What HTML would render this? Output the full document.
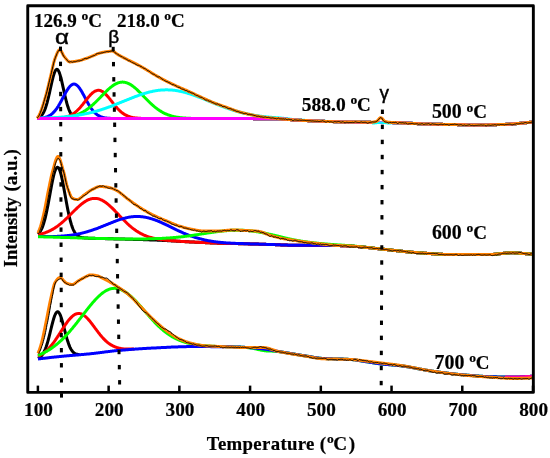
<!DOCTYPE html>
<html lang="en">
<head>
<meta charset="utf-8">
<title>H2-TPR profiles</title>
<style>
html,body{margin:0;padding:0;background:#fff;}
svg{display:block;}
text{font-family:"Liberation Serif","DejaVu Serif",serif;fill:#000;}
.b{font-weight:bold;stroke:#000;stroke-width:0.2px;}
.g{stroke:#000;stroke-width:0.45px;font-weight:normal;font-family:"Liberation Sans","DejaVu Sans",sans-serif;}
</style>
</head>
<body>
<svg width="550" height="458" viewBox="0 0 550 458">
<rect x="0" y="0" width="550" height="458" fill="#fff"/>
<g id="curves">
<path d="M37.0 118.0 L37.5 117.9 L38.0 117.8 L38.5 117.6 L39.0 117.4 L39.5 117.1 L40.0 116.8 L40.5 116.5 L41.0 116.0 L41.5 115.5 L42.0 114.9 L42.5 114.3 L43.0 113.5 L43.5 112.6 L44.0 111.6 L44.5 110.5 L45.0 109.3 L45.5 107.9 L46.0 106.4 L46.5 104.8 L47.0 103.1 L47.5 101.2 L48.0 99.2 L48.5 97.2 L49.0 95.0 L49.5 92.8 L50.0 90.5 L50.5 88.2 L51.0 85.9 L51.5 83.7 L52.0 81.5 L52.5 79.4 L53.0 77.4 L53.5 75.6 L54.0 74.0 L54.5 72.5 L55.0 71.4 L55.5 70.4 L56.0 69.8 L56.5 69.4 L57.0 69.3 L57.5 69.5 L58.0 70.0 L58.5 70.8 L59.0 71.8 L59.5 73.1 L60.0 74.6 L60.5 76.3 L61.0 78.2 L61.5 80.2 L62.0 82.3 L62.5 84.6 L63.0 86.8 L63.5 89.1 L64.0 91.4 L64.5 93.7 L65.0 95.9 L65.5 98.0 L66.0 100.0 L66.5 102.0 L67.0 103.8 L67.5 105.5 L68.0 107.1 L68.5 108.5 L69.0 109.8 L69.5 111.0 L70.0 112.0 L70.5 113.0 L71.0 113.8 L71.5 114.6 L72.0 115.2 L72.5 115.7 L73.0 116.2 L73.5 116.6 L74.0 117.0 L74.5 117.2 L75.0 117.5 L75.5 117.7 L76.0 117.8 L76.5 118.0 L77.0 118.1 L77.5 118.2 L78.0 118.2 L78.5 118.3 L79.0 118.4 L79.5 118.4 L80.0 118.4 L80.5 118.4 L81.0 118.5 L81.5 118.5 L82.0 118.5 L82.5 118.5 L83.0 118.5 L83.5 118.5 L84.0 118.5 L84.5 118.5 L85.0 118.5 L85.5 118.5 L86.0 118.5 L86.5 118.5 L87.0 118.5 L87.5 118.5 L88.0 118.5 L88.5 118.5 L89.0 118.5 L89.5 118.5 L90.0 118.5 L90.5 118.5 L91.0 118.5 L91.5 118.5 L92.0 118.5 L92.5 118.5 L93.0 118.5 L93.5 118.5 L94.0 118.5 L94.5 118.5 L95.0 118.5 L95.5 118.5 L96.0 118.5 L96.5 118.5 L97.0 118.5 L97.5 118.5 L98.0 118.5 L98.5 118.5 L99.0 118.5 L99.5 118.5 L100.0 118.5 L100.5 118.5 L101.0 118.5 L101.5 118.5 L102.0 118.5 L102.5 118.5 L103.0 118.5 L103.5 118.5 L104.0 118.5 L104.5 118.5 L105.0 118.5 L105.5 118.5 L106.0 118.5 L106.5 118.5 L107.0 118.5 L107.5 118.5 L108.0 118.5 L108.5 118.5 L109.0 118.5 L109.5 118.5 L110.0 118.5 L110.5 118.5 L111.0 118.5 L111.5 118.5 L112.0 118.5 L112.5 118.5 L113.0 118.5 L113.5 118.5 L114.0 118.5 L114.5 118.5 L115.0 118.5 L115.5 118.5 L116.0 118.5 L116.5 118.5 L117.0 118.5 L117.5 118.5 L118.0 118.5 L118.5 118.5 L119.0 118.5 L119.5 118.5 L120.0 118.5 L120.5 118.5 L121.0 118.5 L121.5 118.5 L122.0 118.5 L122.5 118.5 L123.0 118.5 L123.5 118.5 L124.0 118.5 L124.5 118.5 L125.0 118.5 L125.5 118.5 L126.0 118.5 L126.5 118.5 L127.0 118.5 L127.5 118.5 L128.0 118.5 L128.5 118.5 L129.0 118.5 L129.5 118.5 L130.0 118.5 L130.5 118.5 L131.0 118.5 L131.5 118.5 L132.0 118.5 L132.5 118.5 L133.0 118.5 L133.5 118.5 L134.0 118.5 L134.5 118.5 L135.0 118.5 L135.5 118.5 L136.0 118.5 L136.5 118.5 L137.0 118.5 L137.5 118.5 L138.0 118.5 L138.5 118.5 L139.0 118.5 L139.5 118.5 L140.0 118.5 L140.5 118.5 L141.0 118.5 L141.5 118.5 L142.0 118.5 L142.5 118.5 L143.0 118.5 L143.5 118.5 L144.0 118.5 L144.5 118.5 L145.0 118.5 L145.5 118.5 L146.0 118.5 L146.5 118.5 L147.0 118.5 L147.5 118.5 L148.0 118.5 L148.5 118.5 L149.0 118.5 L149.5 118.5 L150.0 118.5 L150.5 118.5 L151.0 118.5 L151.5 118.5 L152.0 118.5 L152.5 118.5 L153.0 118.5 L153.5 118.5 L154.0 118.5 L154.5 118.5 L155.0 118.5 L155.5 118.5 L156.0 118.5 L156.5 118.5 L157.0 118.5 L157.5 118.5 L158.0 118.5 L158.5 118.5 L159.0 118.5 L159.5 118.5 L160.0 118.5 L160.5 118.5 L161.0 118.5 L161.5 118.5 L162.0 118.5 L162.5 118.5 L163.0 118.5 L163.5 118.5 L164.0 118.5 L164.5 118.5 L165.0 118.5 L165.5 118.5 L166.0 118.5 L166.5 118.5 L167.0 118.5 L167.5 118.5 L168.0 118.5 L168.5 118.5 L169.0 118.5 L169.5 118.5 L170.0 118.5 L170.5 118.5 L171.0 118.5 L171.5 118.5 L172.0 118.5 L172.5 118.5 L173.0 118.5 L173.5 118.5 L174.0 118.5 L174.5 118.5 L175.0 118.5 L175.5 118.5 L176.0 118.5 L176.5 118.5 L177.0 118.5 L177.5 118.5 L178.0 118.5 L178.5 118.5 L179.0 118.5 L179.5 118.5 L180.0 118.5 L180.5 118.5 L181.0 118.6 L181.5 118.6 L182.0 118.6 L182.5 118.6 L183.0 118.6 L183.5 118.6 L184.0 118.6 L184.5 118.6 L185.0 118.6 L185.5 118.6 L186.0 118.6 L186.5 118.6 L187.0 118.6 L187.5 118.6 L188.0 118.6 L188.5 118.6 L189.0 118.6 L189.5 118.6 L190.0 118.6 L190.5 118.6 L191.0 118.6 L191.5 118.6 L192.0 118.6 L192.5 118.6 L193.0 118.6 L193.5 118.6 L194.0 118.6 L194.5 118.6 L195.0 118.6 L195.5 118.6 L196.0 118.6 L196.5 118.6 L197.0 118.6 L197.5 118.6 L198.0 118.6 L198.5 118.6 L199.0 118.6 L199.5 118.6 L200.0 118.6 L200.5 118.6 L201.0 118.6 L201.5 118.6 L202.0 118.6 L202.5 118.6 L203.0 118.6 L203.5 118.6 L204.0 118.6 L204.5 118.6 L205.0 118.6 L205.5 118.6 L206.0 118.6 L206.5 118.6 L207.0 118.6 L207.5 118.6 L208.0 118.6 L208.5 118.6 L209.0 118.6 L209.5 118.6 L210.0 118.6 L210.5 118.6 L211.0 118.6 L211.5 118.6 L212.0 118.6 L212.5 118.6 L213.0 118.6 L213.5 118.6 L214.0 118.6 L214.5 118.6 L215.0 118.6 L215.5 118.6 L216.0 118.6 L216.5 118.6 L217.0 118.6 L217.5 118.6 L218.0 118.6 L218.5 118.6 L219.0 118.6 L219.5 118.6 L220.0 118.6 L220.5 118.6 L221.0 118.6 L221.5 118.6 L222.0 118.6 L222.5 118.6 L223.0 118.6 L223.5 118.6 L224.0 118.6 L224.5 118.6 L225.0 118.6 L225.5 118.6 L226.0 118.6 L226.5 118.6 L227.0 118.6 L227.5 118.6 L228.0 118.6 L228.5 118.6 L229.0 118.6 L229.5 118.6 L230.0 118.6 L230.5 118.6 L231.0 118.6 L231.5 118.6 L232.0 118.6 L232.5 118.6 L233.0 118.6 L233.5 118.6 L234.0 118.6 L234.5 118.6 L235.0 118.6 L235.5 118.6 L236.0 118.6 L236.5 118.6 L237.0 118.6 L237.5 118.6 L238.0 118.6 L238.5 118.6 L239.0 118.6 L239.5 118.6 L240.0 118.6 L240.5 118.6 L241.0 118.6 L241.5 118.6 L242.0 118.6 L242.5 118.6 L243.0 118.6 L243.5 118.6 L244.0 118.6 L244.5 118.6 L245.0 118.6 L245.5 118.6 L246.0 118.6 L246.5 118.6 L247.0 118.6 L247.5 118.6 L248.0 118.6 L248.5 118.6 L249.0 118.6 L249.5 118.6 L250.0 118.6 L250.5 118.6 L251.0 118.6 L251.5 118.6 L252.0 118.6 L252.5 118.6 L253.0 118.6 L253.5 118.7 L254.0 118.7 L254.5 118.7 L255.0 118.7 L255.5 118.7 L256.0 118.7 L256.5 118.7 L257.0 118.7 L257.5 118.7 L258.0 118.7 L258.5 118.7 L259.0 118.7 L259.5 118.7 L260.0 118.7 L260.5 118.7 L261.0 118.7 L261.5 118.7 L262.0 118.7 L262.5 118.7 L263.0 118.7 L263.5 118.7 L264.0 118.7 L264.5 118.7 L265.0 118.7 L265.5 118.7 L266.0 118.7 L266.5 118.7 L267.0 118.7 L267.5 118.7 L268.0 118.7 L268.5 118.7 L269.0 118.7 L269.5 118.7 L270.0 118.7 L270.5 118.7 L271.0 118.7 L271.5 118.7 L272.0 118.7 L272.5 118.7 L273.0 118.7 L273.5 118.7 L274.0 118.7 L274.5 118.7 L275.0 118.7 L275.5 118.7 L276.0 118.7 L276.5 118.7 L277.0 118.7 L277.5 118.7 L278.0 118.7 L278.5 118.7 L279.0 118.7 L279.5 118.7 L280.0 118.8 L280.5 118.8 L281.0 118.8 L281.5 118.8 L282.0 118.9 L282.5 118.9 L283.0 118.9 L283.5 119.0 L284.0 119.0 L284.5 119.1 L285.0 119.1 L285.5 119.1 L286.0 119.2 L286.5 119.2 L287.0 119.3 L287.5 119.3 L288.0 119.4 L288.5 119.4 L289.0 119.5 L289.5 119.5 L290.0 119.6 L290.5 119.6 L291.0 119.7 L291.5 119.7 L292.0 119.7 L292.5 119.8 L293.0 119.8 L293.5 119.9 L294.0 119.9 L294.5 119.9 L295.0 120.0 L295.5 120.0 L296.0 120.0 L296.5 120.1 L297.0 120.1 L297.5 120.1 L298.0 120.1 L298.5 120.2 L299.0 120.2 L299.5 120.2 L300.0 120.3 L300.5 120.3 L301.0 120.3 L301.5 120.3 L302.0 120.4 L302.5 120.4 L303.0 120.4 L303.5 120.4 L304.0 120.5 L304.5 120.5 L305.0 120.5 L305.5 120.5 L306.0 120.6 L306.5 120.6 L307.0 120.6 L307.5 120.6 L308.0 120.7 L308.5 120.7 L309.0 120.7 L309.5 120.7 L310.0 120.7 L310.5 120.8 L311.0 120.8 L311.5 120.8 L312.0 120.8 L312.5 120.9 L313.0 120.9 L313.5 120.9 L314.0 120.9 L314.5 120.9 L315.0 121.0 L315.5 121.0 L316.0 121.0 L316.5 121.0 L317.0 121.0 L317.5 121.1 L318.0 121.1 L318.5 121.1 L319.0 121.1 L319.5 121.1 L320.0 121.2 L320.5 121.2 L321.0 121.2 L321.5 121.2 L322.0 121.2 L322.5 121.3 L323.0 121.3 L323.5 121.3 L324.0 121.3 L324.5 121.3 L325.0 121.4 L325.5 121.4 L326.0 121.4 L326.5 121.4 L327.0 121.4 L327.5 121.4 L328.0 121.5 L328.5 121.5 L329.0 121.5 L329.5 121.5 L330.0 121.5 L330.5 121.5 L331.0 121.6 L331.5 121.6 L332.0 121.6 L332.5 121.6 L333.0 121.6 L333.5 121.6 L334.0 121.7 L334.5 121.7 L335.0 121.7 L335.5 121.7 L336.0 121.7 L336.5 121.7 L337.0 121.8 L337.5 121.8 L338.0 121.8 L338.5 121.8 L339.0 121.8 L339.5 121.8 L340.0 121.8 L340.5 121.9 L341.0 121.9 L341.5 121.9 L342.0 121.9 L342.5 121.9 L343.0 121.9 L343.5 121.9 L344.0 121.9 L344.5 122.0 L345.0 122.0 L345.5 122.0 L346.0 122.0 L346.5 122.0 L347.0 122.0 L347.5 122.0 L348.0 122.0 L348.5 122.0 L349.0 122.1 L349.5 122.1 L350.0 122.1 L350.5 122.1 L351.0 122.1 L351.5 122.1 L352.0 122.1 L352.5 122.1 L353.0 122.1 L353.5 122.1 L354.0 122.1 L354.5 122.1 L355.0 122.2 L355.5 122.2 L356.0 122.2 L356.5 122.2 L357.0 122.2 L357.5 122.2 L358.0 122.2 L358.5 122.2 L359.0 122.2 L359.5 122.2 L360.0 122.2 L360.5 122.2 L361.0 122.2 L361.5 122.2 L362.0 122.3 L362.5 122.3 L363.0 122.3 L363.5 122.3 L364.0 122.3 L364.5 122.3 L365.0 122.3 L365.5 122.3 L366.0 122.3 L366.5 122.3 L367.0 122.3 L367.5 122.3 L368.0 122.3 L368.5 122.3 L369.0 122.3 L369.5 122.3 L370.0 122.3 L370.5 122.3 L371.0 122.4 L371.5 122.4 L372.0 122.4 L372.5 122.4 L373.0 122.4 L373.5 122.4 L374.0 122.4 L374.5 122.4 L375.0 122.4 L375.5 122.4 L376.0 122.4 L376.5 122.4 L377.0 122.4 L377.5 122.4 L378.0 122.4 L378.5 122.4 L379.0 122.4 L379.5 122.5 L380.0 122.5 L380.5 122.5 L381.0 122.5 L381.5 122.5 L382.0 122.5 L382.5 122.5 L383.0 122.5 L383.5 122.5 L384.0 122.5 L384.5 122.5 L385.0 122.5 L385.5 122.5 L386.0 122.5 L386.5 122.5 L387.0 122.6 L387.5 122.6 L388.0 122.6 L388.5 122.6 L389.0 122.6 L389.5 122.6 L390.0 122.6 L390.5 122.6 L391.0 122.6 L391.5 122.6 L392.0 122.6 L392.5 122.6 L393.0 122.7 L393.5 122.7 L394.0 122.7 L394.5 122.7 L395.0 122.7 L395.5 122.7 L396.0 122.7 L396.5 122.7 L397.0 122.7 L397.5 122.7 L398.0 122.8 L398.5 122.8 L399.0 122.8 L399.5 122.8 L400.0 122.8 L400.5 122.8 L401.0 122.8 L401.5 122.8 L402.0 122.9 L402.5 122.9 L403.0 122.9 L403.5 122.9 L404.0 122.9 L404.5 123.0 L405.0 123.0 L405.5 123.0 L406.0 123.0 L406.5 123.0 L407.0 123.1 L407.5 123.1 L408.0 123.1 L408.5 123.1 L409.0 123.2 L409.5 123.2 L410.0 123.2 L410.5 123.3 L411.0 123.3 L411.5 123.3 L412.0 123.3 L412.5 123.4 L413.0 123.4 L413.5 123.4 L414.0 123.5 L414.5 123.5 L415.0 123.5 L415.5 123.5 L416.0 123.6 L416.5 123.6 L417.0 123.6 L417.5 123.7 L418.0 123.7 L418.5 123.7 L419.0 123.7 L419.5 123.8 L420.0 123.8 L420.5 123.8 L421.0 123.8 L421.5 123.9 L422.0 123.9 L422.5 123.9 L423.0 123.9 L423.5 123.9 L424.0 124.0 L424.5 124.0 L425.0 124.0 L425.5 124.0 L426.0 124.0 L426.5 124.0 L427.0 124.0 L427.5 124.1 L428.0 124.1 L428.5 124.1 L429.0 124.1 L429.5 124.1 L430.0 124.1 L430.5 124.1 L431.0 124.1 L431.5 124.1 L432.0 124.2 L432.5 124.2 L433.0 124.2 L433.5 124.2 L434.0 124.2 L434.5 124.2 L435.0 124.2 L435.5 124.2 L436.0 124.2 L436.5 124.2 L437.0 124.3 L437.5 124.3 L438.0 124.3 L438.5 124.3 L439.0 124.3 L439.5 124.3 L440.0 124.3 L440.5 124.3 L441.0 124.3 L441.5 124.3 L442.0 124.3 L442.5 124.3 L443.0 124.4 L443.5 124.4 L444.0 124.4 L444.5 124.4 L445.0 124.4 L445.5 124.4 L446.0 124.4 L446.5 124.4 L447.0 124.4 L447.5 124.4 L448.0 124.4 L448.5 124.5 L449.0 124.5 L449.5 124.5 L450.0 124.5 L450.5 124.5 L451.0 124.5 L451.5 124.5 L452.0 124.5 L452.5 124.5 L453.0 124.5 L453.5 124.6 L454.0 124.6 L454.5 124.6 L455.0 124.6 L455.5 124.6 L456.0 124.6 L456.5 124.6 L457.0 124.6 L457.5 124.7 L458.0 124.7 L458.5 124.7 L459.0 124.7 L459.5 124.7 L460.0 124.7 L460.5 124.7 L461.0 124.7 L461.5 124.8 L462.0 124.8 L462.5 124.8 L463.0 124.8 L463.5 124.8 L464.0 124.8 L464.5 124.8 L465.0 124.8 L465.5 124.9 L466.0 124.9 L466.5 124.9 L467.0 124.9 L467.5 124.9 L468.0 124.9 L468.5 124.9 L469.0 124.9 L469.5 124.9 L470.0 124.9 L470.5 125.0 L471.0 125.0 L471.5 125.0 L472.0 125.0 L472.5 125.0 L473.0 125.0 L473.5 125.0 L474.0 125.0 L474.5 125.0 L475.0 125.0 L475.5 125.0 L476.0 125.0 L476.5 125.0 L477.0 125.0 L477.5 125.0 L478.0 125.0 L478.5 125.0 L479.0 125.0 L479.5 125.0 L480.0 125.0 L480.5 125.0 L481.0 125.0 L481.5 125.0 L482.0 125.0 L482.5 125.0 L483.0 125.0 L483.5 124.9 L484.0 124.9 L484.5 124.9 L485.0 124.9 L485.5 124.9 L486.0 124.9 L486.5 124.9 L487.0 124.9 L487.5 124.9 L488.0 124.9 L488.5 124.9 L489.0 124.9 L489.5 124.8 L490.0 124.8 L490.5 124.8 L491.0 124.8 L491.5 124.8 L492.0 124.8 L492.5 124.8 L493.0 124.8 L493.5 124.7 L494.0 124.7 L494.5 124.7 L495.0 124.7 L495.5 124.7 L496.0 124.7 L496.5 124.7 L497.0 124.6 L497.5 124.6 L498.0 124.6 L498.5 124.6 L499.0 124.6 L499.5 124.6 L500.0 124.6 L500.5 124.5 L501.0 124.5 L501.5 124.5 L502.0 124.5 L502.5 124.5 L503.0 124.5 L503.5 124.4 L504.0 124.4 L504.5 124.4 L505.0 124.4 L505.5 124.4 L506.0 124.3 L506.5 124.3 L507.0 124.3 L507.5 124.3 L508.0 124.2 L508.5 124.2 L509.0 124.2 L509.5 124.1 L510.0 124.1 L510.5 124.1 L511.0 124.0 L511.5 124.0 L512.0 124.0 L512.5 123.9 L513.0 123.9 L513.5 123.9 L514.0 123.8 L514.5 123.8 L515.0 123.7 L515.5 123.7 L516.0 123.7 L516.5 123.6 L517.0 123.6 L517.5 123.5 L518.0 123.5 L518.5 123.5 L519.0 123.4 L519.5 123.4 L520.0 123.3 L520.5 123.3 L521.0 123.2 L521.5 123.2 L522.0 123.1 L522.5 123.1 L523.0 123.0 L523.5 123.0 L524.0 122.9 L524.5 122.9 L525.0 122.8 L525.5 122.8 L526.0 122.7 L526.5 122.7 L527.0 122.6 L527.5 122.6 L528.0 122.5 L528.5 122.4 L529.0 122.4 L529.5 122.3 L530.0 122.3 L530.5 122.2 L531.0 122.2 L531.5 122.1 L532.0 122.0 L532.4 122.0" stroke="#000000" stroke-width="3.0" fill="none" stroke-linejoin="round" stroke-linecap="butt" />
<path d="M37.0 118.4 L37.5 118.4 L38.0 118.3 L38.5 118.3 L39.0 118.3 L39.5 118.2 L40.0 118.2 L40.5 118.2 L41.0 118.1 L41.5 118.1 L42.0 118.0 L42.5 117.9 L43.0 117.9 L43.5 117.8 L44.0 117.7 L44.5 117.6 L45.0 117.4 L45.5 117.3 L46.0 117.2 L46.5 117.0 L47.0 116.8 L47.5 116.6 L48.0 116.4 L48.5 116.2 L49.0 115.9 L49.5 115.6 L50.0 115.3 L50.5 115.0 L51.0 114.6 L51.5 114.3 L52.0 113.8 L52.5 113.4 L53.0 112.9 L53.5 112.4 L54.0 111.9 L54.5 111.4 L55.0 110.8 L55.5 110.1 L56.0 109.5 L56.5 108.8 L57.0 108.1 L57.5 107.3 L58.0 106.6 L58.5 105.8 L59.0 104.9 L59.5 104.1 L60.0 103.2 L60.5 102.3 L61.0 101.4 L61.5 100.5 L62.0 99.5 L62.5 98.6 L63.0 97.6 L63.5 96.7 L64.0 95.7 L64.5 94.8 L65.0 93.9 L65.5 93.0 L66.0 92.1 L66.5 91.2 L67.0 90.4 L67.5 89.6 L68.0 88.9 L68.5 88.1 L69.0 87.5 L69.5 86.9 L70.0 86.3 L70.5 85.8 L71.0 85.4 L71.5 85.0 L72.0 84.7 L72.5 84.4 L73.0 84.2 L73.5 84.1 L74.0 84.1 L74.5 84.1 L75.0 84.2 L75.5 84.4 L76.0 84.7 L76.5 85.0 L77.0 85.4 L77.5 85.8 L78.0 86.3 L78.5 86.9 L79.0 87.5 L79.5 88.1 L80.0 88.9 L80.5 89.6 L81.0 90.4 L81.5 91.2 L82.0 92.1 L82.5 93.0 L83.0 93.9 L83.5 94.8 L84.0 95.7 L84.5 96.7 L85.0 97.6 L85.5 98.6 L86.0 99.5 L86.5 100.5 L87.0 101.4 L87.5 102.3 L88.0 103.2 L88.5 104.1 L89.0 104.9 L89.5 105.8 L90.0 106.6 L90.5 107.3 L91.0 108.1 L91.5 108.8 L92.0 109.5 L92.5 110.1 L93.0 110.8 L93.5 111.4 L94.0 111.9 L94.5 112.4 L95.0 112.9 L95.5 113.4 L96.0 113.8 L96.5 114.3 L97.0 114.6 L97.5 115.0 L98.0 115.3 L98.5 115.6 L99.0 115.9 L99.5 116.2 L100.0 116.4 L100.5 116.6 L101.0 116.8 L101.5 117.0 L102.0 117.2 L102.5 117.3 L103.0 117.4 L103.5 117.6 L104.0 117.7 L104.5 117.8 L105.0 117.9 L105.5 117.9 L106.0 118.0 L106.5 118.1 L107.0 118.1 L107.5 118.2 L108.0 118.2 L108.5 118.3 L109.0 118.3 L109.5 118.3 L110.0 118.3 L110.5 118.4 L111.0 118.4 L111.5 118.4 L112.0 118.4 L112.5 118.4 L113.0 118.4 L113.5 118.5 L114.0 118.5 L114.5 118.5 L115.0 118.5 L115.5 118.5 L116.0 118.5 L116.5 118.5 L117.0 118.5 L117.5 118.5 L118.0 118.5 L118.5 118.5 L119.0 118.5 L119.5 118.5 L120.0 118.5 L120.5 118.5 L121.0 118.5 L121.5 118.5 L122.0 118.5 L122.5 118.5 L123.0 118.5 L123.5 118.5 L124.0 118.5 L124.5 118.5 L125.0 118.5 L125.5 118.5 L126.0 118.5 L126.5 118.5 L127.0 118.5 L127.5 118.5 L128.0 118.5 L128.5 118.5 L129.0 118.5 L129.5 118.5 L130.0 118.5 L130.5 118.5 L131.0 118.5 L131.5 118.5 L132.0 118.5 L132.5 118.5 L133.0 118.5 L133.5 118.5 L134.0 118.5 L134.5 118.5 L135.0 118.5 L135.5 118.5 L136.0 118.5 L136.5 118.5 L137.0 118.5 L137.5 118.5 L138.0 118.5 L138.5 118.5 L139.0 118.5 L139.5 118.5 L140.0 118.5 L140.5 118.5 L141.0 118.5 L141.5 118.5 L142.0 118.5 L142.5 118.5 L143.0 118.5 L143.5 118.5 L144.0 118.5 L144.5 118.5 L145.0 118.5 L145.5 118.5 L146.0 118.5 L146.5 118.5 L147.0 118.5 L147.5 118.5 L148.0 118.5 L148.5 118.5 L149.0 118.5 L149.5 118.5 L150.0 118.5 L150.5 118.5 L151.0 118.5 L151.5 118.5 L152.0 118.5 L152.5 118.5 L153.0 118.5 L153.5 118.5 L154.0 118.5 L154.5 118.5 L155.0 118.5 L155.5 118.5 L156.0 118.5 L156.5 118.5 L157.0 118.5 L157.5 118.5 L158.0 118.5 L158.5 118.5 L159.0 118.5 L159.5 118.5 L160.0 118.5 L160.5 118.5 L161.0 118.5 L161.5 118.5 L162.0 118.5 L162.5 118.5 L163.0 118.5 L163.5 118.5 L164.0 118.5 L164.5 118.5 L165.0 118.5 L165.5 118.5 L166.0 118.5 L166.5 118.5 L167.0 118.5 L167.5 118.5 L168.0 118.5 L168.5 118.5 L169.0 118.5 L169.5 118.5 L170.0 118.5 L170.5 118.5 L171.0 118.5 L171.5 118.5 L172.0 118.5 L172.5 118.5 L173.0 118.5 L173.5 118.5 L174.0 118.5 L174.5 118.5 L175.0 118.5 L175.5 118.5 L176.0 118.5 L176.5 118.5 L177.0 118.5 L177.5 118.5 L178.0 118.5 L178.5 118.5 L179.0 118.5 L179.5 118.5 L180.0 118.5 L180.5 118.5 L181.0 118.6 L181.5 118.6 L182.0 118.6 L182.5 118.6 L183.0 118.6 L183.5 118.6 L184.0 118.6 L184.5 118.6 L185.0 118.6 L185.5 118.6 L186.0 118.6 L186.5 118.6 L187.0 118.6 L187.5 118.6 L188.0 118.6 L188.5 118.6 L189.0 118.6 L189.5 118.6 L190.0 118.6 L190.5 118.6 L191.0 118.6 L191.5 118.6 L192.0 118.6 L192.5 118.6 L193.0 118.6 L193.5 118.6 L194.0 118.6 L194.5 118.6 L195.0 118.6 L195.5 118.6 L196.0 118.6 L196.5 118.6 L197.0 118.6 L197.5 118.6 L198.0 118.6 L198.5 118.6 L199.0 118.6 L199.5 118.6 L200.0 118.6 L200.5 118.6 L201.0 118.6 L201.5 118.6 L202.0 118.6 L202.5 118.6 L203.0 118.6 L203.5 118.6 L204.0 118.6 L204.5 118.6 L205.0 118.6 L205.5 118.6 L206.0 118.6 L206.5 118.6 L207.0 118.6 L207.5 118.6 L208.0 118.6 L208.5 118.6 L209.0 118.6 L209.5 118.6 L210.0 118.6 L210.5 118.6 L211.0 118.6 L211.5 118.6 L212.0 118.6 L212.5 118.6 L213.0 118.6 L213.5 118.6 L214.0 118.6 L214.5 118.6 L215.0 118.6 L215.5 118.6 L216.0 118.6 L216.5 118.6 L217.0 118.6 L217.5 118.6 L218.0 118.6 L218.5 118.6 L219.0 118.6 L219.5 118.6 L220.0 118.6 L220.5 118.6 L221.0 118.6 L221.5 118.6 L222.0 118.6 L222.5 118.6 L223.0 118.6 L223.5 118.6 L224.0 118.6 L224.5 118.6 L225.0 118.6 L225.5 118.6 L226.0 118.6 L226.5 118.6 L227.0 118.6 L227.5 118.6 L228.0 118.6 L228.5 118.6 L229.0 118.6 L229.5 118.6 L230.0 118.6 L230.5 118.6 L231.0 118.6 L231.5 118.6 L232.0 118.6 L232.5 118.6 L233.0 118.6 L233.5 118.6 L234.0 118.6 L234.5 118.6 L235.0 118.6 L235.5 118.6 L236.0 118.6 L236.5 118.6 L237.0 118.6 L237.5 118.6 L238.0 118.6 L238.5 118.6 L239.0 118.6 L239.5 118.6 L240.0 118.6 L240.5 118.6 L241.0 118.6 L241.5 118.6 L242.0 118.6 L242.5 118.6 L243.0 118.6 L243.5 118.6 L244.0 118.6 L244.5 118.6 L245.0 118.6 L245.5 118.6 L246.0 118.6 L246.5 118.6 L247.0 118.6 L247.5 118.6 L248.0 118.6 L248.5 118.6 L249.0 118.6 L249.5 118.6 L250.0 118.6 L250.5 118.6 L251.0 118.6 L251.5 118.6 L252.0 118.6 L252.5 118.6 L253.0 118.6 L253.5 118.7 L254.0 118.7 L254.5 118.7 L255.0 118.7 L255.5 118.7 L256.0 118.7 L256.5 118.7 L257.0 118.7 L257.5 118.7 L258.0 118.7 L258.5 118.7 L259.0 118.7 L259.5 118.7 L260.0 118.7 L260.5 118.7 L261.0 118.7 L261.5 118.7 L262.0 118.7 L262.5 118.7 L263.0 118.7 L263.5 118.7 L264.0 118.7 L264.5 118.7 L265.0 118.7 L265.5 118.7 L266.0 118.7 L266.5 118.7 L267.0 118.7 L267.5 118.7 L268.0 118.7 L268.5 118.7 L269.0 118.7 L269.5 118.7 L270.0 118.7 L270.5 118.7 L271.0 118.7 L271.5 118.7 L272.0 118.7 L272.5 118.7 L273.0 118.7 L273.5 118.7 L274.0 118.7 L274.5 118.7 L275.0 118.7 L275.5 118.7 L276.0 118.7 L276.5 118.7 L277.0 118.7 L277.5 118.7 L278.0 118.7 L278.5 118.7 L279.0 118.7 L279.5 118.7 L280.0 118.8 L280.5 118.8 L281.0 118.8 L281.5 118.8 L282.0 118.9 L282.5 118.9 L283.0 118.9 L283.5 119.0 L284.0 119.0 L284.5 119.1 L285.0 119.1 L285.5 119.1 L286.0 119.2 L286.5 119.2 L287.0 119.3 L287.5 119.3 L288.0 119.4 L288.5 119.4 L289.0 119.5 L289.5 119.5 L290.0 119.6 L290.5 119.6 L291.0 119.7 L291.5 119.7 L292.0 119.7 L292.5 119.8 L293.0 119.8 L293.5 119.9 L294.0 119.9 L294.5 119.9 L295.0 120.0 L295.5 120.0 L296.0 120.0 L296.5 120.1 L297.0 120.1 L297.5 120.1 L298.0 120.1 L298.5 120.2 L299.0 120.2 L299.5 120.2 L300.0 120.3 L300.5 120.3 L301.0 120.3 L301.5 120.3 L302.0 120.4 L302.5 120.4 L303.0 120.4 L303.5 120.4 L304.0 120.5 L304.5 120.5 L305.0 120.5 L305.5 120.5 L306.0 120.6 L306.5 120.6 L307.0 120.6 L307.5 120.6 L308.0 120.7 L308.5 120.7 L309.0 120.7 L309.5 120.7 L310.0 120.7 L310.5 120.8 L311.0 120.8 L311.5 120.8 L312.0 120.8 L312.5 120.9 L313.0 120.9 L313.5 120.9 L314.0 120.9 L314.5 120.9 L315.0 121.0 L315.5 121.0 L316.0 121.0 L316.5 121.0 L317.0 121.0 L317.5 121.1 L318.0 121.1 L318.5 121.1 L319.0 121.1 L319.5 121.1 L320.0 121.2 L320.5 121.2 L321.0 121.2 L321.5 121.2 L322.0 121.2 L322.5 121.3 L323.0 121.3 L323.5 121.3 L324.0 121.3 L324.5 121.3 L325.0 121.4 L325.5 121.4 L326.0 121.4 L326.5 121.4 L327.0 121.4 L327.5 121.4 L328.0 121.5 L328.5 121.5 L329.0 121.5 L329.5 121.5 L330.0 121.5 L330.5 121.5 L331.0 121.6 L331.5 121.6 L332.0 121.6 L332.5 121.6 L333.0 121.6 L333.5 121.6 L334.0 121.7 L334.5 121.7 L335.0 121.7 L335.5 121.7 L336.0 121.7 L336.5 121.7 L337.0 121.8 L337.5 121.8 L338.0 121.8 L338.5 121.8 L339.0 121.8 L339.5 121.8 L340.0 121.8 L340.5 121.9 L341.0 121.9 L341.5 121.9 L342.0 121.9 L342.5 121.9 L343.0 121.9 L343.5 121.9 L344.0 121.9 L344.5 122.0 L345.0 122.0 L345.5 122.0 L346.0 122.0 L346.5 122.0 L347.0 122.0 L347.5 122.0 L348.0 122.0 L348.5 122.0 L349.0 122.1 L349.5 122.1 L350.0 122.1 L350.5 122.1 L351.0 122.1 L351.5 122.1 L352.0 122.1 L352.5 122.1 L353.0 122.1 L353.5 122.1 L354.0 122.1 L354.5 122.1 L355.0 122.2 L355.5 122.2 L356.0 122.2 L356.5 122.2 L357.0 122.2 L357.5 122.2 L358.0 122.2 L358.5 122.2 L359.0 122.2 L359.5 122.2 L360.0 122.2 L360.5 122.2 L361.0 122.2 L361.5 122.2 L362.0 122.3 L362.5 122.3 L363.0 122.3 L363.5 122.3 L364.0 122.3 L364.5 122.3 L365.0 122.3 L365.5 122.3 L366.0 122.3 L366.5 122.3 L367.0 122.3 L367.5 122.3 L368.0 122.3 L368.5 122.3 L369.0 122.3 L369.5 122.3 L370.0 122.3 L370.5 122.3 L371.0 122.4 L371.5 122.4 L372.0 122.4 L372.5 122.4 L373.0 122.4 L373.5 122.4 L374.0 122.4 L374.5 122.4 L375.0 122.4 L375.5 122.4 L376.0 122.4 L376.5 122.4 L377.0 122.4 L377.5 122.4 L378.0 122.4 L378.5 122.4 L379.0 122.4 L379.5 122.5 L380.0 122.5 L380.5 122.5 L381.0 122.5 L381.5 122.5 L382.0 122.5 L382.5 122.5 L383.0 122.5 L383.5 122.5 L384.0 122.5 L384.5 122.5 L385.0 122.5 L385.5 122.5 L386.0 122.5 L386.5 122.5 L387.0 122.6 L387.5 122.6 L388.0 122.6 L388.5 122.6 L389.0 122.6 L389.5 122.6 L390.0 122.6 L390.5 122.6 L391.0 122.6 L391.5 122.6 L392.0 122.6 L392.5 122.6 L393.0 122.7 L393.5 122.7 L394.0 122.7 L394.5 122.7 L395.0 122.7 L395.5 122.7 L396.0 122.7 L396.5 122.7 L397.0 122.7 L397.5 122.7 L398.0 122.8 L398.5 122.8 L399.0 122.8 L399.5 122.8 L400.0 122.8 L400.5 122.8 L401.0 122.8 L401.5 122.8 L402.0 122.9 L402.5 122.9 L403.0 122.9 L403.5 122.9 L404.0 122.9 L404.5 123.0 L405.0 123.0 L405.5 123.0 L406.0 123.0 L406.5 123.0 L407.0 123.1 L407.5 123.1 L408.0 123.1 L408.5 123.1 L409.0 123.2 L409.5 123.2 L410.0 123.2 L410.5 123.3 L411.0 123.3 L411.5 123.3 L412.0 123.3 L412.5 123.4 L413.0 123.4 L413.5 123.4 L414.0 123.5 L414.5 123.5 L415.0 123.5 L415.5 123.5 L416.0 123.6 L416.5 123.6 L417.0 123.6 L417.5 123.7 L418.0 123.7 L418.5 123.7 L419.0 123.7 L419.5 123.8 L420.0 123.8 L420.5 123.8 L421.0 123.8 L421.5 123.9 L422.0 123.9 L422.5 123.9 L423.0 123.9 L423.5 123.9 L424.0 124.0 L424.5 124.0 L425.0 124.0 L425.5 124.0 L426.0 124.0 L426.5 124.0 L427.0 124.0 L427.5 124.1 L428.0 124.1 L428.5 124.1 L429.0 124.1 L429.5 124.1 L430.0 124.1 L430.5 124.1 L431.0 124.1 L431.5 124.1 L432.0 124.2 L432.5 124.2 L433.0 124.2 L433.5 124.2 L434.0 124.2 L434.5 124.2 L435.0 124.2 L435.5 124.2 L436.0 124.2 L436.5 124.2 L437.0 124.3 L437.5 124.3 L438.0 124.3 L438.5 124.3 L439.0 124.3 L439.5 124.3 L440.0 124.3 L440.5 124.3 L441.0 124.3 L441.5 124.3 L442.0 124.3 L442.5 124.3 L443.0 124.4 L443.5 124.4 L444.0 124.4 L444.5 124.4 L445.0 124.4 L445.5 124.4 L446.0 124.4 L446.5 124.4 L447.0 124.4 L447.5 124.4 L448.0 124.4 L448.5 124.5 L449.0 124.5 L449.5 124.5 L450.0 124.5 L450.5 124.5 L451.0 124.5 L451.5 124.5 L452.0 124.5 L452.5 124.5 L453.0 124.5 L453.5 124.6 L454.0 124.6 L454.5 124.6 L455.0 124.6 L455.5 124.6 L456.0 124.6 L456.5 124.6 L457.0 124.6 L457.5 124.7 L458.0 124.7 L458.5 124.7 L459.0 124.7 L459.5 124.7 L460.0 124.7 L460.5 124.7 L461.0 124.7 L461.5 124.8 L462.0 124.8 L462.5 124.8 L463.0 124.8 L463.5 124.8 L464.0 124.8 L464.5 124.8 L465.0 124.8 L465.5 124.9 L466.0 124.9 L466.5 124.9 L467.0 124.9 L467.5 124.9 L468.0 124.9 L468.5 124.9 L469.0 124.9 L469.5 124.9 L470.0 124.9 L470.5 125.0 L471.0 125.0 L471.5 125.0 L472.0 125.0 L472.5 125.0 L473.0 125.0 L473.5 125.0 L474.0 125.0 L474.5 125.0 L475.0 125.0 L475.5 125.0 L476.0 125.0 L476.5 125.0 L477.0 125.0 L477.5 125.0 L478.0 125.0 L478.5 125.0 L479.0 125.0 L479.5 125.0 L480.0 125.0 L480.5 125.0 L481.0 125.0 L481.5 125.0 L482.0 125.0 L482.5 125.0 L483.0 125.0 L483.5 124.9 L484.0 124.9 L484.5 124.9 L485.0 124.9 L485.5 124.9 L486.0 124.9 L486.5 124.9 L487.0 124.9 L487.5 124.9 L488.0 124.9 L488.5 124.9 L489.0 124.9 L489.5 124.8 L490.0 124.8 L490.5 124.8 L491.0 124.8 L491.5 124.8 L492.0 124.8 L492.5 124.8 L493.0 124.8 L493.5 124.7 L494.0 124.7 L494.5 124.7 L495.0 124.7 L495.5 124.7 L496.0 124.7 L496.5 124.7 L497.0 124.6 L497.5 124.6 L498.0 124.6 L498.5 124.6 L499.0 124.6 L499.5 124.6 L500.0 124.6 L500.5 124.5 L501.0 124.5 L501.5 124.5 L502.0 124.5 L502.5 124.5 L503.0 124.5 L503.5 124.4 L504.0 124.4 L504.5 124.4 L505.0 124.4 L505.5 124.4 L506.0 124.3 L506.5 124.3 L507.0 124.3 L507.5 124.3 L508.0 124.2 L508.5 124.2 L509.0 124.2 L509.5 124.1 L510.0 124.1 L510.5 124.1 L511.0 124.0 L511.5 124.0 L512.0 124.0 L512.5 123.9 L513.0 123.9 L513.5 123.9 L514.0 123.8 L514.5 123.8 L515.0 123.7 L515.5 123.7 L516.0 123.7 L516.5 123.6 L517.0 123.6 L517.5 123.5 L518.0 123.5 L518.5 123.5 L519.0 123.4 L519.5 123.4 L520.0 123.3 L520.5 123.3 L521.0 123.2 L521.5 123.2 L522.0 123.1 L522.5 123.1 L523.0 123.0 L523.5 123.0 L524.0 122.9 L524.5 122.9 L525.0 122.8 L525.5 122.8 L526.0 122.7 L526.5 122.7 L527.0 122.6 L527.5 122.6 L528.0 122.5 L528.5 122.4 L529.0 122.4 L529.5 122.3 L530.0 122.3 L530.5 122.2 L531.0 122.2 L531.5 122.1 L532.0 122.0 L532.4 122.0" stroke="#0000ff" stroke-width="3.0" fill="none" stroke-linejoin="round" stroke-linecap="butt" />
<path d="M37.0 118.5 L37.5 118.5 L38.0 118.5 L38.5 118.5 L39.0 118.5 L39.5 118.5 L40.0 118.5 L40.5 118.5 L41.0 118.5 L41.5 118.5 L42.0 118.5 L42.5 118.5 L43.0 118.5 L43.5 118.5 L44.0 118.5 L44.5 118.5 L45.0 118.5 L45.5 118.5 L46.0 118.5 L46.5 118.5 L47.0 118.5 L47.5 118.5 L48.0 118.5 L48.5 118.5 L49.0 118.5 L49.5 118.5 L50.0 118.5 L50.5 118.5 L51.0 118.5 L51.5 118.4 L52.0 118.4 L52.5 118.4 L53.0 118.4 L53.5 118.4 L54.0 118.4 L54.5 118.4 L55.0 118.4 L55.5 118.3 L56.0 118.3 L56.5 118.3 L57.0 118.3 L57.5 118.3 L58.0 118.2 L58.5 118.2 L59.0 118.2 L59.5 118.1 L60.0 118.1 L60.5 118.0 L61.0 118.0 L61.5 117.9 L62.0 117.8 L62.5 117.8 L63.0 117.7 L63.5 117.6 L64.0 117.5 L64.5 117.4 L65.0 117.3 L65.5 117.2 L66.0 117.1 L66.5 116.9 L67.0 116.8 L67.5 116.6 L68.0 116.4 L68.5 116.2 L69.0 116.1 L69.5 115.8 L70.0 115.6 L70.5 115.4 L71.0 115.1 L71.5 114.9 L72.0 114.6 L72.5 114.3 L73.0 113.9 L73.5 113.6 L74.0 113.3 L74.5 112.9 L75.0 112.5 L75.5 112.1 L76.0 111.7 L76.5 111.2 L77.0 110.8 L77.5 110.3 L78.0 109.8 L78.5 109.3 L79.0 108.8 L79.5 108.2 L80.0 107.7 L80.5 107.1 L81.0 106.5 L81.5 105.9 L82.0 105.3 L82.5 104.7 L83.0 104.1 L83.5 103.4 L84.0 102.8 L84.5 102.2 L85.0 101.5 L85.5 100.9 L86.0 100.2 L86.5 99.6 L87.0 99.0 L87.5 98.3 L88.0 97.7 L88.5 97.1 L89.0 96.5 L89.5 96.0 L90.0 95.4 L90.5 94.9 L91.0 94.3 L91.5 93.9 L92.0 93.4 L92.5 92.9 L93.0 92.5 L93.5 92.2 L94.0 91.8 L94.5 91.5 L95.0 91.2 L95.5 91.0 L96.0 90.8 L96.5 90.6 L97.0 90.5 L97.5 90.4 L98.0 90.3 L98.5 90.3 L99.0 90.3 L99.5 90.4 L100.0 90.5 L100.5 90.7 L101.0 90.8 L101.5 91.1 L102.0 91.3 L102.5 91.6 L103.0 91.9 L103.5 92.3 L104.0 92.7 L104.5 93.1 L105.0 93.6 L105.5 94.1 L106.0 94.6 L106.5 95.1 L107.0 95.6 L107.5 96.2 L108.0 96.8 L108.5 97.4 L109.0 98.0 L109.5 98.6 L110.0 99.2 L110.5 99.9 L111.0 100.5 L111.5 101.1 L112.0 101.8 L112.5 102.4 L113.0 103.1 L113.5 103.7 L114.0 104.3 L114.5 105.0 L115.0 105.6 L115.5 106.2 L116.0 106.8 L116.5 107.3 L117.0 107.9 L117.5 108.5 L118.0 109.0 L118.5 109.5 L119.0 110.0 L119.5 110.5 L120.0 111.0 L120.5 111.4 L121.0 111.9 L121.5 112.3 L122.0 112.7 L122.5 113.1 L123.0 113.4 L123.5 113.8 L124.0 114.1 L124.5 114.4 L125.0 114.7 L125.5 115.0 L126.0 115.2 L126.5 115.5 L127.0 115.7 L127.5 115.9 L128.0 116.1 L128.5 116.3 L129.0 116.5 L129.5 116.7 L130.0 116.8 L130.5 117.0 L131.0 117.1 L131.5 117.2 L132.0 117.4 L132.5 117.5 L133.0 117.6 L133.5 117.7 L134.0 117.7 L134.5 117.8 L135.0 117.9 L135.5 117.9 L136.0 118.0 L136.5 118.1 L137.0 118.1 L137.5 118.1 L138.0 118.2 L138.5 118.2 L139.0 118.3 L139.5 118.3 L140.0 118.3 L140.5 118.3 L141.0 118.4 L141.5 118.4 L142.0 118.4 L142.5 118.4 L143.0 118.4 L143.5 118.4 L144.0 118.4 L144.5 118.5 L145.0 118.5 L145.5 118.5 L146.0 118.5 L146.5 118.5 L147.0 118.5 L147.5 118.5 L148.0 118.5 L148.5 118.5 L149.0 118.5 L149.5 118.5 L150.0 118.5 L150.5 118.5 L151.0 118.5 L151.5 118.5 L152.0 118.5 L152.5 118.5 L153.0 118.5 L153.5 118.5 L154.0 118.5 L154.5 118.5 L155.0 118.5 L155.5 118.5 L156.0 118.5 L156.5 118.5 L157.0 118.5 L157.5 118.5 L158.0 118.5 L158.5 118.5 L159.0 118.5 L159.5 118.5 L160.0 118.5 L160.5 118.5 L161.0 118.5 L161.5 118.5 L162.0 118.5 L162.5 118.5 L163.0 118.5 L163.5 118.5 L164.0 118.5 L164.5 118.5 L165.0 118.5 L165.5 118.5 L166.0 118.5 L166.5 118.5 L167.0 118.5 L167.5 118.5 L168.0 118.5 L168.5 118.5 L169.0 118.5 L169.5 118.5 L170.0 118.5 L170.5 118.5 L171.0 118.5 L171.5 118.5 L172.0 118.5 L172.5 118.5 L173.0 118.5 L173.5 118.5 L174.0 118.5 L174.5 118.5 L175.0 118.5 L175.5 118.5 L176.0 118.5 L176.5 118.5 L177.0 118.5 L177.5 118.5 L178.0 118.5 L178.5 118.5 L179.0 118.5 L179.5 118.5 L180.0 118.5 L180.5 118.5 L181.0 118.6 L181.5 118.6 L182.0 118.6 L182.5 118.6 L183.0 118.6 L183.5 118.6 L184.0 118.6 L184.5 118.6 L185.0 118.6 L185.5 118.6 L186.0 118.6 L186.5 118.6 L187.0 118.6 L187.5 118.6 L188.0 118.6 L188.5 118.6 L189.0 118.6 L189.5 118.6 L190.0 118.6 L190.5 118.6 L191.0 118.6 L191.5 118.6 L192.0 118.6 L192.5 118.6 L193.0 118.6 L193.5 118.6 L194.0 118.6 L194.5 118.6 L195.0 118.6 L195.5 118.6 L196.0 118.6 L196.5 118.6 L197.0 118.6 L197.5 118.6 L198.0 118.6 L198.5 118.6 L199.0 118.6 L199.5 118.6 L200.0 118.6 L200.5 118.6 L201.0 118.6 L201.5 118.6 L202.0 118.6 L202.5 118.6 L203.0 118.6 L203.5 118.6 L204.0 118.6 L204.5 118.6 L205.0 118.6 L205.5 118.6 L206.0 118.6 L206.5 118.6 L207.0 118.6 L207.5 118.6 L208.0 118.6 L208.5 118.6 L209.0 118.6 L209.5 118.6 L210.0 118.6 L210.5 118.6 L211.0 118.6 L211.5 118.6 L212.0 118.6 L212.5 118.6 L213.0 118.6 L213.5 118.6 L214.0 118.6 L214.5 118.6 L215.0 118.6 L215.5 118.6 L216.0 118.6 L216.5 118.6 L217.0 118.6 L217.5 118.6 L218.0 118.6 L218.5 118.6 L219.0 118.6 L219.5 118.6 L220.0 118.6 L220.5 118.6 L221.0 118.6 L221.5 118.6 L222.0 118.6 L222.5 118.6 L223.0 118.6 L223.5 118.6 L224.0 118.6 L224.5 118.6 L225.0 118.6 L225.5 118.6 L226.0 118.6 L226.5 118.6 L227.0 118.6 L227.5 118.6 L228.0 118.6 L228.5 118.6 L229.0 118.6 L229.5 118.6 L230.0 118.6 L230.5 118.6 L231.0 118.6 L231.5 118.6 L232.0 118.6 L232.5 118.6 L233.0 118.6 L233.5 118.6 L234.0 118.6 L234.5 118.6 L235.0 118.6 L235.5 118.6 L236.0 118.6 L236.5 118.6 L237.0 118.6 L237.5 118.6 L238.0 118.6 L238.5 118.6 L239.0 118.6 L239.5 118.6 L240.0 118.6 L240.5 118.6 L241.0 118.6 L241.5 118.6 L242.0 118.6 L242.5 118.6 L243.0 118.6 L243.5 118.6 L244.0 118.6 L244.5 118.6 L245.0 118.6 L245.5 118.6 L246.0 118.6 L246.5 118.6 L247.0 118.6 L247.5 118.6 L248.0 118.6 L248.5 118.6 L249.0 118.6 L249.5 118.6 L250.0 118.6 L250.5 118.6 L251.0 118.6 L251.5 118.6 L252.0 118.6 L252.5 118.6 L253.0 118.6 L253.5 118.7 L254.0 118.7 L254.5 118.7 L255.0 118.7 L255.5 118.7 L256.0 118.7 L256.5 118.7 L257.0 118.7 L257.5 118.7 L258.0 118.7 L258.5 118.7 L259.0 118.7 L259.5 118.7 L260.0 118.7 L260.5 118.7 L261.0 118.7 L261.5 118.7 L262.0 118.7 L262.5 118.7 L263.0 118.7 L263.5 118.7 L264.0 118.7 L264.5 118.7 L265.0 118.7 L265.5 118.7 L266.0 118.7 L266.5 118.7 L267.0 118.7 L267.5 118.7 L268.0 118.7 L268.5 118.7 L269.0 118.7 L269.5 118.7 L270.0 118.7 L270.5 118.7 L271.0 118.7 L271.5 118.7 L272.0 118.7 L272.5 118.7 L273.0 118.7 L273.5 118.7 L274.0 118.7 L274.5 118.7 L275.0 118.7 L275.5 118.7 L276.0 118.7 L276.5 118.7 L277.0 118.7 L277.5 118.7 L278.0 118.7 L278.5 118.7 L279.0 118.7 L279.5 118.7 L280.0 118.8 L280.5 118.8 L281.0 118.8 L281.5 118.8 L282.0 118.9 L282.5 118.9 L283.0 118.9 L283.5 119.0 L284.0 119.0 L284.5 119.1 L285.0 119.1 L285.5 119.1 L286.0 119.2 L286.5 119.2 L287.0 119.3 L287.5 119.3 L288.0 119.4 L288.5 119.4 L289.0 119.5 L289.5 119.5 L290.0 119.6 L290.5 119.6 L291.0 119.7 L291.5 119.7 L292.0 119.7 L292.5 119.8 L293.0 119.8 L293.5 119.9 L294.0 119.9 L294.5 119.9 L295.0 120.0 L295.5 120.0 L296.0 120.0 L296.5 120.1 L297.0 120.1 L297.5 120.1 L298.0 120.1 L298.5 120.2 L299.0 120.2 L299.5 120.2 L300.0 120.3 L300.5 120.3 L301.0 120.3 L301.5 120.3 L302.0 120.4 L302.5 120.4 L303.0 120.4 L303.5 120.4 L304.0 120.5 L304.5 120.5 L305.0 120.5 L305.5 120.5 L306.0 120.6 L306.5 120.6 L307.0 120.6 L307.5 120.6 L308.0 120.7 L308.5 120.7 L309.0 120.7 L309.5 120.7 L310.0 120.7 L310.5 120.8 L311.0 120.8 L311.5 120.8 L312.0 120.8 L312.5 120.9 L313.0 120.9 L313.5 120.9 L314.0 120.9 L314.5 120.9 L315.0 121.0 L315.5 121.0 L316.0 121.0 L316.5 121.0 L317.0 121.0 L317.5 121.1 L318.0 121.1 L318.5 121.1 L319.0 121.1 L319.5 121.1 L320.0 121.2 L320.5 121.2 L321.0 121.2 L321.5 121.2 L322.0 121.2 L322.5 121.3 L323.0 121.3 L323.5 121.3 L324.0 121.3 L324.5 121.3 L325.0 121.4 L325.5 121.4 L326.0 121.4 L326.5 121.4 L327.0 121.4 L327.5 121.4 L328.0 121.5 L328.5 121.5 L329.0 121.5 L329.5 121.5 L330.0 121.5 L330.5 121.5 L331.0 121.6 L331.5 121.6 L332.0 121.6 L332.5 121.6 L333.0 121.6 L333.5 121.6 L334.0 121.7 L334.5 121.7 L335.0 121.7 L335.5 121.7 L336.0 121.7 L336.5 121.7 L337.0 121.8 L337.5 121.8 L338.0 121.8 L338.5 121.8 L339.0 121.8 L339.5 121.8 L340.0 121.8 L340.5 121.9 L341.0 121.9 L341.5 121.9 L342.0 121.9 L342.5 121.9 L343.0 121.9 L343.5 121.9 L344.0 121.9 L344.5 122.0 L345.0 122.0 L345.5 122.0 L346.0 122.0 L346.5 122.0 L347.0 122.0 L347.5 122.0 L348.0 122.0 L348.5 122.0 L349.0 122.1 L349.5 122.1 L350.0 122.1 L350.5 122.1 L351.0 122.1 L351.5 122.1 L352.0 122.1 L352.5 122.1 L353.0 122.1 L353.5 122.1 L354.0 122.1 L354.5 122.1 L355.0 122.2 L355.5 122.2 L356.0 122.2 L356.5 122.2 L357.0 122.2 L357.5 122.2 L358.0 122.2 L358.5 122.2 L359.0 122.2 L359.5 122.2 L360.0 122.2 L360.5 122.2 L361.0 122.2 L361.5 122.2 L362.0 122.3 L362.5 122.3 L363.0 122.3 L363.5 122.3 L364.0 122.3 L364.5 122.3 L365.0 122.3 L365.5 122.3 L366.0 122.3 L366.5 122.3 L367.0 122.3 L367.5 122.3 L368.0 122.3 L368.5 122.3 L369.0 122.3 L369.5 122.3 L370.0 122.3 L370.5 122.3 L371.0 122.4 L371.5 122.4 L372.0 122.4 L372.5 122.4 L373.0 122.4 L373.5 122.4 L374.0 122.4 L374.5 122.4 L375.0 122.4 L375.5 122.4 L376.0 122.4 L376.5 122.4 L377.0 122.4 L377.5 122.4 L378.0 122.4 L378.5 122.4 L379.0 122.4 L379.5 122.5 L380.0 122.5 L380.5 122.5 L381.0 122.5 L381.5 122.5 L382.0 122.5 L382.5 122.5 L383.0 122.5 L383.5 122.5 L384.0 122.5 L384.5 122.5 L385.0 122.5 L385.5 122.5 L386.0 122.5 L386.5 122.5 L387.0 122.6 L387.5 122.6 L388.0 122.6 L388.5 122.6 L389.0 122.6 L389.5 122.6 L390.0 122.6 L390.5 122.6 L391.0 122.6 L391.5 122.6 L392.0 122.6 L392.5 122.6 L393.0 122.7 L393.5 122.7 L394.0 122.7 L394.5 122.7 L395.0 122.7 L395.5 122.7 L396.0 122.7 L396.5 122.7 L397.0 122.7 L397.5 122.7 L398.0 122.8 L398.5 122.8 L399.0 122.8 L399.5 122.8 L400.0 122.8 L400.5 122.8 L401.0 122.8 L401.5 122.8 L402.0 122.9 L402.5 122.9 L403.0 122.9 L403.5 122.9 L404.0 122.9 L404.5 123.0 L405.0 123.0 L405.5 123.0 L406.0 123.0 L406.5 123.0 L407.0 123.1 L407.5 123.1 L408.0 123.1 L408.5 123.1 L409.0 123.2 L409.5 123.2 L410.0 123.2 L410.5 123.3 L411.0 123.3 L411.5 123.3 L412.0 123.3 L412.5 123.4 L413.0 123.4 L413.5 123.4 L414.0 123.5 L414.5 123.5 L415.0 123.5 L415.5 123.5 L416.0 123.6 L416.5 123.6 L417.0 123.6 L417.5 123.7 L418.0 123.7 L418.5 123.7 L419.0 123.7 L419.5 123.8 L420.0 123.8 L420.5 123.8 L421.0 123.8 L421.5 123.9 L422.0 123.9 L422.5 123.9 L423.0 123.9 L423.5 123.9 L424.0 124.0 L424.5 124.0 L425.0 124.0 L425.5 124.0 L426.0 124.0 L426.5 124.0 L427.0 124.0 L427.5 124.1 L428.0 124.1 L428.5 124.1 L429.0 124.1 L429.5 124.1 L430.0 124.1 L430.5 124.1 L431.0 124.1 L431.5 124.1 L432.0 124.2 L432.5 124.2 L433.0 124.2 L433.5 124.2 L434.0 124.2 L434.5 124.2 L435.0 124.2 L435.5 124.2 L436.0 124.2 L436.5 124.2 L437.0 124.3 L437.5 124.3 L438.0 124.3 L438.5 124.3 L439.0 124.3 L439.5 124.3 L440.0 124.3 L440.5 124.3 L441.0 124.3 L441.5 124.3 L442.0 124.3 L442.5 124.3 L443.0 124.4 L443.5 124.4 L444.0 124.4 L444.5 124.4 L445.0 124.4 L445.5 124.4 L446.0 124.4 L446.5 124.4 L447.0 124.4 L447.5 124.4 L448.0 124.4 L448.5 124.5 L449.0 124.5 L449.5 124.5 L450.0 124.5 L450.5 124.5 L451.0 124.5 L451.5 124.5 L452.0 124.5 L452.5 124.5 L453.0 124.5 L453.5 124.6 L454.0 124.6 L454.5 124.6 L455.0 124.6 L455.5 124.6 L456.0 124.6 L456.5 124.6 L457.0 124.6 L457.5 124.7 L458.0 124.7 L458.5 124.7 L459.0 124.7 L459.5 124.7 L460.0 124.7 L460.5 124.7 L461.0 124.7 L461.5 124.8 L462.0 124.8 L462.5 124.8 L463.0 124.8 L463.5 124.8 L464.0 124.8 L464.5 124.8 L465.0 124.8 L465.5 124.9 L466.0 124.9 L466.5 124.9 L467.0 124.9 L467.5 124.9 L468.0 124.9 L468.5 124.9 L469.0 124.9 L469.5 124.9 L470.0 124.9 L470.5 125.0 L471.0 125.0 L471.5 125.0 L472.0 125.0 L472.5 125.0 L473.0 125.0 L473.5 125.0 L474.0 125.0 L474.5 125.0 L475.0 125.0 L475.5 125.0 L476.0 125.0 L476.5 125.0 L477.0 125.0 L477.5 125.0 L478.0 125.0 L478.5 125.0 L479.0 125.0 L479.5 125.0 L480.0 125.0 L480.5 125.0 L481.0 125.0 L481.5 125.0 L482.0 125.0 L482.5 125.0 L483.0 125.0 L483.5 124.9 L484.0 124.9 L484.5 124.9 L485.0 124.9 L485.5 124.9 L486.0 124.9 L486.5 124.9 L487.0 124.9 L487.5 124.9 L488.0 124.9 L488.5 124.9 L489.0 124.9 L489.5 124.8 L490.0 124.8 L490.5 124.8 L491.0 124.8 L491.5 124.8 L492.0 124.8 L492.5 124.8 L493.0 124.8 L493.5 124.7 L494.0 124.7 L494.5 124.7 L495.0 124.7 L495.5 124.7 L496.0 124.7 L496.5 124.7 L497.0 124.6 L497.5 124.6 L498.0 124.6 L498.5 124.6 L499.0 124.6 L499.5 124.6 L500.0 124.6 L500.5 124.5 L501.0 124.5 L501.5 124.5 L502.0 124.5 L502.5 124.5 L503.0 124.5 L503.5 124.4 L504.0 124.4 L504.5 124.4 L505.0 124.4 L505.5 124.4 L506.0 124.3 L506.5 124.3 L507.0 124.3 L507.5 124.3 L508.0 124.2 L508.5 124.2 L509.0 124.2 L509.5 124.1 L510.0 124.1 L510.5 124.1 L511.0 124.0 L511.5 124.0 L512.0 124.0 L512.5 123.9 L513.0 123.9 L513.5 123.9 L514.0 123.8 L514.5 123.8 L515.0 123.7 L515.5 123.7 L516.0 123.7 L516.5 123.6 L517.0 123.6 L517.5 123.5 L518.0 123.5 L518.5 123.5 L519.0 123.4 L519.5 123.4 L520.0 123.3 L520.5 123.3 L521.0 123.2 L521.5 123.2 L522.0 123.1 L522.5 123.1 L523.0 123.0 L523.5 123.0 L524.0 122.9 L524.5 122.9 L525.0 122.8 L525.5 122.8 L526.0 122.7 L526.5 122.7 L527.0 122.6 L527.5 122.6 L528.0 122.5 L528.5 122.4 L529.0 122.4 L529.5 122.3 L530.0 122.3 L530.5 122.2 L531.0 122.2 L531.5 122.1 L532.0 122.0 L532.4 122.0" stroke="#ff0000" stroke-width="3.0" fill="none" stroke-linejoin="round" stroke-linecap="butt" />
<path d="M37.0 118.5 L37.5 118.5 L38.0 118.5 L38.5 118.5 L39.0 118.5 L39.5 118.5 L40.0 118.5 L40.5 118.5 L41.0 118.5 L41.5 118.5 L42.0 118.5 L42.5 118.5 L43.0 118.5 L43.5 118.5 L44.0 118.5 L44.5 118.5 L45.0 118.5 L45.5 118.4 L46.0 118.4 L46.5 118.4 L47.0 118.4 L47.5 118.4 L48.0 118.4 L48.5 118.4 L49.0 118.4 L49.5 118.4 L50.0 118.4 L50.5 118.4 L51.0 118.4 L51.5 118.4 L52.0 118.3 L52.5 118.3 L53.0 118.3 L53.5 118.3 L54.0 118.3 L54.5 118.3 L55.0 118.3 L55.5 118.2 L56.0 118.2 L56.5 118.2 L57.0 118.2 L57.5 118.2 L58.0 118.1 L58.5 118.1 L59.0 118.1 L59.5 118.0 L60.0 118.0 L60.5 118.0 L61.0 117.9 L61.5 117.9 L62.0 117.9 L62.5 117.8 L63.0 117.8 L63.5 117.7 L64.0 117.7 L64.5 117.6 L65.0 117.5 L65.5 117.5 L66.0 117.4 L66.5 117.4 L67.0 117.3 L67.5 117.2 L68.0 117.1 L68.5 117.0 L69.0 116.9 L69.5 116.9 L70.0 116.8 L70.5 116.7 L71.0 116.5 L71.5 116.4 L72.0 116.3 L72.5 116.2 L73.0 116.1 L73.5 115.9 L74.0 115.8 L74.5 115.6 L75.0 115.5 L75.5 115.3 L76.0 115.1 L76.5 115.0 L77.0 114.8 L77.5 114.6 L78.0 114.4 L78.5 114.2 L79.0 114.0 L79.5 113.8 L80.0 113.5 L80.5 113.3 L81.0 113.0 L81.5 112.8 L82.0 112.5 L82.5 112.3 L83.0 112.0 L83.5 111.7 L84.0 111.4 L84.5 111.1 L85.0 110.8 L85.5 110.5 L86.0 110.1 L86.5 109.8 L87.0 109.4 L87.5 109.1 L88.0 108.7 L88.5 108.3 L89.0 107.9 L89.5 107.5 L90.0 107.1 L90.5 106.7 L91.0 106.3 L91.5 105.9 L92.0 105.4 L92.5 105.0 L93.0 104.6 L93.5 104.1 L94.0 103.6 L94.5 103.2 L95.0 102.7 L95.5 102.2 L96.0 101.7 L96.5 101.2 L97.0 100.7 L97.5 100.2 L98.0 99.7 L98.5 99.2 L99.0 98.7 L99.5 98.2 L100.0 97.7 L100.5 97.2 L101.0 96.6 L101.5 96.1 L102.0 95.6 L102.5 95.1 L103.0 94.6 L103.5 94.1 L104.0 93.5 L104.5 93.0 L105.0 92.5 L105.5 92.0 L106.0 91.5 L106.5 91.1 L107.0 90.6 L107.5 90.1 L108.0 89.6 L108.5 89.2 L109.0 88.7 L109.5 88.3 L110.0 87.9 L110.5 87.5 L111.0 87.0 L111.5 86.7 L112.0 86.3 L112.5 85.9 L113.0 85.6 L113.5 85.2 L114.0 84.9 L114.5 84.6 L115.0 84.3 L115.5 84.0 L116.0 83.8 L116.5 83.5 L117.0 83.3 L117.5 83.1 L118.0 82.9 L118.5 82.7 L119.0 82.6 L119.5 82.5 L120.0 82.4 L120.5 82.3 L121.0 82.2 L121.5 82.2 L122.0 82.1 L122.5 82.1 L123.0 82.1 L123.5 82.2 L124.0 82.2 L124.5 82.3 L125.0 82.4 L125.5 82.5 L126.0 82.6 L126.5 82.8 L127.0 82.9 L127.5 83.1 L128.0 83.3 L128.5 83.5 L129.0 83.8 L129.5 84.0 L130.0 84.3 L130.5 84.6 L131.0 84.9 L131.5 85.2 L132.0 85.6 L132.5 85.9 L133.0 86.3 L133.5 86.7 L134.0 87.1 L134.5 87.5 L135.0 87.9 L135.5 88.3 L136.0 88.7 L136.5 89.2 L137.0 89.6 L137.5 90.1 L138.0 90.6 L138.5 91.1 L139.0 91.6 L139.5 92.0 L140.0 92.5 L140.5 93.1 L141.0 93.6 L141.5 94.1 L142.0 94.6 L142.5 95.1 L143.0 95.6 L143.5 96.1 L144.0 96.7 L144.5 97.2 L145.0 97.7 L145.5 98.2 L146.0 98.7 L146.5 99.2 L147.0 99.7 L147.5 100.2 L148.0 100.7 L148.5 101.2 L149.0 101.7 L149.5 102.2 L150.0 102.7 L150.5 103.2 L151.0 103.7 L151.5 104.1 L152.0 104.6 L152.5 105.0 L153.0 105.5 L153.5 105.9 L154.0 106.3 L154.5 106.8 L155.0 107.2 L155.5 107.6 L156.0 108.0 L156.5 108.3 L157.0 108.7 L157.5 109.1 L158.0 109.5 L158.5 109.8 L159.0 110.1 L159.5 110.5 L160.0 110.8 L160.5 111.1 L161.0 111.4 L161.5 111.7 L162.0 112.0 L162.5 112.3 L163.0 112.6 L163.5 112.8 L164.0 113.1 L164.5 113.3 L165.0 113.6 L165.5 113.8 L166.0 114.0 L166.5 114.2 L167.0 114.4 L167.5 114.6 L168.0 114.8 L168.5 115.0 L169.0 115.2 L169.5 115.4 L170.0 115.5 L170.5 115.7 L171.0 115.8 L171.5 116.0 L172.0 116.1 L172.5 116.2 L173.0 116.4 L173.5 116.5 L174.0 116.6 L174.5 116.7 L175.0 116.8 L175.5 116.9 L176.0 117.0 L176.5 117.1 L177.0 117.2 L177.5 117.2 L178.0 117.3 L178.5 117.4 L179.0 117.5 L179.5 117.5 L180.0 117.6 L180.5 117.7 L181.0 117.7 L181.5 117.8 L182.0 117.8 L182.5 117.9 L183.0 117.9 L183.5 117.9 L184.0 118.0 L184.5 118.0 L185.0 118.1 L185.5 118.1 L186.0 118.1 L186.5 118.2 L187.0 118.2 L187.5 118.2 L188.0 118.2 L188.5 118.3 L189.0 118.3 L189.5 118.3 L190.0 118.3 L190.5 118.3 L191.0 118.4 L191.5 118.4 L192.0 118.4 L192.5 118.4 L193.0 118.4 L193.5 118.4 L194.0 118.4 L194.5 118.4 L195.0 118.5 L195.5 118.5 L196.0 118.5 L196.5 118.5 L197.0 118.5 L197.5 118.5 L198.0 118.5 L198.5 118.5 L199.0 118.5 L199.5 118.5 L200.0 118.5 L200.5 118.5 L201.0 118.5 L201.5 118.5 L202.0 118.5 L202.5 118.5 L203.0 118.5 L203.5 118.5 L204.0 118.6 L204.5 118.6 L205.0 118.6 L205.5 118.6 L206.0 118.6 L206.5 118.6 L207.0 118.6 L207.5 118.6 L208.0 118.6 L208.5 118.6 L209.0 118.6 L209.5 118.6 L210.0 118.6 L210.5 118.6 L211.0 118.6 L211.5 118.6 L212.0 118.6 L212.5 118.6 L213.0 118.6 L213.5 118.6 L214.0 118.6 L214.5 118.6 L215.0 118.6 L215.5 118.6 L216.0 118.6 L216.5 118.6 L217.0 118.6 L217.5 118.6 L218.0 118.6 L218.5 118.6 L219.0 118.6 L219.5 118.6 L220.0 118.6 L220.5 118.6 L221.0 118.6 L221.5 118.6 L222.0 118.6 L222.5 118.6 L223.0 118.6 L223.5 118.6 L224.0 118.6 L224.5 118.6 L225.0 118.6 L225.5 118.6 L226.0 118.6 L226.5 118.6 L227.0 118.6 L227.5 118.6 L228.0 118.6 L228.5 118.6 L229.0 118.6 L229.5 118.6 L230.0 118.6 L230.5 118.6 L231.0 118.6 L231.5 118.6 L232.0 118.6 L232.5 118.6 L233.0 118.6 L233.5 118.6 L234.0 118.6 L234.5 118.6 L235.0 118.6 L235.5 118.6 L236.0 118.6 L236.5 118.6 L237.0 118.6 L237.5 118.6 L238.0 118.6 L238.5 118.6 L239.0 118.6 L239.5 118.6 L240.0 118.6 L240.5 118.6 L241.0 118.6 L241.5 118.6 L242.0 118.6 L242.5 118.6 L243.0 118.6 L243.5 118.6 L244.0 118.6 L244.5 118.6 L245.0 118.6 L245.5 118.6 L246.0 118.6 L246.5 118.6 L247.0 118.6 L247.5 118.6 L248.0 118.6 L248.5 118.6 L249.0 118.6 L249.5 118.6 L250.0 118.6 L250.5 118.6 L251.0 118.6 L251.5 118.6 L252.0 118.6 L252.5 118.6 L253.0 118.6 L253.5 118.7 L254.0 118.7 L254.5 118.7 L255.0 118.7 L255.5 118.7 L256.0 118.7 L256.5 118.7 L257.0 118.7 L257.5 118.7 L258.0 118.7 L258.5 118.7 L259.0 118.7 L259.5 118.7 L260.0 118.7 L260.5 118.7 L261.0 118.7 L261.5 118.7 L262.0 118.7 L262.5 118.7 L263.0 118.7 L263.5 118.7 L264.0 118.7 L264.5 118.7 L265.0 118.7 L265.5 118.7 L266.0 118.7 L266.5 118.7 L267.0 118.7 L267.5 118.7 L268.0 118.7 L268.5 118.7 L269.0 118.7 L269.5 118.7 L270.0 118.7 L270.5 118.7 L271.0 118.7 L271.5 118.7 L272.0 118.7 L272.5 118.7 L273.0 118.7 L273.5 118.7 L274.0 118.7 L274.5 118.7 L275.0 118.7 L275.5 118.7 L276.0 118.7 L276.5 118.7 L277.0 118.7 L277.5 118.7 L278.0 118.7 L278.5 118.7 L279.0 118.7 L279.5 118.7 L280.0 118.8 L280.5 118.8 L281.0 118.8 L281.5 118.8 L282.0 118.9 L282.5 118.9 L283.0 118.9 L283.5 119.0 L284.0 119.0 L284.5 119.1 L285.0 119.1 L285.5 119.1 L286.0 119.2 L286.5 119.2 L287.0 119.3 L287.5 119.3 L288.0 119.4 L288.5 119.4 L289.0 119.5 L289.5 119.5 L290.0 119.6 L290.5 119.6 L291.0 119.7 L291.5 119.7 L292.0 119.7 L292.5 119.8 L293.0 119.8 L293.5 119.9 L294.0 119.9 L294.5 119.9 L295.0 120.0 L295.5 120.0 L296.0 120.0 L296.5 120.1 L297.0 120.1 L297.5 120.1 L298.0 120.1 L298.5 120.2 L299.0 120.2 L299.5 120.2 L300.0 120.3 L300.5 120.3 L301.0 120.3 L301.5 120.3 L302.0 120.4 L302.5 120.4 L303.0 120.4 L303.5 120.4 L304.0 120.5 L304.5 120.5 L305.0 120.5 L305.5 120.5 L306.0 120.6 L306.5 120.6 L307.0 120.6 L307.5 120.6 L308.0 120.7 L308.5 120.7 L309.0 120.7 L309.5 120.7 L310.0 120.7 L310.5 120.8 L311.0 120.8 L311.5 120.8 L312.0 120.8 L312.5 120.9 L313.0 120.9 L313.5 120.9 L314.0 120.9 L314.5 120.9 L315.0 121.0 L315.5 121.0 L316.0 121.0 L316.5 121.0 L317.0 121.0 L317.5 121.1 L318.0 121.1 L318.5 121.1 L319.0 121.1 L319.5 121.1 L320.0 121.2 L320.5 121.2 L321.0 121.2 L321.5 121.2 L322.0 121.2 L322.5 121.3 L323.0 121.3 L323.5 121.3 L324.0 121.3 L324.5 121.3 L325.0 121.4 L325.5 121.4 L326.0 121.4 L326.5 121.4 L327.0 121.4 L327.5 121.4 L328.0 121.5 L328.5 121.5 L329.0 121.5 L329.5 121.5 L330.0 121.5 L330.5 121.5 L331.0 121.6 L331.5 121.6 L332.0 121.6 L332.5 121.6 L333.0 121.6 L333.5 121.6 L334.0 121.7 L334.5 121.7 L335.0 121.7 L335.5 121.7 L336.0 121.7 L336.5 121.7 L337.0 121.8 L337.5 121.8 L338.0 121.8 L338.5 121.8 L339.0 121.8 L339.5 121.8 L340.0 121.8 L340.5 121.9 L341.0 121.9 L341.5 121.9 L342.0 121.9 L342.5 121.9 L343.0 121.9 L343.5 121.9 L344.0 121.9 L344.5 122.0 L345.0 122.0 L345.5 122.0 L346.0 122.0 L346.5 122.0 L347.0 122.0 L347.5 122.0 L348.0 122.0 L348.5 122.0 L349.0 122.1 L349.5 122.1 L350.0 122.1 L350.5 122.1 L351.0 122.1 L351.5 122.1 L352.0 122.1 L352.5 122.1 L353.0 122.1 L353.5 122.1 L354.0 122.1 L354.5 122.1 L355.0 122.2 L355.5 122.2 L356.0 122.2 L356.5 122.2 L357.0 122.2 L357.5 122.2 L358.0 122.2 L358.5 122.2 L359.0 122.2 L359.5 122.2 L360.0 122.2 L360.5 122.2 L361.0 122.2 L361.5 122.2 L362.0 122.3 L362.5 122.3 L363.0 122.3 L363.5 122.3 L364.0 122.3 L364.5 122.3 L365.0 122.3 L365.5 122.3 L366.0 122.3 L366.5 122.3 L367.0 122.3 L367.5 122.3 L368.0 122.3 L368.5 122.3 L369.0 122.3 L369.5 122.3 L370.0 122.3 L370.5 122.3 L371.0 122.4 L371.5 122.4 L372.0 122.4 L372.5 122.4 L373.0 122.4 L373.5 122.4 L374.0 122.4 L374.5 122.4 L375.0 122.4 L375.5 122.4 L376.0 122.4 L376.5 122.4 L377.0 122.4 L377.5 122.4 L378.0 122.4 L378.5 122.4 L379.0 122.4 L379.5 122.5 L380.0 122.5 L380.5 122.5 L381.0 122.5 L381.5 122.5 L382.0 122.5 L382.5 122.5 L383.0 122.5 L383.5 122.5 L384.0 122.5 L384.5 122.5 L385.0 122.5 L385.5 122.5 L386.0 122.5 L386.5 122.5 L387.0 122.6 L387.5 122.6 L388.0 122.6 L388.5 122.6 L389.0 122.6 L389.5 122.6 L390.0 122.6 L390.5 122.6 L391.0 122.6 L391.5 122.6 L392.0 122.6 L392.5 122.6 L393.0 122.7 L393.5 122.7 L394.0 122.7 L394.5 122.7 L395.0 122.7 L395.5 122.7 L396.0 122.7 L396.5 122.7 L397.0 122.7 L397.5 122.7 L398.0 122.8 L398.5 122.8 L399.0 122.8 L399.5 122.8 L400.0 122.8 L400.5 122.8 L401.0 122.8 L401.5 122.8 L402.0 122.9 L402.5 122.9 L403.0 122.9 L403.5 122.9 L404.0 122.9 L404.5 123.0 L405.0 123.0 L405.5 123.0 L406.0 123.0 L406.5 123.0 L407.0 123.1 L407.5 123.1 L408.0 123.1 L408.5 123.1 L409.0 123.2 L409.5 123.2 L410.0 123.2 L410.5 123.3 L411.0 123.3 L411.5 123.3 L412.0 123.3 L412.5 123.4 L413.0 123.4 L413.5 123.4 L414.0 123.5 L414.5 123.5 L415.0 123.5 L415.5 123.5 L416.0 123.6 L416.5 123.6 L417.0 123.6 L417.5 123.7 L418.0 123.7 L418.5 123.7 L419.0 123.7 L419.5 123.8 L420.0 123.8 L420.5 123.8 L421.0 123.8 L421.5 123.9 L422.0 123.9 L422.5 123.9 L423.0 123.9 L423.5 123.9 L424.0 124.0 L424.5 124.0 L425.0 124.0 L425.5 124.0 L426.0 124.0 L426.5 124.0 L427.0 124.0 L427.5 124.1 L428.0 124.1 L428.5 124.1 L429.0 124.1 L429.5 124.1 L430.0 124.1 L430.5 124.1 L431.0 124.1 L431.5 124.1 L432.0 124.2 L432.5 124.2 L433.0 124.2 L433.5 124.2 L434.0 124.2 L434.5 124.2 L435.0 124.2 L435.5 124.2 L436.0 124.2 L436.5 124.2 L437.0 124.3 L437.5 124.3 L438.0 124.3 L438.5 124.3 L439.0 124.3 L439.5 124.3 L440.0 124.3 L440.5 124.3 L441.0 124.3 L441.5 124.3 L442.0 124.3 L442.5 124.3 L443.0 124.4 L443.5 124.4 L444.0 124.4 L444.5 124.4 L445.0 124.4 L445.5 124.4 L446.0 124.4 L446.5 124.4 L447.0 124.4 L447.5 124.4 L448.0 124.4 L448.5 124.5 L449.0 124.5 L449.5 124.5 L450.0 124.5 L450.5 124.5 L451.0 124.5 L451.5 124.5 L452.0 124.5 L452.5 124.5 L453.0 124.5 L453.5 124.6 L454.0 124.6 L454.5 124.6 L455.0 124.6 L455.5 124.6 L456.0 124.6 L456.5 124.6 L457.0 124.6 L457.5 124.7 L458.0 124.7 L458.5 124.7 L459.0 124.7 L459.5 124.7 L460.0 124.7 L460.5 124.7 L461.0 124.7 L461.5 124.8 L462.0 124.8 L462.5 124.8 L463.0 124.8 L463.5 124.8 L464.0 124.8 L464.5 124.8 L465.0 124.8 L465.5 124.9 L466.0 124.9 L466.5 124.9 L467.0 124.9 L467.5 124.9 L468.0 124.9 L468.5 124.9 L469.0 124.9 L469.5 124.9 L470.0 124.9 L470.5 125.0 L471.0 125.0 L471.5 125.0 L472.0 125.0 L472.5 125.0 L473.0 125.0 L473.5 125.0 L474.0 125.0 L474.5 125.0 L475.0 125.0 L475.5 125.0 L476.0 125.0 L476.5 125.0 L477.0 125.0 L477.5 125.0 L478.0 125.0 L478.5 125.0 L479.0 125.0 L479.5 125.0 L480.0 125.0 L480.5 125.0 L481.0 125.0 L481.5 125.0 L482.0 125.0 L482.5 125.0 L483.0 125.0 L483.5 124.9 L484.0 124.9 L484.5 124.9 L485.0 124.9 L485.5 124.9 L486.0 124.9 L486.5 124.9 L487.0 124.9 L487.5 124.9 L488.0 124.9 L488.5 124.9 L489.0 124.9 L489.5 124.8 L490.0 124.8 L490.5 124.8 L491.0 124.8 L491.5 124.8 L492.0 124.8 L492.5 124.8 L493.0 124.8 L493.5 124.7 L494.0 124.7 L494.5 124.7 L495.0 124.7 L495.5 124.7 L496.0 124.7 L496.5 124.7 L497.0 124.6 L497.5 124.6 L498.0 124.6 L498.5 124.6 L499.0 124.6 L499.5 124.6 L500.0 124.6 L500.5 124.5 L501.0 124.5 L501.5 124.5 L502.0 124.5 L502.5 124.5 L503.0 124.5 L503.5 124.4 L504.0 124.4 L504.5 124.4 L505.0 124.4 L505.5 124.4 L506.0 124.3 L506.5 124.3 L507.0 124.3 L507.5 124.3 L508.0 124.2 L508.5 124.2 L509.0 124.2 L509.5 124.1 L510.0 124.1 L510.5 124.1 L511.0 124.0 L511.5 124.0 L512.0 124.0 L512.5 123.9 L513.0 123.9 L513.5 123.9 L514.0 123.8 L514.5 123.8 L515.0 123.7 L515.5 123.7 L516.0 123.7 L516.5 123.6 L517.0 123.6 L517.5 123.5 L518.0 123.5 L518.5 123.5 L519.0 123.4 L519.5 123.4 L520.0 123.3 L520.5 123.3 L521.0 123.2 L521.5 123.2 L522.0 123.1 L522.5 123.1 L523.0 123.0 L523.5 123.0 L524.0 122.9 L524.5 122.9 L525.0 122.8 L525.5 122.8 L526.0 122.7 L526.5 122.7 L527.0 122.6 L527.5 122.6 L528.0 122.5 L528.5 122.4 L529.0 122.4 L529.5 122.3 L530.0 122.3 L530.5 122.2 L531.0 122.2 L531.5 122.1 L532.0 122.0 L532.4 122.0" stroke="#00ff00" stroke-width="3.0" fill="none" stroke-linejoin="round" stroke-linecap="butt" />
<path d="M37.0 118.2 L37.5 118.2 L38.0 118.2 L38.5 118.2 L39.0 118.2 L39.5 118.2 L40.0 118.2 L40.5 118.1 L41.0 118.1 L41.5 118.1 L42.0 118.1 L42.5 118.1 L43.0 118.1 L43.5 118.1 L44.0 118.0 L44.5 118.0 L45.0 118.0 L45.5 118.0 L46.0 118.0 L46.5 118.0 L47.0 117.9 L47.5 117.9 L48.0 117.9 L48.5 117.9 L49.0 117.9 L49.5 117.9 L50.0 117.8 L50.5 117.8 L51.0 117.8 L51.5 117.8 L52.0 117.7 L52.5 117.7 L53.0 117.7 L53.5 117.7 L54.0 117.6 L54.5 117.6 L55.0 117.6 L55.5 117.6 L56.0 117.5 L56.5 117.5 L57.0 117.5 L57.5 117.4 L58.0 117.4 L58.5 117.4 L59.0 117.3 L59.5 117.3 L60.0 117.3 L60.5 117.2 L61.0 117.2 L61.5 117.1 L62.0 117.1 L62.5 117.1 L63.0 117.0 L63.5 117.0 L64.0 116.9 L64.5 116.9 L65.0 116.8 L65.5 116.8 L66.0 116.7 L66.5 116.7 L67.0 116.6 L67.5 116.6 L68.0 116.5 L68.5 116.5 L69.0 116.4 L69.5 116.4 L70.0 116.3 L70.5 116.3 L71.0 116.2 L71.5 116.1 L72.0 116.1 L72.5 116.0 L73.0 115.9 L73.5 115.9 L74.0 115.8 L74.5 115.7 L75.0 115.7 L75.5 115.6 L76.0 115.5 L76.5 115.5 L77.0 115.4 L77.5 115.3 L78.0 115.2 L78.5 115.1 L79.0 115.1 L79.5 115.0 L80.0 114.9 L80.5 114.8 L81.0 114.7 L81.5 114.6 L82.0 114.5 L82.5 114.4 L83.0 114.3 L83.5 114.2 L84.0 114.1 L84.5 114.0 L85.0 113.9 L85.5 113.8 L86.0 113.7 L86.5 113.6 L87.0 113.5 L87.5 113.4 L88.0 113.3 L88.5 113.2 L89.0 113.1 L89.5 112.9 L90.0 112.8 L90.5 112.7 L91.0 112.6 L91.5 112.5 L92.0 112.3 L92.5 112.2 L93.0 112.1 L93.5 111.9 L94.0 111.8 L94.5 111.7 L95.0 111.5 L95.5 111.4 L96.0 111.3 L96.5 111.1 L97.0 111.0 L97.5 110.8 L98.0 110.7 L98.5 110.5 L99.0 110.4 L99.5 110.2 L100.0 110.1 L100.5 109.9 L101.0 109.8 L101.5 109.6 L102.0 109.4 L102.5 109.3 L103.0 109.1 L103.5 108.9 L104.0 108.8 L104.5 108.6 L105.0 108.4 L105.5 108.3 L106.0 108.1 L106.5 107.9 L107.0 107.7 L107.5 107.6 L108.0 107.4 L108.5 107.2 L109.0 107.0 L109.5 106.8 L110.0 106.6 L110.5 106.5 L111.0 106.3 L111.5 106.1 L112.0 105.9 L112.5 105.7 L113.0 105.5 L113.5 105.3 L114.0 105.1 L114.5 104.9 L115.0 104.7 L115.5 104.5 L116.0 104.3 L116.5 104.1 L117.0 103.9 L117.5 103.7 L118.0 103.5 L118.5 103.3 L119.0 103.1 L119.5 102.9 L120.0 102.7 L120.5 102.5 L121.0 102.3 L121.5 102.1 L122.0 101.9 L122.5 101.7 L123.0 101.5 L123.5 101.3 L124.0 101.1 L124.5 100.9 L125.0 100.7 L125.5 100.5 L126.0 100.3 L126.5 100.1 L127.0 99.9 L127.5 99.7 L128.0 99.5 L128.5 99.3 L129.0 99.1 L129.5 98.9 L130.0 98.7 L130.5 98.5 L131.0 98.3 L131.5 98.1 L132.0 97.9 L132.5 97.7 L133.0 97.5 L133.5 97.3 L134.0 97.1 L134.5 96.9 L135.0 96.7 L135.5 96.5 L136.0 96.3 L136.5 96.1 L137.0 96.0 L137.5 95.8 L138.0 95.6 L138.5 95.4 L139.0 95.2 L139.5 95.1 L140.0 94.9 L140.5 94.7 L141.0 94.5 L141.5 94.4 L142.0 94.2 L142.5 94.1 L143.0 93.9 L143.5 93.7 L144.0 93.6 L144.5 93.4 L145.0 93.3 L145.5 93.1 L146.0 93.0 L146.5 92.8 L147.0 92.7 L147.5 92.6 L148.0 92.4 L148.5 92.3 L149.0 92.2 L149.5 92.0 L150.0 91.9 L150.5 91.8 L151.0 91.7 L151.5 91.6 L152.0 91.5 L152.5 91.3 L153.0 91.2 L153.5 91.1 L154.0 91.0 L154.5 91.0 L155.0 90.9 L155.5 90.8 L156.0 90.7 L156.5 90.6 L157.0 90.5 L157.5 90.5 L158.0 90.4 L158.5 90.3 L159.0 90.3 L159.5 90.2 L160.0 90.2 L160.5 90.1 L161.0 90.1 L161.5 90.0 L162.0 90.0 L162.5 90.0 L163.0 89.9 L163.5 89.9 L164.0 89.9 L164.5 89.9 L165.0 89.9 L165.5 89.8 L166.0 89.8 L166.5 89.8 L167.0 89.8 L167.5 89.8 L168.0 89.9 L168.5 89.9 L169.0 89.9 L169.5 89.9 L170.0 89.9 L170.5 90.0 L171.0 90.0 L171.5 90.0 L172.0 90.1 L172.5 90.1 L173.0 90.2 L173.5 90.2 L174.0 90.3 L174.5 90.3 L175.0 90.4 L175.5 90.5 L176.0 90.6 L176.5 90.6 L177.0 90.7 L177.5 90.8 L178.0 90.9 L178.5 91.0 L179.0 91.1 L179.5 91.2 L180.0 91.3 L180.5 91.4 L181.0 91.5 L181.5 91.6 L182.0 91.7 L182.5 91.8 L183.0 91.9 L183.5 92.1 L184.0 92.2 L184.5 92.3 L185.0 92.4 L185.5 92.6 L186.0 92.7 L186.5 92.9 L187.0 93.0 L187.5 93.2 L188.0 93.3 L188.5 93.5 L189.0 93.6 L189.5 93.8 L190.0 93.9 L190.5 94.1 L191.0 94.3 L191.5 94.4 L192.0 94.6 L192.5 94.8 L193.0 94.9 L193.5 95.1 L194.0 95.3 L194.5 95.5 L195.0 95.6 L195.5 95.8 L196.0 96.0 L196.5 96.2 L197.0 96.4 L197.5 96.6 L198.0 96.8 L198.5 97.0 L199.0 97.1 L199.5 97.3 L200.0 97.5 L200.5 97.7 L201.0 97.9 L201.5 98.1 L202.0 98.3 L202.5 98.5 L203.0 98.7 L203.5 98.9 L204.0 99.1 L204.5 99.3 L205.0 99.5 L205.5 99.7 L206.0 99.9 L206.5 100.1 L207.0 100.4 L207.5 100.6 L208.0 100.8 L208.5 101.0 L209.0 101.2 L209.5 101.4 L210.0 101.6 L210.5 101.8 L211.0 102.0 L211.5 102.2 L212.0 102.4 L212.5 102.6 L213.0 102.8 L213.5 103.0 L214.0 103.2 L214.5 103.4 L215.0 103.6 L215.5 103.8 L216.0 104.0 L216.5 104.2 L217.0 104.4 L217.5 104.6 L218.0 104.8 L218.5 105.0 L219.0 105.2 L219.5 105.4 L220.0 105.6 L220.5 105.8 L221.0 106.0 L221.5 106.2 L222.0 106.4 L222.5 106.6 L223.0 106.7 L223.5 106.9 L224.0 107.1 L224.5 107.3 L225.0 107.5 L225.5 107.7 L226.0 107.8 L226.5 108.0 L227.0 108.2 L227.5 108.4 L228.0 108.5 L228.5 108.7 L229.0 108.9 L229.5 109.0 L230.0 109.2 L230.5 109.4 L231.0 109.5 L231.5 109.7 L232.0 109.9 L232.5 110.0 L233.0 110.2 L233.5 110.3 L234.0 110.5 L234.5 110.6 L235.0 110.8 L235.5 110.9 L236.0 111.1 L236.5 111.2 L237.0 111.4 L237.5 111.5 L238.0 111.7 L238.5 111.8 L239.0 111.9 L239.5 112.1 L240.0 112.2 L240.5 112.3 L241.0 112.5 L241.5 112.6 L242.0 112.7 L242.5 112.8 L243.0 113.0 L243.5 113.1 L244.0 113.2 L244.5 113.3 L245.0 113.4 L245.5 113.5 L246.0 113.6 L246.5 113.8 L247.0 113.9 L247.5 114.0 L248.0 114.1 L248.5 114.2 L249.0 114.3 L249.5 114.4 L250.0 114.5 L250.5 114.6 L251.0 114.7 L251.5 114.8 L252.0 114.9 L252.5 114.9 L253.0 115.0 L253.5 115.1 L254.0 115.2 L254.5 115.3 L255.0 115.4 L255.5 115.5 L256.0 115.5 L256.5 115.6 L257.0 115.7 L257.5 115.8 L258.0 115.8 L258.5 115.9 L259.0 116.0 L259.5 116.0 L260.0 116.1 L260.5 116.2 L261.0 116.2 L261.5 116.3 L262.0 116.4 L262.5 116.4 L263.0 116.5 L263.5 116.5 L264.0 116.6 L264.5 116.7 L265.0 116.7 L265.5 116.8 L266.0 116.8 L266.5 116.9 L267.0 116.9 L267.5 117.0 L268.0 117.0 L268.5 117.1 L269.0 117.1 L269.5 117.2 L270.0 117.2 L270.5 117.2 L271.0 117.3 L271.5 117.3 L272.0 117.4 L272.5 117.4 L273.0 117.4 L273.5 117.5 L274.0 117.5 L274.5 117.6 L275.0 117.6 L275.5 117.6 L276.0 117.7 L276.5 117.7 L277.0 117.7 L277.5 117.8 L278.0 117.8 L278.5 117.8 L279.0 117.9 L279.5 117.9 L280.0 118.0 L280.5 118.0 L281.0 118.0 L281.5 118.1 L282.0 118.2 L282.5 118.2 L283.0 118.3 L283.5 118.3 L284.0 118.4 L284.5 118.4 L285.0 118.5 L285.5 118.6 L286.0 118.6 L286.5 118.7 L287.0 118.8 L287.5 118.8 L288.0 118.9 L288.5 119.0 L289.0 119.0 L289.5 119.1 L290.0 119.1 L290.5 119.2 L291.0 119.3 L291.5 119.3 L292.0 119.4 L292.5 119.4 L293.0 119.5 L293.5 119.5 L294.0 119.6 L294.5 119.6 L295.0 119.7 L295.5 119.7 L296.0 119.8 L296.5 119.8 L297.0 119.8 L297.5 119.9 L298.0 119.9 L298.5 119.9 L299.0 120.0 L299.5 120.0 L300.0 120.0 L300.5 120.1 L301.0 120.1 L301.5 120.1 L302.0 120.2 L302.5 120.2 L303.0 120.2 L303.5 120.3 L304.0 120.3 L304.5 120.3 L305.0 120.4 L305.5 120.4 L306.0 120.4 L306.5 120.5 L307.0 120.5 L307.5 120.5 L308.0 120.5 L308.5 120.6 L309.0 120.6 L309.5 120.6 L310.0 120.7 L310.5 120.7 L311.0 120.7 L311.5 120.7 L312.0 120.8 L312.5 120.8 L313.0 120.8 L313.5 120.8 L314.0 120.9 L314.5 120.9 L315.0 120.9 L315.5 120.9 L316.0 120.9 L316.5 121.0 L317.0 121.0 L317.5 121.0 L318.0 121.0 L318.5 121.1 L319.0 121.1 L319.5 121.1 L320.0 121.1 L320.5 121.1 L321.0 121.2 L321.5 121.2 L322.0 121.2 L322.5 121.2 L323.0 121.2 L323.5 121.3 L324.0 121.3 L324.5 121.3 L325.0 121.3 L325.5 121.3 L326.0 121.4 L326.5 121.4 L327.0 121.4 L327.5 121.4 L328.0 121.4 L328.5 121.5 L329.0 121.5 L329.5 121.5 L330.0 121.5 L330.5 121.5 L331.0 121.5 L331.5 121.6 L332.0 121.6 L332.5 121.6 L333.0 121.6 L333.5 121.6 L334.0 121.7 L334.5 121.7 L335.0 121.7 L335.5 121.7 L336.0 121.7 L336.5 121.7 L337.0 121.7 L337.5 121.8 L338.0 121.8 L338.5 121.8 L339.0 121.8 L339.5 121.8 L340.0 121.8 L340.5 121.9 L341.0 121.9 L341.5 121.9 L342.0 121.9 L342.5 121.9 L343.0 121.9 L343.5 121.9 L344.0 121.9 L344.5 122.0 L345.0 122.0 L345.5 122.0 L346.0 122.0 L346.5 122.0 L347.0 122.0 L347.5 122.0 L348.0 122.0 L348.5 122.0 L349.0 122.0 L349.5 122.1 L350.0 122.1 L350.5 122.1 L351.0 122.1 L351.5 122.1 L352.0 122.1 L352.5 122.1 L353.0 122.1 L353.5 122.1 L354.0 122.1 L354.5 122.1 L355.0 122.2 L355.5 122.2 L356.0 122.2 L356.5 122.2 L357.0 122.2 L357.5 122.2 L358.0 122.2 L358.5 122.2 L359.0 122.2 L359.5 122.2 L360.0 122.2 L360.5 122.2 L361.0 122.2 L361.5 122.2 L362.0 122.3 L362.5 122.3 L363.0 122.3 L363.5 122.3 L364.0 122.3 L364.5 122.3 L365.0 122.3 L365.5 122.3 L366.0 122.3 L366.5 122.3 L367.0 122.3 L367.5 122.3 L368.0 122.3 L368.5 122.3 L369.0 122.3 L369.5 122.3 L370.0 122.3 L370.5 122.3 L371.0 122.4 L371.5 122.4 L372.0 122.4 L372.5 122.4 L373.0 122.4 L373.5 122.4 L374.0 122.4 L374.5 122.4 L375.0 122.4 L375.5 122.4 L376.0 122.4 L376.5 122.4 L377.0 122.4 L377.5 122.4 L378.0 122.4 L378.5 122.4 L379.0 122.4 L379.5 122.5 L380.0 122.5 L380.5 122.5 L381.0 122.5 L381.5 122.5 L382.0 122.5 L382.5 122.5 L383.0 122.5 L383.5 122.5 L384.0 122.5 L384.5 122.5 L385.0 122.5 L385.5 122.5 L386.0 122.5 L386.5 122.5 L387.0 122.6 L387.5 122.6 L388.0 122.6 L388.5 122.6 L389.0 122.6 L389.5 122.6 L390.0 122.6 L390.5 122.6 L391.0 122.6 L391.5 122.6 L392.0 122.6 L392.5 122.6 L393.0 122.7 L393.5 122.7 L394.0 122.7 L394.5 122.7 L395.0 122.7 L395.5 122.7 L396.0 122.7 L396.5 122.7 L397.0 122.7 L397.5 122.7 L398.0 122.8 L398.5 122.8 L399.0 122.8 L399.5 122.8 L400.0 122.8 L400.5 122.8 L401.0 122.8 L401.5 122.8 L402.0 122.9 L402.5 122.9 L403.0 122.9 L403.5 122.9 L404.0 122.9 L404.5 123.0 L405.0 123.0 L405.5 123.0 L406.0 123.0 L406.5 123.0 L407.0 123.1 L407.5 123.1 L408.0 123.1 L408.5 123.1 L409.0 123.2 L409.5 123.2 L410.0 123.2 L410.5 123.3 L411.0 123.3 L411.5 123.3 L412.0 123.3 L412.5 123.4 L413.0 123.4 L413.5 123.4 L414.0 123.5 L414.5 123.5 L415.0 123.5 L415.5 123.5 L416.0 123.6 L416.5 123.6 L417.0 123.6 L417.5 123.7 L418.0 123.7 L418.5 123.7 L419.0 123.7 L419.5 123.8 L420.0 123.8 L420.5 123.8 L421.0 123.8 L421.5 123.9 L422.0 123.9 L422.5 123.9 L423.0 123.9 L423.5 123.9 L424.0 124.0 L424.5 124.0 L425.0 124.0 L425.5 124.0 L426.0 124.0 L426.5 124.0 L427.0 124.0 L427.5 124.1 L428.0 124.1 L428.5 124.1 L429.0 124.1 L429.5 124.1 L430.0 124.1 L430.5 124.1 L431.0 124.1 L431.5 124.1 L432.0 124.2 L432.5 124.2 L433.0 124.2 L433.5 124.2 L434.0 124.2 L434.5 124.2 L435.0 124.2 L435.5 124.2 L436.0 124.2 L436.5 124.2 L437.0 124.3 L437.5 124.3 L438.0 124.3 L438.5 124.3 L439.0 124.3 L439.5 124.3 L440.0 124.3 L440.5 124.3 L441.0 124.3 L441.5 124.3 L442.0 124.3 L442.5 124.3 L443.0 124.4 L443.5 124.4 L444.0 124.4 L444.5 124.4 L445.0 124.4 L445.5 124.4 L446.0 124.4 L446.5 124.4 L447.0 124.4 L447.5 124.4 L448.0 124.4 L448.5 124.5 L449.0 124.5 L449.5 124.5 L450.0 124.5 L450.5 124.5 L451.0 124.5 L451.5 124.5 L452.0 124.5 L452.5 124.5 L453.0 124.5 L453.5 124.6 L454.0 124.6 L454.5 124.6 L455.0 124.6 L455.5 124.6 L456.0 124.6 L456.5 124.6 L457.0 124.6 L457.5 124.7 L458.0 124.7 L458.5 124.7 L459.0 124.7 L459.5 124.7 L460.0 124.7 L460.5 124.7 L461.0 124.7 L461.5 124.8 L462.0 124.8 L462.5 124.8 L463.0 124.8 L463.5 124.8 L464.0 124.8 L464.5 124.8 L465.0 124.8 L465.5 124.9 L466.0 124.9 L466.5 124.9 L467.0 124.9 L467.5 124.9 L468.0 124.9 L468.5 124.9 L469.0 124.9 L469.5 124.9 L470.0 124.9 L470.5 125.0 L471.0 125.0 L471.5 125.0 L472.0 125.0 L472.5 125.0 L473.0 125.0 L473.5 125.0 L474.0 125.0 L474.5 125.0 L475.0 125.0 L475.5 125.0 L476.0 125.0 L476.5 125.0 L477.0 125.0 L477.5 125.0 L478.0 125.0 L478.5 125.0 L479.0 125.0 L479.5 125.0 L480.0 125.0 L480.5 125.0 L481.0 125.0 L481.5 125.0 L482.0 125.0 L482.5 125.0 L483.0 125.0 L483.5 124.9 L484.0 124.9 L484.5 124.9 L485.0 124.9 L485.5 124.9 L486.0 124.9 L486.5 124.9 L487.0 124.9 L487.5 124.9 L488.0 124.9 L488.5 124.9 L489.0 124.9 L489.5 124.8 L490.0 124.8 L490.5 124.8 L491.0 124.8 L491.5 124.8 L492.0 124.8 L492.5 124.8 L493.0 124.8 L493.5 124.7 L494.0 124.7 L494.5 124.7 L495.0 124.7 L495.5 124.7 L496.0 124.7 L496.5 124.7 L497.0 124.6 L497.5 124.6 L498.0 124.6 L498.5 124.6 L499.0 124.6 L499.5 124.6 L500.0 124.6 L500.5 124.5 L501.0 124.5 L501.5 124.5 L502.0 124.5 L502.5 124.5 L503.0 124.5 L503.5 124.4 L504.0 124.4 L504.5 124.4 L505.0 124.4 L505.5 124.4 L506.0 124.3 L506.5 124.3 L507.0 124.3 L507.5 124.3 L508.0 124.2 L508.5 124.2 L509.0 124.2 L509.5 124.1 L510.0 124.1 L510.5 124.1 L511.0 124.0 L511.5 124.0 L512.0 124.0 L512.5 123.9 L513.0 123.9 L513.5 123.9 L514.0 123.8 L514.5 123.8 L515.0 123.7 L515.5 123.7 L516.0 123.7 L516.5 123.6 L517.0 123.6 L517.5 123.5 L518.0 123.5 L518.5 123.5 L519.0 123.4 L519.5 123.4 L520.0 123.3 L520.5 123.3 L521.0 123.2 L521.5 123.2 L522.0 123.1 L522.5 123.1 L523.0 123.0 L523.5 123.0 L524.0 122.9 L524.5 122.9 L525.0 122.8 L525.5 122.8 L526.0 122.7 L526.5 122.7 L527.0 122.6 L527.5 122.6 L528.0 122.5 L528.5 122.4 L529.0 122.4 L529.5 122.3 L530.0 122.3 L530.5 122.2 L531.0 122.2 L531.5 122.1 L532.0 122.0 L532.4 122.0" stroke="#00ffff" stroke-width="3.0" fill="none" stroke-linejoin="round" stroke-linecap="butt" />
<path d="M37.0 118.5 L37.5 118.5 L38.0 118.5 L38.5 118.5 L39.0 118.5 L39.5 118.5 L40.0 118.5 L40.5 118.5 L41.0 118.5 L41.5 118.5 L42.0 118.5 L42.5 118.5 L43.0 118.5 L43.5 118.5 L44.0 118.5 L44.5 118.5 L45.0 118.5 L45.5 118.5 L46.0 118.5 L46.5 118.5 L47.0 118.5 L47.5 118.5 L48.0 118.5 L48.5 118.5 L49.0 118.5 L49.5 118.5 L50.0 118.5 L50.5 118.5 L51.0 118.5 L51.5 118.5 L52.0 118.5 L52.5 118.5 L53.0 118.5 L53.5 118.5 L54.0 118.5 L54.5 118.5 L55.0 118.5 L55.5 118.5 L56.0 118.5 L56.5 118.5 L57.0 118.5 L57.5 118.5 L58.0 118.5 L58.5 118.5 L59.0 118.5 L59.5 118.5 L60.0 118.5 L60.5 118.5 L61.0 118.5 L61.5 118.5 L62.0 118.5 L62.5 118.5 L63.0 118.5 L63.5 118.5 L64.0 118.5 L64.5 118.5 L65.0 118.5 L65.5 118.5 L66.0 118.5 L66.5 118.5 L67.0 118.5 L67.5 118.5 L68.0 118.5 L68.5 118.5 L69.0 118.5 L69.5 118.5 L70.0 118.5 L70.5 118.5 L71.0 118.5 L71.5 118.5 L72.0 118.5 L72.5 118.5 L73.0 118.5 L73.5 118.5 L74.0 118.5 L74.5 118.5 L75.0 118.5 L75.5 118.5 L76.0 118.5 L76.5 118.5 L77.0 118.5 L77.5 118.5 L78.0 118.5 L78.5 118.5 L79.0 118.5 L79.5 118.5 L80.0 118.5 L80.5 118.5 L81.0 118.5 L81.5 118.5 L82.0 118.5 L82.5 118.5 L83.0 118.5 L83.5 118.5 L84.0 118.5 L84.5 118.5 L85.0 118.5 L85.5 118.5 L86.0 118.5 L86.5 118.5 L87.0 118.5 L87.5 118.5 L88.0 118.5 L88.5 118.5 L89.0 118.5 L89.5 118.5 L90.0 118.5 L90.5 118.5 L91.0 118.5 L91.5 118.5 L92.0 118.5 L92.5 118.5 L93.0 118.5 L93.5 118.5 L94.0 118.5 L94.5 118.5 L95.0 118.5 L95.5 118.5 L96.0 118.5 L96.5 118.5 L97.0 118.5 L97.5 118.5 L98.0 118.5 L98.5 118.5 L99.0 118.5 L99.5 118.5 L100.0 118.5 L100.5 118.5 L101.0 118.5 L101.5 118.5 L102.0 118.5 L102.5 118.5 L103.0 118.5 L103.5 118.5 L104.0 118.5 L104.5 118.5 L105.0 118.5 L105.5 118.5 L106.0 118.5 L106.5 118.5 L107.0 118.5 L107.5 118.5 L108.0 118.5 L108.5 118.5 L109.0 118.5 L109.5 118.5 L110.0 118.5 L110.5 118.5 L111.0 118.5 L111.5 118.5 L112.0 118.5 L112.5 118.5 L113.0 118.5 L113.5 118.5 L114.0 118.5 L114.5 118.5 L115.0 118.5 L115.5 118.5 L116.0 118.5 L116.5 118.5 L117.0 118.5 L117.5 118.5 L118.0 118.5 L118.5 118.5 L119.0 118.5 L119.5 118.5 L120.0 118.5 L120.5 118.5 L121.0 118.5 L121.5 118.5 L122.0 118.5 L122.5 118.5 L123.0 118.5 L123.5 118.5 L124.0 118.5 L124.5 118.5 L125.0 118.5 L125.5 118.5 L126.0 118.5 L126.5 118.5 L127.0 118.5 L127.5 118.5 L128.0 118.5 L128.5 118.5 L129.0 118.5 L129.5 118.5 L130.0 118.5 L130.5 118.5 L131.0 118.5 L131.5 118.5 L132.0 118.5 L132.5 118.5 L133.0 118.5 L133.5 118.5 L134.0 118.5 L134.5 118.5 L135.0 118.5 L135.5 118.5 L136.0 118.5 L136.5 118.5 L137.0 118.5 L137.5 118.5 L138.0 118.5 L138.5 118.5 L139.0 118.5 L139.5 118.5 L140.0 118.5 L140.5 118.5 L141.0 118.5 L141.5 118.5 L142.0 118.5 L142.5 118.5 L143.0 118.5 L143.5 118.5 L144.0 118.5 L144.5 118.5 L145.0 118.5 L145.5 118.5 L146.0 118.5 L146.5 118.5 L147.0 118.5 L147.5 118.5 L148.0 118.5 L148.5 118.5 L149.0 118.5 L149.5 118.5 L150.0 118.5 L150.5 118.5 L151.0 118.5 L151.5 118.5 L152.0 118.5 L152.5 118.5 L153.0 118.5 L153.5 118.5 L154.0 118.5 L154.5 118.5 L155.0 118.5 L155.5 118.5 L156.0 118.5 L156.5 118.5 L157.0 118.5 L157.5 118.5 L158.0 118.5 L158.5 118.5 L159.0 118.5 L159.5 118.5 L160.0 118.5 L160.5 118.5 L161.0 118.5 L161.5 118.5 L162.0 118.5 L162.5 118.5 L163.0 118.5 L163.5 118.5 L164.0 118.5 L164.5 118.5 L165.0 118.5 L165.5 118.5 L166.0 118.5 L166.5 118.5 L167.0 118.5 L167.5 118.5 L168.0 118.5 L168.5 118.5 L169.0 118.5 L169.5 118.5 L170.0 118.5 L170.5 118.5 L171.0 118.5 L171.5 118.5 L172.0 118.5 L172.5 118.5 L173.0 118.5 L173.5 118.5 L174.0 118.5 L174.5 118.5 L175.0 118.5 L175.5 118.5 L176.0 118.5 L176.5 118.5 L177.0 118.5 L177.5 118.5 L178.0 118.5 L178.5 118.5 L179.0 118.5 L179.5 118.5 L180.0 118.5 L180.5 118.5 L181.0 118.6 L181.5 118.6 L182.0 118.6 L182.5 118.6 L183.0 118.6 L183.5 118.6 L184.0 118.6 L184.5 118.6 L185.0 118.6 L185.5 118.6 L186.0 118.6 L186.5 118.6 L187.0 118.6 L187.5 118.6 L188.0 118.6 L188.5 118.6 L189.0 118.6 L189.5 118.6 L190.0 118.6 L190.5 118.6 L191.0 118.6 L191.5 118.6 L192.0 118.6 L192.5 118.6 L193.0 118.6 L193.5 118.6 L194.0 118.6 L194.5 118.6 L195.0 118.6 L195.5 118.6 L196.0 118.6 L196.5 118.6 L197.0 118.6 L197.5 118.6 L198.0 118.6 L198.5 118.6 L199.0 118.6 L199.5 118.6 L200.0 118.6 L200.5 118.6 L201.0 118.6 L201.5 118.6 L202.0 118.6 L202.5 118.6 L203.0 118.6 L203.5 118.6 L204.0 118.6 L204.5 118.6 L205.0 118.6 L205.5 118.6 L206.0 118.6 L206.5 118.6 L207.0 118.6 L207.5 118.6 L208.0 118.6 L208.5 118.6 L209.0 118.6 L209.5 118.6 L210.0 118.6 L210.5 118.6 L211.0 118.6 L211.5 118.6 L212.0 118.6 L212.5 118.6 L213.0 118.6 L213.5 118.6 L214.0 118.6 L214.5 118.6 L215.0 118.6 L215.5 118.6 L216.0 118.6 L216.5 118.6 L217.0 118.6 L217.5 118.6 L218.0 118.6 L218.5 118.6 L219.0 118.6 L219.5 118.6 L220.0 118.6 L220.5 118.6 L221.0 118.6 L221.5 118.6 L222.0 118.6 L222.5 118.6 L223.0 118.6 L223.5 118.6 L224.0 118.6 L224.5 118.6 L225.0 118.6 L225.5 118.6 L226.0 118.6 L226.5 118.6 L227.0 118.6 L227.5 118.6 L228.0 118.6 L228.5 118.6 L229.0 118.6 L229.5 118.6 L230.0 118.6 L230.5 118.6 L231.0 118.6 L231.5 118.6 L232.0 118.6 L232.5 118.6 L233.0 118.6 L233.5 118.6 L234.0 118.6 L234.5 118.6 L235.0 118.6 L235.5 118.6 L236.0 118.6 L236.5 118.6 L237.0 118.6 L237.5 118.6 L238.0 118.6 L238.5 118.6 L239.0 118.6 L239.5 118.6 L240.0 118.6 L240.5 118.6 L241.0 118.6 L241.5 118.6 L242.0 118.6 L242.5 118.6 L243.0 118.6 L243.5 118.6 L244.0 118.6 L244.5 118.6 L245.0 118.6 L245.5 118.6 L246.0 118.6 L246.5 118.6 L247.0 118.6 L247.5 118.6 L248.0 118.6 L248.5 118.6 L249.0 118.6 L249.5 118.6 L250.0 118.6 L250.5 118.6 L251.0 118.6 L251.5 118.6 L252.0 118.6 L252.5 118.6 L253.0 118.6 L253.5 118.7 L254.0 118.7 L254.5 118.7 L255.0 118.7 L255.5 118.7 L256.0 118.7 L256.5 118.7 L257.0 118.7 L257.5 118.7 L258.0 118.7 L258.5 118.7 L259.0 118.7 L259.5 118.7 L260.0 118.7 L260.5 118.7 L261.0 118.7 L261.5 118.7 L262.0 118.7 L262.5 118.7 L263.0 118.7 L263.5 118.7 L264.0 118.7 L264.5 118.7 L265.0 118.7 L265.5 118.7 L266.0 118.7 L266.5 118.7 L267.0 118.7 L267.5 118.7 L268.0 118.7 L268.5 118.7 L269.0 118.7 L269.5 118.7 L270.0 118.7 L270.5 118.7 L271.0 118.7 L271.5 118.7 L272.0 118.7 L272.5 118.7 L273.0 118.7 L273.5 118.7 L274.0 118.7 L274.5 118.7 L275.0 118.7 L275.5 118.7 L276.0 118.7 L276.5 118.7 L277.0 118.7 L277.5 118.7 L278.0 118.7 L278.5 118.7 L279.0 118.7 L279.5 118.7 L280.0 118.8 L280.5 118.8 L281.0 118.8 L281.5 118.8 L282.0 118.9 L282.5 118.9 L283.0 118.9 L283.5 119.0 L284.0 119.0 L284.5 119.1 L285.0 119.1 L285.5 119.1 L286.0 119.2 L286.5 119.2 L287.0 119.3 L287.5 119.3 L288.0 119.4 L288.5 119.4 L289.0 119.5 L289.5 119.5 L290.0 119.6 L290.5 119.6 L291.0 119.7 L291.5 119.7 L292.0 119.7 L292.5 119.8 L293.0 119.8 L293.5 119.9 L294.0 119.9 L294.5 119.9 L295.0 120.0 L295.5 120.0 L296.0 120.0 L296.5 120.1 L297.0 120.1 L297.5 120.1 L298.0 120.1 L298.5 120.2 L299.0 120.2 L299.5 120.2 L300.0 120.3 L300.5 120.3 L301.0 120.3 L301.5 120.3 L302.0 120.4 L302.5 120.4 L303.0 120.4 L303.5 120.4 L304.0 120.5 L304.5 120.5 L305.0 120.5 L305.5 120.5 L306.0 120.6 L306.5 120.6 L307.0 120.6 L307.5 120.6 L308.0 120.7 L308.5 120.7 L309.0 120.7 L309.5 120.7 L310.0 120.7 L310.5 120.8 L311.0 120.8 L311.5 120.8 L312.0 120.8 L312.5 120.9 L313.0 120.9 L313.5 120.9 L314.0 120.9 L314.5 120.9 L315.0 121.0 L315.5 121.0 L316.0 121.0 L316.5 121.0 L317.0 121.0 L317.5 121.1 L318.0 121.1 L318.5 121.1 L319.0 121.1 L319.5 121.1 L320.0 121.2 L320.5 121.2 L321.0 121.2 L321.5 121.2 L322.0 121.2 L322.5 121.3 L323.0 121.3 L323.5 121.3 L324.0 121.3 L324.5 121.3 L325.0 121.4 L325.5 121.4 L326.0 121.4 L326.5 121.4 L327.0 121.4 L327.5 121.4 L328.0 121.5 L328.5 121.5 L329.0 121.5 L329.5 121.5 L330.0 121.5 L330.5 121.5 L331.0 121.6 L331.5 121.6 L332.0 121.6 L332.5 121.6 L333.0 121.6 L333.5 121.6 L334.0 121.7 L334.5 121.7 L335.0 121.7 L335.5 121.7 L336.0 121.7 L336.5 121.7 L337.0 121.8 L337.5 121.8 L338.0 121.8 L338.5 121.8 L339.0 121.8 L339.5 121.8 L340.0 121.8 L340.5 121.9 L341.0 121.9 L341.5 121.9 L342.0 121.9 L342.5 121.9 L343.0 121.9 L343.5 121.9 L344.0 121.9 L344.5 122.0 L345.0 122.0 L345.5 122.0 L346.0 122.0 L346.5 122.0 L347.0 122.0 L347.5 122.0 L348.0 122.0 L348.5 122.0 L349.0 122.1 L349.5 122.1 L350.0 122.1 L350.5 122.1 L351.0 122.1 L351.5 122.1 L352.0 122.1 L352.5 122.1 L353.0 122.1 L353.5 122.1 L354.0 122.1 L354.5 122.1 L355.0 122.2 L355.5 122.2 L356.0 122.2 L356.5 122.2 L357.0 122.2 L357.5 122.2 L358.0 122.2 L358.5 122.2 L359.0 122.2 L359.5 122.2 L360.0 122.2 L360.5 122.2 L361.0 122.2 L361.5 122.2 L362.0 122.3 L362.5 122.3 L363.0 122.3 L363.5 122.3 L364.0 122.3 L364.5 122.3 L365.0 122.3 L365.5 122.3 L366.0 122.3 L366.5 122.3 L367.0 122.3 L367.5 122.3 L368.0 122.3 L368.5 122.3 L369.0 122.3 L369.5 122.3 L370.0 122.3 L370.5 122.3 L371.0 122.4 L371.5 122.4 L372.0 122.4 L372.5 122.4 L373.0 122.4 L373.5 122.4 L374.0 122.4 L374.5 122.4 L375.0 122.4 L375.5 122.4 L376.0 122.4 L376.5 122.4 L377.0 122.4 L377.5 122.4 L378.0 122.4 L378.5 122.4 L379.0 122.4 L379.5 122.5 L380.0 122.5 L380.5 122.5 L381.0 122.5 L381.5 122.5 L382.0 122.5 L382.5 122.5 L383.0 122.5 L383.5 122.5 L384.0 122.5 L384.5 122.5 L385.0 122.5 L385.5 122.5 L386.0 122.5 L386.5 122.5 L387.0 122.6 L387.5 122.6 L388.0 122.6 L388.5 122.6 L389.0 122.6 L389.5 122.6 L390.0 122.6 L390.5 122.6 L391.0 122.6 L391.5 122.6 L392.0 122.6 L392.5 122.6 L393.0 122.7 L393.5 122.7 L394.0 122.7 L394.5 122.7 L395.0 122.7 L395.5 122.7 L396.0 122.7 L396.5 122.7 L397.0 122.7 L397.5 122.7 L398.0 122.8 L398.5 122.8 L399.0 122.8 L399.5 122.8 L400.0 122.8 L400.5 122.8 L401.0 122.8 L401.5 122.8 L402.0 122.9 L402.5 122.9 L403.0 122.9 L403.5 122.9 L404.0 122.9 L404.5 123.0 L405.0 123.0 L405.5 123.0 L406.0 123.0 L406.5 123.0 L407.0 123.1 L407.5 123.1 L408.0 123.1 L408.5 123.1 L409.0 123.2 L409.5 123.2 L410.0 123.2 L410.5 123.3 L411.0 123.3 L411.5 123.3 L412.0 123.3 L412.5 123.4 L413.0 123.4 L413.5 123.4 L414.0 123.5 L414.5 123.5 L415.0 123.5 L415.5 123.5 L416.0 123.6 L416.5 123.6 L417.0 123.6 L417.5 123.7 L418.0 123.7 L418.5 123.7 L419.0 123.7 L419.5 123.8 L420.0 123.8 L420.5 123.8 L421.0 123.8 L421.5 123.9 L422.0 123.9 L422.5 123.9 L423.0 123.9 L423.5 123.9 L424.0 124.0 L424.5 124.0 L425.0 124.0 L425.5 124.0 L426.0 124.0 L426.5 124.0 L427.0 124.0 L427.5 124.1 L428.0 124.1 L428.5 124.1 L429.0 124.1 L429.5 124.1 L430.0 124.1 L430.5 124.1 L431.0 124.1 L431.5 124.1 L432.0 124.2 L432.5 124.2 L433.0 124.2 L433.5 124.2 L434.0 124.2 L434.5 124.2 L435.0 124.2 L435.5 124.2 L436.0 124.2 L436.5 124.2 L437.0 124.3 L437.5 124.3 L438.0 124.3 L438.5 124.3 L439.0 124.3 L439.5 124.3 L440.0 124.3 L440.5 124.3 L441.0 124.3 L441.5 124.3 L442.0 124.3 L442.5 124.3 L443.0 124.4 L443.5 124.4 L444.0 124.4 L444.5 124.4 L445.0 124.4 L445.5 124.4 L446.0 124.4 L446.5 124.4 L447.0 124.4 L447.5 124.4 L448.0 124.4 L448.5 124.5 L449.0 124.5 L449.5 124.5 L450.0 124.5 L450.5 124.5 L451.0 124.5 L451.5 124.5 L452.0 124.5 L452.5 124.5 L453.0 124.5 L453.5 124.6 L454.0 124.6 L454.5 124.6 L455.0 124.6 L455.5 124.6 L456.0 124.6 L456.5 124.6 L457.0 124.6 L457.5 124.7 L458.0 124.7 L458.5 124.7 L459.0 124.7 L459.5 124.7 L460.0 124.7 L460.5 124.7 L461.0 124.7 L461.5 124.8 L462.0 124.8 L462.5 124.8 L463.0 124.8 L463.5 124.8 L464.0 124.8 L464.5 124.8 L465.0 124.8 L465.5 124.9 L466.0 124.9 L466.5 124.9 L467.0 124.9 L467.5 124.9 L468.0 124.9 L468.5 124.9 L469.0 124.9 L469.5 124.9 L470.0 124.9 L470.5 125.0 L471.0 125.0 L471.5 125.0 L472.0 125.0 L472.5 125.0 L473.0 125.0 L473.5 125.0 L474.0 125.0 L474.5 125.0 L475.0 125.0 L475.5 125.0 L476.0 125.0 L476.5 125.0 L477.0 125.0 L477.5 125.0 L478.0 125.0 L478.5 125.0 L479.0 125.0 L479.5 125.0 L480.0 125.0 L480.5 125.0 L481.0 125.0 L481.5 125.0 L482.0 125.0 L482.5 125.0 L483.0 125.0 L483.5 124.9 L484.0 124.9 L484.5 124.9 L485.0 124.9 L485.5 124.9 L486.0 124.9 L486.5 124.9 L487.0 124.9 L487.5 124.9 L488.0 124.9 L488.5 124.9 L489.0 124.9 L489.5 124.8 L490.0 124.8 L490.5 124.8 L491.0 124.8 L491.5 124.8 L492.0 124.8 L492.5 124.8 L493.0 124.8 L493.5 124.7 L494.0 124.7 L494.5 124.7 L495.0 124.7 L495.5 124.7 L496.0 124.7 L496.5 124.7 L497.0 124.6 L497.5 124.6 L498.0 124.6 L498.5 124.6 L499.0 124.6 L499.5 124.6 L500.0 124.6 L500.5 124.5 L501.0 124.5 L501.5 124.5 L502.0 124.5 L502.5 124.5 L503.0 124.5 L503.5 124.4 L504.0 124.4 L504.5 124.4 L505.0 124.4 L505.5 124.4 L506.0 124.3 L506.5 124.3 L507.0 124.3 L507.5 124.3 L508.0 124.2 L508.5 124.2 L509.0 124.2 L509.5 124.1 L510.0 124.1 L510.5 124.1 L511.0 124.0 L511.5 124.0 L512.0 124.0 L512.5 123.9 L513.0 123.9 L513.5 123.9 L514.0 123.8 L514.5 123.8 L515.0 123.7 L515.5 123.7 L516.0 123.7 L516.5 123.6 L517.0 123.6 L517.5 123.5 L518.0 123.5 L518.5 123.5 L519.0 123.4 L519.5 123.4 L520.0 123.3 L520.5 123.3 L521.0 123.2 L521.5 123.2 L522.0 123.1 L522.5 123.1 L523.0 123.0 L523.5 123.0 L524.0 122.9 L524.5 122.9 L525.0 122.8 L525.5 122.8 L526.0 122.7 L526.5 122.7 L527.0 122.6 L527.5 122.6 L528.0 122.5 L528.5 122.4 L529.0 122.4 L529.5 122.3 L530.0 122.3 L530.5 122.2 L531.0 122.2 L531.5 122.1 L532.0 122.0 L532.4 122.0" stroke="#ff00ff" stroke-width="3.0" fill="none" stroke-linejoin="round" stroke-linecap="butt" />
<path d="M372.0 123.3 L372.5 123.3 L373.0 123.3 L373.5 123.3 L374.0 123.2 L374.5 123.2 L375.0 123.1 L375.5 123.1 L376.0 123.0 L376.5 123.0 L377.0 122.9 L377.5 122.9 L378.0 122.8 L378.5 122.7 L379.0 122.7 L379.5 122.7 L380.0 122.6 L380.5 122.6 L381.0 122.6 L381.5 122.6 L382.0 122.6 L382.5 122.7 L383.0 122.7 L383.5 122.7 L384.0 122.8 L384.5 122.9 L385.0 122.9 L385.5 123.0 L386.0 123.0 L386.5 123.1 L387.0 123.1 L387.5 123.2 L388.0 123.2 L388.5 123.3 L389.0 123.3 L389.5 123.3 L390.0 123.3 L390.5 123.4 L391.0 123.4 L391.5 123.4" stroke="#00ffff" stroke-width="2.4" fill="none" stroke-linejoin="round" stroke-linecap="butt" />
<path d="M37.0 118.3 L37.5 117.8 L38.0 117.1 L38.5 116.3 L39.0 115.5 L39.5 114.5 L40.0 113.4 L40.5 112.1 L41.0 110.8 L41.5 109.4 L42.0 108.0 L42.5 106.5 L43.0 105.0 L43.5 103.5 L44.0 101.8 L44.5 100.2 L45.0 98.5 L45.5 96.8 L46.0 95.0 L46.5 93.1 L47.0 91.2 L47.5 89.2 L48.0 87.1 L48.5 85.0 L49.0 82.9 L49.5 80.8 L50.0 78.7 L50.5 76.7 L51.0 74.6 L51.5 72.4 L52.0 70.1 L52.5 67.9 L53.0 65.7 L53.5 63.6 L54.0 61.7 L54.5 60.0 L55.0 58.6 L55.5 57.3 L56.0 56.0 L56.5 54.7 L57.0 53.4 L57.5 52.3 L58.0 51.3 L58.5 50.6 L59.0 50.0 L59.5 49.7 L60.0 49.8 L60.5 50.1 L61.0 50.8 L61.5 51.6 L62.0 52.5 L62.5 53.5 L63.0 54.6 L63.5 55.5 L64.0 56.3 L64.5 56.9 L65.0 57.5 L65.5 58.2 L66.0 58.8 L66.5 59.4 L67.0 60.0 L67.5 60.5 L68.0 61.0 L68.5 61.4 L69.0 61.7 L69.5 61.9 L70.0 61.9 L70.5 61.9 L71.0 61.9 L71.5 61.8 L72.0 61.8 L72.5 61.8 L73.0 61.7 L73.5 61.6 L74.0 61.6 L74.5 61.5 L75.0 61.4 L75.5 61.3 L76.0 61.2 L76.5 61.1 L77.0 61.0 L77.5 60.9 L78.0 60.9 L78.5 60.8 L79.0 60.7 L79.5 60.5 L80.0 60.4 L80.5 60.3 L81.0 60.1 L81.5 60.0 L82.0 59.8 L82.5 59.7 L83.0 59.5 L83.5 59.3 L84.0 59.2 L84.5 59.0 L85.0 58.8 L85.5 58.7 L86.0 58.5 L86.5 58.3 L87.0 58.2 L87.5 58.0 L88.0 57.8 L88.5 57.6 L89.0 57.4 L89.5 57.2 L90.0 57.0 L90.5 56.8 L91.0 56.6 L91.5 56.4 L92.0 56.2 L92.5 56.0 L93.0 55.8 L93.5 55.6 L94.0 55.4 L94.5 55.2 L95.0 55.0 L95.5 54.7 L96.0 54.5 L96.5 54.3 L97.0 54.0 L97.5 53.8 L98.0 53.6 L98.5 53.5 L99.0 53.3 L99.5 53.1 L100.0 53.0 L100.5 52.9 L101.0 52.8 L101.5 52.6 L102.0 52.5 L102.5 52.4 L103.0 52.3 L103.5 52.2 L104.0 52.1 L104.5 52.0 L105.0 52.0 L105.5 51.9 L106.0 51.8 L106.5 51.7 L107.0 51.7 L107.5 51.6 L108.0 51.5 L108.5 51.4 L109.0 51.4 L109.5 51.3 L110.0 51.2 L110.5 51.2 L111.0 51.1 L111.5 51.1 L112.0 51.1 L112.5 51.1 L113.0 51.2 L113.5 51.4 L114.0 51.7 L114.5 52.0 L115.0 52.4 L115.5 52.8 L116.0 53.2 L116.5 53.6 L117.0 54.0 L117.5 54.3 L118.0 54.6 L118.5 54.9 L119.0 55.2 L119.5 55.5 L120.0 55.7 L120.5 56.0 L121.0 56.3 L121.5 56.6 L122.0 56.8 L122.5 57.1 L123.0 57.4 L123.5 57.6 L124.0 57.9 L124.5 58.2 L125.0 58.4 L125.5 58.7 L126.0 58.9 L126.5 59.2 L127.0 59.4 L127.5 59.7 L128.0 60.0 L128.5 60.2 L129.0 60.5 L129.5 60.7 L130.0 60.9 L130.5 61.2 L131.0 61.4 L131.5 61.7 L132.0 61.9 L132.5 62.2 L133.0 62.4 L133.5 62.6 L134.0 62.9 L134.5 63.1 L135.0 63.4 L135.5 63.6 L136.0 63.9 L136.5 64.2 L137.0 64.4 L137.5 64.7 L138.0 65.0 L138.5 65.2 L139.0 65.5 L139.5 65.8 L140.0 66.0 L140.5 66.3 L141.0 66.6 L141.5 66.9 L142.0 67.2 L142.5 67.5 L143.0 67.7 L143.5 68.0 L144.0 68.3 L144.5 68.6 L145.0 68.9 L145.5 69.2 L146.0 69.5 L146.5 69.8 L147.0 70.1 L147.5 70.4 L148.0 70.7 L148.5 71.0 L149.0 71.3 L149.5 71.6 L150.0 71.9 L150.5 72.2 L151.0 72.6 L151.5 72.9 L152.0 73.2 L152.5 73.5 L153.0 73.8 L153.5 74.1 L154.0 74.4 L154.5 74.7 L155.0 75.0 L155.5 75.3 L156.0 75.6 L156.5 75.9 L157.0 76.2 L157.5 76.4 L158.0 76.7 L158.5 77.0 L159.0 77.3 L159.5 77.6 L160.0 77.8 L160.5 78.1 L161.0 78.4 L161.5 78.7 L162.0 78.9 L162.5 79.2 L163.0 79.5 L163.5 79.7 L164.0 80.0 L164.5 80.2 L165.0 80.5 L165.5 80.7 L166.0 81.0 L166.5 81.3 L167.0 81.5 L167.5 81.8 L168.0 82.0 L168.5 82.3 L169.0 82.5 L169.5 82.7 L170.0 83.0 L170.5 83.2 L171.0 83.5 L171.5 83.7 L172.0 84.0 L172.5 84.2 L173.0 84.4 L173.5 84.7 L174.0 84.9 L174.5 85.1 L175.0 85.4 L175.5 85.6 L176.0 85.8 L176.5 86.1 L177.0 86.3 L177.5 86.5 L178.0 86.7 L178.5 87.0 L179.0 87.2 L179.5 87.4 L180.0 87.6 L180.5 87.8 L181.0 88.1 L181.5 88.3 L182.0 88.5 L182.5 88.7 L183.0 88.9 L183.5 89.1 L184.0 89.3 L184.5 89.6 L185.0 89.8 L185.5 90.0 L186.0 90.2 L186.5 90.4 L187.0 90.7 L187.5 90.9 L188.0 91.1 L188.5 91.3 L189.0 91.6 L189.5 91.8 L190.0 92.0 L190.5 92.3 L191.0 92.5 L191.5 92.7 L192.0 93.0 L192.5 93.2 L193.0 93.4 L193.5 93.7 L194.0 93.9 L194.5 94.1 L195.0 94.4 L195.5 94.6 L196.0 94.8 L196.5 95.1 L197.0 95.3 L197.5 95.5 L198.0 95.8 L198.5 96.0 L199.0 96.2 L199.5 96.5 L200.0 96.7 L200.5 96.9 L201.0 97.1 L201.5 97.4 L202.0 97.6 L202.5 97.8 L203.0 98.1 L203.5 98.3 L204.0 98.5 L204.5 98.7 L205.0 99.0 L205.5 99.2 L206.0 99.4 L206.5 99.7 L207.0 99.9 L207.5 100.1 L208.0 100.3 L208.5 100.5 L209.0 100.8 L209.5 101.0 L210.0 101.2 L210.5 101.4 L211.0 101.6 L211.5 101.8 L212.0 102.1 L212.5 102.3 L213.0 102.5 L213.5 102.7 L214.0 102.9 L214.5 103.1 L215.0 103.2 L215.5 103.4 L216.0 103.6 L216.5 103.8 L217.0 104.0 L217.5 104.2 L218.0 104.4 L218.5 104.5 L219.0 104.7 L219.5 104.9 L220.0 105.1 L220.5 105.2 L221.0 105.4 L221.5 105.6 L222.0 105.8 L222.5 105.9 L223.0 106.1 L223.5 106.3 L224.0 106.5 L224.5 106.6 L225.0 106.8 L225.5 107.0 L226.0 107.2 L226.5 107.3 L227.0 107.5 L227.5 107.7 L228.0 107.9 L228.5 108.1 L229.0 108.3 L229.5 108.4 L230.0 108.6 L230.5 108.8 L231.0 109.0 L231.5 109.2 L232.0 109.4 L232.5 109.6 L233.0 109.7 L233.5 109.9 L234.0 110.1 L234.5 110.3 L235.0 110.5 L235.5 110.6 L236.0 110.8 L236.5 111.0 L237.0 111.2 L237.5 111.3 L238.0 111.5 L238.5 111.6 L239.0 111.8 L239.5 111.9 L240.0 112.1 L240.5 112.2 L241.0 112.3 L241.5 112.5 L242.0 112.6 L242.5 112.7 L243.0 112.9 L243.5 113.0 L244.0 113.1 L244.5 113.2 L245.0 113.4 L245.5 113.5 L246.0 113.6 L246.5 113.7 L247.0 113.8 L247.5 114.0 L248.0 114.1 L248.5 114.2 L249.0 114.3 L249.5 114.4 L250.0 114.5 L250.5 114.6 L251.0 114.7 L251.5 114.8 L252.0 114.9 L252.5 115.0 L253.0 115.1 L253.5 115.3 L254.0 115.4 L254.5 115.5 L255.0 115.6 L255.5 115.7 L256.0 115.8 L256.5 115.9 L257.0 116.0 L257.5 116.1 L258.0 116.1 L258.5 116.2 L259.0 116.3 L259.5 116.4 L260.0 116.5 L260.5 116.6 L261.0 116.7 L261.5 116.8 L262.0 116.8 L262.5 116.9 L263.0 117.0 L263.5 117.1 L264.0 117.1 L264.5 117.2 L265.0 117.3 L265.5 117.3 L266.0 117.4 L266.5 117.4 L267.0 117.5 L267.5 117.6 L268.0 117.6 L268.5 117.7 L269.0 117.7 L269.5 117.8 L270.0 117.8 L270.5 117.9 L271.0 117.9 L271.5 118.0 L272.0 118.0 L272.5 118.1 L273.0 118.1 L273.5 118.2 L274.0 118.2 L274.5 118.2 L275.0 118.3 L275.5 118.3 L276.0 118.4 L276.5 118.4 L277.0 118.5 L277.5 118.5 L278.0 118.6 L278.5 118.6 L279.0 118.7 L279.5 118.7 L280.0 118.7 L280.5 118.8 L281.0 118.8 L281.5 118.9 L282.0 118.9 L282.5 119.0 L283.0 119.0 L283.5 119.1 L284.0 119.1 L284.5 119.2 L285.0 119.2 L285.5 119.2 L286.0 119.3 L286.5 119.3 L287.0 119.4 L287.5 119.4 L288.0 119.5 L288.5 119.5 L289.0 119.5 L289.5 119.6 L290.0 119.6 L290.5 119.7 L291.0 119.7 L291.5 119.7 L292.0 119.8 L292.5 119.8 L293.0 119.8 L293.5 119.9 L294.0 119.9 L294.5 119.9 L295.0 120.0 L295.5 120.0 L296.0 120.0 L296.5 120.1 L297.0 120.1 L297.5 120.1 L298.0 120.1 L298.5 120.2 L299.0 120.2 L299.5 120.2 L300.0 120.3 L300.5 120.3 L301.0 120.3 L301.5 120.3 L302.0 120.4 L302.5 120.4 L303.0 120.4 L303.5 120.4 L304.0 120.5 L304.5 120.5 L305.0 120.5 L305.5 120.5 L306.0 120.6 L306.5 120.6 L307.0 120.6 L307.5 120.6 L308.0 120.7 L308.5 120.7 L309.0 120.7 L309.5 120.7 L310.0 120.8 L310.5 120.8 L311.0 120.8 L311.5 120.8 L312.0 120.8 L312.5 120.9 L313.0 120.9 L313.5 120.9 L314.0 120.9 L314.5 120.9 L315.0 121.0 L315.5 121.0 L316.0 121.0 L316.5 121.0 L317.0 121.0 L317.5 121.1 L318.0 121.1 L318.5 121.1 L319.0 121.1 L319.5 121.1 L320.0 121.2 L320.5 121.2 L321.0 121.2 L321.5 121.2 L322.0 121.2 L322.5 121.3 L323.0 121.3 L323.5 121.3 L324.0 121.3 L324.5 121.3 L325.0 121.4 L325.5 121.4 L326.0 121.4 L326.5 121.4 L327.0 121.4 L327.5 121.5 L328.0 121.5 L328.5 121.5 L329.0 121.5 L329.5 121.5 L330.0 121.5 L330.5 121.6 L331.0 121.6 L331.5 121.6 L332.0 121.6 L332.5 121.6 L333.0 121.7 L333.5 121.7 L334.0 121.7 L334.5 121.7 L335.0 121.7 L335.5 121.7 L336.0 121.8 L336.5 121.8 L337.0 121.8 L337.5 121.8 L338.0 121.8 L338.5 121.8 L339.0 121.8 L339.5 121.9 L340.0 121.9 L340.5 121.9 L341.0 121.9 L341.5 121.9 L342.0 121.9 L342.5 121.9 L343.0 121.9 L343.5 122.0 L344.0 122.0 L344.5 122.0 L345.0 122.0 L345.5 122.0 L346.0 122.0 L346.5 122.0 L347.0 122.0 L347.5 122.0 L348.0 122.0 L348.5 122.0 L349.0 122.0 L349.5 122.0 L350.0 122.0 L350.5 122.1 L351.0 122.1 L351.5 122.1 L352.0 122.1 L352.5 122.1 L353.0 122.1 L353.5 122.1 L354.0 122.1 L354.5 122.1 L355.0 122.1 L355.5 122.1 L356.0 122.1 L356.5 122.1 L357.0 122.1 L357.5 122.1 L358.0 122.1 L358.5 122.1 L359.0 122.1 L359.5 122.1 L360.0 122.1 L360.5 122.2 L361.0 122.2 L361.5 122.2 L362.0 122.2 L362.5 122.2 L363.0 122.2 L363.5 122.2 L364.0 122.2 L364.5 122.2 L365.0 122.2 L365.5 122.2 L366.0 122.2 L366.5 122.2 L367.0 122.2 L367.5 122.2 L368.0 122.2 L368.5 122.2 L369.0 122.2 L369.5 122.2 L370.0 122.2 L370.5 122.2 L371.0 122.2 L371.5 122.2 L372.0 122.2 L372.5 122.2 L373.0 122.1 L373.5 122.1 L374.0 122.0 L374.5 121.9 L375.0 121.7 L375.5 121.6 L376.0 121.5 L376.5 121.3 L377.0 121.0 L377.5 120.6 L378.0 120.1 L378.5 119.5 L379.0 118.9 L379.5 118.3 L380.0 117.9 L380.5 117.7 L381.0 117.7 L381.5 118.0 L382.0 118.4 L382.5 118.9 L383.0 119.5 L383.5 120.1 L384.0 120.6 L384.5 121.0 L385.0 121.3 L385.5 121.5 L386.0 121.6 L386.5 121.8 L387.0 121.9 L387.5 122.0 L388.0 122.1 L388.5 122.2 L389.0 122.2 L389.5 122.3 L390.0 122.3 L390.5 122.4 L391.0 122.4 L391.5 122.4 L392.0 122.5 L392.5 122.5 L393.0 122.5 L393.5 122.5 L394.0 122.6 L394.5 122.6 L395.0 122.6 L395.5 122.6 L396.0 122.6 L396.5 122.7 L397.0 122.7 L397.5 122.7 L398.0 122.7 L398.5 122.7 L399.0 122.8 L399.5 122.8 L400.0 122.8 L400.5 122.8 L401.0 122.8 L401.5 122.9 L402.0 122.9 L402.5 122.9 L403.0 122.9 L403.5 123.0 L404.0 123.0 L404.5 123.0 L405.0 123.1 L405.5 123.1 L406.0 123.1 L406.5 123.1 L407.0 123.2 L407.5 123.2 L408.0 123.2 L408.5 123.2 L409.0 123.3 L409.5 123.3 L410.0 123.3 L410.5 123.3 L411.0 123.4 L411.5 123.4 L412.0 123.4 L412.5 123.5 L413.0 123.5 L413.5 123.5 L414.0 123.5 L414.5 123.6 L415.0 123.6 L415.5 123.6 L416.0 123.6 L416.5 123.7 L417.0 123.7 L417.5 123.7 L418.0 123.7 L418.5 123.7 L419.0 123.8 L419.5 123.8 L420.0 123.8 L420.5 123.8 L421.0 123.8 L421.5 123.9 L422.0 123.9 L422.5 123.9 L423.0 123.9 L423.5 123.9 L424.0 124.0 L424.5 124.0 L425.0 124.0 L425.5 124.0 L426.0 124.0 L426.5 124.0 L427.0 124.0 L427.5 124.1 L428.0 124.1 L428.5 124.1 L429.0 124.1 L429.5 124.1 L430.0 124.1 L430.5 124.1 L431.0 124.1 L431.5 124.1 L432.0 124.2 L432.5 124.2 L433.0 124.2 L433.5 124.2 L434.0 124.2 L434.5 124.2 L435.0 124.2 L435.5 124.2 L436.0 124.2 L436.5 124.2 L437.0 124.3 L437.5 124.3 L438.0 124.3 L438.5 124.3 L439.0 124.3 L439.5 124.3 L440.0 124.3 L440.5 124.3 L441.0 124.3 L441.5 124.3 L442.0 124.3 L442.5 124.3 L443.0 124.4 L443.5 124.4 L444.0 124.4 L444.5 124.4 L445.0 124.4 L445.5 124.4 L446.0 124.4 L446.5 124.4 L447.0 124.4 L447.5 124.4 L448.0 124.4 L448.5 124.5 L449.0 124.5 L449.5 124.5 L450.0 124.5 L450.5 124.5 L451.0 124.5 L451.5 124.5 L452.0 124.5 L452.5 124.5 L453.0 124.5 L453.5 124.6 L454.0 124.6 L454.5 124.6 L455.0 124.6 L455.5 124.6 L456.0 124.6 L456.5 124.6 L457.0 124.6 L457.5 124.7 L458.0 124.7 L458.5 124.7 L459.0 124.7 L459.5 124.7 L460.0 124.7 L460.5 124.7 L461.0 124.7 L461.5 124.8 L462.0 124.8 L462.5 124.8 L463.0 124.8 L463.5 124.8 L464.0 124.8 L464.5 124.8 L465.0 124.8 L465.5 124.9 L466.0 124.9 L466.5 124.9 L467.0 124.9 L467.5 124.9 L468.0 124.9 L468.5 124.9 L469.0 124.9 L469.5 124.9 L470.0 124.9 L470.5 125.0 L471.0 125.0 L471.5 125.0 L472.0 125.0 L472.5 125.0 L473.0 125.0 L473.5 125.0 L474.0 125.0 L474.5 125.0 L475.0 125.0 L475.5 125.0 L476.0 125.0 L476.5 125.0 L477.0 125.0 L477.5 125.0 L478.0 125.0 L478.5 125.0 L479.0 125.0 L479.5 125.0 L480.0 125.0 L480.5 125.0 L481.0 125.0 L481.5 125.0 L482.0 125.0 L482.5 125.0 L483.0 125.0 L483.5 124.9 L484.0 124.9 L484.5 124.9 L485.0 124.9 L485.5 124.9 L486.0 124.9 L486.5 124.9 L487.0 124.9 L487.5 124.9 L488.0 124.9 L488.5 124.9 L489.0 124.9 L489.5 124.8 L490.0 124.8 L490.5 124.8 L491.0 124.8 L491.5 124.8 L492.0 124.8 L492.5 124.8 L493.0 124.8 L493.5 124.7 L494.0 124.7 L494.5 124.7 L495.0 124.7 L495.5 124.7 L496.0 124.7 L496.5 124.7 L497.0 124.6 L497.5 124.6 L498.0 124.6 L498.5 124.6 L499.0 124.6 L499.5 124.6 L500.0 124.6 L500.5 124.5 L501.0 124.5 L501.5 124.5 L502.0 124.5 L502.5 124.5 L503.0 124.5 L503.5 124.4 L504.0 124.4 L504.5 124.4 L505.0 124.4 L505.5 124.4 L506.0 124.3 L506.5 124.3 L507.0 124.3 L507.5 124.3 L508.0 124.2 L508.5 124.2 L509.0 124.2 L509.5 124.1 L510.0 124.1 L510.5 124.1 L511.0 124.0 L511.5 124.0 L512.0 124.0 L512.5 123.9 L513.0 123.9 L513.5 123.9 L514.0 123.8 L514.5 123.8 L515.0 123.7 L515.5 123.7 L516.0 123.7 L516.5 123.6 L517.0 123.6 L517.5 123.5 L518.0 123.5 L518.5 123.5 L519.0 123.4 L519.5 123.4 L520.0 123.3 L520.5 123.3 L521.0 123.2 L521.5 123.2 L522.0 123.1 L522.5 123.1 L523.0 123.0 L523.5 123.0 L524.0 122.9 L524.5 122.9 L525.0 122.8 L525.5 122.8 L526.0 122.7 L526.5 122.7 L527.0 122.6 L527.5 122.6 L528.0 122.5 L528.5 122.4 L529.0 122.4 L529.5 122.3 L530.0 122.3 L530.5 122.2 L531.0 122.2 L531.5 122.1 L532.0 122.0 L532.4 122.0" stroke="#ff8000" stroke-width="3.0" fill="none" stroke-linejoin="round" stroke-linecap="butt" />
<path d="M37.0 118.1 L37.5 117.7 L38.0 117.3 L38.5 116.5 L39.0 115.7 L39.5 114.8 L40.0 113.5 L40.5 112.3 L41.0 111.0 L41.5 109.5 L42.0 108.2 L42.5 106.5 L43.0 105.1 L43.5 103.2 L44.0 101.4 L44.5 99.6 L45.0 98.0 L45.5 96.3 L46.0 94.8 L46.5 93.2 L47.0 91.2 L47.5 89.0 L48.0 86.9 L48.5 84.8 L49.0 82.7 L49.5 80.7 L50.0 78.7 L50.5 76.5 L51.0 74.3 L51.5 72.4 L52.0 70.1 L52.5 68.0 L53.0 66.1 L53.5 63.8 L54.0 62.0 L54.5 60.3 L55.0 58.7 L55.5 57.3 L56.0 56.0 L56.5 54.9 L57.0 53.5 L57.5 52.6 L58.0 51.6 L58.5 50.6 L59.0 50.5 L59.5 50.2 L60.0 50.1 L60.5 50.6 L61.0 51.0 L61.5 51.7 L62.0 52.9 L62.5 53.9 L63.0 54.9 L63.5 56.1 L64.0 56.7 L64.5 57.4 L65.0 57.8 L65.5 58.3 L66.0 58.8 L66.5 59.3 L67.0 60.0 L67.5 60.6 L68.0 61.4 L68.5 61.7 L69.0 61.9 L69.5 62.0 L70.0 61.6 L70.5 61.7 L71.0 61.8 L71.5 61.9 L72.0 62.2 L72.5 62.2 L73.0 62.1 L73.5 61.8 L74.0 61.8 L74.5 61.7 L75.0 61.7 L75.5 61.7 L76.0 61.4 L76.5 61.3 L77.0 61.1 L77.5 60.9 L78.0 60.8 L78.5 60.9 L79.0 61.0 L79.5 60.9 L80.0 61.0 L80.5 60.6 L81.0 60.5 L81.5 60.4 L82.0 60.2 L82.5 59.9 L83.0 59.7 L83.5 59.3 L84.0 58.7 L84.5 58.7 L85.0 58.4 L85.5 58.4 L86.0 58.9 L86.5 58.6 L87.0 58.5 L87.5 58.3 L88.0 57.9 L88.5 57.8 L89.0 57.7 L89.5 57.5 L90.0 57.3 L90.5 57.0 L91.0 56.9 L91.5 56.6 L92.0 56.1 L92.5 56.1 L93.0 55.8 L93.5 55.7 L94.0 55.7 L94.5 55.5 L95.0 55.3 L95.5 54.9 L96.0 54.3 L96.5 53.9 L97.0 53.9 L97.5 53.4 L98.0 53.6 L98.5 53.3 L99.0 53.2 L99.5 53.2 L100.0 53.1 L100.5 53.2 L101.0 52.8 L101.5 52.9 L102.0 52.9 L102.5 52.8 L103.0 52.8 L103.5 52.5 L104.0 52.1 L104.5 52.2 L105.0 52.1 L105.5 52.0 L106.0 52.0 L106.5 51.6 L107.0 51.5 L107.5 51.6 L108.0 51.6 L108.5 51.7 L109.0 51.8 L109.5 51.5 L110.0 51.4 L110.5 51.2 L111.0 51.1 L111.5 51.1 L112.0 51.1 L112.5 51.0 L113.0 51.0 L113.5 51.5 L114.0 51.7 L114.5 52.1 L115.0 52.6 L115.5 53.0 L116.0 53.3 L116.5 53.8 L117.0 54.0 L117.5 54.0 L118.0 54.6 L118.5 54.9 L119.0 55.3 L119.5 55.7 L120.0 55.9 L120.5 56.1 L121.0 56.4 L121.5 56.6 L122.0 56.6 L122.5 57.1 L123.0 57.4 L123.5 57.8 L124.0 58.2 L124.5 58.3 L125.0 58.5 L125.5 58.8 L126.0 59.0 L126.5 59.3 L127.0 59.7 L127.5 60.0 L128.0 60.4 L128.5 60.7 L129.0 60.9 L129.5 60.8 L130.0 61.1 L130.5 61.4 L131.0 61.7 L131.5 62.2 L132.0 62.4 L132.5 62.6 L133.0 63.0 L133.5 63.1 L134.0 63.5 L134.5 63.4 L135.0 63.7 L135.5 64.1 L136.0 64.2 L136.5 64.9 L137.0 65.3 L137.5 65.3 L138.0 65.2 L138.5 65.3 L139.0 65.3 L139.5 65.7 L140.0 66.3 L140.5 66.3 L141.0 66.4 L141.5 66.7 L142.0 66.9 L142.5 67.4 L143.0 67.9 L143.5 68.1 L144.0 68.2 L144.5 68.5 L145.0 68.6 L145.5 68.8 L146.0 69.4 L146.5 69.7 L147.0 70.2 L147.5 70.6 L148.0 70.7 L148.5 70.9 L149.0 71.0 L149.5 71.5 L150.0 71.8 L150.5 72.3 L151.0 72.8 L151.5 73.3 L152.0 73.6 L152.5 73.9 L153.0 74.2 L153.5 74.2 L154.0 74.5 L154.5 74.6 L155.0 75.0 L155.5 75.3 L156.0 75.8 L156.5 76.1 L157.0 76.5 L157.5 76.8 L158.0 76.7 L158.5 77.0 L159.0 76.8 L159.5 76.7 L160.0 77.2 L160.5 77.7 L161.0 78.3 L161.5 78.8 L162.0 79.0 L162.5 79.3 L163.0 79.5 L163.5 80.0 L164.0 80.4 L164.5 80.5 L165.0 80.8 L165.5 81.1 L166.0 81.4 L166.5 81.5 L167.0 81.7 L167.5 81.8 L168.0 82.2 L168.5 82.4 L169.0 82.6 L169.5 82.9 L170.0 82.8 L170.5 83.5 L171.0 83.9 L171.5 84.1 L172.0 84.6 L172.5 84.7 L173.0 84.4 L173.5 84.7 L174.0 84.8 L174.5 85.0 L175.0 85.5 L175.5 85.6 L176.0 85.8 L176.5 86.2 L177.0 86.6 L177.5 86.9 L178.0 87.4 L178.5 87.3 L179.0 87.5 L179.5 87.4 L180.0 87.7 L180.5 88.1 L181.0 88.5 L181.5 89.0 L182.0 89.1 L182.5 89.2 L183.0 89.2 L183.5 89.3 L184.0 89.5 L184.5 89.9 L185.0 90.2 L185.5 90.5 L186.0 90.6 L186.5 90.5 L187.0 90.9 L187.5 91.2 L188.0 91.5 L188.5 91.8 L189.0 91.6 L189.5 91.8 L190.0 92.1 L190.5 92.4 L191.0 92.7 L191.5 92.9 L192.0 93.1 L192.5 93.1 L193.0 93.4 L193.5 93.5 L194.0 93.8 L194.5 94.2 L195.0 94.5 L195.5 95.1 L196.0 95.2 L196.5 95.4 L197.0 95.6 L197.5 95.6 L198.0 95.8 L198.5 96.2 L199.0 96.6 L199.5 96.8 L200.0 97.2 L200.5 97.2 L201.0 97.2 L201.5 97.3 L202.0 97.4 L202.5 97.9 L203.0 98.0 L203.5 98.5 L204.0 99.1 L204.5 99.2 L205.0 99.6 L205.5 100.0 L206.0 100.0 L206.5 100.1 L207.0 100.1 L207.5 100.0 L208.0 100.5 L208.5 100.9 L209.0 101.2 L209.5 101.3 L210.0 101.2 L210.5 101.3 L211.0 101.7 L211.5 102.0 L212.0 102.3 L212.5 102.5 L213.0 102.7 L213.5 102.9 L214.0 103.0 L214.5 103.3 L215.0 103.8 L215.5 104.0 L216.0 104.2 L216.5 104.1 L217.0 104.1 L217.5 103.9 L218.0 103.9 L218.5 104.4 L219.0 104.7 L219.5 105.1 L220.0 105.2 L220.5 105.2 L221.0 105.2 L221.5 105.5 L222.0 106.2 L222.5 106.5 L223.0 106.6 L223.5 106.6 L224.0 106.4 L224.5 106.5 L225.0 106.7 L225.5 107.0 L226.0 107.0 L226.5 107.4 L227.0 107.9 L227.5 108.2 L228.0 108.5 L228.5 108.6 L229.0 108.6 L229.5 108.6 L230.0 108.8 L230.5 108.7 L231.0 108.7 L231.5 109.1 L232.0 109.3 L232.5 109.7 L233.0 110.2 L233.5 110.0 L234.0 110.1 L234.5 110.3 L235.0 110.4 L235.5 110.8 L236.0 111.2 L236.5 111.4 L237.0 111.3 L237.5 111.4 L238.0 111.5 L238.5 111.7 L239.0 111.8 L239.5 112.2 L240.0 112.3 L240.5 112.6 L241.0 112.9 L241.5 112.8 L242.0 112.7 L242.5 113.0 L243.0 113.2 L243.5 113.6 L244.0 113.8 L244.5 113.6 L245.0 113.5 L245.5 113.3 L246.0 113.7 L246.5 113.6 L247.0 114.1 L247.5 114.3 L248.0 114.2 L248.5 114.4 L249.0 114.3 L249.5 114.3 L250.0 114.5 L250.5 114.6 L251.0 114.7 L251.5 114.7 L252.0 114.7 L252.5 114.9 L253.0 115.1 L253.5 115.2 L254.0 115.5 L254.5 115.5 L255.0 115.3 L255.5 115.8 L256.0 115.8 L256.5 116.2 L257.0 116.3 L257.5 116.3 L258.0 116.5 L258.5 116.2 L259.0 116.5 L259.5 116.5 L260.0 116.7 L260.5 116.9 L261.0 116.8 L261.5 116.9 L262.0 116.9 L262.5 117.1 L263.0 117.2 L263.5 117.3 L264.0 117.1 L264.5 117.1 L265.0 117.2 L265.5 117.0 L266.0 117.3 L266.5 117.4 L267.0 117.4 L267.5 117.5 L268.0 117.5 L268.5 117.3 L269.0 117.6 L269.5 117.7 L270.0 117.7 L270.5 118.0 L271.0 117.9 L271.5 118.1 L272.0 118.1 L272.5 117.9 L273.0 117.8 L273.5 118.1 L274.0 118.2 L274.5 118.4 L275.0 118.7 L275.5 118.5 L276.0 118.6 L276.5 118.9 L277.0 118.8 L277.5 118.6 L278.0 118.5 L278.5 118.1 L279.0 118.4 L279.5 118.8 L280.0 118.8 L280.5 118.9 L281.0 118.8 L281.5 118.9 L282.0 118.7 L282.5 119.0 L283.0 118.9 L283.5 118.9 L284.0 119.2 L284.5 119.2 L285.0 119.1 L285.5 118.9 L286.0 119.3 L286.5 119.5 L287.0 119.7 L287.5 119.7 L288.0 119.3 L288.5 119.2 L289.0 119.3 L289.5 119.4 L290.0 119.7 L290.5 119.7 L291.0 119.7 L291.5 119.7 L292.0 120.0 L292.5 120.4 L293.0 120.4 L293.5 120.4 L294.0 120.2 L294.5 119.9 L295.0 119.9 L295.5 120.0 L296.0 119.9 L296.5 120.1 L297.0 120.2 L297.5 120.3 L298.0 120.4 L298.5 120.3 L299.0 120.2 L299.5 120.1 L300.0 120.1 L300.5 120.3 L301.0 120.4 L301.5 120.3 L302.0 120.4 L302.5 120.2 L303.0 120.2 L303.5 120.3 L304.0 120.1 L304.5 120.3 L305.0 120.4 L305.5 120.5 L306.0 120.7 L306.5 120.7 L307.0 120.6 L307.5 120.6 L308.0 120.6 L308.5 120.7 L309.0 120.6 L309.5 120.7 L310.0 120.9 L310.5 120.8 L311.0 121.0 L311.5 121.0 L312.0 120.8 L312.5 120.9 L313.0 121.0 L313.5 121.0 L314.0 121.3 L314.5 121.2 L315.0 121.1 L315.5 121.2 L316.0 121.2 L316.5 121.4 L317.0 121.2 L317.5 121.2 L318.0 121.3 L318.5 121.5 L319.0 121.7 L319.5 121.5 L320.0 121.5 L320.5 121.3 L321.0 121.0 L321.5 121.2 L322.0 120.9 L322.5 120.8 L323.0 121.1 L323.5 121.2 L324.0 121.4 L324.5 121.6 L325.0 122.0 L325.5 122.0 L326.0 122.1 L326.5 122.0 L327.0 121.6 L327.5 121.3 L328.0 121.4 L328.5 121.5 L329.0 121.7 L329.5 122.0 L330.0 121.8 L330.5 121.8 L331.0 121.9 L331.5 121.9 L332.0 122.1 L332.5 122.2 L333.0 122.1 L333.5 122.1 L334.0 121.8 L334.5 121.6 L335.0 121.7 L335.5 121.7 L336.0 121.8 L336.5 121.9 L337.0 121.7 L337.5 121.7 L338.0 121.5 L338.5 121.5 L339.0 121.5 L339.5 121.7 L340.0 121.9 L340.5 122.1 L341.0 122.2 L341.5 122.2 L342.0 121.8 L342.5 121.8 L343.0 121.9 L343.5 121.9 L344.0 122.5 L344.5 122.7 L345.0 122.7 L345.5 122.7 L346.0 122.5 L346.5 122.3 L347.0 122.3 L347.5 122.4 L348.0 122.5 L348.5 122.6 L349.0 122.6 L349.5 122.5 L350.0 122.4 L350.5 122.5 L351.0 122.7 L351.5 122.5 L352.0 122.3 L352.5 122.3 L353.0 122.2 L353.5 122.5 L354.0 122.3 L354.5 122.2 L355.0 122.2 L355.5 121.9 L356.0 121.9 L356.5 122.2 L357.0 122.2 L357.5 122.4 L358.0 122.5 L358.5 122.5 L359.0 122.5 L359.5 122.5 L360.0 122.5 L360.5 122.2 L361.0 122.3 L361.5 122.0 L362.0 122.3 L362.5 122.4 L363.0 122.3 L363.5 122.4 L364.0 122.2 L364.5 122.3 L365.0 122.4 L365.5 122.3 L366.0 122.5 L366.5 122.7 L367.0 123.1 L367.5 123.2 L368.0 123.0 L368.5 122.9 L369.0 122.6 L369.5 122.5 L370.0 122.5 L370.5 122.3 L371.0 122.2 L371.5 122.1 L372.0 121.9 L372.5 121.9 L373.0 121.9 L373.5 122.0 L374.0 122.2 L374.5 122.0 L375.0 122.0 L375.5 121.9 L376.0 121.6 L376.5 121.4 L377.0 121.0 L377.5 120.6 L378.0 120.2 L378.5 119.6 L379.0 119.1 L379.5 118.4 L380.0 118.1 L380.5 117.7 L381.0 117.6 L381.5 117.9 L382.0 118.5 L382.5 119.4 L383.0 120.1 L383.5 120.8 L384.0 121.3 L384.5 121.6 L385.0 121.8 L385.5 122.0 L386.0 122.0 L386.5 122.2 L387.0 122.3 L387.5 122.5 L388.0 122.8 L388.5 122.9 L389.0 123.1 L389.5 122.6 L390.0 122.5 L390.5 122.4 L391.0 122.4 L391.5 122.9 L392.0 122.7 L392.5 122.6 L393.0 122.6 L393.5 122.4 L394.0 122.4 L394.5 122.6 L395.0 122.5 L395.5 122.3 L396.0 122.6 L396.5 122.7 L397.0 122.9 L397.5 123.5 L398.0 123.4 L398.5 123.1 L399.0 122.9 L399.5 122.4 L400.0 122.4 L400.5 122.7 L401.0 122.5 L401.5 122.8 L402.0 122.7 L402.5 122.7 L403.0 123.0 L403.5 122.9 L404.0 123.2 L404.5 123.1 L405.0 123.0 L405.5 122.9 L406.0 122.9 L406.5 123.3 L407.0 123.6 L407.5 124.1 L408.0 124.2 L408.5 123.9 L409.0 123.8 L409.5 123.7 L410.0 123.6 L410.5 123.7 L411.0 123.5 L411.5 123.5 L412.0 123.5 L412.5 123.4 L413.0 123.4 L413.5 123.8 L414.0 123.8 L414.5 124.0 L415.0 124.1 L415.5 123.9 L416.0 123.8 L416.5 123.8 L417.0 123.9 L417.5 123.9 L418.0 124.1 L418.5 124.3 L419.0 124.1 L419.5 124.1 L420.0 124.1 L420.5 124.1 L421.0 123.9 L421.5 123.8 L422.0 123.9 L422.5 123.8 L423.0 124.1 L423.5 124.4 L424.0 124.3 L424.5 124.3 L425.0 124.2 L425.5 124.0 L426.0 124.3 L426.5 124.0 L427.0 123.8 L427.5 123.9 L428.0 123.6 L428.5 123.6 L429.0 124.0 L429.5 124.1 L430.0 124.5 L430.5 124.6 L431.0 124.4 L431.5 124.2 L432.0 123.9 L432.5 123.8 L433.0 124.0 L433.5 124.1 L434.0 123.9 L434.5 124.2 L435.0 124.1 L435.5 124.3 L436.0 124.6 L436.5 124.6 L437.0 124.6 L437.5 124.7 L438.0 124.8 L438.5 124.8 L439.0 124.8 L439.5 124.5 L440.0 124.4 L440.5 124.3 L441.0 124.3 L441.5 124.3 L442.0 124.6 L442.5 124.6 L443.0 124.4 L443.5 124.4 L444.0 124.1 L444.5 124.1 L445.0 124.2 L445.5 124.5 L446.0 124.4 L446.5 124.5 L447.0 124.5 L447.5 124.5 L448.0 124.8 L448.5 125.0 L449.0 125.0 L449.5 125.0 L450.0 124.7 L450.5 124.5 L451.0 124.5 L451.5 124.5 L452.0 124.6 L452.5 124.4 L453.0 124.4 L453.5 124.4 L454.0 124.1 L454.5 124.1 L455.0 124.2 L455.5 124.3 L456.0 124.6 L456.5 124.5 L457.0 124.5 L457.5 124.6 L458.0 124.7 L458.5 125.0 L459.0 124.9 L459.5 124.9 L460.0 124.8 L460.5 124.7 L461.0 124.7 L461.5 124.8 L462.0 124.9 L462.5 125.3 L463.0 125.3 L463.5 125.3 L464.0 125.2 L464.5 125.0 L465.0 125.4 L465.5 125.4 L466.0 125.4 L466.5 125.4 L467.0 125.2 L467.5 125.2 L468.0 125.2 L468.5 125.0 L469.0 124.9 L469.5 124.8 L470.0 124.9 L470.5 125.3 L471.0 125.4 L471.5 125.5 L472.0 125.4 L472.5 125.3 L473.0 125.6 L473.5 125.6 L474.0 125.7 L474.5 125.6 L475.0 125.6 L475.5 125.4 L476.0 125.3 L476.5 125.4 L477.0 125.2 L477.5 125.3 L478.0 125.3 L478.5 125.2 L479.0 125.2 L479.5 125.2 L480.0 125.0 L480.5 125.0 L481.0 125.1 L481.5 125.0 L482.0 125.1 L482.5 125.2 L483.0 124.9 L483.5 125.1 L484.0 125.0 L484.5 125.0 L485.0 125.5 L485.5 125.7 L486.0 125.8 L486.5 125.8 L487.0 125.5 L487.5 125.2 L488.0 125.4 L488.5 125.1 L489.0 125.2 L489.5 125.2 L490.0 125.2 L490.5 125.4 L491.0 125.1 L491.5 125.2 L492.0 125.1 L492.5 125.0 L493.0 125.2 L493.5 125.0 L494.0 124.6 L494.5 124.7 L495.0 124.8 L495.5 124.8 L496.0 125.1 L496.5 125.1 L497.0 125.0 L497.5 124.8 L498.0 124.8 L498.5 124.8 L499.0 124.6 L499.5 124.9 L500.0 124.8 L500.5 124.5 L501.0 124.8 L501.5 124.6 L502.0 124.5 L502.5 124.6 L503.0 124.5 L503.5 124.7 L504.0 124.8 L504.5 124.9 L505.0 124.8 L505.5 124.6 L506.0 124.6 L506.5 124.6 L507.0 124.4 L507.5 124.4 L508.0 124.3 L508.5 124.3 L509.0 124.2 L509.5 124.2 L510.0 124.3 L510.5 124.3 L511.0 124.5 L511.5 124.7 L512.0 124.6 L512.5 124.8 L513.0 124.5 L513.5 124.5 L514.0 124.3 L514.5 124.2 L515.0 124.5 L515.5 124.1 L516.0 124.0 L516.5 123.7 L517.0 123.6 L517.5 123.9 L518.0 124.0 L518.5 123.9 L519.0 123.8 L519.5 123.7 L520.0 123.8 L520.5 123.4 L521.0 123.3 L521.5 123.1 L522.0 123.1 L522.5 123.3 L523.0 123.1 L523.5 123.2 L524.0 122.9 L524.5 122.7 L525.0 122.6 L525.5 122.5 L526.0 122.6 L526.5 122.8 L527.0 123.0 L527.5 123.1 L528.0 123.0 L528.5 122.8 L529.0 122.8 L529.5 122.7 L530.0 122.6 L530.5 122.6 L531.0 122.4 L531.5 122.2 L532.0 122.1 L532.4 122.2" stroke="#000" stroke-width="1.0" fill="none" stroke-linejoin="round" stroke-linecap="butt" />
<path d="M38.0 234.1 L38.5 233.6 L39.0 233.1 L39.5 232.5 L40.0 231.8 L40.5 231.0 L41.0 230.2 L41.5 229.2 L42.0 228.1 L42.5 226.9 L43.0 225.5 L43.5 224.0 L44.0 222.4 L44.5 220.7 L45.0 218.8 L45.5 216.8 L46.0 214.7 L46.5 212.4 L47.0 210.0 L47.5 207.5 L48.0 204.9 L48.5 202.3 L49.0 199.6 L49.5 196.8 L50.0 194.0 L50.5 191.3 L51.0 188.5 L51.5 185.8 L52.0 183.2 L52.5 180.7 L53.0 178.4 L53.5 176.2 L54.0 174.2 L54.5 172.4 L55.0 170.9 L55.5 169.6 L56.0 168.6 L56.5 167.8 L57.0 167.4 L57.5 167.3 L58.0 167.4 L58.5 167.9 L59.0 168.7 L59.5 169.7 L60.0 171.0 L60.5 172.6 L61.0 174.4 L61.5 176.4 L62.0 178.7 L62.5 181.0 L63.0 183.6 L63.5 186.2 L64.0 188.9 L64.5 191.7 L65.0 194.5 L65.5 197.3 L66.0 200.1 L66.5 202.8 L67.0 205.5 L67.5 208.1 L68.0 210.6 L68.5 213.0 L69.0 215.3 L69.5 217.5 L70.0 219.5 L70.5 221.4 L71.0 223.2 L71.5 224.9 L72.0 226.4 L72.5 227.7 L73.0 229.0 L73.5 230.1 L74.0 231.1 L74.5 232.0 L75.0 232.8 L75.5 233.6 L76.0 234.2 L76.5 234.8 L77.0 235.2 L77.5 235.7 L78.0 236.0 L78.5 236.3 L79.0 236.6 L79.5 236.9 L80.0 237.1 L80.5 237.2 L81.0 237.4 L81.5 237.5 L82.0 237.6 L82.5 237.7 L83.0 237.8 L83.5 237.8 L84.0 237.9 L84.5 237.9 L85.0 238.0 L85.5 238.0 L86.0 238.0 L86.5 238.1 L87.0 238.1 L87.5 238.1 L88.0 238.1 L88.5 238.2 L89.0 238.2 L89.5 238.2 L90.0 238.2 L90.5 238.2 L91.0 238.2 L91.5 238.3 L92.0 238.3 L92.5 238.3 L93.0 238.3 L93.5 238.3 L94.0 238.3 L94.5 238.3 L95.0 238.4 L95.5 238.4 L96.0 238.4 L96.5 238.4 L97.0 238.4 L97.5 238.4 L98.0 238.4 L98.5 238.5 L99.0 238.5 L99.5 238.5 L100.0 238.5 L100.5 238.5 L101.0 238.5 L101.5 238.5 L102.0 238.6 L102.5 238.6 L103.0 238.6 L103.5 238.6 L104.0 238.6 L104.5 238.6 L105.0 238.6 L105.5 238.7 L106.0 238.7 L106.5 238.7 L107.0 238.7 L107.5 238.7 L108.0 238.7 L108.5 238.7 L109.0 238.7 L109.5 238.8 L110.0 238.8 L110.5 238.8 L111.0 238.8 L111.5 238.8 L112.0 238.8 L112.5 238.8 L113.0 238.8 L113.5 238.9 L114.0 238.9 L114.5 238.9 L115.0 238.9 L115.5 238.9 L116.0 238.9 L116.5 238.9 L117.0 238.9 L117.5 239.0 L118.0 239.0 L118.5 239.0 L119.0 239.0 L119.5 239.0 L120.0 239.0 L120.5 239.0 L121.0 239.0 L121.5 239.1 L122.0 239.1 L122.5 239.1 L123.0 239.1 L123.5 239.1 L124.0 239.1 L124.5 239.1 L125.0 239.1 L125.5 239.2 L126.0 239.2 L126.5 239.2 L127.0 239.2 L127.5 239.2 L128.0 239.2 L128.5 239.2 L129.0 239.2 L129.5 239.3 L130.0 239.3 L130.5 239.3 L131.0 239.3 L131.5 239.3 L132.0 239.3 L132.5 239.3 L133.0 239.4 L133.5 239.4 L134.0 239.4 L134.5 239.4 L135.0 239.4 L135.5 239.4 L136.0 239.4 L136.5 239.5 L137.0 239.5 L137.5 239.5 L138.0 239.5 L138.5 239.5 L139.0 239.5 L139.5 239.5 L140.0 239.6 L140.5 239.6 L141.0 239.6 L141.5 239.6 L142.0 239.6 L142.5 239.6 L143.0 239.6 L143.5 239.7 L144.0 239.7 L144.5 239.7 L145.0 239.7 L145.5 239.7 L146.0 239.7 L146.5 239.8 L147.0 239.8 L147.5 239.8 L148.0 239.8 L148.5 239.8 L149.0 239.8 L149.5 239.9 L150.0 239.9 L150.5 239.9 L151.0 239.9 L151.5 239.9 L152.0 239.9 L152.5 240.0 L153.0 240.0 L153.5 240.0 L154.0 240.0 L154.5 240.0 L155.0 240.1 L155.5 240.1 L156.0 240.1 L156.5 240.1 L157.0 240.1 L157.5 240.2 L158.0 240.2 L158.5 240.2 L159.0 240.2 L159.5 240.2 L160.0 240.3 L160.5 240.3 L161.0 240.3 L161.5 240.3 L162.0 240.4 L162.5 240.4 L163.0 240.4 L163.5 240.4 L164.0 240.5 L164.5 240.5 L165.0 240.5 L165.5 240.6 L166.0 240.6 L166.5 240.6 L167.0 240.6 L167.5 240.7 L168.0 240.7 L168.5 240.7 L169.0 240.7 L169.5 240.8 L170.0 240.8 L170.5 240.8 L171.0 240.9 L171.5 240.9 L172.0 240.9 L172.5 240.9 L173.0 241.0 L173.5 241.0 L174.0 241.0 L174.5 241.1 L175.0 241.1 L175.5 241.1 L176.0 241.1 L176.5 241.2 L177.0 241.2 L177.5 241.2 L178.0 241.3 L178.5 241.3 L179.0 241.3 L179.5 241.3 L180.0 241.4 L180.5 241.4 L181.0 241.4 L181.5 241.5 L182.0 241.5 L182.5 241.5 L183.0 241.5 L183.5 241.6 L184.0 241.6 L184.5 241.6 L185.0 241.7 L185.5 241.7 L186.0 241.7 L186.5 241.7 L187.0 241.8 L187.5 241.8 L188.0 241.8 L188.5 241.8 L189.0 241.9 L189.5 241.9 L190.0 241.9 L190.5 241.9 L191.0 242.0 L191.5 242.0 L192.0 242.0 L192.5 242.0 L193.0 242.1 L193.5 242.1 L194.0 242.1 L194.5 242.1 L195.0 242.2 L195.5 242.2 L196.0 242.2 L196.5 242.2 L197.0 242.2 L197.5 242.3 L198.0 242.3 L198.5 242.3 L199.0 242.3 L199.5 242.4 L200.0 242.4 L200.5 242.4 L201.0 242.4 L201.5 242.5 L202.0 242.5 L202.5 242.5 L203.0 242.5 L203.5 242.6 L204.0 242.6 L204.5 242.6 L205.0 242.6 L205.5 242.7 L206.0 242.7 L206.5 242.7 L207.0 242.7 L207.5 242.7 L208.0 242.8 L208.5 242.8 L209.0 242.8 L209.5 242.8 L210.0 242.9 L210.5 242.9 L211.0 242.9 L211.5 242.9 L212.0 242.9 L212.5 243.0 L213.0 243.0 L213.5 243.0 L214.0 243.0 L214.5 243.0 L215.0 243.1 L215.5 243.1 L216.0 243.1 L216.5 243.1 L217.0 243.1 L217.5 243.2 L218.0 243.2 L218.5 243.2 L219.0 243.2 L219.5 243.2 L220.0 243.2 L220.5 243.3 L221.0 243.3 L221.5 243.3 L222.0 243.3 L222.5 243.3 L223.0 243.3 L223.5 243.3 L224.0 243.4 L224.5 243.4 L225.0 243.4 L225.5 243.4 L226.0 243.4 L226.5 243.4 L227.0 243.4 L227.5 243.4 L228.0 243.4 L228.5 243.5 L229.0 243.5 L229.5 243.5 L230.0 243.5 L230.5 243.5 L231.0 243.5 L231.5 243.5 L232.0 243.5 L232.5 243.5 L233.0 243.5 L233.5 243.6 L234.0 243.6 L234.5 243.6 L235.0 243.6 L235.5 243.6 L236.0 243.6 L236.5 243.6 L237.0 243.6 L237.5 243.6 L238.0 243.6 L238.5 243.7 L239.0 243.7 L239.5 243.7 L240.0 243.7 L240.5 243.7 L241.0 243.7 L241.5 243.7 L242.0 243.7 L242.5 243.7 L243.0 243.7 L243.5 243.8 L244.0 243.8 L244.5 243.8 L245.0 243.8 L245.5 243.8 L246.0 243.8 L246.5 243.8 L247.0 243.8 L247.5 243.8 L248.0 243.9 L248.5 243.9 L249.0 243.9 L249.5 243.9 L250.0 243.9 L250.5 243.9 L251.0 243.9 L251.5 244.0 L252.0 244.0 L252.5 244.0 L253.0 244.0 L253.5 244.0 L254.0 244.0 L254.5 244.0 L255.0 244.0 L255.5 244.1 L256.0 244.1 L256.5 244.1 L257.0 244.1 L257.5 244.1 L258.0 244.1 L258.5 244.1 L259.0 244.2 L259.5 244.2 L260.0 244.2 L260.5 244.2 L261.0 244.2 L261.5 244.2 L262.0 244.2 L262.5 244.3 L263.0 244.3 L263.5 244.3 L264.0 244.3 L264.5 244.3 L265.0 244.3 L265.5 244.3 L266.0 244.4 L266.5 244.4 L267.0 244.4 L267.5 244.4 L268.0 244.4 L268.5 244.4 L269.0 244.4 L269.5 244.5 L270.0 244.5 L270.5 244.5 L271.0 244.5 L271.5 244.5 L272.0 244.5 L272.5 244.6 L273.0 244.6 L273.5 244.6 L274.0 244.6 L274.5 244.6 L275.0 244.6 L275.5 244.7 L276.0 244.7 L276.5 244.7 L277.0 244.7 L277.5 244.7 L278.0 244.8 L278.5 244.8 L279.0 244.8 L279.5 244.8 L280.0 244.8 L280.5 244.9 L281.0 244.9 L281.5 244.9 L282.0 244.9 L282.5 244.9 L283.0 245.0 L283.5 245.0 L284.0 245.0 L284.5 245.0 L285.0 245.0 L285.5 245.1 L286.0 245.1 L286.5 245.1 L287.0 245.1 L287.5 245.1 L288.0 245.2 L288.5 245.2 L289.0 245.2 L289.5 245.2 L290.0 245.2 L290.5 245.2 L291.0 245.2 L291.5 245.2 L292.0 245.3 L292.5 245.3 L293.0 245.3 L293.5 245.3 L294.0 245.3 L294.5 245.3 L295.0 245.3 L295.5 245.3 L296.0 245.3 L296.5 245.3 L297.0 245.3 L297.5 245.3 L298.0 245.3 L298.5 245.3 L299.0 245.3 L299.5 245.3 L300.0 245.3 L300.5 245.3 L301.0 245.3 L301.5 245.3 L302.0 245.3 L302.5 245.3 L303.0 245.3 L303.5 245.3 L304.0 245.3 L304.5 245.3 L305.0 245.3 L305.5 245.3 L306.0 245.3 L306.5 245.3 L307.0 245.3 L307.5 245.3 L308.0 245.3 L308.5 245.3 L309.0 245.3 L309.5 245.3 L310.0 245.3 L310.5 245.3 L311.0 245.3 L311.5 245.3 L312.0 245.3 L312.5 245.3 L313.0 245.3 L313.5 245.3 L314.0 245.3 L314.5 245.3 L315.0 245.3 L315.5 245.3 L316.0 245.3 L316.5 245.3 L317.0 245.3 L317.5 245.3 L318.0 245.3 L318.5 245.3 L319.0 245.3 L319.5 245.3 L320.0 245.3 L320.5 245.3 L321.0 245.3 L321.5 245.3 L322.0 245.3 L322.5 245.3 L323.0 245.3 L323.5 245.3 L324.0 245.3 L324.5 245.3 L325.0 245.3 L325.5 245.3 L326.0 245.3 L326.5 245.3 L327.0 245.3 L327.5 245.4 L328.0 245.4 L328.5 245.4 L329.0 245.4 L329.5 245.4 L330.0 245.4 L330.5 245.4 L331.0 245.4 L331.5 245.4 L332.0 245.4 L332.5 245.5 L333.0 245.5 L333.5 245.5 L334.0 245.5 L334.5 245.5 L335.0 245.5 L335.5 245.5 L336.0 245.5 L336.5 245.5 L337.0 245.6 L337.5 245.6 L338.0 245.6 L338.5 245.6 L339.0 245.6 L339.5 245.6 L340.0 245.6 L340.5 245.7 L341.0 245.7 L341.5 245.7 L342.0 245.7 L342.5 245.7 L343.0 245.7 L343.5 245.8 L344.0 245.8 L344.5 245.8 L345.0 245.8 L345.5 245.8 L346.0 245.8 L346.5 245.9 L347.0 245.9 L347.5 245.9 L348.0 245.9 L348.5 246.0 L349.0 246.0 L349.5 246.0 L350.0 246.0 L350.5 246.1 L351.0 246.1 L351.5 246.1 L352.0 246.2 L352.5 246.2 L353.0 246.2 L353.5 246.3 L354.0 246.3 L354.5 246.4 L355.0 246.4 L355.5 246.4 L356.0 246.5 L356.5 246.5 L357.0 246.6 L357.5 246.6 L358.0 246.6 L358.5 246.7 L359.0 246.7 L359.5 246.8 L360.0 246.8 L360.5 246.8 L361.0 246.9 L361.5 246.9 L362.0 247.0 L362.5 247.0 L363.0 247.1 L363.5 247.1 L364.0 247.2 L364.5 247.2 L365.0 247.3 L365.5 247.3 L366.0 247.4 L366.5 247.4 L367.0 247.5 L367.5 247.5 L368.0 247.6 L368.5 247.6 L369.0 247.7 L369.5 247.7 L370.0 247.8 L370.5 247.8 L371.0 247.9 L371.5 248.0 L372.0 248.0 L372.5 248.1 L373.0 248.1 L373.5 248.2 L374.0 248.2 L374.5 248.3 L375.0 248.4 L375.5 248.4 L376.0 248.5 L376.5 248.5 L377.0 248.6 L377.5 248.6 L378.0 248.7 L378.5 248.7 L379.0 248.8 L379.5 248.8 L380.0 248.9 L380.5 248.9 L381.0 249.0 L381.5 249.1 L382.0 249.1 L382.5 249.2 L383.0 249.2 L383.5 249.3 L384.0 249.3 L384.5 249.4 L385.0 249.4 L385.5 249.5 L386.0 249.5 L386.5 249.6 L387.0 249.6 L387.5 249.7 L388.0 249.7 L388.5 249.8 L389.0 249.9 L389.5 249.9 L390.0 250.0 L390.5 250.0 L391.0 250.1 L391.5 250.1 L392.0 250.2 L392.5 250.2 L393.0 250.3 L393.5 250.4 L394.0 250.4 L394.5 250.5 L395.0 250.5 L395.5 250.6 L396.0 250.6 L396.5 250.7 L397.0 250.7 L397.5 250.8 L398.0 250.8 L398.5 250.9 L399.0 251.0 L399.5 251.0 L400.0 251.1 L400.5 251.1 L401.0 251.2 L401.5 251.2 L402.0 251.3 L402.5 251.3 L403.0 251.4 L403.5 251.4 L404.0 251.5 L404.5 251.5 L405.0 251.6 L405.5 251.6 L406.0 251.7 L406.5 251.7 L407.0 251.8 L407.5 251.8 L408.0 251.9 L408.5 251.9 L409.0 252.0 L409.5 252.0 L410.0 252.1 L410.5 252.1 L411.0 252.2 L411.5 252.2 L412.0 252.3 L412.5 252.3 L413.0 252.3 L413.5 252.4 L414.0 252.4 L414.5 252.5 L415.0 252.5 L415.5 252.5 L416.0 252.6 L416.5 252.6 L417.0 252.7 L417.5 252.7 L418.0 252.7 L418.5 252.8 L419.0 252.8 L419.5 252.8 L420.0 252.9 L420.5 252.9 L421.0 252.9 L421.5 253.0 L422.0 253.0 L422.5 253.0 L423.0 253.1 L423.5 253.1 L424.0 253.2 L424.5 253.2 L425.0 253.2 L425.5 253.3 L426.0 253.3 L426.5 253.3 L427.0 253.4 L427.5 253.4 L428.0 253.4 L428.5 253.5 L429.0 253.5 L429.5 253.5 L430.0 253.6 L430.5 253.6 L431.0 253.6 L431.5 253.7 L432.0 253.7 L432.5 253.8 L433.0 253.8 L433.5 253.8 L434.0 253.8 L434.5 253.9 L435.0 253.9 L435.5 253.9 L436.0 254.0 L436.5 254.0 L437.0 254.0 L437.5 254.1 L438.0 254.1 L438.5 254.1 L439.0 254.2 L439.5 254.2 L440.0 254.2 L440.5 254.2 L441.0 254.3 L441.5 254.3 L442.0 254.3 L442.5 254.3 L443.0 254.4 L443.5 254.4 L444.0 254.4 L444.5 254.4 L445.0 254.4 L445.5 254.4 L446.0 254.5 L446.5 254.5 L447.0 254.5 L447.5 254.5 L448.0 254.5 L448.5 254.5 L449.0 254.5 L449.5 254.6 L450.0 254.6 L450.5 254.6 L451.0 254.6 L451.5 254.6 L452.0 254.6 L452.5 254.6 L453.0 254.6 L453.5 254.6 L454.0 254.6 L454.5 254.6 L455.0 254.6 L455.5 254.6 L456.0 254.6 L456.5 254.6 L457.0 254.6 L457.5 254.6 L458.0 254.6 L458.5 254.6 L459.0 254.6 L459.5 254.6 L460.0 254.6 L460.5 254.6 L461.0 254.6 L461.5 254.6 L462.0 254.6 L462.5 254.6 L463.0 254.6 L463.5 254.6 L464.0 254.6 L464.5 254.6 L465.0 254.6 L465.5 254.6 L466.0 254.6 L466.5 254.6 L467.0 254.6 L467.5 254.6 L468.0 254.6 L468.5 254.6 L469.0 254.6 L469.5 254.6 L470.0 254.6 L470.5 254.6 L471.0 254.6 L471.5 254.6 L472.0 254.6 L472.5 254.6 L473.0 254.6 L473.5 254.6 L474.0 254.6 L474.5 254.6 L475.0 254.6 L475.5 254.6 L476.0 254.6 L476.5 254.6 L477.0 254.6 L477.5 254.6 L478.0 254.6 L478.5 254.6 L479.0 254.6 L479.5 254.6 L480.0 254.6 L480.5 254.6 L481.0 254.6 L481.5 254.6 L482.0 254.6 L482.5 254.6 L483.0 254.6 L483.5 254.6 L484.0 254.6 L484.5 254.6 L485.0 254.6 L485.5 254.6 L486.0 254.6 L486.5 254.6 L487.0 254.6 L487.5 254.6 L488.0 254.6 L488.5 254.6 L489.0 254.6 L489.5 254.6 L490.0 254.6 L490.5 254.5 L491.0 254.5 L491.5 254.5 L492.0 254.5 L492.5 254.4 L493.0 254.4 L493.5 254.4 L494.0 254.3 L494.5 254.3 L495.0 254.2 L495.5 254.2 L496.0 254.1 L496.5 254.1 L497.0 254.0 L497.5 254.0 L498.0 253.9 L498.5 253.9 L499.0 253.8 L499.5 253.8 L500.0 253.7 L500.5 253.6 L501.0 253.6 L501.5 253.5 L502.0 253.5 L502.5 253.4 L503.0 253.4 L503.5 253.3 L504.0 253.3 L504.5 253.2 L505.0 253.2 L505.5 253.1 L506.0 253.1 L506.5 253.0 L507.0 253.0 L507.5 253.0 L508.0 252.9 L508.5 252.9 L509.0 252.9 L509.5 252.9 L510.0 252.8 L510.5 252.8 L511.0 252.8 L511.5 252.8 L512.0 252.8 L512.5 252.8 L513.0 252.8 L513.5 252.8 L514.0 252.8 L514.5 252.9 L515.0 252.9 L515.5 252.9 L516.0 252.9 L516.5 253.0 L517.0 253.0 L517.5 253.0 L518.0 253.1 L518.5 253.1 L519.0 253.1 L519.5 253.2 L520.0 253.2 L520.5 253.3 L521.0 253.3 L521.5 253.3 L522.0 253.4 L522.5 253.4 L523.0 253.5 L523.5 253.5 L524.0 253.6 L524.5 253.6 L525.0 253.6 L525.5 253.7 L526.0 253.7 L526.5 253.7 L527.0 253.8 L527.5 253.8 L528.0 253.8 L528.5 253.8 L529.0 253.9 L529.5 253.9 L530.0 253.9 L530.5 253.9 L531.0 253.9 L531.5 253.9 L532.0 253.9 L532.4 253.9" stroke="#000000" stroke-width="3.0" fill="none" stroke-linejoin="round" stroke-linecap="butt" />
<path d="M38.0 234.6 L38.5 234.5 L39.0 234.4 L39.5 234.3 L40.0 234.2 L40.5 234.1 L41.0 234.0 L41.5 233.8 L42.0 233.7 L42.5 233.6 L43.0 233.4 L43.5 233.3 L44.0 233.1 L44.5 233.0 L45.0 232.8 L45.5 232.6 L46.0 232.4 L46.5 232.2 L47.0 232.0 L47.5 231.8 L48.0 231.6 L48.5 231.4 L49.0 231.2 L49.5 231.0 L50.0 230.7 L50.5 230.5 L51.0 230.2 L51.5 229.9 L52.0 229.7 L52.5 229.4 L53.0 229.1 L53.5 228.8 L54.0 228.5 L54.5 228.2 L55.0 227.9 L55.5 227.5 L56.0 227.2 L56.5 226.9 L57.0 226.5 L57.5 226.2 L58.0 225.8 L58.5 225.4 L59.0 225.0 L59.5 224.6 L60.0 224.2 L60.5 223.8 L61.0 223.4 L61.5 223.0 L62.0 222.6 L62.5 222.1 L63.0 221.7 L63.5 221.3 L64.0 220.8 L64.5 220.3 L65.0 219.9 L65.5 219.4 L66.0 218.9 L66.5 218.5 L67.0 218.0 L67.5 217.5 L68.0 217.0 L68.5 216.5 L69.0 216.0 L69.5 215.5 L70.0 215.0 L70.5 214.5 L71.0 214.0 L71.5 213.5 L72.0 213.0 L72.5 212.5 L73.0 212.0 L73.5 211.5 L74.0 211.0 L74.5 210.5 L75.0 210.0 L75.5 209.5 L76.0 209.1 L76.5 208.6 L77.0 208.1 L77.5 207.6 L78.0 207.2 L78.5 206.7 L79.0 206.3 L79.5 205.8 L80.0 205.4 L80.5 205.0 L81.0 204.5 L81.5 204.1 L82.0 203.7 L82.5 203.4 L83.0 203.0 L83.5 202.6 L84.0 202.3 L84.5 201.9 L85.0 201.6 L85.5 201.3 L86.0 201.0 L86.5 200.7 L87.0 200.4 L87.5 200.2 L88.0 199.9 L88.5 199.7 L89.0 199.5 L89.5 199.3 L90.0 199.1 L90.5 199.0 L91.0 198.8 L91.5 198.7 L92.0 198.6 L92.5 198.5 L93.0 198.5 L93.5 198.4 L94.0 198.4 L94.5 198.4 L95.0 198.4 L95.5 198.4 L96.0 198.4 L96.5 198.5 L97.0 198.5 L97.5 198.6 L98.0 198.7 L98.5 198.9 L99.0 199.0 L99.5 199.2 L100.0 199.4 L100.5 199.6 L101.0 199.8 L101.5 200.0 L102.0 200.2 L102.5 200.5 L103.0 200.8 L103.5 201.1 L104.0 201.4 L104.5 201.7 L105.0 202.0 L105.5 202.4 L106.0 202.7 L106.5 203.1 L107.0 203.5 L107.5 203.9 L108.0 204.3 L108.5 204.7 L109.0 205.2 L109.5 205.6 L110.0 206.1 L110.5 206.5 L111.0 207.0 L111.5 207.5 L112.0 207.9 L112.5 208.4 L113.0 208.9 L113.5 209.4 L114.0 209.9 L114.5 210.4 L115.0 210.9 L115.5 211.5 L116.0 212.0 L116.5 212.5 L117.0 213.0 L117.5 213.6 L118.0 214.1 L118.5 214.6 L119.0 215.1 L119.5 215.7 L120.0 216.2 L120.5 216.7 L121.0 217.3 L121.5 217.8 L122.0 218.3 L122.5 218.8 L123.0 219.3 L123.5 219.8 L124.0 220.3 L124.5 220.8 L125.0 221.3 L125.5 221.8 L126.0 222.3 L126.5 222.8 L127.0 223.3 L127.5 223.7 L128.0 224.2 L128.5 224.7 L129.0 225.1 L129.5 225.6 L130.0 226.0 L130.5 226.4 L131.0 226.8 L131.5 227.3 L132.0 227.7 L132.5 228.1 L133.0 228.5 L133.5 228.8 L134.0 229.2 L134.5 229.6 L135.0 229.9 L135.5 230.3 L136.0 230.6 L136.5 231.0 L137.0 231.3 L137.5 231.6 L138.0 231.9 L138.5 232.2 L139.0 232.5 L139.5 232.8 L140.0 233.1 L140.5 233.4 L141.0 233.6 L141.5 233.9 L142.0 234.2 L142.5 234.4 L143.0 234.6 L143.5 234.9 L144.0 235.1 L144.5 235.3 L145.0 235.5 L145.5 235.7 L146.0 235.9 L146.5 236.1 L147.0 236.3 L147.5 236.5 L148.0 236.6 L148.5 236.8 L149.0 237.0 L149.5 237.1 L150.0 237.3 L150.5 237.4 L151.0 237.5 L151.5 237.7 L152.0 237.8 L152.5 237.9 L153.0 238.1 L153.5 238.2 L154.0 238.3 L154.5 238.4 L155.0 238.5 L155.5 238.6 L156.0 238.7 L156.5 238.8 L157.0 238.9 L157.5 239.0 L158.0 239.1 L158.5 239.2 L159.0 239.2 L159.5 239.3 L160.0 239.4 L160.5 239.5 L161.0 239.5 L161.5 239.6 L162.0 239.7 L162.5 239.7 L163.0 239.8 L163.5 239.9 L164.0 239.9 L164.5 240.0 L165.0 240.0 L165.5 240.1 L166.0 240.2 L166.5 240.2 L167.0 240.3 L167.5 240.3 L168.0 240.4 L168.5 240.4 L169.0 240.5 L169.5 240.5 L170.0 240.5 L170.5 240.6 L171.0 240.6 L171.5 240.7 L172.0 240.7 L172.5 240.8 L173.0 240.8 L173.5 240.8 L174.0 240.9 L174.5 240.9 L175.0 241.0 L175.5 241.0 L176.0 241.0 L176.5 241.1 L177.0 241.1 L177.5 241.1 L178.0 241.2 L178.5 241.2 L179.0 241.2 L179.5 241.3 L180.0 241.3 L180.5 241.3 L181.0 241.4 L181.5 241.4 L182.0 241.4 L182.5 241.5 L183.0 241.5 L183.5 241.5 L184.0 241.6 L184.5 241.6 L185.0 241.6 L185.5 241.7 L186.0 241.7 L186.5 241.7 L187.0 241.7 L187.5 241.8 L188.0 241.8 L188.5 241.8 L189.0 241.8 L189.5 241.9 L190.0 241.9 L190.5 241.9 L191.0 242.0 L191.5 242.0 L192.0 242.0 L192.5 242.0 L193.0 242.0 L193.5 242.1 L194.0 242.1 L194.5 242.1 L195.0 242.1 L195.5 242.2 L196.0 242.2 L196.5 242.2 L197.0 242.2 L197.5 242.3 L198.0 242.3 L198.5 242.3 L199.0 242.3 L199.5 242.4 L200.0 242.4 L200.5 242.4 L201.0 242.4 L201.5 242.5 L202.0 242.5 L202.5 242.5 L203.0 242.5 L203.5 242.6 L204.0 242.6 L204.5 242.6 L205.0 242.6 L205.5 242.7 L206.0 242.7 L206.5 242.7 L207.0 242.7 L207.5 242.7 L208.0 242.8 L208.5 242.8 L209.0 242.8 L209.5 242.8 L210.0 242.9 L210.5 242.9 L211.0 242.9 L211.5 242.9 L212.0 242.9 L212.5 243.0 L213.0 243.0 L213.5 243.0 L214.0 243.0 L214.5 243.0 L215.0 243.1 L215.5 243.1 L216.0 243.1 L216.5 243.1 L217.0 243.1 L217.5 243.2 L218.0 243.2 L218.5 243.2 L219.0 243.2 L219.5 243.2 L220.0 243.2 L220.5 243.3 L221.0 243.3 L221.5 243.3 L222.0 243.3 L222.5 243.3 L223.0 243.3 L223.5 243.3 L224.0 243.4 L224.5 243.4 L225.0 243.4 L225.5 243.4 L226.0 243.4 L226.5 243.4 L227.0 243.4 L227.5 243.4 L228.0 243.4 L228.5 243.5 L229.0 243.5 L229.5 243.5 L230.0 243.5 L230.5 243.5 L231.0 243.5 L231.5 243.5 L232.0 243.5 L232.5 243.5 L233.0 243.5 L233.5 243.6 L234.0 243.6 L234.5 243.6 L235.0 243.6 L235.5 243.6 L236.0 243.6 L236.5 243.6 L237.0 243.6 L237.5 243.6 L238.0 243.6 L238.5 243.7 L239.0 243.7 L239.5 243.7 L240.0 243.7 L240.5 243.7 L241.0 243.7 L241.5 243.7 L242.0 243.7 L242.5 243.7 L243.0 243.7 L243.5 243.8 L244.0 243.8 L244.5 243.8 L245.0 243.8 L245.5 243.8 L246.0 243.8 L246.5 243.8 L247.0 243.8 L247.5 243.8 L248.0 243.9 L248.5 243.9 L249.0 243.9 L249.5 243.9 L250.0 243.9 L250.5 243.9 L251.0 243.9 L251.5 244.0 L252.0 244.0 L252.5 244.0 L253.0 244.0 L253.5 244.0 L254.0 244.0 L254.5 244.0 L255.0 244.0 L255.5 244.1 L256.0 244.1 L256.5 244.1 L257.0 244.1 L257.5 244.1 L258.0 244.1 L258.5 244.1 L259.0 244.2 L259.5 244.2 L260.0 244.2 L260.5 244.2 L261.0 244.2 L261.5 244.2 L262.0 244.2 L262.5 244.3 L263.0 244.3 L263.5 244.3 L264.0 244.3 L264.5 244.3 L265.0 244.3 L265.5 244.3 L266.0 244.4 L266.5 244.4 L267.0 244.4 L267.5 244.4 L268.0 244.4 L268.5 244.4 L269.0 244.4 L269.5 244.5 L270.0 244.5 L270.5 244.5 L271.0 244.5 L271.5 244.5 L272.0 244.5 L272.5 244.6 L273.0 244.6 L273.5 244.6 L274.0 244.6 L274.5 244.6 L275.0 244.6 L275.5 244.7 L276.0 244.7 L276.5 244.7 L277.0 244.7 L277.5 244.7 L278.0 244.8 L278.5 244.8 L279.0 244.8 L279.5 244.8 L280.0 244.8 L280.5 244.9 L281.0 244.9 L281.5 244.9 L282.0 244.9 L282.5 244.9 L283.0 245.0 L283.5 245.0 L284.0 245.0 L284.5 245.0 L285.0 245.0 L285.5 245.1 L286.0 245.1 L286.5 245.1 L287.0 245.1 L287.5 245.1 L288.0 245.2 L288.5 245.2 L289.0 245.2 L289.5 245.2 L290.0 245.2 L290.5 245.2 L291.0 245.2 L291.5 245.2 L292.0 245.3 L292.5 245.3 L293.0 245.3 L293.5 245.3 L294.0 245.3 L294.5 245.3 L295.0 245.3 L295.5 245.3 L296.0 245.3 L296.5 245.3 L297.0 245.3 L297.5 245.3 L298.0 245.3 L298.5 245.3 L299.0 245.3 L299.5 245.3 L300.0 245.3 L300.5 245.3 L301.0 245.3 L301.5 245.3 L302.0 245.3 L302.5 245.3 L303.0 245.3 L303.5 245.3 L304.0 245.3 L304.5 245.3 L305.0 245.3 L305.5 245.3 L306.0 245.3 L306.5 245.3 L307.0 245.3 L307.5 245.3 L308.0 245.3 L308.5 245.3 L309.0 245.3 L309.5 245.3 L310.0 245.3 L310.5 245.3 L311.0 245.3 L311.5 245.3 L312.0 245.3 L312.5 245.3 L313.0 245.3 L313.5 245.3 L314.0 245.3 L314.5 245.3 L315.0 245.3 L315.5 245.3 L316.0 245.3 L316.5 245.3 L317.0 245.3 L317.5 245.3 L318.0 245.3 L318.5 245.3 L319.0 245.3 L319.5 245.3 L320.0 245.3 L320.5 245.3 L321.0 245.3 L321.5 245.3 L322.0 245.3 L322.5 245.3 L323.0 245.3 L323.5 245.3 L324.0 245.3 L324.5 245.3 L325.0 245.3 L325.5 245.3 L326.0 245.3 L326.5 245.3 L327.0 245.3 L327.5 245.4 L328.0 245.4 L328.5 245.4 L329.0 245.4 L329.5 245.4 L330.0 245.4 L330.5 245.4 L331.0 245.4 L331.5 245.4 L332.0 245.4 L332.5 245.5 L333.0 245.5 L333.5 245.5 L334.0 245.5 L334.5 245.5 L335.0 245.5 L335.5 245.5 L336.0 245.5 L336.5 245.5 L337.0 245.6 L337.5 245.6 L338.0 245.6 L338.5 245.6 L339.0 245.6 L339.5 245.6 L340.0 245.6 L340.5 245.7 L341.0 245.7 L341.5 245.7 L342.0 245.7 L342.5 245.7 L343.0 245.7 L343.5 245.8 L344.0 245.8 L344.5 245.8 L345.0 245.8 L345.5 245.8 L346.0 245.8 L346.5 245.9 L347.0 245.9 L347.5 245.9 L348.0 245.9 L348.5 246.0 L349.0 246.0 L349.5 246.0 L350.0 246.0 L350.5 246.1 L351.0 246.1 L351.5 246.1 L352.0 246.2 L352.5 246.2 L353.0 246.2 L353.5 246.3 L354.0 246.3 L354.5 246.4 L355.0 246.4 L355.5 246.4 L356.0 246.5 L356.5 246.5 L357.0 246.6 L357.5 246.6 L358.0 246.6 L358.5 246.7 L359.0 246.7 L359.5 246.8 L360.0 246.8 L360.5 246.8 L361.0 246.9 L361.5 246.9 L362.0 247.0 L362.5 247.0 L363.0 247.1 L363.5 247.1 L364.0 247.2 L364.5 247.2 L365.0 247.3 L365.5 247.3 L366.0 247.4 L366.5 247.4 L367.0 247.5 L367.5 247.5 L368.0 247.6 L368.5 247.6 L369.0 247.7 L369.5 247.7 L370.0 247.8 L370.5 247.8 L371.0 247.9 L371.5 248.0 L372.0 248.0 L372.5 248.1 L373.0 248.1 L373.5 248.2 L374.0 248.2 L374.5 248.3 L375.0 248.4 L375.5 248.4 L376.0 248.5 L376.5 248.5 L377.0 248.6 L377.5 248.6 L378.0 248.7 L378.5 248.7 L379.0 248.8 L379.5 248.8 L380.0 248.9 L380.5 248.9 L381.0 249.0 L381.5 249.1 L382.0 249.1 L382.5 249.2 L383.0 249.2 L383.5 249.3 L384.0 249.3 L384.5 249.4 L385.0 249.4 L385.5 249.5 L386.0 249.5 L386.5 249.6 L387.0 249.6 L387.5 249.7 L388.0 249.7 L388.5 249.8 L389.0 249.9 L389.5 249.9 L390.0 250.0 L390.5 250.0 L391.0 250.1 L391.5 250.1 L392.0 250.2 L392.5 250.2 L393.0 250.3 L393.5 250.4 L394.0 250.4 L394.5 250.5 L395.0 250.5 L395.5 250.6 L396.0 250.6 L396.5 250.7 L397.0 250.7 L397.5 250.8 L398.0 250.8 L398.5 250.9 L399.0 251.0 L399.5 251.0 L400.0 251.1 L400.5 251.1 L401.0 251.2 L401.5 251.2 L402.0 251.3 L402.5 251.3 L403.0 251.4 L403.5 251.4 L404.0 251.5 L404.5 251.5 L405.0 251.6 L405.5 251.6 L406.0 251.7 L406.5 251.7 L407.0 251.8 L407.5 251.8 L408.0 251.9 L408.5 251.9 L409.0 252.0 L409.5 252.0 L410.0 252.1 L410.5 252.1 L411.0 252.2 L411.5 252.2 L412.0 252.3 L412.5 252.3 L413.0 252.3 L413.5 252.4 L414.0 252.4 L414.5 252.5 L415.0 252.5 L415.5 252.5 L416.0 252.6 L416.5 252.6 L417.0 252.7 L417.5 252.7 L418.0 252.7 L418.5 252.8 L419.0 252.8 L419.5 252.8 L420.0 252.9 L420.5 252.9 L421.0 252.9 L421.5 253.0 L422.0 253.0 L422.5 253.0 L423.0 253.1 L423.5 253.1 L424.0 253.2 L424.5 253.2 L425.0 253.2 L425.5 253.3 L426.0 253.3 L426.5 253.3 L427.0 253.4 L427.5 253.4 L428.0 253.4 L428.5 253.5 L429.0 253.5 L429.5 253.5 L430.0 253.6 L430.5 253.6 L431.0 253.6 L431.5 253.7 L432.0 253.7 L432.5 253.8 L433.0 253.8 L433.5 253.8 L434.0 253.8 L434.5 253.9 L435.0 253.9 L435.5 253.9 L436.0 254.0 L436.5 254.0 L437.0 254.0 L437.5 254.1 L438.0 254.1 L438.5 254.1 L439.0 254.2 L439.5 254.2 L440.0 254.2 L440.5 254.2 L441.0 254.3 L441.5 254.3 L442.0 254.3 L442.5 254.3 L443.0 254.4 L443.5 254.4 L444.0 254.4 L444.5 254.4 L445.0 254.4 L445.5 254.4 L446.0 254.5 L446.5 254.5 L447.0 254.5 L447.5 254.5 L448.0 254.5 L448.5 254.5 L449.0 254.5 L449.5 254.6 L450.0 254.6 L450.5 254.6 L451.0 254.6 L451.5 254.6 L452.0 254.6 L452.5 254.6 L453.0 254.6 L453.5 254.6 L454.0 254.6 L454.5 254.6 L455.0 254.6 L455.5 254.6 L456.0 254.6 L456.5 254.6 L457.0 254.6 L457.5 254.6 L458.0 254.6 L458.5 254.6 L459.0 254.6 L459.5 254.6 L460.0 254.6 L460.5 254.6 L461.0 254.6 L461.5 254.6 L462.0 254.6 L462.5 254.6 L463.0 254.6 L463.5 254.6 L464.0 254.6 L464.5 254.6 L465.0 254.6 L465.5 254.6 L466.0 254.6 L466.5 254.6 L467.0 254.6 L467.5 254.6 L468.0 254.6 L468.5 254.6 L469.0 254.6 L469.5 254.6 L470.0 254.6 L470.5 254.6 L471.0 254.6 L471.5 254.6 L472.0 254.6 L472.5 254.6 L473.0 254.6 L473.5 254.6 L474.0 254.6 L474.5 254.6 L475.0 254.6 L475.5 254.6 L476.0 254.6 L476.5 254.6 L477.0 254.6 L477.5 254.6 L478.0 254.6 L478.5 254.6 L479.0 254.6 L479.5 254.6 L480.0 254.6 L480.5 254.6 L481.0 254.6 L481.5 254.6 L482.0 254.6 L482.5 254.6 L483.0 254.6 L483.5 254.6 L484.0 254.6 L484.5 254.6 L485.0 254.6 L485.5 254.6 L486.0 254.6 L486.5 254.6 L487.0 254.6 L487.5 254.6 L488.0 254.6 L488.5 254.6 L489.0 254.6 L489.5 254.6 L490.0 254.6 L490.5 254.5 L491.0 254.5 L491.5 254.5 L492.0 254.5 L492.5 254.4 L493.0 254.4 L493.5 254.4 L494.0 254.3 L494.5 254.3 L495.0 254.2 L495.5 254.2 L496.0 254.1 L496.5 254.1 L497.0 254.0 L497.5 254.0 L498.0 253.9 L498.5 253.9 L499.0 253.8 L499.5 253.8 L500.0 253.7 L500.5 253.6 L501.0 253.6 L501.5 253.5 L502.0 253.5 L502.5 253.4 L503.0 253.4 L503.5 253.3 L504.0 253.3 L504.5 253.2 L505.0 253.2 L505.5 253.1 L506.0 253.1 L506.5 253.0 L507.0 253.0 L507.5 253.0 L508.0 252.9 L508.5 252.9 L509.0 252.9 L509.5 252.9 L510.0 252.8 L510.5 252.8 L511.0 252.8 L511.5 252.8 L512.0 252.8 L512.5 252.8 L513.0 252.8 L513.5 252.8 L514.0 252.8 L514.5 252.9 L515.0 252.9 L515.5 252.9 L516.0 252.9 L516.5 253.0 L517.0 253.0 L517.5 253.0 L518.0 253.1 L518.5 253.1 L519.0 253.1 L519.5 253.2 L520.0 253.2 L520.5 253.3 L521.0 253.3 L521.5 253.3 L522.0 253.4 L522.5 253.4 L523.0 253.5 L523.5 253.5 L524.0 253.6 L524.5 253.6 L525.0 253.6 L525.5 253.7 L526.0 253.7 L526.5 253.7 L527.0 253.8 L527.5 253.8 L528.0 253.8 L528.5 253.8 L529.0 253.9 L529.5 253.9 L530.0 253.9 L530.5 253.9 L531.0 253.9 L531.5 253.9 L532.0 253.9 L532.4 253.9" stroke="#ff0000" stroke-width="3.0" fill="none" stroke-linejoin="round" stroke-linecap="butt" />
<path d="M38.0 236.5 L38.5 236.5 L39.0 236.5 L39.5 236.6 L40.0 236.6 L40.5 236.6 L41.0 236.6 L41.5 236.6 L42.0 236.6 L42.5 236.6 L43.0 236.6 L43.5 236.6 L44.0 236.6 L44.5 236.6 L45.0 236.6 L45.5 236.6 L46.0 236.6 L46.5 236.6 L47.0 236.6 L47.5 236.6 L48.0 236.6 L48.5 236.6 L49.0 236.6 L49.5 236.6 L50.0 236.5 L50.5 236.5 L51.0 236.5 L51.5 236.5 L52.0 236.5 L52.5 236.5 L53.0 236.5 L53.5 236.5 L54.0 236.5 L54.5 236.4 L55.0 236.4 L55.5 236.4 L56.0 236.4 L56.5 236.4 L57.0 236.4 L57.5 236.3 L58.0 236.3 L58.5 236.3 L59.0 236.3 L59.5 236.2 L60.0 236.2 L60.5 236.2 L61.0 236.1 L61.5 236.1 L62.0 236.1 L62.5 236.0 L63.0 236.0 L63.5 236.0 L64.0 235.9 L64.5 235.9 L65.0 235.8 L65.5 235.8 L66.0 235.7 L66.5 235.7 L67.0 235.6 L67.5 235.6 L68.0 235.5 L68.5 235.5 L69.0 235.4 L69.5 235.4 L70.0 235.3 L70.5 235.2 L71.0 235.2 L71.5 235.1 L72.0 235.0 L72.5 235.0 L73.0 234.9 L73.5 234.8 L74.0 234.7 L74.5 234.6 L75.0 234.6 L75.5 234.5 L76.0 234.4 L76.5 234.3 L77.0 234.2 L77.5 234.1 L78.0 234.0 L78.5 233.9 L79.0 233.8 L79.5 233.7 L80.0 233.6 L80.5 233.5 L81.0 233.4 L81.5 233.2 L82.0 233.1 L82.5 233.0 L83.0 232.9 L83.5 232.7 L84.0 232.6 L84.5 232.5 L85.0 232.4 L85.5 232.2 L86.0 232.1 L86.5 231.9 L87.0 231.8 L87.5 231.7 L88.0 231.5 L88.5 231.4 L89.0 231.2 L89.5 231.0 L90.0 230.9 L90.5 230.7 L91.0 230.6 L91.5 230.4 L92.0 230.2 L92.5 230.1 L93.0 229.9 L93.5 229.7 L94.0 229.5 L94.5 229.4 L95.0 229.2 L95.5 229.0 L96.0 228.8 L96.5 228.6 L97.0 228.5 L97.5 228.3 L98.0 228.1 L98.5 227.9 L99.0 227.7 L99.5 227.5 L100.0 227.3 L100.5 227.1 L101.0 226.9 L101.5 226.7 L102.0 226.5 L102.5 226.3 L103.0 226.1 L103.5 225.9 L104.0 225.7 L104.5 225.5 L105.0 225.3 L105.5 225.1 L106.0 224.9 L106.5 224.7 L107.0 224.5 L107.5 224.3 L108.0 224.1 L108.5 223.9 L109.0 223.7 L109.5 223.5 L110.0 223.3 L110.5 223.1 L111.0 222.9 L111.5 222.7 L112.0 222.5 L112.5 222.3 L113.0 222.1 L113.5 221.9 L114.0 221.7 L114.5 221.5 L115.0 221.3 L115.5 221.1 L116.0 220.9 L116.5 220.7 L117.0 220.6 L117.5 220.4 L118.0 220.2 L118.5 220.0 L119.0 219.9 L119.5 219.7 L120.0 219.5 L120.5 219.4 L121.0 219.2 L121.5 219.1 L122.0 218.9 L122.5 218.8 L123.0 218.6 L123.5 218.5 L124.0 218.3 L124.5 218.2 L125.0 218.1 L125.5 218.0 L126.0 217.8 L126.5 217.7 L127.0 217.6 L127.5 217.5 L128.0 217.4 L128.5 217.3 L129.0 217.2 L129.5 217.1 L130.0 217.1 L130.5 217.0 L131.0 216.9 L131.5 216.8 L132.0 216.8 L132.5 216.7 L133.0 216.7 L133.5 216.6 L134.0 216.6 L134.5 216.6 L135.0 216.5 L135.5 216.5 L136.0 216.5 L136.5 216.5 L137.0 216.5 L137.5 216.5 L138.0 216.5 L138.5 216.5 L139.0 216.5 L139.5 216.6 L140.0 216.6 L140.5 216.6 L141.0 216.7 L141.5 216.7 L142.0 216.8 L142.5 216.8 L143.0 216.9 L143.5 216.9 L144.0 217.0 L144.5 217.1 L145.0 217.2 L145.5 217.3 L146.0 217.4 L146.5 217.5 L147.0 217.6 L147.5 217.7 L148.0 217.8 L148.5 217.9 L149.0 218.1 L149.5 218.2 L150.0 218.3 L150.5 218.5 L151.0 218.6 L151.5 218.8 L152.0 218.9 L152.5 219.1 L153.0 219.3 L153.5 219.4 L154.0 219.6 L154.5 219.8 L155.0 219.9 L155.5 220.1 L156.0 220.3 L156.5 220.5 L157.0 220.7 L157.5 220.9 L158.0 221.1 L158.5 221.3 L159.0 221.5 L159.5 221.7 L160.0 222.0 L160.5 222.2 L161.0 222.4 L161.5 222.6 L162.0 222.8 L162.5 223.1 L163.0 223.3 L163.5 223.5 L164.0 223.8 L164.5 224.0 L165.0 224.2 L165.5 224.5 L166.0 224.7 L166.5 225.0 L167.0 225.2 L167.5 225.4 L168.0 225.7 L168.5 225.9 L169.0 226.2 L169.5 226.4 L170.0 226.7 L170.5 226.9 L171.0 227.2 L171.5 227.4 L172.0 227.7 L172.5 227.9 L173.0 228.2 L173.5 228.4 L174.0 228.6 L174.5 228.9 L175.0 229.1 L175.5 229.4 L176.0 229.6 L176.5 229.9 L177.0 230.1 L177.5 230.3 L178.0 230.6 L178.5 230.8 L179.0 231.0 L179.5 231.3 L180.0 231.5 L180.5 231.7 L181.0 231.9 L181.5 232.2 L182.0 232.4 L182.5 232.6 L183.0 232.8 L183.5 233.1 L184.0 233.3 L184.5 233.5 L185.0 233.7 L185.5 233.9 L186.0 234.1 L186.5 234.3 L187.0 234.5 L187.5 234.7 L188.0 234.9 L188.5 235.1 L189.0 235.3 L189.5 235.5 L190.0 235.6 L190.5 235.8 L191.0 236.0 L191.5 236.2 L192.0 236.4 L192.5 236.5 L193.0 236.7 L193.5 236.9 L194.0 237.0 L194.5 237.2 L195.0 237.3 L195.5 237.5 L196.0 237.6 L196.5 237.8 L197.0 237.9 L197.5 238.1 L198.0 238.2 L198.5 238.4 L199.0 238.5 L199.5 238.7 L200.0 238.8 L200.5 238.9 L201.0 239.0 L201.5 239.2 L202.0 239.3 L202.5 239.4 L203.0 239.5 L203.5 239.7 L204.0 239.8 L204.5 239.9 L205.0 240.0 L205.5 240.1 L206.0 240.2 L206.5 240.3 L207.0 240.4 L207.5 240.5 L208.0 240.6 L208.5 240.7 L209.0 240.8 L209.5 240.9 L210.0 241.0 L210.5 241.1 L211.0 241.1 L211.5 241.2 L212.0 241.3 L212.5 241.4 L213.0 241.5 L213.5 241.5 L214.0 241.6 L214.5 241.7 L215.0 241.8 L215.5 241.8 L216.0 241.9 L216.5 242.0 L217.0 242.0 L217.5 242.1 L218.0 242.1 L218.5 242.2 L219.0 242.2 L219.5 242.3 L220.0 242.3 L220.5 242.4 L221.0 242.4 L221.5 242.5 L222.0 242.5 L222.5 242.6 L223.0 242.6 L223.5 242.7 L224.0 242.7 L224.5 242.7 L225.0 242.8 L225.5 242.8 L226.0 242.9 L226.5 242.9 L227.0 242.9 L227.5 243.0 L228.0 243.0 L228.5 243.0 L229.0 243.1 L229.5 243.1 L230.0 243.1 L230.5 243.1 L231.0 243.2 L231.5 243.2 L232.0 243.2 L232.5 243.2 L233.0 243.3 L233.5 243.3 L234.0 243.3 L234.5 243.3 L235.0 243.3 L235.5 243.4 L236.0 243.4 L236.5 243.4 L237.0 243.4 L237.5 243.4 L238.0 243.5 L238.5 243.5 L239.0 243.5 L239.5 243.5 L240.0 243.5 L240.5 243.5 L241.0 243.6 L241.5 243.6 L242.0 243.6 L242.5 243.6 L243.0 243.6 L243.5 243.6 L244.0 243.7 L244.5 243.7 L245.0 243.7 L245.5 243.7 L246.0 243.7 L246.5 243.7 L247.0 243.8 L247.5 243.8 L248.0 243.8 L248.5 243.8 L249.0 243.8 L249.5 243.8 L250.0 243.9 L250.5 243.9 L251.0 243.9 L251.5 243.9 L252.0 243.9 L252.5 243.9 L253.0 244.0 L253.5 244.0 L254.0 244.0 L254.5 244.0 L255.0 244.0 L255.5 244.0 L256.0 244.0 L256.5 244.1 L257.0 244.1 L257.5 244.1 L258.0 244.1 L258.5 244.1 L259.0 244.1 L259.5 244.2 L260.0 244.2 L260.5 244.2 L261.0 244.2 L261.5 244.2 L262.0 244.2 L262.5 244.2 L263.0 244.3 L263.5 244.3 L264.0 244.3 L264.5 244.3 L265.0 244.3 L265.5 244.3 L266.0 244.3 L266.5 244.4 L267.0 244.4 L267.5 244.4 L268.0 244.4 L268.5 244.4 L269.0 244.4 L269.5 244.5 L270.0 244.5 L270.5 244.5 L271.0 244.5 L271.5 244.5 L272.0 244.5 L272.5 244.5 L273.0 244.6 L273.5 244.6 L274.0 244.6 L274.5 244.6 L275.0 244.6 L275.5 244.7 L276.0 244.7 L276.5 244.7 L277.0 244.7 L277.5 244.7 L278.0 244.8 L278.5 244.8 L279.0 244.8 L279.5 244.8 L280.0 244.8 L280.5 244.9 L281.0 244.9 L281.5 244.9 L282.0 244.9 L282.5 244.9 L283.0 245.0 L283.5 245.0 L284.0 245.0 L284.5 245.0 L285.0 245.0 L285.5 245.1 L286.0 245.1 L286.5 245.1 L287.0 245.1 L287.5 245.1 L288.0 245.2 L288.5 245.2 L289.0 245.2 L289.5 245.2 L290.0 245.2 L290.5 245.2 L291.0 245.2 L291.5 245.2 L292.0 245.3 L292.5 245.3 L293.0 245.3 L293.5 245.3 L294.0 245.3 L294.5 245.3 L295.0 245.3 L295.5 245.3 L296.0 245.3 L296.5 245.3 L297.0 245.3 L297.5 245.3 L298.0 245.3 L298.5 245.3 L299.0 245.3 L299.5 245.3 L300.0 245.3 L300.5 245.3 L301.0 245.3 L301.5 245.3 L302.0 245.3 L302.5 245.3 L303.0 245.3 L303.5 245.3 L304.0 245.3 L304.5 245.3 L305.0 245.3 L305.5 245.3 L306.0 245.3 L306.5 245.3 L307.0 245.3 L307.5 245.3 L308.0 245.3 L308.5 245.3 L309.0 245.3 L309.5 245.3 L310.0 245.3 L310.5 245.3 L311.0 245.3 L311.5 245.3 L312.0 245.3 L312.5 245.3 L313.0 245.3 L313.5 245.3 L314.0 245.3 L314.5 245.3 L315.0 245.3 L315.5 245.3 L316.0 245.3 L316.5 245.3 L317.0 245.3 L317.5 245.3 L318.0 245.3 L318.5 245.3 L319.0 245.3 L319.5 245.3 L320.0 245.3 L320.5 245.3 L321.0 245.3 L321.5 245.3 L322.0 245.3 L322.5 245.3 L323.0 245.3 L323.5 245.3 L324.0 245.3 L324.5 245.3 L325.0 245.3 L325.5 245.3 L326.0 245.3 L326.5 245.3 L327.0 245.3 L327.5 245.4 L328.0 245.4 L328.5 245.4 L329.0 245.4 L329.5 245.4 L330.0 245.4 L330.5 245.4 L331.0 245.4 L331.5 245.4 L332.0 245.4 L332.5 245.5 L333.0 245.5 L333.5 245.5 L334.0 245.5 L334.5 245.5 L335.0 245.5 L335.5 245.5 L336.0 245.5 L336.5 245.5 L337.0 245.6 L337.5 245.6 L338.0 245.6 L338.5 245.6 L339.0 245.6 L339.5 245.6 L340.0 245.6 L340.5 245.7 L341.0 245.7 L341.5 245.7 L342.0 245.7 L342.5 245.7 L343.0 245.7 L343.5 245.8 L344.0 245.8 L344.5 245.8 L345.0 245.8 L345.5 245.8 L346.0 245.8 L346.5 245.9 L347.0 245.9 L347.5 245.9 L348.0 245.9 L348.5 246.0 L349.0 246.0 L349.5 246.0 L350.0 246.0 L350.5 246.1 L351.0 246.1 L351.5 246.1 L352.0 246.2 L352.5 246.2 L353.0 246.2 L353.5 246.3 L354.0 246.3 L354.5 246.4 L355.0 246.4 L355.5 246.4 L356.0 246.5 L356.5 246.5 L357.0 246.6 L357.5 246.6 L358.0 246.6 L358.5 246.7 L359.0 246.7 L359.5 246.8 L360.0 246.8 L360.5 246.8 L361.0 246.9 L361.5 246.9 L362.0 247.0 L362.5 247.0 L363.0 247.1 L363.5 247.1 L364.0 247.2 L364.5 247.2 L365.0 247.3 L365.5 247.3 L366.0 247.4 L366.5 247.4 L367.0 247.5 L367.5 247.5 L368.0 247.6 L368.5 247.6 L369.0 247.7 L369.5 247.7 L370.0 247.8 L370.5 247.8 L371.0 247.9 L371.5 248.0 L372.0 248.0 L372.5 248.1 L373.0 248.1 L373.5 248.2 L374.0 248.2 L374.5 248.3 L375.0 248.4 L375.5 248.4 L376.0 248.5 L376.5 248.5 L377.0 248.6 L377.5 248.6 L378.0 248.7 L378.5 248.7 L379.0 248.8 L379.5 248.8 L380.0 248.9 L380.5 248.9 L381.0 249.0 L381.5 249.1 L382.0 249.1 L382.5 249.2 L383.0 249.2 L383.5 249.3 L384.0 249.3 L384.5 249.4 L385.0 249.4 L385.5 249.5 L386.0 249.5 L386.5 249.6 L387.0 249.6 L387.5 249.7 L388.0 249.7 L388.5 249.8 L389.0 249.9 L389.5 249.9 L390.0 250.0 L390.5 250.0 L391.0 250.1 L391.5 250.1 L392.0 250.2 L392.5 250.2 L393.0 250.3 L393.5 250.4 L394.0 250.4 L394.5 250.5 L395.0 250.5 L395.5 250.6 L396.0 250.6 L396.5 250.7 L397.0 250.7 L397.5 250.8 L398.0 250.8 L398.5 250.9 L399.0 251.0 L399.5 251.0 L400.0 251.1 L400.5 251.1 L401.0 251.2 L401.5 251.2 L402.0 251.3 L402.5 251.3 L403.0 251.4 L403.5 251.4 L404.0 251.5 L404.5 251.5 L405.0 251.6 L405.5 251.6 L406.0 251.7 L406.5 251.7 L407.0 251.8 L407.5 251.8 L408.0 251.9 L408.5 251.9 L409.0 252.0 L409.5 252.0 L410.0 252.1 L410.5 252.1 L411.0 252.2 L411.5 252.2 L412.0 252.3 L412.5 252.3 L413.0 252.3 L413.5 252.4 L414.0 252.4 L414.5 252.5 L415.0 252.5 L415.5 252.5 L416.0 252.6 L416.5 252.6 L417.0 252.7 L417.5 252.7 L418.0 252.7 L418.5 252.8 L419.0 252.8 L419.5 252.8 L420.0 252.9 L420.5 252.9 L421.0 252.9 L421.5 253.0 L422.0 253.0 L422.5 253.0 L423.0 253.1 L423.5 253.1 L424.0 253.2 L424.5 253.2 L425.0 253.2 L425.5 253.3 L426.0 253.3 L426.5 253.3 L427.0 253.4 L427.5 253.4 L428.0 253.4 L428.5 253.5 L429.0 253.5 L429.5 253.5 L430.0 253.6 L430.5 253.6 L431.0 253.6 L431.5 253.7 L432.0 253.7 L432.5 253.8 L433.0 253.8 L433.5 253.8 L434.0 253.8 L434.5 253.9 L435.0 253.9 L435.5 253.9 L436.0 254.0 L436.5 254.0 L437.0 254.0 L437.5 254.1 L438.0 254.1 L438.5 254.1 L439.0 254.2 L439.5 254.2 L440.0 254.2 L440.5 254.2 L441.0 254.3 L441.5 254.3 L442.0 254.3 L442.5 254.3 L443.0 254.4 L443.5 254.4 L444.0 254.4 L444.5 254.4 L445.0 254.4 L445.5 254.4 L446.0 254.5 L446.5 254.5 L447.0 254.5 L447.5 254.5 L448.0 254.5 L448.5 254.5 L449.0 254.5 L449.5 254.6 L450.0 254.6 L450.5 254.6 L451.0 254.6 L451.5 254.6 L452.0 254.6 L452.5 254.6 L453.0 254.6 L453.5 254.6 L454.0 254.6 L454.5 254.6 L455.0 254.6 L455.5 254.6 L456.0 254.6 L456.5 254.6 L457.0 254.6 L457.5 254.6 L458.0 254.6 L458.5 254.6 L459.0 254.6 L459.5 254.6 L460.0 254.6 L460.5 254.6 L461.0 254.6 L461.5 254.6 L462.0 254.6 L462.5 254.6 L463.0 254.6 L463.5 254.6 L464.0 254.6 L464.5 254.6 L465.0 254.6 L465.5 254.6 L466.0 254.6 L466.5 254.6 L467.0 254.6 L467.5 254.6 L468.0 254.6 L468.5 254.6 L469.0 254.6 L469.5 254.6 L470.0 254.6 L470.5 254.6 L471.0 254.6 L471.5 254.6 L472.0 254.6 L472.5 254.6 L473.0 254.6 L473.5 254.6 L474.0 254.6 L474.5 254.6 L475.0 254.6 L475.5 254.6 L476.0 254.6 L476.5 254.6 L477.0 254.6 L477.5 254.6 L478.0 254.6 L478.5 254.6 L479.0 254.6 L479.5 254.6 L480.0 254.6 L480.5 254.6 L481.0 254.6 L481.5 254.6 L482.0 254.6 L482.5 254.6 L483.0 254.6 L483.5 254.6 L484.0 254.6 L484.5 254.6 L485.0 254.6 L485.5 254.6 L486.0 254.6 L486.5 254.6 L487.0 254.6 L487.5 254.6 L488.0 254.6 L488.5 254.6 L489.0 254.6 L489.5 254.6 L490.0 254.6 L490.5 254.5 L491.0 254.5 L491.5 254.5 L492.0 254.5 L492.5 254.4 L493.0 254.4 L493.5 254.4 L494.0 254.3 L494.5 254.3 L495.0 254.2 L495.5 254.2 L496.0 254.1 L496.5 254.1 L497.0 254.0 L497.5 254.0 L498.0 253.9 L498.5 253.9 L499.0 253.8 L499.5 253.8 L500.0 253.7 L500.5 253.6 L501.0 253.6 L501.5 253.5 L502.0 253.5 L502.5 253.4 L503.0 253.4 L503.5 253.3 L504.0 253.3 L504.5 253.2 L505.0 253.2 L505.5 253.1 L506.0 253.1 L506.5 253.0 L507.0 253.0 L507.5 253.0 L508.0 252.9 L508.5 252.9 L509.0 252.9 L509.5 252.9 L510.0 252.8 L510.5 252.8 L511.0 252.8 L511.5 252.8 L512.0 252.8 L512.5 252.8 L513.0 252.8 L513.5 252.8 L514.0 252.8 L514.5 252.9 L515.0 252.9 L515.5 252.9 L516.0 252.9 L516.5 253.0 L517.0 253.0 L517.5 253.0 L518.0 253.1 L518.5 253.1 L519.0 253.1 L519.5 253.2 L520.0 253.2 L520.5 253.3 L521.0 253.3 L521.5 253.3 L522.0 253.4 L522.5 253.4 L523.0 253.5 L523.5 253.5 L524.0 253.6 L524.5 253.6 L525.0 253.6 L525.5 253.7 L526.0 253.7 L526.5 253.7 L527.0 253.8 L527.5 253.8 L528.0 253.8 L528.5 253.8 L529.0 253.9 L529.5 253.9 L530.0 253.9 L530.5 253.9 L531.0 253.9 L531.5 253.9 L532.0 253.9 L532.4 253.9" stroke="#0000ff" stroke-width="3.0" fill="none" stroke-linejoin="round" stroke-linecap="butt" />
<path d="M38.0 236.7 L38.5 236.7 L39.0 236.7 L39.5 236.7 L40.0 236.8 L40.5 236.8 L41.0 236.8 L41.5 236.8 L42.0 236.8 L42.5 236.8 L43.0 236.8 L43.5 236.9 L44.0 236.9 L44.5 236.9 L45.0 236.9 L45.5 236.9 L46.0 236.9 L46.5 237.0 L47.0 237.0 L47.5 237.0 L48.0 237.0 L48.5 237.0 L49.0 237.0 L49.5 237.0 L50.0 237.1 L50.5 237.1 L51.0 237.1 L51.5 237.1 L52.0 237.1 L52.5 237.1 L53.0 237.1 L53.5 237.2 L54.0 237.2 L54.5 237.2 L55.0 237.2 L55.5 237.2 L56.0 237.2 L56.5 237.2 L57.0 237.3 L57.5 237.3 L58.0 237.3 L58.5 237.3 L59.0 237.3 L59.5 237.3 L60.0 237.3 L60.5 237.4 L61.0 237.4 L61.5 237.4 L62.0 237.4 L62.5 237.4 L63.0 237.4 L63.5 237.4 L64.0 237.5 L64.5 237.5 L65.0 237.5 L65.5 237.5 L66.0 237.5 L66.5 237.5 L67.0 237.5 L67.5 237.6 L68.0 237.6 L68.5 237.6 L69.0 237.6 L69.5 237.6 L70.0 237.6 L70.5 237.7 L71.0 237.7 L71.5 237.7 L72.0 237.7 L72.5 237.7 L73.0 237.7 L73.5 237.7 L74.0 237.8 L74.5 237.8 L75.0 237.8 L75.5 237.8 L76.0 237.8 L76.5 237.8 L77.0 237.8 L77.5 237.9 L78.0 237.9 L78.5 237.9 L79.0 237.9 L79.5 237.9 L80.0 237.9 L80.5 237.9 L81.0 238.0 L81.5 238.0 L82.0 238.0 L82.5 238.0 L83.0 238.0 L83.5 238.0 L84.0 238.0 L84.5 238.0 L85.0 238.1 L85.5 238.1 L86.0 238.1 L86.5 238.1 L87.0 238.1 L87.5 238.1 L88.0 238.1 L88.5 238.2 L89.0 238.2 L89.5 238.2 L90.0 238.2 L90.5 238.2 L91.0 238.2 L91.5 238.2 L92.0 238.3 L92.5 238.3 L93.0 238.3 L93.5 238.3 L94.0 238.3 L94.5 238.3 L95.0 238.3 L95.5 238.4 L96.0 238.4 L96.5 238.4 L97.0 238.4 L97.5 238.4 L98.0 238.4 L98.5 238.4 L99.0 238.4 L99.5 238.5 L100.0 238.5 L100.5 238.5 L101.0 238.5 L101.5 238.5 L102.0 238.5 L102.5 238.5 L103.0 238.5 L103.5 238.6 L104.0 238.6 L104.5 238.6 L105.0 238.6 L105.5 238.6 L106.0 238.6 L106.5 238.6 L107.0 238.6 L107.5 238.6 L108.0 238.7 L108.5 238.7 L109.0 238.7 L109.5 238.7 L110.0 238.7 L110.5 238.7 L111.0 238.7 L111.5 238.7 L112.0 238.7 L112.5 238.7 L113.0 238.8 L113.5 238.8 L114.0 238.8 L114.5 238.8 L115.0 238.8 L115.5 238.8 L116.0 238.8 L116.5 238.8 L117.0 238.8 L117.5 238.8 L118.0 238.8 L118.5 238.8 L119.0 238.9 L119.5 238.9 L120.0 238.9 L120.5 238.9 L121.0 238.9 L121.5 238.9 L122.0 238.9 L122.5 238.9 L123.0 238.9 L123.5 238.9 L124.0 238.9 L124.5 238.9 L125.0 238.9 L125.5 238.9 L126.0 238.9 L126.5 238.9 L127.0 238.9 L127.5 239.0 L128.0 239.0 L128.5 239.0 L129.0 239.0 L129.5 239.0 L130.0 239.0 L130.5 239.0 L131.0 239.0 L131.5 239.0 L132.0 239.0 L132.5 239.0 L133.0 239.0 L133.5 239.0 L134.0 239.0 L134.5 239.0 L135.0 239.0 L135.5 239.0 L136.0 239.0 L136.5 239.0 L137.0 239.0 L137.5 239.0 L138.0 239.0 L138.5 239.0 L139.0 239.0 L139.5 239.0 L140.0 239.0 L140.5 239.0 L141.0 239.0 L141.5 238.9 L142.0 238.9 L142.5 238.9 L143.0 238.9 L143.5 238.9 L144.0 238.9 L144.5 238.9 L145.0 238.9 L145.5 238.9 L146.0 238.9 L146.5 238.9 L147.0 238.9 L147.5 238.9 L148.0 238.8 L148.5 238.8 L149.0 238.8 L149.5 238.8 L150.0 238.8 L150.5 238.8 L151.0 238.8 L151.5 238.8 L152.0 238.7 L152.5 238.7 L153.0 238.7 L153.5 238.7 L154.0 238.7 L154.5 238.7 L155.0 238.6 L155.5 238.6 L156.0 238.6 L156.5 238.6 L157.0 238.6 L157.5 238.5 L158.0 238.5 L158.5 238.5 L159.0 238.5 L159.5 238.5 L160.0 238.4 L160.5 238.4 L161.0 238.4 L161.5 238.4 L162.0 238.4 L162.5 238.3 L163.0 238.3 L163.5 238.3 L164.0 238.3 L164.5 238.2 L165.0 238.2 L165.5 238.2 L166.0 238.1 L166.5 238.1 L167.0 238.1 L167.5 238.0 L168.0 238.0 L168.5 238.0 L169.0 237.9 L169.5 237.9 L170.0 237.9 L170.5 237.8 L171.0 237.8 L171.5 237.8 L172.0 237.7 L172.5 237.7 L173.0 237.6 L173.5 237.6 L174.0 237.6 L174.5 237.5 L175.0 237.5 L175.5 237.4 L176.0 237.4 L176.5 237.3 L177.0 237.3 L177.5 237.2 L178.0 237.2 L178.5 237.1 L179.0 237.1 L179.5 237.0 L180.0 237.0 L180.5 236.9 L181.0 236.9 L181.5 236.8 L182.0 236.8 L182.5 236.7 L183.0 236.7 L183.5 236.6 L184.0 236.5 L184.5 236.5 L185.0 236.4 L185.5 236.3 L186.0 236.3 L186.5 236.2 L187.0 236.1 L187.5 236.1 L188.0 236.0 L188.5 235.9 L189.0 235.9 L189.5 235.8 L190.0 235.7 L190.5 235.7 L191.0 235.6 L191.5 235.5 L192.0 235.4 L192.5 235.4 L193.0 235.3 L193.5 235.2 L194.0 235.1 L194.5 235.1 L195.0 235.0 L195.5 234.9 L196.0 234.8 L196.5 234.8 L197.0 234.7 L197.5 234.6 L198.0 234.5 L198.5 234.4 L199.0 234.4 L199.5 234.3 L200.0 234.2 L200.5 234.1 L201.0 234.1 L201.5 234.0 L202.0 233.9 L202.5 233.8 L203.0 233.7 L203.5 233.7 L204.0 233.6 L204.5 233.5 L205.0 233.4 L205.5 233.4 L206.0 233.3 L206.5 233.2 L207.0 233.1 L207.5 233.0 L208.0 233.0 L208.5 232.9 L209.0 232.8 L209.5 232.7 L210.0 232.7 L210.5 232.6 L211.0 232.5 L211.5 232.5 L212.0 232.4 L212.5 232.3 L213.0 232.2 L213.5 232.2 L214.0 232.1 L214.5 232.0 L215.0 232.0 L215.5 231.9 L216.0 231.8 L216.5 231.8 L217.0 231.7 L217.5 231.6 L218.0 231.6 L218.5 231.5 L219.0 231.4 L219.5 231.4 L220.0 231.3 L220.5 231.3 L221.0 231.2 L221.5 231.2 L222.0 231.1 L222.5 231.0 L223.0 231.0 L223.5 230.9 L224.0 230.9 L224.5 230.8 L225.0 230.8 L225.5 230.7 L226.0 230.7 L226.5 230.7 L227.0 230.6 L227.5 230.6 L228.0 230.5 L228.5 230.5 L229.0 230.5 L229.5 230.4 L230.0 230.4 L230.5 230.4 L231.0 230.3 L231.5 230.3 L232.0 230.3 L232.5 230.3 L233.0 230.3 L233.5 230.2 L234.0 230.2 L234.5 230.2 L235.0 230.2 L235.5 230.2 L236.0 230.2 L236.5 230.2 L237.0 230.2 L237.5 230.2 L238.0 230.2 L238.5 230.2 L239.0 230.2 L239.5 230.2 L240.0 230.2 L240.5 230.2 L241.0 230.2 L241.5 230.2 L242.0 230.2 L242.5 230.3 L243.0 230.3 L243.5 230.3 L244.0 230.3 L244.5 230.4 L245.0 230.4 L245.5 230.4 L246.0 230.5 L246.5 230.5 L247.0 230.5 L247.5 230.6 L248.0 230.6 L248.5 230.7 L249.0 230.7 L249.5 230.8 L250.0 230.8 L250.5 230.9 L251.0 230.9 L251.5 231.0 L252.0 231.1 L252.5 231.1 L253.0 231.2 L253.5 231.3 L254.0 231.3 L254.5 231.4 L255.0 231.5 L255.5 231.5 L256.0 231.6 L256.5 231.7 L257.0 231.8 L257.5 231.8 L258.0 231.9 L258.5 232.0 L259.0 232.1 L259.5 232.2 L260.0 232.3 L260.5 232.4 L261.0 232.5 L261.5 232.5 L262.0 232.6 L262.5 232.7 L263.0 232.8 L263.5 232.9 L264.0 233.0 L264.5 233.1 L265.0 233.2 L265.5 233.3 L266.0 233.4 L266.5 233.5 L267.0 233.6 L267.5 233.7 L268.0 233.8 L268.5 234.0 L269.0 234.1 L269.5 234.2 L270.0 234.3 L270.5 234.4 L271.0 234.5 L271.5 234.6 L272.0 234.7 L272.5 234.8 L273.0 235.0 L273.5 235.1 L274.0 235.2 L274.5 235.3 L275.0 235.4 L275.5 235.6 L276.0 235.7 L276.5 235.8 L277.0 235.9 L277.5 236.0 L278.0 236.2 L278.5 236.3 L279.0 236.4 L279.5 236.5 L280.0 236.7 L280.5 236.8 L281.0 236.9 L281.5 237.0 L282.0 237.1 L282.5 237.3 L283.0 237.4 L283.5 237.5 L284.0 237.6 L284.5 237.8 L285.0 237.9 L285.5 238.0 L286.0 238.1 L286.5 238.2 L287.0 238.3 L287.5 238.5 L288.0 238.6 L288.5 238.7 L289.0 238.8 L289.5 238.9 L290.0 239.0 L290.5 239.1 L291.0 239.2 L291.5 239.4 L292.0 239.5 L292.5 239.6 L293.0 239.7 L293.5 239.8 L294.0 239.9 L294.5 240.0 L295.0 240.0 L295.5 240.1 L296.0 240.2 L296.5 240.3 L297.0 240.4 L297.5 240.5 L298.0 240.6 L298.5 240.7 L299.0 240.8 L299.5 240.8 L300.0 240.9 L300.5 241.0 L301.0 241.1 L301.5 241.2 L302.0 241.2 L302.5 241.3 L303.0 241.4 L303.5 241.5 L304.0 241.5 L304.5 241.6 L305.0 241.7 L305.5 241.8 L306.0 241.8 L306.5 241.9 L307.0 242.0 L307.5 242.0 L308.0 242.1 L308.5 242.2 L309.0 242.3 L309.5 242.3 L310.0 242.4 L310.5 242.4 L311.0 242.5 L311.5 242.6 L312.0 242.6 L312.5 242.7 L313.0 242.7 L313.5 242.8 L314.0 242.9 L314.5 242.9 L315.0 243.0 L315.5 243.0 L316.0 243.1 L316.5 243.1 L317.0 243.2 L317.5 243.2 L318.0 243.3 L318.5 243.3 L319.0 243.4 L319.5 243.4 L320.0 243.5 L320.5 243.5 L321.0 243.6 L321.5 243.6 L322.0 243.6 L322.5 243.7 L323.0 243.7 L323.5 243.8 L324.0 243.8 L324.5 243.9 L325.0 243.9 L325.5 244.0 L326.0 244.0 L326.5 244.0 L327.0 244.1 L327.5 244.1 L328.0 244.2 L328.5 244.2 L329.0 244.2 L329.5 244.3 L330.0 244.3 L330.5 244.4 L331.0 244.4 L331.5 244.4 L332.0 244.5 L332.5 244.5 L333.0 244.6 L333.5 244.6 L334.0 244.6 L334.5 244.7 L335.0 244.7 L335.5 244.7 L336.0 244.8 L336.5 244.8 L337.0 244.8 L337.5 244.9 L338.0 244.9 L338.5 244.9 L339.0 245.0 L339.5 245.0 L340.0 245.0 L340.5 245.1 L341.0 245.1 L341.5 245.1 L342.0 245.2 L342.5 245.2 L343.0 245.2 L343.5 245.3 L344.0 245.3 L344.5 245.3 L345.0 245.4 L345.5 245.4 L346.0 245.4 L346.5 245.5 L347.0 245.5 L347.5 245.5 L348.0 245.6 L348.5 245.6 L349.0 245.7 L349.5 245.7 L350.0 245.7 L350.5 245.8 L351.0 245.8 L351.5 245.9 L352.0 245.9 L352.5 245.9 L353.0 246.0 L353.5 246.0 L354.0 246.1 L354.5 246.1 L355.0 246.2 L355.5 246.2 L356.0 246.3 L356.5 246.3 L357.0 246.4 L357.5 246.4 L358.0 246.5 L358.5 246.5 L359.0 246.6 L359.5 246.6 L360.0 246.7 L360.5 246.7 L361.0 246.7 L361.5 246.8 L362.0 246.8 L362.5 246.9 L363.0 246.9 L363.5 247.0 L364.0 247.1 L364.5 247.1 L365.0 247.2 L365.5 247.2 L366.0 247.3 L366.5 247.3 L367.0 247.4 L367.5 247.4 L368.0 247.5 L368.5 247.6 L369.0 247.6 L369.5 247.7 L370.0 247.7 L370.5 247.8 L371.0 247.8 L371.5 247.9 L372.0 248.0 L372.5 248.0 L373.0 248.1 L373.5 248.1 L374.0 248.2 L374.5 248.2 L375.0 248.3 L375.5 248.4 L376.0 248.4 L376.5 248.5 L377.0 248.5 L377.5 248.6 L378.0 248.6 L378.5 248.7 L379.0 248.8 L379.5 248.8 L380.0 248.9 L380.5 248.9 L381.0 249.0 L381.5 249.0 L382.0 249.1 L382.5 249.1 L383.0 249.2 L383.5 249.2 L384.0 249.3 L384.5 249.3 L385.0 249.4 L385.5 249.5 L386.0 249.5 L386.5 249.6 L387.0 249.6 L387.5 249.7 L388.0 249.7 L388.5 249.8 L389.0 249.8 L389.5 249.9 L390.0 250.0 L390.5 250.0 L391.0 250.1 L391.5 250.1 L392.0 250.2 L392.5 250.2 L393.0 250.3 L393.5 250.3 L394.0 250.4 L394.5 250.5 L395.0 250.5 L395.5 250.6 L396.0 250.6 L396.5 250.7 L397.0 250.7 L397.5 250.8 L398.0 250.8 L398.5 250.9 L399.0 251.0 L399.5 251.0 L400.0 251.1 L400.5 251.1 L401.0 251.2 L401.5 251.2 L402.0 251.3 L402.5 251.3 L403.0 251.4 L403.5 251.4 L404.0 251.5 L404.5 251.5 L405.0 251.6 L405.5 251.6 L406.0 251.7 L406.5 251.7 L407.0 251.8 L407.5 251.8 L408.0 251.9 L408.5 251.9 L409.0 252.0 L409.5 252.0 L410.0 252.1 L410.5 252.1 L411.0 252.2 L411.5 252.2 L412.0 252.2 L412.5 252.3 L413.0 252.3 L413.5 252.4 L414.0 252.4 L414.5 252.5 L415.0 252.5 L415.5 252.5 L416.0 252.6 L416.5 252.6 L417.0 252.7 L417.5 252.7 L418.0 252.7 L418.5 252.8 L419.0 252.8 L419.5 252.8 L420.0 252.9 L420.5 252.9 L421.0 252.9 L421.5 253.0 L422.0 253.0 L422.5 253.0 L423.0 253.1 L423.5 253.1 L424.0 253.2 L424.5 253.2 L425.0 253.2 L425.5 253.3 L426.0 253.3 L426.5 253.3 L427.0 253.4 L427.5 253.4 L428.0 253.4 L428.5 253.5 L429.0 253.5 L429.5 253.5 L430.0 253.6 L430.5 253.6 L431.0 253.6 L431.5 253.7 L432.0 253.7 L432.5 253.8 L433.0 253.8 L433.5 253.8 L434.0 253.8 L434.5 253.9 L435.0 253.9 L435.5 253.9 L436.0 254.0 L436.5 254.0 L437.0 254.0 L437.5 254.1 L438.0 254.1 L438.5 254.1 L439.0 254.2 L439.5 254.2 L440.0 254.2 L440.5 254.2 L441.0 254.3 L441.5 254.3 L442.0 254.3 L442.5 254.3 L443.0 254.4 L443.5 254.4 L444.0 254.4 L444.5 254.4 L445.0 254.4 L445.5 254.4 L446.0 254.5 L446.5 254.5 L447.0 254.5 L447.5 254.5 L448.0 254.5 L448.5 254.5 L449.0 254.5 L449.5 254.6 L450.0 254.6 L450.5 254.6 L451.0 254.6 L451.5 254.6 L452.0 254.6 L452.5 254.6 L453.0 254.6 L453.5 254.6 L454.0 254.6 L454.5 254.6 L455.0 254.6 L455.5 254.6 L456.0 254.6 L456.5 254.6 L457.0 254.6 L457.5 254.6 L458.0 254.6 L458.5 254.6 L459.0 254.6 L459.5 254.6 L460.0 254.6 L460.5 254.6 L461.0 254.6 L461.5 254.6 L462.0 254.6 L462.5 254.6 L463.0 254.6 L463.5 254.6 L464.0 254.6 L464.5 254.6 L465.0 254.6 L465.5 254.6 L466.0 254.6 L466.5 254.6 L467.0 254.6 L467.5 254.6 L468.0 254.6 L468.5 254.6 L469.0 254.6 L469.5 254.6 L470.0 254.6 L470.5 254.6 L471.0 254.6 L471.5 254.6 L472.0 254.6 L472.5 254.6 L473.0 254.6 L473.5 254.6 L474.0 254.6 L474.5 254.6 L475.0 254.6 L475.5 254.6 L476.0 254.6 L476.5 254.6 L477.0 254.6 L477.5 254.6 L478.0 254.6 L478.5 254.6 L479.0 254.6 L479.5 254.6 L480.0 254.6 L480.5 254.6 L481.0 254.6 L481.5 254.6 L482.0 254.6 L482.5 254.6 L483.0 254.6 L483.5 254.6 L484.0 254.6 L484.5 254.6 L485.0 254.6 L485.5 254.6 L486.0 254.6 L486.5 254.6 L487.0 254.6 L487.5 254.6 L488.0 254.6 L488.5 254.6 L489.0 254.6 L489.5 254.6 L490.0 254.6 L490.5 254.5 L491.0 254.5 L491.5 254.5 L492.0 254.5 L492.5 254.4 L493.0 254.4 L493.5 254.4 L494.0 254.3 L494.5 254.3 L495.0 254.2 L495.5 254.2 L496.0 254.1 L496.5 254.1 L497.0 254.0 L497.5 254.0 L498.0 253.9 L498.5 253.9 L499.0 253.8 L499.5 253.8 L500.0 253.7 L500.5 253.6 L501.0 253.6 L501.5 253.5 L502.0 253.5 L502.5 253.4 L503.0 253.4 L503.5 253.3 L504.0 253.3 L504.5 253.2 L505.0 253.2 L505.5 253.1 L506.0 253.1 L506.5 253.0 L507.0 253.0 L507.5 253.0 L508.0 252.9 L508.5 252.9 L509.0 252.9 L509.5 252.9 L510.0 252.8 L510.5 252.8 L511.0 252.8 L511.5 252.8 L512.0 252.8 L512.5 252.8 L513.0 252.8 L513.5 252.8 L514.0 252.8 L514.5 252.9 L515.0 252.9 L515.5 252.9 L516.0 252.9 L516.5 253.0 L517.0 253.0 L517.5 253.0 L518.0 253.1 L518.5 253.1 L519.0 253.1 L519.5 253.2 L520.0 253.2 L520.5 253.3 L521.0 253.3 L521.5 253.3 L522.0 253.4 L522.5 253.4 L523.0 253.5 L523.5 253.5 L524.0 253.6 L524.5 253.6 L525.0 253.6 L525.5 253.7 L526.0 253.7 L526.5 253.7 L527.0 253.8 L527.5 253.8 L528.0 253.8 L528.5 253.8 L529.0 253.9 L529.5 253.9 L530.0 253.9 L530.5 253.9 L531.0 253.9 L531.5 253.9 L532.0 253.9 L532.4 253.9" stroke="#00ff00" stroke-width="3.0" fill="none" stroke-linejoin="round" stroke-linecap="butt" />
<path d="M38.0 233.0 L38.5 231.9 L39.0 230.7 L39.5 229.4 L40.0 228.0 L40.5 226.5 L41.0 224.8 L41.5 223.0 L42.0 221.2 L42.5 219.2 L43.0 217.2 L43.5 215.1 L44.0 212.9 L44.5 210.6 L45.0 208.1 L45.5 205.5 L46.0 202.9 L46.5 200.2 L47.0 197.5 L47.5 194.9 L48.0 192.4 L48.5 189.9 L49.0 187.5 L49.5 185.1 L50.0 182.6 L50.5 180.2 L51.0 177.9 L51.5 175.7 L52.0 173.6 L52.5 171.6 L53.0 169.9 L53.5 168.1 L54.0 166.3 L54.5 164.5 L55.0 162.7 L55.5 161.0 L56.0 159.6 L56.5 158.3 L57.0 157.3 L57.5 156.7 L58.0 156.5 L58.5 156.7 L59.0 157.3 L59.5 158.3 L60.0 159.5 L60.5 161.0 L61.0 162.6 L61.5 164.3 L62.0 166.1 L62.5 167.8 L63.0 169.6 L63.5 171.2 L64.0 173.1 L64.5 175.2 L65.0 177.4 L65.5 179.7 L66.0 181.9 L66.5 184.0 L67.0 186.0 L67.5 187.7 L68.0 189.2 L68.5 190.5 L69.0 191.9 L69.5 193.2 L70.0 194.4 L70.5 195.6 L71.0 196.5 L71.5 197.3 L72.0 197.9 L72.5 198.3 L73.0 198.5 L73.5 198.7 L74.0 199.0 L74.5 199.1 L75.0 199.3 L75.5 199.4 L76.0 199.5 L76.5 199.6 L77.0 199.6 L77.5 199.6 L78.0 199.4 L78.5 199.3 L79.0 199.0 L79.5 198.7 L80.0 198.4 L80.5 198.0 L81.0 197.6 L81.5 197.2 L82.0 196.8 L82.5 196.3 L83.0 195.9 L83.5 195.4 L84.0 195.0 L84.5 194.7 L85.0 194.3 L85.5 194.0 L86.0 193.6 L86.5 193.3 L87.0 192.9 L87.5 192.5 L88.0 192.2 L88.5 191.8 L89.0 191.5 L89.5 191.1 L90.0 190.8 L90.5 190.5 L91.0 190.2 L91.5 189.9 L92.0 189.7 L92.5 189.4 L93.0 189.1 L93.5 188.9 L94.0 188.6 L94.5 188.4 L95.0 188.1 L95.5 187.8 L96.0 187.6 L96.5 187.4 L97.0 187.2 L97.5 187.0 L98.0 186.8 L98.5 186.7 L99.0 186.6 L99.5 186.5 L100.0 186.5 L100.5 186.5 L101.0 186.5 L101.5 186.5 L102.0 186.6 L102.5 186.6 L103.0 186.6 L103.5 186.7 L104.0 186.7 L104.5 186.8 L105.0 186.9 L105.5 186.9 L106.0 187.0 L106.5 187.1 L107.0 187.1 L107.5 187.2 L108.0 187.3 L108.5 187.4 L109.0 187.5 L109.5 187.6 L110.0 187.7 L110.5 187.9 L111.0 188.1 L111.5 188.2 L112.0 188.4 L112.5 188.6 L113.0 188.8 L113.5 189.0 L114.0 189.2 L114.5 189.4 L115.0 189.7 L115.5 189.9 L116.0 190.1 L116.5 190.4 L117.0 190.7 L117.5 191.0 L118.0 191.3 L118.5 191.6 L119.0 192.0 L119.5 192.3 L120.0 192.7 L120.5 193.1 L121.0 193.5 L121.5 193.9 L122.0 194.3 L122.5 194.7 L123.0 195.1 L123.5 195.5 L124.0 196.0 L124.5 196.4 L125.0 196.8 L125.5 197.2 L126.0 197.6 L126.5 198.0 L127.0 198.4 L127.5 198.8 L128.0 199.2 L128.5 199.5 L129.0 199.9 L129.5 200.2 L130.0 200.6 L130.5 201.0 L131.0 201.3 L131.5 201.7 L132.0 202.1 L132.5 202.4 L133.0 202.8 L133.5 203.2 L134.0 203.5 L134.5 203.9 L135.0 204.2 L135.5 204.6 L136.0 204.9 L136.5 205.3 L137.0 205.6 L137.5 206.0 L138.0 206.3 L138.5 206.6 L139.0 207.0 L139.5 207.3 L140.0 207.6 L140.5 207.9 L141.0 208.3 L141.5 208.6 L142.0 208.9 L142.5 209.2 L143.0 209.5 L143.5 209.8 L144.0 210.1 L144.5 210.4 L145.0 210.7 L145.5 211.0 L146.0 211.2 L146.5 211.5 L147.0 211.8 L147.5 212.1 L148.0 212.4 L148.5 212.7 L149.0 212.9 L149.5 213.2 L150.0 213.5 L150.5 213.7 L151.0 214.0 L151.5 214.2 L152.0 214.5 L152.5 214.8 L153.0 215.0 L153.5 215.3 L154.0 215.5 L154.5 215.7 L155.0 216.0 L155.5 216.2 L156.0 216.4 L156.5 216.7 L157.0 216.9 L157.5 217.1 L158.0 217.3 L158.5 217.6 L159.0 217.8 L159.5 218.0 L160.0 218.2 L160.5 218.4 L161.0 218.6 L161.5 218.9 L162.0 219.1 L162.5 219.3 L163.0 219.5 L163.5 219.7 L164.0 219.9 L164.5 220.1 L165.0 220.3 L165.5 220.5 L166.0 220.7 L166.5 220.9 L167.0 221.2 L167.5 221.4 L168.0 221.6 L168.5 221.8 L169.0 222.0 L169.5 222.2 L170.0 222.4 L170.5 222.7 L171.0 222.9 L171.5 223.1 L172.0 223.3 L172.5 223.5 L173.0 223.7 L173.5 223.9 L174.0 224.1 L174.5 224.3 L175.0 224.5 L175.5 224.7 L176.0 224.9 L176.5 225.1 L177.0 225.3 L177.5 225.5 L178.0 225.6 L178.5 225.8 L179.0 226.0 L179.5 226.1 L180.0 226.3 L180.5 226.4 L181.0 226.6 L181.5 226.7 L182.0 226.9 L182.5 227.0 L183.0 227.2 L183.5 227.3 L184.0 227.5 L184.5 227.6 L185.0 227.7 L185.5 227.9 L186.0 228.0 L186.5 228.1 L187.0 228.3 L187.5 228.4 L188.0 228.5 L188.5 228.6 L189.0 228.7 L189.5 228.8 L190.0 228.9 L190.5 229.0 L191.0 229.1 L191.5 229.2 L192.0 229.3 L192.5 229.4 L193.0 229.5 L193.5 229.6 L194.0 229.7 L194.5 229.8 L195.0 229.9 L195.5 230.0 L196.0 230.1 L196.5 230.2 L197.0 230.3 L197.5 230.4 L198.0 230.5 L198.5 230.5 L199.0 230.6 L199.5 230.7 L200.0 230.8 L200.5 230.8 L201.0 230.9 L201.5 230.9 L202.0 231.0 L202.5 231.0 L203.0 231.1 L203.5 231.1 L204.0 231.1 L204.5 231.1 L205.0 231.1 L205.5 231.1 L206.0 231.1 L206.5 231.1 L207.0 231.1 L207.5 231.1 L208.0 231.1 L208.5 231.1 L209.0 231.1 L209.5 231.1 L210.0 231.1 L210.5 231.1 L211.0 231.1 L211.5 231.1 L212.0 231.1 L212.5 231.1 L213.0 231.1 L213.5 231.1 L214.0 231.1 L214.5 231.1 L215.0 231.1 L215.5 231.1 L216.0 231.1 L216.5 231.1 L217.0 231.1 L217.5 231.1 L218.0 231.1 L218.5 231.1 L219.0 231.1 L219.5 231.0 L220.0 231.0 L220.5 231.0 L221.0 230.9 L221.5 230.9 L222.0 230.9 L222.5 230.8 L223.0 230.8 L223.5 230.7 L224.0 230.7 L224.5 230.6 L225.0 230.6 L225.5 230.5 L226.0 230.4 L226.5 230.4 L227.0 230.3 L227.5 230.3 L228.0 230.2 L228.5 230.2 L229.0 230.2 L229.5 230.1 L230.0 230.1 L230.5 230.1 L231.0 230.0 L231.5 230.0 L232.0 230.0 L232.5 230.0 L233.0 230.0 L233.5 230.0 L234.0 230.0 L234.5 230.0 L235.0 230.0 L235.5 230.0 L236.0 230.1 L236.5 230.1 L237.0 230.1 L237.5 230.1 L238.0 230.1 L238.5 230.1 L239.0 230.2 L239.5 230.2 L240.0 230.2 L240.5 230.2 L241.0 230.3 L241.5 230.3 L242.0 230.3 L242.5 230.3 L243.0 230.4 L243.5 230.4 L244.0 230.4 L244.5 230.5 L245.0 230.5 L245.5 230.5 L246.0 230.5 L246.5 230.5 L247.0 230.6 L247.5 230.6 L248.0 230.6 L248.5 230.6 L249.0 230.7 L249.5 230.7 L250.0 230.7 L250.5 230.7 L251.0 230.8 L251.5 230.8 L252.0 230.8 L252.5 230.8 L253.0 230.9 L253.5 230.9 L254.0 230.9 L254.5 231.0 L255.0 231.0 L255.5 231.1 L256.0 231.1 L256.5 231.1 L257.0 231.2 L257.5 231.2 L258.0 231.3 L258.5 231.3 L259.0 231.4 L259.5 231.5 L260.0 231.6 L260.5 231.7 L261.0 231.9 L261.5 232.0 L262.0 232.2 L262.5 232.4 L263.0 232.6 L263.5 232.7 L264.0 232.9 L264.5 233.1 L265.0 233.4 L265.5 233.6 L266.0 233.8 L266.5 234.0 L267.0 234.2 L267.5 234.4 L268.0 234.6 L268.5 234.8 L269.0 235.0 L269.5 235.2 L270.0 235.3 L270.5 235.5 L271.0 235.6 L271.5 235.8 L272.0 235.9 L272.5 236.0 L273.0 236.2 L273.5 236.3 L274.0 236.5 L274.5 236.6 L275.0 236.7 L275.5 236.9 L276.0 237.0 L276.5 237.1 L277.0 237.2 L277.5 237.4 L278.0 237.5 L278.5 237.6 L279.0 237.7 L279.5 237.8 L280.0 237.9 L280.5 238.1 L281.0 238.2 L281.5 238.3 L282.0 238.4 L282.5 238.5 L283.0 238.6 L283.5 238.7 L284.0 238.8 L284.5 238.9 L285.0 239.0 L285.5 239.0 L286.0 239.1 L286.5 239.2 L287.0 239.3 L287.5 239.4 L288.0 239.5 L288.5 239.5 L289.0 239.6 L289.5 239.7 L290.0 239.8 L290.5 239.8 L291.0 239.9 L291.5 240.0 L292.0 240.1 L292.5 240.1 L293.0 240.2 L293.5 240.3 L294.0 240.3 L294.5 240.4 L295.0 240.5 L295.5 240.6 L296.0 240.6 L296.5 240.7 L297.0 240.8 L297.5 240.9 L298.0 240.9 L298.5 241.0 L299.0 241.1 L299.5 241.2 L300.0 241.2 L300.5 241.3 L301.0 241.4 L301.5 241.5 L302.0 241.5 L302.5 241.6 L303.0 241.7 L303.5 241.7 L304.0 241.8 L304.5 241.9 L305.0 241.9 L305.5 242.0 L306.0 242.1 L306.5 242.2 L307.0 242.2 L307.5 242.3 L308.0 242.4 L308.5 242.4 L309.0 242.5 L309.5 242.6 L310.0 242.6 L310.5 242.7 L311.0 242.7 L311.5 242.8 L312.0 242.9 L312.5 242.9 L313.0 243.0 L313.5 243.0 L314.0 243.1 L314.5 243.2 L315.0 243.2 L315.5 243.3 L316.0 243.3 L316.5 243.4 L317.0 243.5 L317.5 243.5 L318.0 243.6 L318.5 243.6 L319.0 243.7 L319.5 243.7 L320.0 243.8 L320.5 243.9 L321.0 243.9 L321.5 244.0 L322.0 244.0 L322.5 244.1 L323.0 244.1 L323.5 244.2 L324.0 244.2 L324.5 244.3 L325.0 244.4 L325.5 244.4 L326.0 244.5 L326.5 244.5 L327.0 244.6 L327.5 244.6 L328.0 244.7 L328.5 244.8 L329.0 244.8 L329.5 244.9 L330.0 244.9 L330.5 245.0 L331.0 245.0 L331.5 245.1 L332.0 245.1 L332.5 245.2 L333.0 245.2 L333.5 245.2 L334.0 245.3 L334.5 245.3 L335.0 245.3 L335.5 245.4 L336.0 245.4 L336.5 245.4 L337.0 245.4 L337.5 245.5 L338.0 245.5 L338.5 245.5 L339.0 245.5 L339.5 245.6 L340.0 245.6 L340.5 245.6 L341.0 245.6 L341.5 245.6 L342.0 245.7 L342.5 245.7 L343.0 245.7 L343.5 245.7 L344.0 245.7 L344.5 245.8 L345.0 245.8 L345.5 245.8 L346.0 245.8 L346.5 245.9 L347.0 245.9 L347.5 245.9 L348.0 245.9 L348.5 246.0 L349.0 246.0 L349.5 246.0 L350.0 246.1 L350.5 246.1 L351.0 246.1 L351.5 246.2 L352.0 246.2 L352.5 246.2 L353.0 246.3 L353.5 246.3 L354.0 246.3 L354.5 246.4 L355.0 246.4 L355.5 246.4 L356.0 246.5 L356.5 246.5 L357.0 246.6 L357.5 246.6 L358.0 246.6 L358.5 246.7 L359.0 246.7 L359.5 246.8 L360.0 246.8 L360.5 246.8 L361.0 246.9 L361.5 246.9 L362.0 247.0 L362.5 247.0 L363.0 247.1 L363.5 247.1 L364.0 247.2 L364.5 247.2 L365.0 247.3 L365.5 247.3 L366.0 247.4 L366.5 247.4 L367.0 247.5 L367.5 247.5 L368.0 247.6 L368.5 247.6 L369.0 247.7 L369.5 247.7 L370.0 247.8 L370.5 247.8 L371.0 247.9 L371.5 248.0 L372.0 248.0 L372.5 248.1 L373.0 248.1 L373.5 248.2 L374.0 248.2 L374.5 248.3 L375.0 248.4 L375.5 248.4 L376.0 248.5 L376.5 248.5 L377.0 248.6 L377.5 248.6 L378.0 248.7 L378.5 248.7 L379.0 248.8 L379.5 248.8 L380.0 248.9 L380.5 248.9 L381.0 249.0 L381.5 249.1 L382.0 249.1 L382.5 249.2 L383.0 249.2 L383.5 249.3 L384.0 249.3 L384.5 249.4 L385.0 249.4 L385.5 249.5 L386.0 249.5 L386.5 249.6 L387.0 249.6 L387.5 249.7 L388.0 249.7 L388.5 249.8 L389.0 249.9 L389.5 249.9 L390.0 250.0 L390.5 250.0 L391.0 250.1 L391.5 250.1 L392.0 250.2 L392.5 250.2 L393.0 250.3 L393.5 250.4 L394.0 250.4 L394.5 250.5 L395.0 250.5 L395.5 250.6 L396.0 250.6 L396.5 250.7 L397.0 250.7 L397.5 250.8 L398.0 250.8 L398.5 250.9 L399.0 251.0 L399.5 251.0 L400.0 251.1 L400.5 251.1 L401.0 251.2 L401.5 251.2 L402.0 251.3 L402.5 251.3 L403.0 251.4 L403.5 251.4 L404.0 251.5 L404.5 251.5 L405.0 251.6 L405.5 251.6 L406.0 251.7 L406.5 251.7 L407.0 251.8 L407.5 251.8 L408.0 251.9 L408.5 251.9 L409.0 252.0 L409.5 252.0 L410.0 252.1 L410.5 252.1 L411.0 252.2 L411.5 252.2 L412.0 252.3 L412.5 252.3 L413.0 252.3 L413.5 252.4 L414.0 252.4 L414.5 252.5 L415.0 252.5 L415.5 252.5 L416.0 252.6 L416.5 252.6 L417.0 252.7 L417.5 252.7 L418.0 252.7 L418.5 252.8 L419.0 252.8 L419.5 252.8 L420.0 252.9 L420.5 252.9 L421.0 252.9 L421.5 253.0 L422.0 253.0 L422.5 253.0 L423.0 253.1 L423.5 253.1 L424.0 253.2 L424.5 253.2 L425.0 253.2 L425.5 253.3 L426.0 253.3 L426.5 253.3 L427.0 253.4 L427.5 253.4 L428.0 253.4 L428.5 253.5 L429.0 253.5 L429.5 253.5 L430.0 253.6 L430.5 253.6 L431.0 253.6 L431.5 253.7 L432.0 253.7 L432.5 253.8 L433.0 253.8 L433.5 253.8 L434.0 253.8 L434.5 253.9 L435.0 253.9 L435.5 253.9 L436.0 254.0 L436.5 254.0 L437.0 254.0 L437.5 254.1 L438.0 254.1 L438.5 254.1 L439.0 254.2 L439.5 254.2 L440.0 254.2 L440.5 254.2 L441.0 254.3 L441.5 254.3 L442.0 254.3 L442.5 254.3 L443.0 254.4 L443.5 254.4 L444.0 254.4 L444.5 254.4 L445.0 254.4 L445.5 254.4 L446.0 254.5 L446.5 254.5 L447.0 254.5 L447.5 254.5 L448.0 254.5 L448.5 254.5 L449.0 254.5 L449.5 254.6 L450.0 254.6 L450.5 254.6 L451.0 254.6 L451.5 254.6 L452.0 254.6 L452.5 254.6 L453.0 254.6 L453.5 254.6 L454.0 254.6 L454.5 254.6 L455.0 254.6 L455.5 254.6 L456.0 254.6 L456.5 254.6 L457.0 254.6 L457.5 254.6 L458.0 254.6 L458.5 254.6 L459.0 254.6 L459.5 254.6 L460.0 254.6 L460.5 254.6 L461.0 254.6 L461.5 254.6 L462.0 254.6 L462.5 254.6 L463.0 254.6 L463.5 254.6 L464.0 254.6 L464.5 254.6 L465.0 254.6 L465.5 254.6 L466.0 254.6 L466.5 254.6 L467.0 254.6 L467.5 254.6 L468.0 254.6 L468.5 254.6 L469.0 254.6 L469.5 254.6 L470.0 254.6 L470.5 254.6 L471.0 254.6 L471.5 254.6 L472.0 254.6 L472.5 254.6 L473.0 254.6 L473.5 254.6 L474.0 254.6 L474.5 254.6 L475.0 254.6 L475.5 254.6 L476.0 254.6 L476.5 254.6 L477.0 254.6 L477.5 254.6 L478.0 254.6 L478.5 254.6 L479.0 254.6 L479.5 254.6 L480.0 254.6 L480.5 254.6 L481.0 254.6 L481.5 254.6 L482.0 254.6 L482.5 254.6 L483.0 254.6 L483.5 254.6 L484.0 254.6 L484.5 254.6 L485.0 254.6 L485.5 254.6 L486.0 254.6 L486.5 254.6 L487.0 254.6 L487.5 254.6 L488.0 254.6 L488.5 254.6 L489.0 254.6 L489.5 254.6 L490.0 254.6 L490.5 254.5 L491.0 254.5 L491.5 254.5 L492.0 254.5 L492.5 254.4 L493.0 254.4 L493.5 254.4 L494.0 254.3 L494.5 254.3 L495.0 254.2 L495.5 254.2 L496.0 254.1 L496.5 254.1 L497.0 254.0 L497.5 254.0 L498.0 253.9 L498.5 253.9 L499.0 253.8 L499.5 253.8 L500.0 253.7 L500.5 253.6 L501.0 253.6 L501.5 253.5 L502.0 253.5 L502.5 253.4 L503.0 253.4 L503.5 253.3 L504.0 253.3 L504.5 253.2 L505.0 253.2 L505.5 253.1 L506.0 253.1 L506.5 253.0 L507.0 253.0 L507.5 253.0 L508.0 252.9 L508.5 252.9 L509.0 252.9 L509.5 252.9 L510.0 252.8 L510.5 252.8 L511.0 252.8 L511.5 252.8 L512.0 252.8 L512.5 252.8 L513.0 252.8 L513.5 252.8 L514.0 252.8 L514.5 252.9 L515.0 252.9 L515.5 252.9 L516.0 252.9 L516.5 253.0 L517.0 253.0 L517.5 253.0 L518.0 253.1 L518.5 253.1 L519.0 253.1 L519.5 253.2 L520.0 253.2 L520.5 253.3 L521.0 253.3 L521.5 253.3 L522.0 253.4 L522.5 253.4 L523.0 253.5 L523.5 253.5 L524.0 253.6 L524.5 253.6 L525.0 253.6 L525.5 253.7 L526.0 253.7 L526.5 253.7 L527.0 253.8 L527.5 253.8 L528.0 253.8 L528.5 253.8 L529.0 253.9 L529.5 253.9 L530.0 253.9 L530.5 253.9 L531.0 253.9 L531.5 253.9 L532.0 253.9 L532.4 253.9" stroke="#ff8000" stroke-width="3.0" fill="none" stroke-linejoin="round" stroke-linecap="butt" />
<path d="M38.5 233.9 L39.1 232.9 L39.7 231.3 L40.2 229.9 L40.8 228.3 L41.4 226.8 L41.9 225.2 L42.5 223.3 L43.0 221.1 L43.6 219.1 L44.1 216.8 L44.7 214.8 L45.2 212.7 L45.8 210.3 L46.3 208.1 L46.8 205.6 L47.3 202.8 L47.8 200.0 L48.3 197.2 L48.8 194.4 L49.2 191.9 L49.7 190.0 L50.1 187.5 L50.6 185.5 L51.0 183.0 L51.5 180.4 L51.9 178.3 L52.4 176.0 L52.8 174.1 L53.2 172.4 L53.7 170.6 L54.1 169.1 L54.5 167.2 L55.0 165.4 L55.4 163.7 L55.9 162.4 L56.3 161.3 L56.8 160.4 L57.2 159.3 L57.7 158.6 L58.2 158.8 L58.6 158.4 L59.1 159.0 L59.6 159.8 L60.1 160.4 L60.6 161.7 L61.1 163.6 L61.5 165.4 L62.0 167.0 L62.5 168.5 L63.0 169.6 L63.5 171.2 L64.0 173.2 L64.5 175.3 L65.0 177.7 L65.5 179.9 L66.0 182.3 L66.5 184.4 L67.0 185.9 L67.5 187.5 L68.0 188.6 L68.5 190.4 L69.0 191.9 L69.5 193.4 L70.0 195.3 L70.5 196.5 L71.0 197.5 L71.5 198.3 L72.0 198.8 L72.5 198.8 L73.0 199.2 L73.5 199.2 L74.0 198.9 L74.5 199.5 L75.0 199.4 L75.5 199.4 L76.0 199.7 L76.5 199.4 L77.0 199.8 L77.5 200.0 L78.0 199.9 L78.5 199.9 L79.0 199.3 L79.5 199.1 L80.0 198.7 L80.5 198.2 L81.0 198.0 L81.5 197.5 L82.0 197.1 L82.5 196.7 L83.0 196.3 L83.5 195.9 L84.0 195.7 L84.5 195.6 L85.0 194.9 L85.5 194.7 L86.0 194.6 L86.5 194.0 L87.0 193.8 L87.5 193.4 L88.0 192.6 L88.5 192.1 L89.0 191.7 L89.5 191.4 L90.0 191.2 L90.5 190.8 L91.0 190.3 L91.5 189.9 L92.0 189.5 L92.5 189.3 L93.0 189.3 L93.5 189.1 L94.0 188.9 L94.5 188.8 L95.0 188.3 L95.5 187.9 L96.0 187.5 L96.5 187.4 L97.0 187.0 L97.5 187.1 L98.0 187.0 L98.5 186.5 L99.0 186.5 L99.5 186.1 L100.0 186.0 L100.5 186.1 L101.0 186.4 L101.5 186.3 L102.0 186.1 L102.5 186.0 L103.0 185.6 L103.5 185.8 L104.0 186.3 L104.5 186.6 L105.0 186.9 L105.5 186.9 L106.0 187.1 L106.5 187.2 L107.0 187.4 L107.5 187.8 L108.0 188.0 L108.5 188.2 L109.0 188.4 L109.5 188.3 L110.0 188.2 L110.5 188.0 L111.0 187.9 L111.5 188.1 L112.0 188.0 L112.5 188.4 L113.0 188.6 L113.5 189.1 L114.0 189.3 L114.5 189.6 L115.0 189.8 L115.5 189.8 L116.0 190.3 L116.5 190.5 L117.0 190.8 L117.5 190.7 L118.0 190.7 L118.5 191.1 L119.0 191.7 L119.5 192.1 L120.0 192.6 L120.5 192.9 L121.0 193.3 L121.5 193.8 L122.0 194.3 L122.5 194.4 L123.0 194.7 L123.5 195.4 L124.0 195.4 L124.5 196.0 L125.0 196.7 L125.5 196.8 L126.0 197.6 L126.5 198.0 L127.0 198.3 L127.5 198.8 L128.0 199.0 L128.5 199.4 L129.0 199.6 L129.5 199.9 L130.0 200.6 L130.5 201.1 L131.0 201.7 L131.5 202.1 L132.0 202.7 L132.5 203.2 L133.0 203.7 L133.5 204.4 L134.0 204.5 L134.5 204.6 L135.0 204.9 L135.5 204.8 L136.0 205.2 L136.5 205.5 L137.0 205.6 L137.5 205.9 L138.0 206.1 L138.5 206.4 L139.0 207.0 L139.5 207.8 L140.0 208.2 L140.5 208.5 L141.0 208.5 L141.5 208.7 L142.0 209.1 L142.5 209.5 L143.0 210.1 L143.5 210.4 L144.0 210.5 L144.5 210.5 L145.0 210.3 L145.5 210.4 L146.0 211.2 L146.5 211.7 L147.0 212.0 L147.5 212.7 L148.0 212.8 L148.5 213.1 L149.0 213.5 L149.5 213.7 L150.0 213.8 L150.5 214.2 L151.0 214.7 L151.5 215.2 L152.0 215.5 L152.5 215.9 L153.0 216.2 L153.5 216.1 L154.0 216.2 L154.5 216.1 L155.0 216.2 L155.5 216.9 L156.0 217.0 L156.5 217.0 L157.0 217.5 L157.5 217.6 L158.0 217.9 L158.5 218.4 L159.0 218.5 L159.5 218.7 L160.0 218.4 L160.5 218.4 L161.0 218.4 L161.5 218.4 L162.0 219.0 L162.5 219.5 L163.0 219.7 L163.5 220.0 L164.0 220.6 L164.5 220.5 L165.0 220.5 L165.5 220.8 L166.0 220.8 L166.5 220.9 L167.0 221.4 L167.5 221.5 L168.0 221.5 L168.5 221.9 L169.0 222.2 L169.5 222.4 L170.0 222.8 L170.5 223.1 L171.0 223.5 L171.5 223.8 L172.0 224.1 L172.5 224.3 L173.0 224.1 L173.5 224.5 L174.0 224.6 L174.5 225.0 L175.0 225.3 L175.5 225.3 L176.0 225.1 L176.5 225.1 L177.0 225.3 L177.5 225.8 L178.0 226.2 L178.5 226.5 L179.0 226.8 L179.5 226.7 L180.0 226.6 L180.5 226.4 L181.0 226.1 L181.5 226.4 L182.0 226.6 L182.5 227.2 L183.0 227.6 L183.5 227.8 L184.0 228.2 L184.5 228.1 L185.0 228.2 L185.5 228.1 L186.0 228.2 L186.5 228.2 L187.0 228.3 L187.5 228.7 L188.0 228.6 L188.5 228.9 L189.0 229.0 L189.5 229.0 L190.0 229.5 L190.5 229.5 L191.0 229.9 L191.5 229.8 L192.0 229.9 L192.5 230.0 L193.0 230.0 L193.5 230.3 L194.0 229.9 L194.5 230.0 L195.0 230.0 L195.5 230.2 L196.0 230.7 L196.5 230.9 L197.0 230.7 L197.5 230.8 L198.0 231.1 L198.5 231.3 L199.0 231.6 L199.5 231.2 L200.0 231.0 L200.5 231.4 L201.0 231.6 L201.5 232.0 L202.0 232.0 L202.5 231.5 L203.0 231.6 L203.5 231.2 L204.0 231.1 L204.5 231.3 L205.0 231.2 L205.5 231.5 L206.0 231.6 L206.5 231.5 L207.0 231.2 L207.5 231.2 L208.0 231.0 L208.5 231.0 L209.0 231.0 L209.5 231.0 L210.0 230.8 L210.5 230.8 L211.0 230.6 L211.5 230.7 L212.0 231.0 L212.5 231.6 L213.0 231.7 L213.5 231.6 L214.0 231.7 L214.5 231.3 L215.0 231.5 L215.5 231.8 L216.0 231.6 L216.5 231.4 L217.0 231.2 L217.5 231.0 L218.0 231.2 L218.5 231.1 L219.0 231.0 L219.5 231.0 L220.0 230.9 L220.5 231.0 L221.0 231.2 L221.5 231.2 L222.0 230.8 L222.5 230.8 L223.0 230.7 L223.5 230.5 L224.0 230.3 L224.5 230.3 L225.0 230.3 L225.5 230.6 L226.0 230.5 L226.5 230.8 L227.0 230.5 L227.5 230.4 L228.0 230.8 L228.5 230.6 L229.0 230.8 L229.5 230.5 L230.0 230.4 L230.5 230.1 L231.0 229.6 L231.5 230.2 L232.0 230.2 L232.5 230.7 L233.0 231.0 L233.5 230.7 L234.0 230.8 L234.5 230.8 L235.0 230.9 L235.5 230.5 L236.0 230.3 L236.5 229.7 L237.0 229.5 L237.5 229.8 L238.0 229.7 L238.5 230.1 L239.0 230.4 L239.5 230.7 L240.0 231.2 L240.5 231.3 L241.0 231.5 L241.5 231.0 L242.0 230.8 L242.5 231.0 L243.0 230.6 L243.5 230.8 L244.0 230.6 L244.5 230.5 L245.0 230.8 L245.5 230.8 L246.0 231.1 L246.5 230.9 L247.0 230.5 L247.5 230.5 L248.0 230.7 L248.5 231.4 L249.0 231.7 L249.5 231.7 L250.0 231.6 L250.5 231.2 L251.0 231.3 L251.5 231.5 L252.0 231.4 L252.5 231.5 L253.0 231.2 L253.5 231.1 L254.0 230.8 L254.5 230.6 L255.0 230.5 L255.5 230.6 L256.0 230.8 L256.5 231.0 L257.0 231.3 L257.5 231.2 L258.0 231.2 L258.5 231.1 L259.0 231.3 L259.5 231.9 L260.0 232.2 L260.5 232.4 L261.0 232.6 L261.5 232.2 L262.0 232.5 L262.5 232.6 L263.0 232.2 L263.5 233.0 L264.0 233.1 L264.5 233.3 L265.0 234.1 L265.5 233.9 L266.0 233.9 L266.5 234.1 L267.0 234.3 L267.5 234.7 L268.0 234.9 L268.5 235.4 L269.0 235.7 L269.5 236.3 L270.0 236.3 L270.5 236.3 L271.0 236.1 L271.5 235.8 L272.0 236.2 L272.5 236.1 L273.0 236.7 L273.5 237.0 L274.0 236.8 L274.5 237.0 L275.0 236.8 L275.5 236.9 L276.0 237.3 L276.5 237.5 L277.0 237.5 L277.5 237.6 L278.0 237.6 L278.5 237.6 L279.0 237.9 L279.5 238.6 L280.0 238.8 L280.5 238.9 L281.0 238.9 L281.5 238.5 L282.0 238.4 L282.5 238.4 L283.0 238.5 L283.5 238.6 L284.0 238.8 L284.5 239.1 L285.0 239.2 L285.5 239.2 L286.0 239.4 L286.5 239.5 L287.0 239.9 L287.5 240.3 L288.0 240.3 L288.5 240.3 L289.0 240.3 L289.5 240.7 L290.0 240.4 L290.5 240.6 L291.0 240.9 L291.5 240.6 L292.0 241.0 L292.5 241.0 L293.0 240.7 L293.5 240.8 L294.0 240.5 L294.5 240.3 L295.0 240.3 L295.5 240.3 L296.0 240.6 L296.5 240.9 L297.0 240.8 L297.5 241.2 L298.0 241.4 L298.5 241.6 L299.0 241.9 L299.5 241.7 L300.0 241.7 L300.5 241.7 L301.0 241.5 L301.5 241.7 L302.0 242.2 L302.5 242.0 L303.0 242.4 L303.5 242.5 L304.0 242.1 L304.5 242.8 L305.0 242.5 L305.5 242.5 L306.0 242.9 L306.5 242.8 L307.0 242.9 L307.5 243.1 L308.0 242.8 L308.5 243.1 L309.0 243.0 L309.5 243.2 L310.0 243.2 L310.5 243.2 L311.0 243.3 L311.5 242.9 L312.0 243.2 L312.5 243.0 L313.0 243.0 L313.5 243.7 L314.0 243.7 L314.5 243.7 L315.0 243.9 L315.5 243.8 L316.0 244.2 L316.5 244.4 L317.0 244.1 L317.5 244.1 L318.0 244.1 L318.5 244.1 L319.0 244.3 L319.5 244.4 L320.0 244.2 L320.5 244.0 L321.0 244.4 L321.5 244.6 L322.0 244.4 L322.5 244.4 L323.0 244.3 L323.5 244.4 L324.0 244.5 L324.5 244.6 L325.0 244.5 L325.5 244.3 L326.0 244.1 L326.5 244.4 L327.0 244.4 L327.5 244.8 L328.0 245.2 L328.5 245.2 L329.0 245.4 L329.5 245.7 L330.0 245.7 L330.5 245.6 L331.0 245.8 L331.5 245.5 L332.0 245.3 L332.5 245.4 L333.0 245.3 L333.5 245.0 L334.0 245.2 L334.5 245.2 L335.0 245.1 L335.5 245.2 L336.0 245.2 L336.5 245.4 L337.0 245.5 L337.5 245.5 L338.0 245.7 L338.5 245.5 L339.0 245.4 L339.5 245.9 L340.0 245.7 L340.5 245.9 L341.0 246.2 L341.5 246.0 L342.0 246.1 L342.5 246.3 L343.0 246.3 L343.5 246.0 L344.0 246.0 L344.5 245.9 L345.0 245.6 L345.5 245.9 L346.0 245.9 L346.5 246.0 L347.0 246.2 L347.5 246.5 L348.0 246.7 L348.5 246.6 L349.0 246.7 L349.5 247.0 L350.0 247.1 L350.5 247.0 L351.0 247.1 L351.5 246.9 L352.0 246.8 L352.5 247.0 L353.0 246.9 L353.5 247.1 L354.0 247.2 L354.5 247.0 L355.0 247.1 L355.5 247.0 L356.0 246.8 L356.5 246.8 L357.0 247.1 L357.5 247.2 L358.0 247.4 L358.5 247.5 L359.0 247.2 L359.5 247.3 L360.0 247.4 L360.5 247.8 L361.0 247.9 L361.5 247.9 L362.0 247.9 L362.5 247.7 L363.0 247.5 L363.5 247.3 L364.0 247.1 L364.5 247.1 L365.0 247.0 L365.5 247.2 L366.0 247.3 L366.5 247.2 L367.0 247.7 L367.5 247.5 L368.0 247.8 L368.5 247.8 L369.0 247.7 L369.5 247.8 L370.0 247.8 L370.5 247.8 L371.0 247.9 L371.5 247.7 L372.0 247.8 L372.5 248.1 L373.0 248.2 L373.5 248.6 L374.0 248.8 L374.5 248.6 L375.0 248.9 L375.5 248.6 L376.0 248.3 L376.5 248.3 L377.0 248.2 L377.5 248.5 L378.0 248.6 L378.5 248.9 L379.0 248.6 L379.5 248.7 L380.0 248.7 L380.5 248.6 L381.0 248.8 L381.5 248.7 L382.0 248.7 L382.5 248.7 L383.0 248.9 L383.5 249.3 L384.0 249.5 L384.5 249.6 L385.0 249.6 L385.5 249.4 L386.0 249.4 L386.5 249.3 L387.0 249.6 L387.5 249.8 L388.0 249.6 L388.5 250.0 L389.0 249.9 L389.5 250.2 L390.0 250.4 L390.5 250.5 L391.0 250.6 L391.5 250.8 L392.0 250.8 L392.5 251.0 L393.0 250.8 L393.5 250.7 L394.0 250.6 L394.5 250.4 L395.0 250.5 L395.5 250.4 L396.0 250.7 L396.5 250.9 L397.0 250.8 L397.5 250.6 L398.0 250.5 L398.5 250.6 L399.0 250.6 L399.5 251.0 L400.0 250.6 L400.5 250.7 L401.0 250.8 L401.5 251.0 L402.0 251.0 L402.5 251.1 L403.0 251.2 L403.5 251.2 L404.0 251.4 L404.5 251.3 L405.0 251.7 L405.5 251.6 L406.0 251.8 L406.5 252.0 L407.0 251.5 L407.5 251.9 L408.0 252.3 L408.5 252.3 L409.0 252.2 L409.5 252.3 L410.0 252.4 L410.5 252.7 L411.0 253.2 L411.5 253.0 L412.0 252.8 L412.5 252.6 L413.0 252.3 L413.5 252.7 L414.0 252.6 L414.5 253.3 L415.0 253.5 L415.5 253.4 L416.0 253.6 L416.5 253.6 L417.0 253.6 L417.5 253.5 L418.0 253.4 L418.5 253.4 L419.0 253.2 L419.5 253.3 L420.0 253.4 L420.5 253.3 L421.0 253.3 L421.5 253.4 L422.0 253.1 L422.5 253.2 L423.0 253.4 L423.5 253.6 L424.0 253.9 L424.5 253.8 L425.0 253.8 L425.5 253.6 L426.0 253.5 L426.5 253.9 L427.0 253.8 L427.5 253.6 L428.0 253.6 L428.5 253.3 L429.0 253.1 L429.5 253.4 L430.0 253.3 L430.5 253.4 L431.0 253.6 L431.5 253.4 L432.0 253.3 L432.5 253.3 L433.0 253.5 L433.5 253.3 L434.0 253.6 L434.5 253.5 L435.0 253.3 L435.5 253.8 L436.0 253.7 L436.5 253.6 L437.0 254.0 L437.5 253.8 L438.0 254.0 L438.5 254.4 L439.0 254.3 L439.5 254.5 L440.0 254.6 L440.5 254.5 L441.0 254.4 L441.5 254.3 L442.0 254.2 L442.5 254.7 L443.0 254.6 L443.5 254.7 L444.0 255.1 L444.5 254.9 L445.0 254.8 L445.5 254.9 L446.0 254.5 L446.5 254.7 L447.0 255.0 L447.5 254.8 L448.0 254.9 L448.5 254.8 L449.0 254.7 L449.5 254.8 L450.0 254.9 L450.5 254.7 L451.0 254.6 L451.5 254.7 L452.0 254.6 L452.5 254.9 L453.0 254.8 L453.5 254.9 L454.0 255.0 L454.5 254.8 L455.0 254.7 L455.5 254.4 L456.0 254.4 L456.5 254.4 L457.0 254.6 L457.5 255.0 L458.0 255.1 L458.5 255.5 L459.0 255.5 L459.5 255.2 L460.0 255.2 L460.5 255.0 L461.0 255.2 L461.5 255.3 L462.0 255.3 L462.5 255.4 L463.0 255.3 L463.5 255.3 L464.0 255.2 L464.5 255.1 L465.0 255.0 L465.5 255.1 L466.0 255.1 L466.5 255.1 L467.0 255.1 L467.5 255.1 L468.0 255.2 L468.5 255.0 L469.0 255.2 L469.5 255.1 L470.0 255.0 L470.5 254.9 L471.0 254.5 L471.5 254.8 L472.0 255.0 L472.5 255.3 L473.0 255.1 L473.5 254.9 L474.0 255.0 L474.5 255.1 L475.0 255.1 L475.5 255.1 L476.0 255.0 L476.5 254.7 L477.0 254.8 L477.5 254.6 L478.0 254.3 L478.5 254.4 L479.0 254.6 L479.5 254.6 L480.0 254.7 L480.5 254.9 L481.0 254.8 L481.5 255.1 L482.0 255.5 L482.5 255.1 L483.0 255.2 L483.5 255.0 L484.0 254.7 L484.5 254.8 L485.0 254.7 L485.5 255.0 L486.0 255.1 L486.5 255.1 L487.0 255.1 L487.5 255.0 L488.0 254.8 L488.5 254.9 L489.0 254.9 L489.5 254.7 L490.0 254.8 L490.5 254.9 L491.0 255.2 L491.5 255.5 L492.0 255.6 L492.5 255.6 L493.0 255.6 L493.5 255.4 L494.0 255.1 L494.5 255.2 L495.0 254.8 L495.5 254.9 L496.0 254.9 L496.5 255.1 L497.0 254.9 L497.5 254.7 L498.0 254.3 L498.5 254.2 L499.0 254.1 L499.5 254.0 L500.0 254.2 L500.5 254.1 L501.0 253.9 L501.5 253.8 L502.0 253.5 L502.5 253.3 L503.0 253.3 L503.5 253.3 L504.0 253.4 L504.5 253.2 L505.0 253.1 L505.5 253.2 L506.0 253.6 L506.5 253.4 L507.0 253.3 L507.5 253.2 L508.0 253.1 L508.5 253.2 L509.0 253.1 L509.5 253.0 L510.0 253.0 L510.5 253.2 L511.0 253.1 L511.5 253.3 L512.0 253.1 L512.5 252.8 L513.0 253.0 L513.5 252.9 L514.0 252.9 L514.5 253.2 L515.0 253.3 L515.5 253.1 L516.0 252.9 L516.5 253.0 L517.0 253.1 L517.5 253.1 L518.0 253.0 L518.5 252.7 L519.0 252.5 L519.5 252.4 L520.0 252.6 L520.5 252.5 L521.0 252.5 L521.5 253.0 L522.0 252.8 L522.5 253.1 L523.0 253.5 L523.5 253.5 L524.0 253.7 L524.5 253.7 L525.0 253.6 L525.5 253.8 L526.0 254.0 L526.5 253.8 L527.0 254.1 L527.5 254.0 L528.0 254.0 L528.5 254.4 L529.0 254.7 L529.5 254.5 L530.0 254.4 L530.5 254.0 L531.0 253.8 L531.5 253.8 L532.0 254.3 L532.4 254.5" stroke="#000" stroke-width="1.0" fill="none" stroke-linejoin="round" stroke-linecap="butt" />
<path d="M38.0 358.3 L38.5 358.0 L39.0 357.8 L39.5 357.5 L40.0 357.1 L40.5 356.7 L41.0 356.3 L41.5 355.7 L42.0 355.2 L42.5 354.5 L43.0 353.8 L43.5 352.9 L44.0 352.0 L44.5 351.0 L45.0 349.8 L45.5 348.6 L46.0 347.3 L46.5 345.8 L47.0 344.3 L47.5 342.6 L48.0 340.8 L48.5 339.0 L49.0 337.1 L49.5 335.1 L50.0 333.1 L50.5 331.0 L51.0 329.0 L51.5 326.9 L52.0 324.9 L52.5 323.0 L53.0 321.1 L53.5 319.3 L54.0 317.7 L54.5 316.2 L55.0 315.0 L55.5 313.9 L56.0 313.0 L56.5 312.3 L57.0 311.9 L57.5 311.8 L58.0 311.8 L58.5 312.1 L59.0 312.7 L59.5 313.5 L60.0 314.4 L60.5 315.6 L61.0 317.0 L61.5 318.5 L62.0 320.2 L62.5 321.9 L63.0 323.8 L63.5 325.7 L64.0 327.6 L64.5 329.6 L65.0 331.5 L65.5 333.4 L66.0 335.3 L66.5 337.1 L67.0 338.9 L67.5 340.5 L68.0 342.1 L68.5 343.5 L69.0 344.9 L69.5 346.1 L70.0 347.3 L70.5 348.3 L71.0 349.2 L71.5 350.0 L72.0 350.8 L72.5 351.4 L73.0 352.0 L73.5 352.5 L74.0 352.9 L74.5 353.2 L75.0 353.5 L75.5 353.8 L76.0 354.0 L76.5 354.1 L77.0 354.2 L77.5 354.3 L78.0 354.4 L78.5 354.5 L79.0 354.5 L79.5 354.5" stroke="#000000" stroke-width="3.0" fill="none" stroke-linejoin="round" stroke-linecap="butt" />
<path d="M38.0 356.4 L38.5 356.2 L39.0 355.9 L39.5 355.7 L40.0 355.4 L40.5 355.1 L41.0 354.8 L41.5 354.5 L42.0 354.2 L42.5 353.8 L43.0 353.5 L43.5 353.1 L44.0 352.7 L44.5 352.3 L45.0 351.9 L45.5 351.5 L46.0 351.1 L46.5 350.6 L47.0 350.2 L47.5 349.7 L48.0 349.2 L48.5 348.7 L49.0 348.1 L49.5 347.6 L50.0 347.0 L50.5 346.4 L51.0 345.8 L51.5 345.2 L52.0 344.6 L52.5 344.0 L53.0 343.3 L53.5 342.7 L54.0 342.0 L54.5 341.3 L55.0 340.6 L55.5 339.9 L56.0 339.1 L56.5 338.4 L57.0 337.6 L57.5 336.9 L58.0 336.1 L58.5 335.4 L59.0 334.6 L59.5 333.8 L60.0 333.0 L60.5 332.2 L61.0 331.4 L61.5 330.6 L62.0 329.9 L62.5 329.1 L63.0 328.3 L63.5 327.5 L64.0 326.8 L64.5 326.0 L65.0 325.3 L65.5 324.5 L66.0 323.8 L66.5 323.1 L67.0 322.4 L67.5 321.7 L68.0 321.0 L68.5 320.4 L69.0 319.8 L69.5 319.2 L70.0 318.6 L70.5 318.1 L71.0 317.6 L71.5 317.1 L72.0 316.6 L72.5 316.2 L73.0 315.7 L73.5 315.4 L74.0 315.0 L74.5 314.7 L75.0 314.4 L75.5 314.2 L76.0 314.0 L76.5 313.8 L77.0 313.7 L77.5 313.6 L78.0 313.5 L78.5 313.5 L79.0 313.5 L79.5 313.5 L80.0 313.6 L80.5 313.7 L81.0 313.8 L81.5 314.0 L82.0 314.2 L82.5 314.5 L83.0 314.8 L83.5 315.1 L84.0 315.4 L84.5 315.8 L85.0 316.2 L85.5 316.6 L86.0 317.0 L86.5 317.5 L87.0 318.0 L87.5 318.5 L88.0 319.1 L88.5 319.6 L89.0 320.2 L89.5 320.8 L90.0 321.4 L90.5 322.0 L91.0 322.7 L91.5 323.3 L92.0 324.0 L92.5 324.6 L93.0 325.3 L93.5 326.0 L94.0 326.6 L94.5 327.3 L95.0 328.0 L95.5 328.7 L96.0 329.3 L96.5 330.0 L97.0 330.7 L97.5 331.3 L98.0 332.0 L98.5 332.7 L99.0 333.3 L99.5 333.9 L100.0 334.6 L100.5 335.2 L101.0 335.8 L101.5 336.4 L102.0 337.0 L102.5 337.5 L103.0 338.1 L103.5 338.6 L104.0 339.1 L104.5 339.6 L105.0 340.1 L105.5 340.6 L106.0 341.1 L106.5 341.5 L107.0 342.0 L107.5 342.4 L108.0 342.8 L108.5 343.2 L109.0 343.5 L109.5 343.9 L110.0 344.2 L110.5 344.6 L111.0 344.9 L111.5 345.2 L112.0 345.4 L112.5 345.7 L113.0 346.0 L113.5 346.2 L114.0 346.4 L114.5 346.7 L115.0 346.9 L115.5 347.1 L116.0 347.2 L116.5 347.4 L117.0 347.6 L117.5 347.7 L118.0 347.9 L118.5 348.0 L119.0 348.1 L119.5 348.2 L120.0 348.3 L120.5 348.4 L121.0 348.5 L121.5 348.6 L122.0 348.7 L122.5 348.7 L123.0 348.8 L123.5 348.9 L124.0 348.9 L124.5 348.9 L125.0 349.0 L125.5 349.0 L126.0 349.0 L126.5 349.1 L127.0 349.1 L127.5 349.1 L128.0 349.1 L128.5 349.1 L129.0 349.1 L129.5 349.1 L130.0 349.1 L130.5 349.1 L131.0 349.1 L131.5 349.1 L132.0 349.1 L132.5 349.1 L133.0 349.0 L133.5 349.0 L134.0 349.0" stroke="#ff0000" stroke-width="3.0" fill="none" stroke-linejoin="round" stroke-linecap="butt" />
<path d="M38.0 355.4 L38.5 355.2 L39.0 355.0 L39.5 354.8 L40.0 354.6 L40.5 354.4 L41.0 354.2 L41.5 353.9 L42.0 353.7 L42.5 353.5 L43.0 353.2 L43.5 353.0 L44.0 352.7 L44.5 352.5 L45.0 352.2 L45.5 351.9 L46.0 351.7 L46.5 351.4 L47.0 351.1 L47.5 350.8 L48.0 350.5 L48.5 350.2 L49.0 349.9 L49.5 349.6 L50.0 349.3 L50.5 348.9 L51.0 348.6 L51.5 348.3 L52.0 347.9 L52.5 347.6 L53.0 347.2 L53.5 346.8 L54.0 346.5 L54.5 346.1 L55.0 345.7 L55.5 345.3 L56.0 344.9 L56.5 344.5 L57.0 344.1 L57.5 343.7 L58.0 343.3 L58.5 342.8 L59.0 342.4 L59.5 341.9 L60.0 341.5 L60.5 341.0 L61.0 340.6 L61.5 340.1 L62.0 339.6 L62.5 339.1 L63.0 338.6 L63.5 338.1 L64.0 337.6 L64.5 337.1 L65.0 336.6 L65.5 336.1 L66.0 335.6 L66.5 335.0 L67.0 334.5 L67.5 333.9 L68.0 333.4 L68.5 332.8 L69.0 332.3 L69.5 331.7 L70.0 331.1 L70.5 330.5 L71.0 329.9 L71.5 329.3 L72.0 328.8 L72.5 328.2 L73.0 327.5 L73.5 326.9 L74.0 326.3 L74.5 325.7 L75.0 325.1 L75.5 324.5 L76.0 323.8 L76.5 323.2 L77.0 322.6 L77.5 321.9 L78.0 321.3 L78.5 320.6 L79.0 320.0 L79.5 319.3 L80.0 318.7 L80.5 318.1 L81.0 317.4 L81.5 316.8 L82.0 316.1 L82.5 315.5 L83.0 314.8 L83.5 314.2 L84.0 313.5 L84.5 312.9 L85.0 312.2 L85.5 311.6 L86.0 310.9 L86.5 310.3 L87.0 309.6 L87.5 309.0 L88.0 308.4 L88.5 307.8 L89.0 307.1 L89.5 306.5 L90.0 305.9 L90.5 305.3 L91.0 304.7 L91.5 304.1 L92.0 303.5 L92.5 302.9 L93.0 302.3 L93.5 301.8 L94.0 301.2 L94.5 300.6 L95.0 300.1 L95.5 299.5 L96.0 299.0 L96.5 298.5 L97.0 298.0 L97.5 297.5 L98.0 297.0 L98.5 296.5 L99.0 296.0 L99.5 295.6 L100.0 295.1 L100.5 294.7 L101.0 294.3 L101.5 293.8 L102.0 293.4 L102.5 293.1 L103.0 292.7 L103.5 292.3 L104.0 292.0 L104.5 291.7 L105.0 291.3 L105.5 291.0 L106.0 290.7 L106.5 290.5 L107.0 290.2 L107.5 290.0 L108.0 289.8 L108.5 289.5 L109.0 289.4 L109.5 289.2 L110.0 289.0 L110.5 288.9 L111.0 288.7 L111.5 288.6 L112.0 288.5 L112.5 288.5 L113.0 288.4 L113.5 288.4 L114.0 288.3 L114.5 288.3 L115.0 288.3 L115.5 288.4 L116.0 288.4 L116.5 288.5 L117.0 288.5 L117.5 288.6 L118.0 288.7 L118.5 288.8 L119.0 289.0 L119.5 289.1 L120.0 289.3 L120.5 289.5 L121.0 289.7 L121.5 289.9 L122.0 290.1 L122.5 290.4 L123.0 290.6 L123.5 290.9 L124.0 291.2 L124.5 291.5 L125.0 291.8 L125.5 292.1 L126.0 292.5 L126.5 292.8 L127.0 293.2 L127.5 293.5 L128.0 293.9 L128.5 294.3 L129.0 294.7 L129.5 295.2 L130.0 295.6 L130.5 296.0 L131.0 296.5 L131.5 296.9 L132.0 297.4 L132.5 297.9 L133.0 298.3 L133.5 298.8 L134.0 299.3 L134.5 299.8 L135.0 300.3 L135.5 300.9 L136.0 301.4 L136.5 301.9 L137.0 302.4 L137.5 303.0 L138.0 303.5 L138.5 304.1 L139.0 304.6 L139.5 305.2 L140.0 305.7 L140.5 306.3 L141.0 306.9 L141.5 307.4 L142.0 308.0 L142.5 308.6 L143.0 309.2 L143.5 309.7 L144.0 310.3 L144.5 310.9 L145.0 311.5 L145.5 312.0 L146.0 312.6 L146.5 313.2 L147.0 313.8 L147.5 314.3 L148.0 314.9 L148.5 315.5 L149.0 316.0 L149.5 316.6 L150.0 317.2 L150.5 317.7 L151.0 318.3 L151.5 318.8 L152.0 319.4 L152.5 319.9 L153.0 320.5 L153.5 321.0 L154.0 321.5 L154.5 322.1 L155.0 322.6 L155.5 323.1 L156.0 323.6 L156.5 324.1 L157.0 324.6 L157.5 325.1 L158.0 325.6 L158.5 326.1 L159.0 326.6 L159.5 327.0 L160.0 327.5 L160.5 328.0 L161.0 328.4 L161.5 328.9 L162.0 329.3 L162.5 329.7 L163.0 330.1 L163.5 330.6 L164.0 331.0 L164.5 331.4 L165.0 331.8 L165.5 332.2 L166.0 332.5 L166.5 332.9 L167.0 333.3 L167.5 333.6 L168.0 334.0 L168.5 334.3 L169.0 334.7 L169.5 335.0 L170.0 335.3 L170.5 335.7 L171.0 336.0 L171.5 336.3 L172.0 336.6 L172.5 336.9 L173.0 337.1 L173.5 337.4 L174.0 337.7 L174.5 338.0 L175.0 338.2 L175.5 338.5 L176.0 338.7 L176.5 339.0 L177.0 339.2 L177.5 339.4 L178.0 339.7 L178.5 339.9 L179.0 340.1 L179.5 340.3 L180.0 340.5 L180.5 340.7 L181.0 340.9 L181.5 341.1 L182.0 341.3 L182.5 341.4 L183.0 341.6 L183.5 341.8 L184.0 341.9 L184.5 342.1 L185.0 342.3 L185.5 342.4 L186.0 342.6 L186.5 342.7 L187.0 342.8 L187.5 343.0 L188.0 343.1 L188.5 343.2 L189.0 343.4 L189.5 343.5 L190.0 343.6 L190.5 343.7 L191.0 343.8 L191.5 343.9 L192.0 344.0 L192.5 344.1 L193.0 344.2 L193.5 344.3 L194.0 344.4 L194.5 344.5 L195.0 344.6 L195.5 344.7 L196.0 344.8 L196.5 344.8 L197.0 344.9 L197.5 345.0 L198.0 345.1 L198.5 345.1 L199.0 345.2 L199.5 345.2 L200.0 345.3 L200.5 345.4 L201.0 345.4 L201.5 345.5 L202.0 345.5 L202.5 345.6 L203.0 345.6 L203.5 345.7 L204.0 345.7 L204.5 345.8 L205.0 345.8 L205.5 345.8 L206.0 345.9 L206.5 345.9 L207.0 346.0 L207.5 346.0 L208.0 346.0 L208.5 346.0 L209.0 346.1 L209.5 346.1 L210.0 346.1 L210.5 346.2 L211.0 346.2 L211.5 346.2 L212.0 346.2 L212.5 346.3 L213.0 346.3 L213.5 346.3 L214.0 346.3 L214.5 346.3 L215.0 346.4 L215.5 346.4 L216.0 346.4 L216.5 346.4 L217.0 346.4 L217.5 346.5 L218.0 346.5 L218.5 346.5 L219.0 346.5 L219.5 346.5 L220.0 346.5 L220.5 346.5 L221.0 346.6 L221.5 346.6 L222.0 346.6 L222.5 346.6 L223.0 346.6 L223.5 346.6 L224.0 346.6 L224.5 346.6 L225.0 346.6 L225.5 346.7 L226.0 346.7 L226.5 346.7 L227.0 346.7 L227.5 346.7 L228.0 346.7 L228.5 346.7 L229.0 346.7 L229.5 346.7 L230.0 346.7 L230.5 346.8 L231.0 346.8 L231.5 346.8 L232.0 346.8 L232.5 346.8 L233.0 346.8 L233.5 346.8 L234.0 346.8 L234.5 346.9 L235.0 346.9 L235.5 346.9 L236.0 346.9 L236.5 346.9 L237.0 347.0 L237.5 347.0 L238.0 347.0 L238.5 347.0 L239.0 347.0 L239.5 347.1 L240.0 347.1 L240.5 347.1 L241.0 347.1 L241.5 347.2 L242.0 347.2 L242.5 347.2 L243.0 347.3 L243.5 347.3 L244.0 347.3 L244.5 347.4 L245.0 347.4 L245.5 347.4 L246.0 347.5 L246.5 347.5 L247.0 347.6 L247.5 347.6 L248.0 347.7 L248.5 347.7 L249.0 347.8 L249.5 347.8 L250.0 347.9 L250.5 347.9 L251.0 348.0 L251.5 348.1 L252.0 348.2 L252.5 348.3 L253.0 348.3 L253.5 348.4 L254.0 348.5 L254.5 348.7 L255.0 348.8 L255.5 348.9 L256.0 349.0 L256.5 349.1 L257.0 349.2 L257.5 349.3 L258.0 349.5 L258.5 349.6 L259.0 349.7 L259.5 349.8 L260.0 349.9 L260.5 350.0 L261.0 350.2 L261.5 350.3 L262.0 350.3 L262.5 350.4 L263.0 350.5 L263.5 350.6 L264.0 350.6 L264.5 350.7 L265.0 350.8 L265.5 350.8 L266.0 350.9 L266.5 350.9 L267.0 350.9 L267.5 351.0 L268.0 351.0 L268.5 351.0 L269.0 351.0 L269.5 351.1 L270.0 351.1 L270.5 351.1 L271.0 351.1 L271.5 351.1 L272.0 351.1 L272.5 351.2 L273.0 351.2 L273.5 351.2 L274.0 351.2 L274.5 351.3 L275.0 351.3 L275.5 351.4 L276.0 351.4 L276.5 351.4 L277.0 351.5 L277.5 351.5 L278.0 351.6 L278.5 351.6 L279.0 351.7 L279.5 351.8 L280.0 351.8 L280.5 351.9 L281.0 351.9 L281.5 352.0 L282.0 352.1 L282.5 352.2 L283.0 352.2 L283.5 352.3 L284.0 352.4 L284.5 352.5 L285.0 352.5 L285.5 352.6 L286.0 352.7 L286.5 352.8 L287.0 352.9 L287.5 353.0 L288.0 353.0 L288.5 353.1 L289.0 353.2 L289.5 353.3 L290.0 353.4 L290.5 353.5 L291.0 353.5 L291.5 353.6 L292.0 353.7 L292.5 353.8 L293.0 353.9 L293.5 354.0 L294.0 354.0 L294.5 354.1 L295.0 354.2 L295.5 354.3 L296.0 354.4 L296.5 354.5 L297.0 354.5 L297.5 354.6 L298.0 354.7 L298.5 354.8 L299.0 354.9 L299.5 354.9 L300.0 355.0 L300.5 355.1 L301.0 355.2 L301.5 355.3 L302.0 355.4 L302.5 355.4 L303.0 355.5 L303.5 355.6 L304.0 355.7 L304.5 355.8 L305.0 355.8 L305.5 355.9 L306.0 356.0 L306.5 356.1 L307.0 356.2 L307.5 356.2 L308.0 356.3 L308.5 356.4 L309.0 356.5 L309.5 356.6 L310.0 356.7 L310.5 356.7 L311.0 356.8 L311.5 356.9 L312.0 357.0 L312.5 357.1 L313.0 357.2 L313.5 357.3 L314.0 357.4 L314.5 357.5 L315.0 357.5 L315.5 357.6 L316.0 357.7 L316.5 357.8 L317.0 357.9 L317.5 357.9 L318.0 358.0 L318.5 358.1 L319.0 358.1 L319.5 358.2 L320.0 358.2 L320.5 358.3 L321.0 358.3 L321.5 358.4 L322.0 358.4 L322.5 358.4 L323.0 358.5 L323.5 358.5 L324.0 358.5 L324.5 358.6 L325.0 358.6 L325.5 358.6 L326.0 358.6 L326.5 358.6 L327.0 358.7 L327.5 358.7 L328.0 358.7 L328.5 358.7 L329.0 358.7 L329.5 358.8 L330.0 358.8 L330.5 358.8 L331.0 358.8 L331.5 358.8 L332.0 358.8 L332.5 358.9 L333.0 358.9 L333.5 358.9 L334.0 358.9 L334.5 358.9 L335.0 358.9 L335.5 358.9 L336.0 358.9 L336.5 359.0 L337.0 359.0 L337.5 359.0 L338.0 359.0 L338.5 359.0 L339.0 359.0 L339.5 359.0 L340.0 359.0 L340.5 359.1 L341.0 359.1 L341.5 359.1 L342.0 359.1 L342.5 359.1 L343.0 359.1 L343.5 359.1 L344.0 359.2 L344.5 359.2 L345.0 359.2 L345.5 359.2 L346.0 359.2 L346.5 359.3 L347.0 359.3 L347.5 359.3 L348.0 359.3 L348.5 359.4 L349.0 359.4 L349.5 359.4 L350.0 359.4 L350.5 359.5 L351.0 359.5 L351.5 359.5 L352.0 359.6 L352.5 359.6 L353.0 359.7 L353.5 359.7 L354.0 359.8 L354.5 359.8 L355.0 359.9 L355.5 360.0 L356.0 360.0 L356.5 360.1 L357.0 360.2 L357.5 360.3 L358.0 360.4 L358.5 360.4 L359.0 360.5 L359.5 360.6 L360.0 360.7 L360.5 360.8 L361.0 360.9 L361.5 360.9 L362.0 361.0 L362.5 361.1 L363.0 361.2 L363.5 361.3 L364.0 361.4 L364.5 361.4 L365.0 361.5 L365.5 361.6 L366.0 361.7 L366.5 361.8 L367.0 361.8 L367.5 361.9 L368.0 362.0 L368.5 362.1 L369.0 362.1 L369.5 362.2 L370.0 362.3 L370.5 362.4 L371.0 362.5 L371.5 362.6 L372.0 362.6 L372.5 362.7 L373.0 362.8 L373.5 362.9 L374.0 363.0 L374.5 363.0 L375.0 363.1 L375.5 363.2 L376.0 363.3 L376.5 363.3 L377.0 363.4 L377.5 363.5 L378.0 363.5 L378.5 363.6 L379.0 363.7 L379.5 363.7 L380.0 363.8 L380.5 363.9 L381.0 363.9 L381.5 364.0 L382.0 364.0 L382.5 364.1 L383.0 364.1 L383.5 364.2 L384.0 364.2 L384.5 364.3 L385.0 364.3 L385.5 364.4 L386.0 364.4 L386.5 364.5 L387.0 364.5 L387.5 364.5 L388.0 364.6 L388.5 364.6 L389.0 364.7 L389.5 364.7 L390.0 364.8 L390.5 364.8 L391.0 364.8 L391.5 364.9 L392.0 364.9 L392.5 365.0 L393.0 365.0 L393.5 365.0 L394.0 365.1 L394.5 365.1 L395.0 365.2 L395.5 365.2 L396.0 365.3 L396.5 365.3 L397.0 365.4 L397.5 365.4 L398.0 365.5 L398.5 365.5 L399.0 365.6 L399.5 365.6 L400.0 365.7 L400.5 365.7 L401.0 365.8 L401.5 365.9 L402.0 365.9 L402.5 366.0 L403.0 366.1 L403.5 366.1 L404.0 366.2 L404.5 366.3 L405.0 366.3 L405.5 366.4 L406.0 366.5 L406.5 366.6 L407.0 366.7 L407.5 366.7 L408.0 366.8 L408.5 366.9 L409.0 367.0 L409.5 367.1 L410.0 367.2 L410.5 367.3 L411.0 367.4 L411.5 367.4 L412.0 367.5 L412.5 367.6 L413.0 367.7 L413.5 367.8 L414.0 367.9 L414.5 368.0 L415.0 368.1 L415.5 368.2 L416.0 368.3 L416.5 368.4 L417.0 368.5 L417.5 368.6 L418.0 368.7 L418.5 368.8 L419.0 368.9 L419.5 369.0 L420.0 369.1 L420.5 369.2 L421.0 369.3 L421.5 369.3 L422.0 369.4 L422.5 369.5 L423.0 369.6 L423.5 369.7 L424.0 369.8 L424.5 369.9 L425.0 370.0 L425.5 370.1 L426.0 370.2 L426.5 370.3 L427.0 370.3 L427.5 370.4 L428.0 370.5 L428.5 370.6 L429.0 370.7 L429.5 370.8 L430.0 370.8 L430.5 370.9 L431.0 371.0 L431.5 371.1 L432.0 371.1 L432.5 371.2 L433.0 371.3 L433.5 371.3 L434.0 371.4 L434.5 371.5 L435.0 371.5 L435.5 371.6 L436.0 371.7 L436.5 371.8 L437.0 371.8 L437.5 371.9 L438.0 372.0 L438.5 372.0 L439.0 372.1 L439.5 372.2 L440.0 372.2 L440.5 372.3 L441.0 372.4 L441.5 372.4 L442.0 372.5 L442.5 372.6 L443.0 372.6 L443.5 372.7 L444.0 372.8 L444.5 372.8 L445.0 372.9 L445.5 373.0 L446.0 373.0 L446.5 373.1 L447.0 373.1 L447.5 373.2 L448.0 373.3 L448.5 373.3 L449.0 373.4 L449.5 373.4 L450.0 373.5 L450.5 373.6 L451.0 373.6 L451.5 373.7 L452.0 373.7 L452.5 373.8 L453.0 373.8 L453.5 373.9 L454.0 374.0 L454.5 374.0 L455.0 374.1 L455.5 374.1 L456.0 374.2 L456.5 374.2 L457.0 374.3 L457.5 374.3 L458.0 374.4 L458.5 374.4 L459.0 374.5 L459.5 374.5 L460.0 374.6 L460.5 374.6 L461.0 374.7 L461.5 374.7 L462.0 374.7 L462.5 374.8 L463.0 374.8 L463.5 374.9 L464.0 374.9 L464.5 375.0 L465.0 375.0 L465.5 375.0 L466.0 375.1 L466.5 375.1 L467.0 375.2 L467.5 375.2 L468.0 375.2 L468.5 375.3 L469.0 375.3 L469.5 375.4 L470.0 375.4 L470.5 375.5 L471.0 375.5 L471.5 375.5 L472.0 375.6 L472.5 375.6 L473.0 375.7 L473.5 375.7 L474.0 375.7 L474.5 375.8 L475.0 375.8 L475.5 375.9 L476.0 375.9 L476.5 375.9 L477.0 376.0 L477.5 376.0 L478.0 376.0 L478.5 376.1 L479.0 376.1 L479.5 376.2 L480.0 376.2 L480.5 376.2 L481.0 376.3 L481.5 376.3 L482.0 376.3 L482.5 376.3 L483.0 376.4 L483.5 376.4 L484.0 376.4 L484.5 376.5 L485.0 376.5 L485.5 376.5 L486.0 376.5 L486.5 376.6 L487.0 376.6 L487.5 376.6 L488.0 376.6 L488.5 376.7 L489.0 376.7 L489.5 376.7 L490.0 376.7 L490.5 376.7 L491.0 376.7 L491.5 376.8 L492.0 376.8 L492.5 376.8 L493.0 376.8 L493.5 376.8 L494.0 376.8 L494.5 376.8 L495.0 376.8 L495.5 376.8 L496.0 376.8 L496.5 376.8 L497.0 376.9 L497.5 376.9 L498.0 376.9 L498.5 376.9 L499.0 376.9 L499.5 376.9 L500.0 376.9 L500.5 376.9 L501.0 376.9 L501.5 376.9 L502.0 376.9 L502.5 376.9 L503.0 376.9 L503.5 376.9 L504.0 377.0 L504.5 377.0 L505.0 377.0 L505.5 377.0 L506.0 377.0 L506.5 377.0 L507.0 377.0 L507.5 377.0 L508.0 377.0 L508.5 377.0 L509.0 377.0 L509.5 377.0 L510.0 377.0 L510.5 377.0 L511.0 377.0 L511.5 377.0 L512.0 377.0 L512.5 377.0 L513.0 377.0 L513.5 377.0 L514.0 377.0 L514.5 377.0 L515.0 377.0 L515.5 377.0 L516.0 377.0 L516.5 377.0 L517.0 376.9 L517.5 376.9 L518.0 376.9 L518.5 376.9 L519.0 376.9 L519.5 376.9 L520.0 376.9 L520.5 376.8 L521.0 376.8 L521.5 376.8 L522.0 376.8 L522.5 376.8 L523.0 376.7 L523.5 376.7 L524.0 376.7 L524.5 376.7 L525.0 376.6 L525.5 376.6 L526.0 376.6 L526.5 376.6 L527.0 376.5 L527.5 376.5 L528.0 376.5 L528.5 376.4 L529.0 376.4 L529.5 376.4 L530.0 376.4 L530.5 376.3 L531.0 376.3 L531.5 376.3 L532.0 376.2 L532.4 376.2" stroke="#00ff00" stroke-width="3.0" fill="none" stroke-linejoin="round" stroke-linecap="butt" />
<path d="M38.0 359.0 L38.5 358.9 L39.0 358.9 L39.5 358.8 L40.0 358.8 L40.5 358.7 L41.0 358.6 L41.5 358.6 L42.0 358.5 L42.5 358.5 L43.0 358.4 L43.5 358.3 L44.0 358.3 L44.5 358.2 L45.0 358.2 L45.5 358.1 L46.0 358.0 L46.5 358.0 L47.0 357.9 L47.5 357.9 L48.0 357.8 L48.5 357.7 L49.0 357.7 L49.5 357.6 L50.0 357.6 L50.5 357.5 L51.0 357.5 L51.5 357.4 L52.0 357.3 L52.5 357.3 L53.0 357.2 L53.5 357.2 L54.0 357.1 L54.5 357.1 L55.0 357.0 L55.5 357.0 L56.0 356.9 L56.5 356.9 L57.0 356.8 L57.5 356.8 L58.0 356.7 L58.5 356.7 L59.0 356.6 L59.5 356.6 L60.0 356.5 L60.5 356.4 L61.0 356.4 L61.5 356.4 L62.0 356.3 L62.5 356.3 L63.0 356.2 L63.5 356.2 L64.0 356.1 L64.5 356.1 L65.0 356.0 L65.5 356.0 L66.0 355.9 L66.5 355.9 L67.0 355.8 L67.5 355.8 L68.0 355.8 L68.5 355.7 L69.0 355.7 L69.5 355.6 L70.0 355.6 L70.5 355.5 L71.0 355.5 L71.5 355.4 L72.0 355.4 L72.5 355.4 L73.0 355.3 L73.5 355.3 L74.0 355.2 L74.5 355.2 L75.0 355.2 L75.5 355.1 L76.0 355.1 L76.5 355.0 L77.0 355.0 L77.5 354.9 L78.0 354.9 L78.5 354.9 L79.0 354.8 L79.5 354.8 L80.0 354.7 L80.5 354.7 L81.0 354.6 L81.5 354.6 L82.0 354.6 L82.5 354.5 L83.0 354.5 L83.5 354.4 L84.0 354.4 L84.5 354.3 L85.0 354.3 L85.5 354.2 L86.0 354.2 L86.5 354.1 L87.0 354.1 L87.5 354.0 L88.0 354.0 L88.5 354.0 L89.0 353.9 L89.5 353.9 L90.0 353.8 L90.5 353.7 L91.0 353.7 L91.5 353.6 L92.0 353.6 L92.5 353.5 L93.0 353.5 L93.5 353.4 L94.0 353.4 L94.5 353.3 L95.0 353.2 L95.5 353.2 L96.0 353.1 L96.5 353.1 L97.0 353.0 L97.5 352.9 L98.0 352.9 L98.5 352.8 L99.0 352.7 L99.5 352.7 L100.0 352.6 L100.5 352.6 L101.0 352.5 L101.5 352.4 L102.0 352.4 L102.5 352.3 L103.0 352.2 L103.5 352.2 L104.0 352.1 L104.5 352.0 L105.0 352.0 L105.5 351.9 L106.0 351.8 L106.5 351.8 L107.0 351.7 L107.5 351.7 L108.0 351.6 L108.5 351.5 L109.0 351.5 L109.5 351.4 L110.0 351.4 L110.5 351.3 L111.0 351.2 L111.5 351.2 L112.0 351.1 L112.5 351.1 L113.0 351.0 L113.5 350.9 L114.0 350.9 L114.5 350.8 L115.0 350.8 L115.5 350.7 L116.0 350.7 L116.5 350.6 L117.0 350.6 L117.5 350.5 L118.0 350.5 L118.5 350.5 L119.0 350.4 L119.5 350.4 L120.0 350.3 L120.5 350.3 L121.0 350.2 L121.5 350.2 L122.0 350.2 L122.5 350.1 L123.0 350.1 L123.5 350.0 L124.0 350.0 L124.5 349.9 L125.0 349.9 L125.5 349.9 L126.0 349.8 L126.5 349.8 L127.0 349.7 L127.5 349.7 L128.0 349.7 L128.5 349.6 L129.0 349.6 L129.5 349.5 L130.0 349.5 L130.5 349.5 L131.0 349.4 L131.5 349.4 L132.0 349.3 L132.5 349.3 L133.0 349.3 L133.5 349.2 L134.0 349.2 L134.5 349.2 L135.0 349.1 L135.5 349.1 L136.0 349.1 L136.5 349.0 L137.0 349.0 L137.5 349.0 L138.0 348.9 L138.5 348.9 L139.0 348.8 L139.5 348.8 L140.0 348.8 L140.5 348.7 L141.0 348.7 L141.5 348.7 L142.0 348.7 L142.5 348.6 L143.0 348.6 L143.5 348.6 L144.0 348.5 L144.5 348.5 L145.0 348.5 L145.5 348.4 L146.0 348.4 L146.5 348.4 L147.0 348.3 L147.5 348.3 L148.0 348.3 L148.5 348.3 L149.0 348.2 L149.5 348.2 L150.0 348.2 L150.5 348.2 L151.0 348.1 L151.5 348.1 L152.0 348.1 L152.5 348.1 L153.0 348.0 L153.5 348.0 L154.0 348.0 L154.5 348.0 L155.0 347.9 L155.5 347.9 L156.0 347.9 L156.5 347.9 L157.0 347.8 L157.5 347.8 L158.0 347.8 L158.5 347.8 L159.0 347.7 L159.5 347.7 L160.0 347.7 L160.5 347.7 L161.0 347.6 L161.5 347.6 L162.0 347.6 L162.5 347.6 L163.0 347.5 L163.5 347.5 L164.0 347.5 L164.5 347.5 L165.0 347.4 L165.5 347.4 L166.0 347.4 L166.5 347.4 L167.0 347.3 L167.5 347.3 L168.0 347.3 L168.5 347.3 L169.0 347.2 L169.5 347.2 L170.0 347.2 L170.5 347.2 L171.0 347.1 L171.5 347.1 L172.0 347.1 L172.5 347.1 L173.0 347.1 L173.5 347.0 L174.0 347.0 L174.5 347.0 L175.0 347.0 L175.5 347.0 L176.0 346.9 L176.5 346.9 L177.0 346.9 L177.5 346.9 L178.0 346.9 L178.5 346.8 L179.0 346.8 L179.5 346.8 L180.0 346.8 L180.5 346.8 L181.0 346.8 L181.5 346.8 L182.0 346.7 L182.5 346.7 L183.0 346.7 L183.5 346.7 L184.0 346.7 L184.5 346.7 L185.0 346.7 L185.5 346.7 L186.0 346.7 L186.5 346.6 L187.0 346.6 L187.5 346.6 L188.0 346.6 L188.5 346.6 L189.0 346.6 L189.5 346.6 L190.0 346.6 L190.5 346.6 L191.0 346.6 L191.5 346.6 L192.0 346.6 L192.5 346.6 L193.0 346.6 L193.5 346.6 L194.0 346.6 L194.5 346.6 L195.0 346.6 L195.5 346.6 L196.0 346.6 L196.5 346.6 L197.0 346.6 L197.5 346.6 L198.0 346.6 L198.5 346.6 L199.0 346.6 L199.5 346.6 L200.0 346.6 L200.5 346.6 L201.0 346.6 L201.5 346.6 L202.0 346.6 L202.5 346.6 L203.0 346.6 L203.5 346.6 L204.0 346.6 L204.5 346.6 L205.0 346.6 L205.5 346.6 L206.0 346.6 L206.5 346.6 L207.0 346.6 L207.5 346.6 L208.0 346.6 L208.5 346.6 L209.0 346.6 L209.5 346.6 L210.0 346.6 L210.5 346.6 L211.0 346.7 L211.5 346.7 L212.0 346.7 L212.5 346.7 L213.0 346.7 L213.5 346.7 L214.0 346.7 L214.5 346.7 L215.0 346.7 L215.5 346.7 L216.0 346.7 L216.5 346.7 L217.0 346.7 L217.5 346.7 L218.0 346.7 L218.5 346.7 L219.0 346.7 L219.5 346.7 L220.0 346.7 L220.5 346.7 L221.0 346.7 L221.5 346.7 L222.0 346.7 L222.5 346.7 L223.0 346.7 L223.5 346.7 L224.0 346.7 L224.5 346.7 L225.0 346.8 L225.5 346.8 L226.0 346.8 L226.5 346.8 L227.0 346.8 L227.5 346.8 L228.0 346.8 L228.5 346.8 L229.0 346.8 L229.5 346.8 L230.0 346.8 L230.5 346.8 L231.0 346.8 L231.5 346.8 L232.0 346.8 L232.5 346.8 L233.0 346.9 L233.5 346.9 L234.0 346.9 L234.5 346.9 L235.0 346.9 L235.5 346.9 L236.0 346.9 L236.5 347.0 L237.0 347.0 L237.5 347.0 L238.0 347.0 L238.5 347.0 L239.0 347.1 L239.5 347.1 L240.0 347.1 L240.5 347.1 L241.0 347.2 L241.5 347.2 L242.0 347.2 L242.5 347.2 L243.0 347.3 L243.5 347.3 L244.0 347.3 L244.5 347.3 L245.0 347.4 L245.5 347.4 L246.0 347.4 L246.5 347.5 L247.0 347.5 L247.5 347.5 L248.0 347.5 L248.5 347.6 L249.0 347.6 L249.5 347.6 L250.0 347.7 L250.5 347.7 L251.0 347.7 L251.5 347.8 L252.0 347.8 L252.5 347.8 L253.0 347.9 L253.5 347.9 L254.0 348.0 L254.5 348.0 L255.0 348.1 L255.5 348.1 L256.0 348.2 L256.5 348.2 L257.0 348.3 L257.5 348.3 L258.0 348.4 L258.5 348.4 L259.0 348.5 L259.5 348.5 L260.0 348.6 L260.5 348.6 L261.0 348.7 L261.5 348.8 L262.0 348.8 L262.5 348.9 L263.0 348.9 L263.5 349.0 L264.0 349.0 L264.5 349.1 L265.0 349.2 L265.5 349.3 L266.0 349.3 L266.5 349.4 L267.0 349.5 L267.5 349.6 L268.0 349.6 L268.5 349.7 L269.0 349.8 L269.5 349.9 L270.0 350.0 L270.5 350.1 L271.0 350.1 L271.5 350.2 L272.0 350.3 L272.5 350.4 L273.0 350.5 L273.5 350.6 L274.0 350.7 L274.5 350.8 L275.0 350.8 L275.5 350.9 L276.0 351.0 L276.5 351.1 L277.0 351.2 L277.5 351.3 L278.0 351.4 L278.5 351.4 L279.0 351.5 L279.5 351.6 L280.0 351.7 L280.5 351.8 L281.0 351.9 L281.5 351.9 L282.0 352.0 L282.5 352.1 L283.0 352.2 L283.5 352.3 L284.0 352.4 L284.5 352.4 L285.0 352.5 L285.5 352.6 L286.0 352.7 L286.5 352.8 L287.0 352.9 L287.5 352.9 L288.0 353.0 L288.5 353.1 L289.0 353.2 L289.5 353.3 L290.0 353.4 L290.5 353.5 L291.0 353.5 L291.5 353.6 L292.0 353.7 L292.5 353.8 L293.0 353.9 L293.5 354.0 L294.0 354.0 L294.5 354.1 L295.0 354.2 L295.5 354.3 L296.0 354.4 L296.5 354.5 L297.0 354.5 L297.5 354.6 L298.0 354.7 L298.5 354.8 L299.0 354.9 L299.5 354.9 L300.0 355.0 L300.5 355.1 L301.0 355.2 L301.5 355.3 L302.0 355.4 L302.5 355.4 L303.0 355.5 L303.5 355.6 L304.0 355.7 L304.5 355.8 L305.0 355.8 L305.5 355.9 L306.0 356.0 L306.5 356.1 L307.0 356.2 L307.5 356.2 L308.0 356.3 L308.5 356.4 L309.0 356.5 L309.5 356.6 L310.0 356.7 L310.5 356.7 L311.0 356.8 L311.5 356.9 L312.0 357.0 L312.5 357.1 L313.0 357.2 L313.5 357.3 L314.0 357.4 L314.5 357.5 L315.0 357.5 L315.5 357.6 L316.0 357.7 L316.5 357.8 L317.0 357.9 L317.5 357.9 L318.0 358.0 L318.5 358.1 L319.0 358.1 L319.5 358.2 L320.0 358.2 L320.5 358.3 L321.0 358.3 L321.5 358.4 L322.0 358.4 L322.5 358.4 L323.0 358.5 L323.5 358.5 L324.0 358.5 L324.5 358.6 L325.0 358.6 L325.5 358.6 L326.0 358.6 L326.5 358.6 L327.0 358.7 L327.5 358.7 L328.0 358.7 L328.5 358.7 L329.0 358.7 L329.5 358.8 L330.0 358.8 L330.5 358.8 L331.0 358.8 L331.5 358.8 L332.0 358.8 L332.5 358.9 L333.0 358.9 L333.5 358.9 L334.0 358.9 L334.5 358.9 L335.0 358.9 L335.5 358.9 L336.0 358.9 L336.5 359.0 L337.0 359.0 L337.5 359.0 L338.0 359.0 L338.5 359.0 L339.0 359.0 L339.5 359.0 L340.0 359.0 L340.5 359.1 L341.0 359.1 L341.5 359.1 L342.0 359.1 L342.5 359.1 L343.0 359.1 L343.5 359.1 L344.0 359.2 L344.5 359.2 L345.0 359.2 L345.5 359.2 L346.0 359.2 L346.5 359.3 L347.0 359.3 L347.5 359.3 L348.0 359.3 L348.5 359.4 L349.0 359.4 L349.5 359.4 L350.0 359.4 L350.5 359.5 L351.0 359.5 L351.5 359.5 L352.0 359.6 L352.5 359.6 L353.0 359.7 L353.5 359.7 L354.0 359.8 L354.5 359.8 L355.0 359.9 L355.5 360.0 L356.0 360.0 L356.5 360.1 L357.0 360.2 L357.5 360.3 L358.0 360.4 L358.5 360.4 L359.0 360.5 L359.5 360.6 L360.0 360.7 L360.5 360.8 L361.0 360.9 L361.5 360.9 L362.0 361.0 L362.5 361.1 L363.0 361.2 L363.5 361.3 L364.0 361.4 L364.5 361.4 L365.0 361.5 L365.5 361.6 L366.0 361.7 L366.5 361.8 L367.0 361.8 L367.5 361.9 L368.0 362.0 L368.5 362.1 L369.0 362.1 L369.5 362.2 L370.0 362.3 L370.5 362.4 L371.0 362.5 L371.5 362.6 L372.0 362.6 L372.5 362.7 L373.0 362.8 L373.5 362.9 L374.0 363.0 L374.5 363.0 L375.0 363.1 L375.5 363.2 L376.0 363.3 L376.5 363.3 L377.0 363.4 L377.5 363.5 L378.0 363.5 L378.5 363.6 L379.0 363.7 L379.5 363.7 L380.0 363.8 L380.5 363.9 L381.0 363.9 L381.5 364.0 L382.0 364.0 L382.5 364.1 L383.0 364.1 L383.5 364.2 L384.0 364.2 L384.5 364.3 L385.0 364.3 L385.5 364.4 L386.0 364.4 L386.5 364.5 L387.0 364.5 L387.5 364.5 L388.0 364.6 L388.5 364.6 L389.0 364.7 L389.5 364.7 L390.0 364.8 L390.5 364.8 L391.0 364.8 L391.5 364.9 L392.0 364.9 L392.5 365.0 L393.0 365.0 L393.5 365.0 L394.0 365.1 L394.5 365.1 L395.0 365.2 L395.5 365.2 L396.0 365.3 L396.5 365.3 L397.0 365.4 L397.5 365.4 L398.0 365.5 L398.5 365.5 L399.0 365.6 L399.5 365.6 L400.0 365.7 L400.5 365.7 L401.0 365.8 L401.5 365.9 L402.0 365.9 L402.5 366.0 L403.0 366.1 L403.5 366.1 L404.0 366.2 L404.5 366.3 L405.0 366.3 L405.5 366.4 L406.0 366.5 L406.5 366.6 L407.0 366.7 L407.5 366.7 L408.0 366.8 L408.5 366.9 L409.0 367.0 L409.5 367.1 L410.0 367.2 L410.5 367.3 L411.0 367.4 L411.5 367.4 L412.0 367.5 L412.5 367.6 L413.0 367.7 L413.5 367.8 L414.0 367.9 L414.5 368.0 L415.0 368.1 L415.5 368.2 L416.0 368.3 L416.5 368.4 L417.0 368.5 L417.5 368.6 L418.0 368.7 L418.5 368.8 L419.0 368.9 L419.5 369.0 L420.0 369.1 L420.5 369.2 L421.0 369.3 L421.5 369.3 L422.0 369.4 L422.5 369.5 L423.0 369.6 L423.5 369.7 L424.0 369.8 L424.5 369.9 L425.0 370.0 L425.5 370.1 L426.0 370.2 L426.5 370.3 L427.0 370.3 L427.5 370.4 L428.0 370.5 L428.5 370.6 L429.0 370.7 L429.5 370.8 L430.0 370.8 L430.5 370.9 L431.0 371.0 L431.5 371.1 L432.0 371.1 L432.5 371.2 L433.0 371.3 L433.5 371.3 L434.0 371.4 L434.5 371.5 L435.0 371.5 L435.5 371.6 L436.0 371.7 L436.5 371.8 L437.0 371.8 L437.5 371.9 L438.0 372.0 L438.5 372.0 L439.0 372.1 L439.5 372.2 L440.0 372.2 L440.5 372.3 L441.0 372.4 L441.5 372.4 L442.0 372.5 L442.5 372.6 L443.0 372.6 L443.5 372.7 L444.0 372.8 L444.5 372.8 L445.0 372.9 L445.5 373.0 L446.0 373.0 L446.5 373.1 L447.0 373.1 L447.5 373.2 L448.0 373.3 L448.5 373.3 L449.0 373.4 L449.5 373.4 L450.0 373.5 L450.5 373.6 L451.0 373.6 L451.5 373.7 L452.0 373.7 L452.5 373.8 L453.0 373.8 L453.5 373.9 L454.0 374.0 L454.5 374.0 L455.0 374.1 L455.5 374.1 L456.0 374.2 L456.5 374.2 L457.0 374.3 L457.5 374.3 L458.0 374.4 L458.5 374.4 L459.0 374.5 L459.5 374.5 L460.0 374.6 L460.5 374.6 L461.0 374.7 L461.5 374.7 L462.0 374.7 L462.5 374.8 L463.0 374.8 L463.5 374.9 L464.0 374.9 L464.5 375.0 L465.0 375.0 L465.5 375.0 L466.0 375.1 L466.5 375.1 L467.0 375.2 L467.5 375.2 L468.0 375.2 L468.5 375.3 L469.0 375.3 L469.5 375.4 L470.0 375.4 L470.5 375.5 L471.0 375.5 L471.5 375.5 L472.0 375.6 L472.5 375.6 L473.0 375.7 L473.5 375.7 L474.0 375.7 L474.5 375.8 L475.0 375.8 L475.5 375.9 L476.0 375.9 L476.5 375.9 L477.0 376.0 L477.5 376.0 L478.0 376.0 L478.5 376.1 L479.0 376.1 L479.5 376.2 L480.0 376.2 L480.5 376.2 L481.0 376.3 L481.5 376.3 L482.0 376.3 L482.5 376.3 L483.0 376.4 L483.5 376.4 L484.0 376.4 L484.5 376.5 L485.0 376.5 L485.5 376.5 L486.0 376.5 L486.5 376.6 L487.0 376.6 L487.5 376.6 L488.0 376.6 L488.5 376.7 L489.0 376.7 L489.5 376.7 L490.0 376.7 L490.5 376.7 L491.0 376.7 L491.5 376.8 L492.0 376.8 L492.5 376.8 L493.0 376.8 L493.5 376.8 L494.0 376.8 L494.5 376.8 L495.0 376.8 L495.5 376.8 L496.0 376.8 L496.5 376.8 L497.0 376.9 L497.5 376.9 L498.0 376.9 L498.5 376.9 L499.0 376.9 L499.5 376.9 L500.0 376.9 L500.5 376.9 L501.0 376.9 L501.5 376.9 L502.0 376.9 L502.5 376.9 L503.0 376.9 L503.5 376.9 L504.0 377.0 L504.5 377.0 L505.0 377.0 L505.5 377.0 L506.0 377.0 L506.5 377.0 L507.0 377.0 L507.5 377.0 L508.0 377.0 L508.5 377.0 L509.0 377.0 L509.5 377.0 L510.0 377.0 L510.5 377.0 L511.0 377.0 L511.5 377.0 L512.0 377.0 L512.5 377.0 L513.0 377.0 L513.5 377.0 L514.0 377.0 L514.5 377.0 L515.0 377.0 L515.5 377.0 L516.0 377.0 L516.5 377.0 L517.0 376.9 L517.5 376.9 L518.0 376.9 L518.5 376.9 L519.0 376.9 L519.5 376.9 L520.0 376.9 L520.5 376.8 L521.0 376.8 L521.5 376.8 L522.0 376.8 L522.5 376.8 L523.0 376.7 L523.5 376.7 L524.0 376.7 L524.5 376.7 L525.0 376.6 L525.5 376.6 L526.0 376.6 L526.5 376.6 L527.0 376.5 L527.5 376.5 L528.0 376.5 L528.5 376.4 L529.0 376.4 L529.5 376.4 L530.0 376.4 L530.5 376.3 L531.0 376.3 L531.5 376.3 L532.0 376.2 L532.4 376.2" stroke="#0000ff" stroke-width="3.0" fill="none" stroke-linejoin="round" stroke-linecap="butt" />
<path d="M505.0 377.0 L505.5 377.0 L506.0 377.0 L506.5 377.0 L507.0 377.0 L507.5 377.0 L508.0 377.0 L508.5 377.0 L509.0 377.0 L509.5 377.0 L510.0 377.0 L510.5 377.0 L511.0 377.0 L511.5 377.0 L512.0 377.0 L512.5 377.0 L513.0 377.0 L513.5 377.0 L514.0 377.0 L514.5 377.0 L515.0 377.0 L515.5 377.0 L516.0 377.0 L516.5 377.0 L517.0 376.9 L517.5 376.9 L518.0 376.9 L518.5 376.9 L519.0 376.9 L519.5 376.9 L520.0 376.9 L520.5 376.8 L521.0 376.8 L521.5 376.8 L522.0 376.8 L522.5 376.8 L523.0 376.7 L523.5 376.7 L524.0 376.7 L524.5 376.7 L525.0 376.6 L525.5 376.6 L526.0 376.6 L526.5 376.6 L527.0 376.5 L527.5 376.5 L528.0 376.5 L528.5 376.4 L529.0 376.4 L529.5 376.4 L530.0 376.4 L530.5 376.3 L531.0 376.3 L531.5 376.3 L532.0 376.2 L532.4 376.2" stroke="#ff00aa" stroke-width="3.0" fill="none" stroke-linejoin="round" stroke-linecap="butt" />
<path d="M38.0 353.3 L38.5 352.1 L39.0 350.9 L39.5 349.5 L40.0 348.0 L40.5 346.4 L41.0 344.7 L41.5 343.0 L42.0 341.1 L42.5 339.1 L43.0 336.9 L43.5 334.5 L44.0 332.1 L44.5 329.7 L45.0 327.2 L45.5 324.7 L46.0 322.3 L46.5 319.9 L47.0 317.3 L47.5 314.7 L48.0 312.1 L48.5 309.5 L49.0 307.0 L49.5 304.5 L50.0 302.1 L50.5 299.8 L51.0 297.7 L51.5 295.4 L52.0 293.2 L52.5 291.0 L53.0 288.8 L53.5 286.9 L54.0 285.1 L54.5 283.7 L55.0 282.5 L55.5 281.7 L56.0 281.0 L56.5 280.2 L57.0 279.6 L57.5 279.0 L58.0 278.5 L58.5 278.1 L59.0 277.8 L59.5 277.6 L60.0 277.6 L60.5 277.7 L61.0 278.0 L61.5 278.4 L62.0 278.8 L62.5 279.3 L63.0 279.9 L63.5 280.5 L64.0 281.0 L64.5 281.6 L65.0 282.1 L65.5 282.6 L66.0 282.9 L66.5 283.2 L67.0 283.4 L67.5 283.6 L68.0 283.7 L68.5 283.9 L69.0 284.0 L69.5 284.1 L70.0 284.2 L70.5 284.3 L71.0 284.4 L71.5 284.5 L72.0 284.5 L72.5 284.5 L73.0 284.4 L73.5 284.3 L74.0 284.0 L74.5 283.7 L75.0 283.4 L75.5 283.0 L76.0 282.6 L76.5 282.2 L77.0 281.8 L77.5 281.4 L78.0 281.1 L78.5 280.8 L79.0 280.5 L79.5 280.2 L80.0 279.9 L80.5 279.6 L81.0 279.3 L81.5 279.0 L82.0 278.7 L82.5 278.5 L83.0 278.2 L83.5 277.9 L84.0 277.6 L84.5 277.4 L85.0 277.1 L85.5 276.9 L86.0 276.6 L86.5 276.4 L87.0 276.1 L87.5 275.9 L88.0 275.6 L88.5 275.4 L89.0 275.1 L89.5 275.0 L90.0 274.9 L90.5 274.9 L91.0 274.9 L91.5 274.9 L92.0 275.0 L92.5 275.0 L93.0 275.1 L93.5 275.1 L94.0 275.2 L94.5 275.3 L95.0 275.3 L95.5 275.4 L96.0 275.5 L96.5 275.6 L97.0 275.7 L97.5 275.9 L98.0 276.0 L98.5 276.2 L99.0 276.4 L99.5 276.7 L100.0 276.9 L100.5 277.1 L101.0 277.4 L101.5 277.6 L102.0 277.9 L102.5 278.1 L103.0 278.3 L103.5 278.6 L104.0 278.8 L104.5 279.1 L105.0 279.3 L105.5 279.6 L106.0 279.8 L106.5 280.1 L107.0 280.4 L107.5 280.6 L108.0 280.9 L108.5 281.2 L109.0 281.5 L109.5 281.8 L110.0 282.1 L110.5 282.4 L111.0 282.6 L111.5 282.9 L112.0 283.2 L112.5 283.5 L113.0 283.9 L113.5 284.2 L114.0 284.5 L114.5 284.8 L115.0 285.1 L115.5 285.4 L116.0 285.7 L116.5 286.0 L117.0 286.3 L117.5 286.7 L118.0 287.0 L118.5 287.3 L119.0 287.6 L119.5 288.0 L120.0 288.3 L120.5 288.6 L121.0 289.0 L121.5 289.3 L122.0 289.6 L122.5 290.0 L123.0 290.3 L123.5 290.7 L124.0 291.1 L124.5 291.4 L125.0 291.8 L125.5 292.2 L126.0 292.5 L126.5 292.9 L127.0 293.3 L127.5 293.7 L128.0 294.1 L128.5 294.5 L129.0 295.0 L129.5 295.4 L130.0 295.9 L130.5 296.3 L131.0 296.8 L131.5 297.3 L132.0 297.8 L132.5 298.3 L133.0 298.8 L133.5 299.3 L134.0 299.8 L134.5 300.3 L135.0 300.8 L135.5 301.4 L136.0 301.9 L136.5 302.4 L137.0 303.0 L137.5 303.5 L138.0 304.0 L138.5 304.5 L139.0 305.1 L139.5 305.6 L140.0 306.1 L140.5 306.6 L141.0 307.1 L141.5 307.6 L142.0 308.1 L142.5 308.6 L143.0 309.1 L143.5 309.6 L144.0 310.1 L144.5 310.7 L145.0 311.2 L145.5 311.7 L146.0 312.2 L146.5 312.7 L147.0 313.2 L147.5 313.7 L148.0 314.2 L148.5 314.7 L149.0 315.2 L149.5 315.7 L150.0 316.2 L150.5 316.7 L151.0 317.2 L151.5 317.7 L152.0 318.2 L152.5 318.7 L153.0 319.1 L153.5 319.6 L154.0 320.1 L154.5 320.5 L155.0 321.0 L155.5 321.5 L156.0 321.9 L156.5 322.4 L157.0 322.8 L157.5 323.3 L158.0 323.7 L158.5 324.2 L159.0 324.6 L159.5 325.1 L160.0 325.5 L160.5 325.9 L161.0 326.4 L161.5 326.8 L162.0 327.2 L162.5 327.6 L163.0 328.1 L163.5 328.5 L164.0 328.9 L164.5 329.3 L165.0 329.6 L165.5 330.0 L166.0 330.4 L166.5 330.8 L167.0 331.1 L167.5 331.5 L168.0 331.9 L168.5 332.2 L169.0 332.6 L169.5 332.9 L170.0 333.3 L170.5 333.6 L171.0 334.0 L171.5 334.3 L172.0 334.7 L172.5 335.0 L173.0 335.3 L173.5 335.7 L174.0 336.0 L174.5 336.3 L175.0 336.6 L175.5 336.9 L176.0 337.2 L176.5 337.5 L177.0 337.7 L177.5 338.0 L178.0 338.3 L178.5 338.5 L179.0 338.8 L179.5 339.0 L180.0 339.2 L180.5 339.4 L181.0 339.7 L181.5 339.9 L182.0 340.1 L182.5 340.3 L183.0 340.5 L183.5 340.7 L184.0 340.9 L184.5 341.1 L185.0 341.3 L185.5 341.5 L186.0 341.6 L186.5 341.8 L187.0 342.0 L187.5 342.2 L188.0 342.3 L188.5 342.5 L189.0 342.6 L189.5 342.8 L190.0 342.9 L190.5 343.1 L191.0 343.2 L191.5 343.3 L192.0 343.4 L192.5 343.6 L193.0 343.7 L193.5 343.8 L194.0 343.9 L194.5 344.0 L195.0 344.1 L195.5 344.3 L196.0 344.4 L196.5 344.5 L197.0 344.6 L197.5 344.7 L198.0 344.8 L198.5 344.9 L199.0 345.0 L199.5 345.0 L200.0 345.1 L200.5 345.2 L201.0 345.3 L201.5 345.4 L202.0 345.4 L202.5 345.5 L203.0 345.6 L203.5 345.6 L204.0 345.7 L204.5 345.7 L205.0 345.7 L205.5 345.8 L206.0 345.8 L206.5 345.9 L207.0 345.9 L207.5 345.9 L208.0 345.9 L208.5 346.0 L209.0 346.0 L209.5 346.0 L210.0 346.1 L210.5 346.1 L211.0 346.1 L211.5 346.1 L212.0 346.2 L212.5 346.2 L213.0 346.2 L213.5 346.2 L214.0 346.2 L214.5 346.3 L215.0 346.3 L215.5 346.3 L216.0 346.3 L216.5 346.4 L217.0 346.4 L217.5 346.4 L218.0 346.4 L218.5 346.5 L219.0 346.5 L219.5 346.5 L220.0 346.5 L220.5 346.6 L221.0 346.6 L221.5 346.6 L222.0 346.6 L222.5 346.7 L223.0 346.7 L223.5 346.7 L224.0 346.7 L224.5 346.8 L225.0 346.8 L225.5 346.8 L226.0 346.8 L226.5 346.9 L227.0 346.9 L227.5 346.9 L228.0 346.9 L228.5 346.9 L229.0 347.0 L229.5 347.0 L230.0 347.0 L230.5 347.0 L231.0 347.0 L231.5 347.1 L232.0 347.1 L232.5 347.1 L233.0 347.1 L233.5 347.1 L234.0 347.2 L234.5 347.2 L235.0 347.2 L235.5 347.2 L236.0 347.2 L236.5 347.3 L237.0 347.3 L237.5 347.3 L238.0 347.3 L238.5 347.4 L239.0 347.4 L239.5 347.4 L240.0 347.4 L240.5 347.4 L241.0 347.4 L241.5 347.5 L242.0 347.5 L242.5 347.5 L243.0 347.5 L243.5 347.5 L244.0 347.5 L244.5 347.5 L245.0 347.6 L245.5 347.6 L246.0 347.6 L246.5 347.6 L247.0 347.6 L247.5 347.6 L248.0 347.6 L248.5 347.6 L249.0 347.6 L249.5 347.6 L250.0 347.6 L250.5 347.6 L251.0 347.6 L251.5 347.6 L252.0 347.6 L252.5 347.6 L253.0 347.6 L253.5 347.6 L254.0 347.6 L254.5 347.6 L255.0 347.6 L255.5 347.6 L256.0 347.6 L256.5 347.6 L257.0 347.6 L257.5 347.6 L258.0 347.6 L258.5 347.6 L259.0 347.6 L259.5 347.6 L260.0 347.6 L260.5 347.6 L261.0 347.6 L261.5 347.6 L262.0 347.6 L262.5 347.6 L263.0 347.6 L263.5 347.6 L264.0 347.6 L264.5 347.6 L265.0 347.7 L265.5 347.7 L266.0 347.8 L266.5 347.9 L267.0 348.0 L267.5 348.1 L268.0 348.2 L268.5 348.4 L269.0 348.5 L269.5 348.7 L270.0 348.8 L270.5 349.0 L271.0 349.1 L271.5 349.3 L272.0 349.5 L272.5 349.7 L273.0 349.8 L273.5 350.0 L274.0 350.2 L274.5 350.4 L275.0 350.5 L275.5 350.7 L276.0 350.8 L276.5 351.0 L277.0 351.1 L277.5 351.2 L278.0 351.4 L278.5 351.5 L279.0 351.6 L279.5 351.7 L280.0 351.8 L280.5 351.9 L281.0 352.0 L281.5 352.1 L282.0 352.2 L282.5 352.3 L283.0 352.4 L283.5 352.5 L284.0 352.6 L284.5 352.6 L285.0 352.7 L285.5 352.8 L286.0 352.9 L286.5 353.0 L287.0 353.1 L287.5 353.2 L288.0 353.3 L288.5 353.4 L289.0 353.4 L289.5 353.5 L290.0 353.6 L290.5 353.7 L291.0 353.8 L291.5 353.9 L292.0 353.9 L292.5 354.0 L293.0 354.1 L293.5 354.2 L294.0 354.3 L294.5 354.4 L295.0 354.4 L295.5 354.5 L296.0 354.6 L296.5 354.7 L297.0 354.8 L297.5 354.8 L298.0 354.9 L298.5 355.0 L299.0 355.1 L299.5 355.2 L300.0 355.2 L300.5 355.3 L301.0 355.4 L301.5 355.5 L302.0 355.5 L302.5 355.6 L303.0 355.7 L303.5 355.8 L304.0 355.9 L304.5 355.9 L305.0 356.0 L305.5 356.1 L306.0 356.2 L306.5 356.3 L307.0 356.4 L307.5 356.4 L308.0 356.5 L308.5 356.6 L309.0 356.7 L309.5 356.8 L310.0 356.9 L310.5 357.0 L311.0 357.1 L311.5 357.2 L312.0 357.3 L312.5 357.4 L313.0 357.5 L313.5 357.6 L314.0 357.7 L314.5 357.7 L315.0 357.8 L315.5 357.9 L316.0 358.0 L316.5 358.1 L317.0 358.2 L317.5 358.3 L318.0 358.3 L318.5 358.4 L319.0 358.5 L319.5 358.5 L320.0 358.6 L320.5 358.6 L321.0 358.7 L321.5 358.7 L322.0 358.7 L322.5 358.7 L323.0 358.8 L323.5 358.8 L324.0 358.8 L324.5 358.8 L325.0 358.8 L325.5 358.9 L326.0 358.9 L326.5 358.9 L327.0 358.9 L327.5 358.9 L328.0 358.9 L328.5 359.0 L329.0 359.0 L329.5 359.0 L330.0 359.0 L330.5 359.0 L331.0 359.0 L331.5 359.0 L332.0 359.0 L332.5 359.0 L333.0 359.1 L333.5 359.1 L334.0 359.1 L334.5 359.1 L335.0 359.1 L335.5 359.1 L336.0 359.1 L336.5 359.1 L337.0 359.1 L337.5 359.1 L338.0 359.1 L338.5 359.2 L339.0 359.2 L339.5 359.2 L340.0 359.2 L340.5 359.2 L341.0 359.2 L341.5 359.2 L342.0 359.2 L342.5 359.2 L343.0 359.2 L343.5 359.2 L344.0 359.3 L344.5 359.3 L345.0 359.3 L345.5 359.3 L346.0 359.3 L346.5 359.3 L347.0 359.3 L347.5 359.4 L348.0 359.4 L348.5 359.4 L349.0 359.4 L349.5 359.4 L350.0 359.5 L350.5 359.5 L351.0 359.5 L351.5 359.5 L352.0 359.6 L352.5 359.6 L353.0 359.6 L353.5 359.7 L354.0 359.7 L354.5 359.7 L355.0 359.8 L355.5 359.8 L356.0 359.9 L356.5 359.9 L357.0 360.0 L357.5 360.0 L358.0 360.1 L358.5 360.2 L359.0 360.2 L359.5 360.3 L360.0 360.3 L360.5 360.4 L361.0 360.5 L361.5 360.5 L362.0 360.6 L362.5 360.6 L363.0 360.7 L363.5 360.8 L364.0 360.8 L364.5 360.9 L365.0 360.9 L365.5 361.0 L366.0 361.1 L366.5 361.1 L367.0 361.2 L367.5 361.2 L368.0 361.3 L368.5 361.4 L369.0 361.4 L369.5 361.5 L370.0 361.5 L370.5 361.6 L371.0 361.7 L371.5 361.7 L372.0 361.8 L372.5 361.8 L373.0 361.9 L373.5 362.0 L374.0 362.0 L374.5 362.1 L375.0 362.2 L375.5 362.2 L376.0 362.3 L376.5 362.4 L377.0 362.4 L377.5 362.5 L378.0 362.5 L378.5 362.6 L379.0 362.7 L379.5 362.7 L380.0 362.8 L380.5 362.9 L381.0 362.9 L381.5 363.0 L382.0 363.0 L382.5 363.1 L383.0 363.2 L383.5 363.2 L384.0 363.3 L384.5 363.4 L385.0 363.4 L385.5 363.5 L386.0 363.5 L386.5 363.6 L387.0 363.7 L387.5 363.7 L388.0 363.8 L388.5 363.8 L389.0 363.9 L389.5 364.0 L390.0 364.0 L390.5 364.1 L391.0 364.2 L391.5 364.2 L392.0 364.3 L392.5 364.3 L393.0 364.4 L393.5 364.5 L394.0 364.5 L394.5 364.6 L395.0 364.7 L395.5 364.7 L396.0 364.8 L396.5 364.9 L397.0 364.9 L397.5 365.0 L398.0 365.1 L398.5 365.1 L399.0 365.2 L399.5 365.3 L400.0 365.4 L400.5 365.4 L401.0 365.5 L401.5 365.6 L402.0 365.7 L402.5 365.7 L403.0 365.8 L403.5 365.9 L404.0 366.0 L404.5 366.1 L405.0 366.1 L405.5 366.2 L406.0 366.3 L406.5 366.4 L407.0 366.5 L407.5 366.6 L408.0 366.7 L408.5 366.8 L409.0 366.9 L409.5 367.0 L410.0 367.0 L410.5 367.1 L411.0 367.2 L411.5 367.3 L412.0 367.4 L412.5 367.5 L413.0 367.6 L413.5 367.7 L414.0 367.8 L414.5 367.9 L415.0 368.0 L415.5 368.1 L416.0 368.2 L416.5 368.3 L417.0 368.4 L417.5 368.5 L418.0 368.6 L418.5 368.7 L419.0 368.8 L419.5 368.9 L420.0 369.0 L420.5 369.1 L421.0 369.2 L421.5 369.3 L422.0 369.4 L422.5 369.5 L423.0 369.6 L423.5 369.7 L424.0 369.8 L424.5 369.9 L425.0 370.0 L425.5 370.1 L426.0 370.1 L426.5 370.2 L427.0 370.3 L427.5 370.4 L428.0 370.5 L428.5 370.6 L429.0 370.7 L429.5 370.7 L430.0 370.8 L430.5 370.9 L431.0 371.0 L431.5 371.1 L432.0 371.1 L432.5 371.2 L433.0 371.3 L433.5 371.4 L434.0 371.4 L434.5 371.5 L435.0 371.6 L435.5 371.6 L436.0 371.7 L436.5 371.8 L437.0 371.9 L437.5 371.9 L438.0 372.0 L438.5 372.1 L439.0 372.1 L439.5 372.2 L440.0 372.3 L440.5 372.4 L441.0 372.4 L441.5 372.5 L442.0 372.6 L442.5 372.6 L443.0 372.7 L443.5 372.8 L444.0 372.8 L444.5 372.9 L445.0 373.0 L445.5 373.0 L446.0 373.1 L446.5 373.2 L447.0 373.2 L447.5 373.3 L448.0 373.3 L448.5 373.4 L449.0 373.5 L449.5 373.5 L450.0 373.6 L450.5 373.7 L451.0 373.7 L451.5 373.8 L452.0 373.8 L452.5 373.9 L453.0 374.0 L453.5 374.0 L454.0 374.1 L454.5 374.1 L455.0 374.2 L455.5 374.2 L456.0 374.3 L456.5 374.4 L457.0 374.4 L457.5 374.5 L458.0 374.5 L458.5 374.6 L459.0 374.6 L459.5 374.7 L460.0 374.7 L460.5 374.8 L461.0 374.8 L461.5 374.9 L462.0 374.9 L462.5 375.0 L463.0 375.0 L463.5 375.1 L464.0 375.1 L464.5 375.2 L465.0 375.2 L465.5 375.3 L466.0 375.3 L466.5 375.4 L467.0 375.4 L467.5 375.4 L468.0 375.5 L468.5 375.5 L469.0 375.6 L469.5 375.6 L470.0 375.7 L470.5 375.7 L471.0 375.8 L471.5 375.8 L472.0 375.8 L472.5 375.9 L473.0 375.9 L473.5 376.0 L474.0 376.0 L474.5 376.0 L475.0 376.1 L475.5 376.1 L476.0 376.2 L476.5 376.2 L477.0 376.2 L477.5 376.3 L478.0 376.3 L478.5 376.4 L479.0 376.4 L479.5 376.4 L480.0 376.5 L480.5 376.5 L481.0 376.5 L481.5 376.6 L482.0 376.6 L482.5 376.7 L483.0 376.7 L483.5 376.7 L484.0 376.8 L484.5 376.8 L485.0 376.8 L485.5 376.9 L486.0 376.9 L486.5 376.9 L487.0 377.0 L487.5 377.0 L488.0 377.0 L488.5 377.1 L489.0 377.1 L489.5 377.1 L490.0 377.2 L490.5 377.2 L491.0 377.2 L491.5 377.3 L492.0 377.3 L492.5 377.3 L493.0 377.4 L493.5 377.4 L494.0 377.4 L494.5 377.5 L495.0 377.5 L495.5 377.5 L496.0 377.6 L496.5 377.6 L497.0 377.6 L497.5 377.7 L498.0 377.7 L498.5 377.7 L499.0 377.8 L499.5 377.8 L500.0 377.8 L500.5 377.9 L501.0 377.9 L501.5 378.0 L502.0 378.0 L502.5 378.0 L503.0 378.1 L503.5 378.1 L504.0 378.1 L504.5 378.1 L505.0 378.2 L505.5 378.2 L506.0 378.2 L506.5 378.3 L507.0 378.3 L507.5 378.3 L508.0 378.3 L508.5 378.3 L509.0 378.3 L509.5 378.4 L510.0 378.4 L510.5 378.4 L511.0 378.4 L511.5 378.4 L512.0 378.4 L512.5 378.4 L513.0 378.4 L513.5 378.4 L514.0 378.4 L514.5 378.4 L515.0 378.4 L515.5 378.4 L516.0 378.4 L516.5 378.4 L517.0 378.4 L517.5 378.4 L518.0 378.4 L518.5 378.4 L519.0 378.4 L519.5 378.4 L520.0 378.4 L520.5 378.3 L521.0 378.3 L521.5 378.3 L522.0 378.3 L522.5 378.3 L523.0 378.3 L523.5 378.3 L524.0 378.3 L524.5 378.3 L525.0 378.2 L525.5 378.2 L526.0 378.2 L526.5 378.2 L527.0 378.2 L527.5 378.2 L528.0 378.1 L528.5 378.1 L529.0 378.1 L529.5 378.1 L530.0 378.0 L530.5 378.0 L531.0 378.0 L531.5 378.0 L532.0 377.9 L532.4 377.9" stroke="#ff8000" stroke-width="3.0" fill="none" stroke-linejoin="round" stroke-linecap="butt" />
<path d="M38.8 353.8 L39.3 352.3 L39.9 351.2 L40.5 350.0 L41.1 348.4 L41.6 346.8 L42.2 345.4 L42.8 343.5 L43.3 341.6 L43.9 339.5 L44.4 337.6 L45.0 335.0 L45.5 332.7 L46.0 330.3 L46.5 327.7 L47.0 324.6 L47.5 322.8 L48.0 320.3 L48.4 317.9 L48.9 315.6 L49.3 313.2 L49.8 310.4 L50.2 308.0 L50.6 305.4 L51.1 303.1 L51.5 300.8 L51.9 298.7 L52.3 296.6 L52.8 294.3 L53.2 291.9 L53.6 289.7 L54.0 287.9 L54.5 285.8 L54.9 284.1 L55.4 283.0 L55.8 282.1 L56.3 281.4 L56.7 280.9 L57.2 280.3 L57.7 280.2 L58.1 279.7 L58.6 279.6 L59.1 279.2 L59.6 279.1 L60.1 278.7 L60.6 278.6 L61.0 278.4 L61.5 278.7 L62.0 279.4 L62.5 279.8 L63.0 281.1 L63.5 281.5 L64.0 282.2 L64.5 282.1 L65.0 282.8 L65.5 282.9 L66.0 283.4 L66.5 283.7 L67.0 284.0 L67.5 284.2 L68.0 284.5 L68.5 284.6 L69.0 284.8 L69.5 285.3 L70.0 285.3 L70.5 285.1 L71.0 284.9 L71.5 285.1 L72.0 285.0 L72.5 285.0 L73.0 285.0 L73.5 285.1 L74.0 284.7 L74.5 284.2 L75.0 283.7 L75.5 283.5 L76.0 283.0 L76.5 282.5 L77.0 281.9 L77.5 281.5 L78.0 280.9 L78.5 280.8 L79.0 280.5 L79.5 280.4 L80.0 280.1 L80.5 279.6 L81.0 279.3 L81.5 279.0 L82.0 279.2 L82.5 278.9 L83.0 278.7 L83.5 278.4 L84.0 278.1 L84.5 277.3 L85.0 277.0 L85.5 276.8 L86.0 276.4 L86.5 276.2 L87.0 276.4 L87.5 276.5 L88.0 276.2 L88.5 275.8 L89.0 275.7 L89.5 275.4 L90.0 275.4 L90.5 275.6 L91.0 275.7 L91.5 275.7 L92.0 275.5 L92.5 275.3 L93.0 275.4 L93.5 275.5 L94.0 275.8 L94.5 276.1 L95.0 276.4 L95.5 276.5 L96.0 276.8 L96.5 276.6 L97.0 276.6 L97.5 276.5 L98.0 276.3 L98.5 276.3 L99.0 276.6 L99.5 276.7 L100.0 277.1 L100.5 277.2 L101.0 277.3 L101.5 277.2 L102.0 277.3 L102.5 277.2 L103.0 277.3 L103.5 277.6 L104.0 277.8 L104.5 278.1 L105.0 278.2 L105.5 278.1 L106.0 278.0 L106.5 278.0 L107.0 278.2 L107.5 278.4 L108.0 279.0 L108.5 279.2 L109.0 279.8 L109.5 280.3 L110.0 280.9 L110.5 281.2 L111.0 281.8 L111.5 282.1 L112.0 282.7 L112.5 283.6 L113.0 283.9 L113.5 284.2 L114.0 284.7 L114.5 284.6 L115.0 284.7 L115.5 285.1 L116.0 285.5 L116.5 286.0 L117.0 286.9 L117.5 287.0 L118.0 287.5 L118.5 288.0 L119.0 288.1 L119.5 288.1 L120.0 288.4 L120.5 288.8 L121.0 289.2 L121.5 289.4 L122.0 289.8 L122.5 290.2 L123.0 290.4 L123.5 290.8 L124.0 291.4 L124.5 291.6 L125.0 291.8 L125.5 292.0 L126.0 292.3 L126.5 292.3 L127.0 292.6 L127.5 293.1 L128.0 293.4 L128.5 294.0 L129.0 294.7 L129.5 295.2 L130.0 295.5 L130.5 296.4 L131.0 296.7 L131.5 297.1 L132.0 297.3 L132.5 297.9 L133.0 298.5 L133.5 299.3 L134.0 300.0 L134.5 300.5 L135.0 301.0 L135.5 301.5 L136.0 301.9 L136.5 302.3 L137.0 303.1 L137.5 303.9 L138.0 304.7 L138.5 305.4 L139.0 306.1 L139.5 306.5 L140.0 307.0 L140.5 307.8 L141.0 308.4 L141.5 309.2 L142.0 310.1 L142.5 310.5 L143.0 311.0 L143.5 311.3 L144.0 311.6 L144.5 312.0 L145.0 312.3 L145.5 312.5 L146.0 312.6 L146.5 313.1 L147.0 313.4 L147.5 313.9 L148.0 314.4 L148.5 315.2 L149.0 315.5 L149.5 315.8 L150.0 316.4 L150.5 317.1 L151.0 317.5 L151.5 317.8 L152.0 318.4 L152.5 318.8 L153.0 319.1 L153.5 319.7 L154.0 320.2 L154.5 320.9 L155.0 321.2 L155.5 321.9 L156.0 322.2 L156.5 322.9 L157.0 323.2 L157.5 323.6 L158.0 323.8 L158.5 324.2 L159.0 324.5 L159.5 325.2 L160.0 326.0 L160.5 326.5 L161.0 326.8 L161.5 327.3 L162.0 327.3 L162.5 327.7 L163.0 328.0 L163.5 328.6 L164.0 328.9 L164.5 329.0 L165.0 328.9 L165.5 329.0 L166.0 329.2 L166.5 329.5 L167.0 330.0 L167.5 330.3 L168.0 331.0 L168.5 331.1 L169.0 331.2 L169.5 331.4 L170.0 331.6 L170.5 331.8 L171.0 332.4 L171.5 333.3 L172.0 333.5 L172.5 334.0 L173.0 334.4 L173.5 334.6 L174.0 334.8 L174.5 335.4 L175.0 335.9 L175.5 336.3 L176.0 336.7 L176.5 337.1 L177.0 337.5 L177.5 337.7 L178.0 338.2 L178.5 338.5 L179.0 338.8 L179.5 339.2 L180.0 339.4 L180.5 339.5 L181.0 339.6 L181.5 339.7 L182.0 339.8 L182.5 340.0 L183.0 340.3 L183.5 340.7 L184.0 340.6 L184.5 341.2 L185.0 341.6 L185.5 341.7 L186.0 342.1 L186.5 342.5 L187.0 342.3 L187.5 342.8 L188.0 342.9 L188.5 342.9 L189.0 343.1 L189.5 343.2 L190.0 343.1 L190.5 343.4 L191.0 343.8 L191.5 343.8 L192.0 343.9 L192.5 344.2 L193.0 344.2 L193.5 343.9 L194.0 344.1 L194.5 344.3 L195.0 344.4 L195.5 344.6 L196.0 345.0 L196.5 345.1 L197.0 345.2 L197.5 345.2 L198.0 345.2 L198.5 345.1 L199.0 345.1 L199.5 345.2 L200.0 345.4 L200.5 345.7 L201.0 345.9 L201.5 346.0 L202.0 346.0 L202.5 346.2 L203.0 346.2 L203.5 346.1 L204.0 346.2 L204.5 346.1 L205.0 346.1 L205.5 345.8 L206.0 345.8 L206.5 345.7 L207.0 345.8 L207.5 345.8 L208.0 346.2 L208.5 346.2 L209.0 346.5 L209.5 346.3 L210.0 346.3 L210.5 346.2 L211.0 346.3 L211.5 346.2 L212.0 346.5 L212.5 346.2 L213.0 346.3 L213.5 346.2 L214.0 346.4 L214.5 346.0 L215.0 346.2 L215.5 345.9 L216.0 346.5 L216.5 346.2 L217.0 346.5 L217.5 346.6 L218.0 346.6 L218.5 346.3 L219.0 346.6 L219.5 346.7 L220.0 347.0 L220.5 347.3 L221.0 347.4 L221.5 347.2 L222.0 347.4 L222.5 347.7 L223.0 347.8 L223.5 347.7 L224.0 347.7 L224.5 347.5 L225.0 347.4 L225.5 347.3 L226.0 347.1 L226.5 347.2 L227.0 347.2 L227.5 347.3 L228.0 347.0 L228.5 347.2 L229.0 347.4 L229.5 347.4 L230.0 347.0 L230.5 347.4 L231.0 347.5 L231.5 347.2 L232.0 347.2 L232.5 347.4 L233.0 347.6 L233.5 347.3 L234.0 347.1 L234.5 347.4 L235.0 347.3 L235.5 347.2 L236.0 347.2 L236.5 347.5 L237.0 347.2 L237.5 347.4 L238.0 347.5 L238.5 347.3 L239.0 347.2 L239.5 347.6 L240.0 347.5 L240.5 347.0 L241.0 347.3 L241.5 347.5 L242.0 347.2 L242.5 347.2 L243.0 347.4 L243.5 347.4 L244.0 347.4 L244.5 347.2 L245.0 347.2 L245.5 347.4 L246.0 347.7 L246.5 347.8 L247.0 347.9 L247.5 347.9 L248.0 348.0 L248.5 348.0 L249.0 348.0 L249.5 348.3 L250.0 348.4 L250.5 348.4 L251.0 348.1 L251.5 348.1 L252.0 348.0 L252.5 347.9 L253.0 347.6 L253.5 347.4 L254.0 347.3 L254.5 347.3 L255.0 347.2 L255.5 347.3 L256.0 347.7 L256.5 347.7 L257.0 347.6 L257.5 347.6 L258.0 347.5 L258.5 347.3 L259.0 347.0 L259.5 346.9 L260.0 346.5 L260.5 346.6 L261.0 346.6 L261.5 346.9 L262.0 347.1 L262.5 347.3 L263.0 347.3 L263.5 347.3 L264.0 347.4 L264.5 347.6 L265.0 347.7 L265.5 347.7 L266.0 347.9 L266.5 348.0 L267.0 348.2 L267.5 348.8 L268.0 348.9 L268.5 349.0 L269.0 348.9 L269.5 349.1 L270.0 349.1 L270.5 349.0 L271.0 349.2 L271.5 349.7 L272.0 349.8 L272.5 349.9 L273.0 350.4 L273.5 350.4 L274.0 350.2 L274.5 350.5 L275.0 351.0 L275.5 351.2 L276.0 351.3 L276.5 351.6 L277.0 351.6 L277.5 351.5 L278.0 351.6 L278.5 351.4 L279.0 351.5 L279.5 351.9 L280.0 352.2 L280.5 352.1 L281.0 352.4 L281.5 352.2 L282.0 352.3 L282.5 352.2 L283.0 352.6 L283.5 352.7 L284.0 353.0 L284.5 352.9 L285.0 352.9 L285.5 352.8 L286.0 353.0 L286.5 353.3 L287.0 353.4 L287.5 353.3 L288.0 353.2 L288.5 353.3 L289.0 353.4 L289.5 353.4 L290.0 353.6 L290.5 353.9 L291.0 354.1 L291.5 354.1 L292.0 354.2 L292.5 354.1 L293.0 354.2 L293.5 354.3 L294.0 354.1 L294.5 353.9 L295.0 354.0 L295.5 354.4 L296.0 354.3 L296.5 354.7 L297.0 354.9 L297.5 355.1 L298.0 354.8 L298.5 354.8 L299.0 354.8 L299.5 355.0 L300.0 355.3 L300.5 355.6 L301.0 355.8 L301.5 355.7 L302.0 355.7 L302.5 355.9 L303.0 355.9 L303.5 356.0 L304.0 356.2 L304.5 356.0 L305.0 356.0 L305.5 355.9 L306.0 356.1 L306.5 356.0 L307.0 356.2 L307.5 356.6 L308.0 356.9 L308.5 356.6 L309.0 357.0 L309.5 357.4 L310.0 357.3 L310.5 357.4 L311.0 357.7 L311.5 357.7 L312.0 358.1 L312.5 358.2 L313.0 358.1 L313.5 358.1 L314.0 358.3 L314.5 358.0 L315.0 358.1 L315.5 358.3 L316.0 358.2 L316.5 358.3 L317.0 358.3 L317.5 358.1 L318.0 357.9 L318.5 358.2 L319.0 358.1 L319.5 358.2 L320.0 358.1 L320.5 358.3 L321.0 358.4 L321.5 358.3 L322.0 358.4 L322.5 358.5 L323.0 358.6 L323.5 358.3 L324.0 358.4 L324.5 358.2 L325.0 358.3 L325.5 358.5 L326.0 358.8 L326.5 359.0 L327.0 359.1 L327.5 359.5 L328.0 359.5 L328.5 359.7 L329.0 359.6 L329.5 359.5 L330.0 359.5 L330.5 359.4 L331.0 359.2 L331.5 359.4 L332.0 359.4 L332.5 359.4 L333.0 359.4 L333.5 359.5 L334.0 359.3 L334.5 359.6 L335.0 359.4 L335.5 359.6 L336.0 359.6 L336.5 359.8 L337.0 359.9 L337.5 360.1 L338.0 359.6 L338.5 359.5 L339.0 359.5 L339.5 359.5 L340.0 359.3 L340.5 359.3 L341.0 359.1 L341.5 359.3 L342.0 359.5 L342.5 359.4 L343.0 359.5 L343.5 360.0 L344.0 359.8 L344.5 359.9 L345.0 359.9 L345.5 359.9 L346.0 359.9 L346.5 360.3 L347.0 359.9 L347.5 360.1 L348.0 360.2 L348.5 360.2 L349.0 359.8 L349.5 359.8 L350.0 359.7 L350.5 359.9 L351.0 360.1 L351.5 360.4 L352.0 360.6 L352.5 360.5 L353.0 360.3 L353.5 359.9 L354.0 359.6 L354.5 359.4 L355.0 359.3 L355.5 359.4 L356.0 359.4 L356.5 359.9 L357.0 360.2 L357.5 360.4 L358.0 360.5 L358.5 360.3 L359.0 359.8 L359.5 359.6 L360.0 359.9 L360.5 359.9 L361.0 359.9 L361.5 360.1 L362.0 360.5 L362.5 360.5 L363.0 360.5 L363.5 360.6 L364.0 360.6 L364.5 360.6 L365.0 360.7 L365.5 360.6 L366.0 360.5 L366.5 360.9 L367.0 360.8 L367.5 360.8 L368.0 361.2 L368.5 361.6 L369.0 361.7 L369.5 362.0 L370.0 362.0 L370.5 361.9 L371.0 361.8 L371.5 361.7 L372.0 361.8 L372.5 362.0 L373.0 362.5 L373.5 362.8 L374.0 362.8 L374.5 362.8 L375.0 362.7 L375.5 362.5 L376.0 362.4 L376.5 362.6 L377.0 362.3 L377.5 362.5 L378.0 362.5 L378.5 363.0 L379.0 362.8 L379.5 363.1 L380.0 362.8 L380.5 363.0 L381.0 363.1 L381.5 363.3 L382.0 363.2 L382.5 363.5 L383.0 363.3 L383.5 363.2 L384.0 363.3 L384.5 363.2 L385.0 363.4 L385.5 363.7 L386.0 363.6 L386.5 363.7 L387.0 363.8 L387.5 364.1 L388.0 364.2 L388.5 364.5 L389.0 364.7 L389.5 364.6 L390.0 364.1 L390.5 364.4 L391.0 364.3 L391.5 364.3 L392.0 364.9 L392.5 365.1 L393.0 364.8 L393.5 364.6 L394.0 364.6 L394.5 364.4 L395.0 364.7 L395.5 365.0 L396.0 365.2 L396.5 365.4 L397.0 365.9 L397.5 366.0 L398.0 365.9 L398.5 366.1 L399.0 365.9 L399.5 365.7 L400.0 365.5 L400.5 365.8 L401.0 366.1 L401.5 366.3 L402.0 366.2 L402.5 366.6 L403.0 366.6 L403.5 366.2 L404.0 366.2 L404.5 366.2 L405.0 366.3 L405.5 366.4 L406.0 366.8 L406.5 366.8 L407.0 366.9 L407.5 366.9 L408.0 366.9 L408.5 366.8 L409.0 367.2 L409.5 367.1 L410.0 367.0 L410.5 367.2 L411.0 367.3 L411.5 367.4 L412.0 367.6 L412.5 368.0 L413.0 368.1 L413.5 368.2 L414.0 368.3 L414.5 368.2 L415.0 368.3 L415.5 368.3 L416.0 368.6 L416.5 368.7 L417.0 368.7 L417.5 368.8 L418.0 368.8 L418.5 368.7 L419.0 368.9 L419.5 369.3 L420.0 369.3 L420.5 369.2 L421.0 369.5 L421.5 369.5 L422.0 369.5 L422.5 369.8 L423.0 370.4 L423.5 370.4 L424.0 370.3 L424.5 370.5 L425.0 370.4 L425.5 370.2 L426.0 370.1 L426.5 370.3 L427.0 370.2 L427.5 370.2 L428.0 370.5 L428.5 371.0 L429.0 371.0 L429.5 371.4 L430.0 371.6 L430.5 371.5 L431.0 371.4 L431.5 372.0 L432.0 372.0 L432.5 372.2 L433.0 372.3 L433.5 372.4 L434.0 372.0 L434.5 372.1 L435.0 372.2 L435.5 372.6 L436.0 372.7 L436.5 373.1 L437.0 373.2 L437.5 373.0 L438.0 372.8 L438.5 372.7 L439.0 372.5 L439.5 372.8 L440.0 372.8 L440.5 372.8 L441.0 372.7 L441.5 372.7 L442.0 372.4 L442.5 372.8 L443.0 373.1 L443.5 373.3 L444.0 373.8 L444.5 374.2 L445.0 373.8 L445.5 374.1 L446.0 374.2 L446.5 374.0 L447.0 374.0 L447.5 373.9 L448.0 373.7 L448.5 373.7 L449.0 373.8 L449.5 373.8 L450.0 374.0 L450.5 374.3 L451.0 374.7 L451.5 374.8 L452.0 374.9 L452.5 375.0 L453.0 374.7 L453.5 374.7 L454.0 374.6 L454.5 374.4 L455.0 374.7 L455.5 374.8 L456.0 374.7 L456.5 374.9 L457.0 375.2 L457.5 375.1 L458.0 375.3 L458.5 375.4 L459.0 375.3 L459.5 374.9 L460.0 375.0 L460.5 375.2 L461.0 375.2 L461.5 375.6 L462.0 375.5 L462.5 375.5 L463.0 375.4 L463.5 375.7 L464.0 375.6 L464.5 375.5 L465.0 375.6 L465.5 375.4 L466.0 375.6 L466.5 375.5 L467.0 375.9 L467.5 375.8 L468.0 375.9 L468.5 375.4 L469.0 375.5 L469.5 375.5 L470.0 375.7 L470.5 375.7 L471.0 375.8 L471.5 375.9 L472.0 375.8 L472.5 375.5 L473.0 375.8 L473.5 375.7 L474.0 375.4 L474.5 375.7 L475.0 376.0 L475.5 376.0 L476.0 376.1 L476.5 376.4 L477.0 376.4 L477.5 376.6 L478.0 376.5 L478.5 376.6 L479.0 376.4 L479.5 376.3 L480.0 376.3 L480.5 376.4 L481.0 376.5 L481.5 376.4 L482.0 376.0 L482.5 376.6 L483.0 376.6 L483.5 376.8 L484.0 376.9 L484.5 377.3 L485.0 376.9 L485.5 377.0 L486.0 377.3 L486.5 377.4 L487.0 377.3 L487.5 377.7 L488.0 377.6 L488.5 377.3 L489.0 377.7 L489.5 377.8 L490.0 377.7 L490.5 377.8 L491.0 377.9 L491.5 377.8 L492.0 378.0 L492.5 378.1 L493.0 378.1 L493.5 377.7 L494.0 377.9 L494.5 377.9 L495.0 377.7 L495.5 377.5 L496.0 377.7 L496.5 377.7 L497.0 377.6 L497.5 377.6 L498.0 378.0 L498.5 378.4 L499.0 378.2 L499.5 378.4 L500.0 378.4 L500.5 378.6 L501.0 378.7 L501.5 378.6 L502.0 378.5 L502.5 378.5 L503.0 378.3 L503.5 378.0 L504.0 378.2 L504.5 378.5 L505.0 378.6 L505.5 378.6 L506.0 378.8 L506.5 378.7 L507.0 378.6 L507.5 378.8 L508.0 378.6 L508.5 378.4 L509.0 378.7 L509.5 378.7 L510.0 378.4 L510.5 378.4 L511.0 378.5 L511.5 378.5 L512.0 378.7 L512.5 378.8 L513.0 379.2 L513.5 379.0 L514.0 378.9 L514.5 378.6 L515.0 378.7 L515.5 378.7 L516.0 378.9 L516.5 378.8 L517.0 379.1 L517.5 378.9 L518.0 378.8 L518.5 378.7 L519.0 378.7 L519.5 378.5 L520.0 378.6 L520.5 378.8 L521.0 379.0 L521.5 379.1 L522.0 379.2 L522.5 378.9 L523.0 378.9 L523.5 378.7 L524.0 378.6 L524.5 378.7 L525.0 378.9 L525.5 378.6 L526.0 378.5 L526.5 378.6 L527.0 378.5 L527.5 378.5 L528.0 378.9 L528.5 379.1 L529.0 379.3 L529.5 379.1 L530.0 378.9 L530.5 378.5 L531.0 378.3 L531.5 378.1 L532.0 378.1 L532.4 378.3" stroke="#000" stroke-width="1.0" fill="none" stroke-linejoin="round" stroke-linecap="butt" />
</g>
<g id="dots">
<rect x="59.00" y="46.60" width="3.0" height="4.4" fill="#000"/>
<rect x="59.04" y="61.67" width="3.0" height="4.4" fill="#000"/>
<rect x="59.09" y="76.74" width="3.0" height="4.4" fill="#000"/>
<rect x="59.13" y="91.81" width="3.0" height="4.4" fill="#000"/>
<rect x="59.17" y="106.88" width="3.0" height="4.4" fill="#000"/>
<rect x="59.22" y="121.95" width="3.0" height="4.4" fill="#000"/>
<rect x="59.26" y="137.02" width="3.0" height="4.4" fill="#000"/>
<rect x="59.30" y="152.09" width="3.0" height="4.4" fill="#000"/>
<rect x="59.35" y="167.16" width="3.0" height="4.4" fill="#000"/>
<rect x="59.39" y="182.23" width="3.0" height="4.4" fill="#000"/>
<rect x="59.43" y="197.30" width="3.0" height="4.4" fill="#000"/>
<rect x="59.48" y="212.37" width="3.0" height="4.4" fill="#000"/>
<rect x="59.52" y="227.44" width="3.0" height="4.4" fill="#000"/>
<rect x="59.57" y="242.51" width="3.0" height="4.4" fill="#000"/>
<rect x="59.61" y="257.58" width="3.0" height="4.4" fill="#000"/>
<rect x="59.65" y="272.65" width="3.0" height="4.4" fill="#000"/>
<rect x="59.70" y="287.72" width="3.0" height="4.4" fill="#000"/>
<rect x="59.74" y="302.79" width="3.0" height="4.4" fill="#000"/>
<rect x="59.78" y="317.86" width="3.0" height="4.4" fill="#000"/>
<rect x="59.83" y="332.93" width="3.0" height="4.4" fill="#000"/>
<rect x="59.87" y="348.00" width="3.0" height="4.4" fill="#000"/>
<rect x="59.91" y="363.07" width="3.0" height="4.4" fill="#000"/>
<rect x="59.96" y="378.14" width="3.0" height="4.4" fill="#000"/>
<rect x="60.00" y="393.21" width="3.0" height="4.4" fill="#000"/>
<rect x="111.70" y="46.80" width="3.0" height="4.4" fill="#000"/>
<rect x="111.99" y="61.95" width="3.0" height="4.4" fill="#000"/>
<rect x="112.28" y="77.10" width="3.0" height="4.4" fill="#000"/>
<rect x="112.57" y="92.25" width="3.0" height="4.4" fill="#000"/>
<rect x="112.86" y="107.40" width="3.0" height="4.4" fill="#000"/>
<rect x="113.16" y="122.55" width="3.0" height="4.4" fill="#000"/>
<rect x="113.45" y="137.70" width="3.0" height="4.4" fill="#000"/>
<rect x="113.74" y="152.85" width="3.0" height="4.4" fill="#000"/>
<rect x="114.03" y="168.00" width="3.0" height="4.4" fill="#000"/>
<rect x="114.32" y="183.15" width="3.0" height="4.4" fill="#000"/>
<rect x="114.61" y="198.30" width="3.0" height="4.4" fill="#000"/>
<rect x="114.90" y="213.45" width="3.0" height="4.4" fill="#000"/>
<rect x="115.19" y="228.60" width="3.0" height="4.4" fill="#000"/>
<rect x="115.49" y="243.75" width="3.0" height="4.4" fill="#000"/>
<rect x="115.78" y="258.90" width="3.0" height="4.4" fill="#000"/>
<rect x="116.07" y="274.05" width="3.0" height="4.4" fill="#000"/>
<rect x="116.36" y="289.20" width="3.0" height="4.4" fill="#000"/>
<rect x="116.65" y="304.35" width="3.0" height="4.4" fill="#000"/>
<rect x="116.94" y="319.50" width="3.0" height="4.4" fill="#000"/>
<rect x="117.23" y="334.65" width="3.0" height="4.4" fill="#000"/>
<rect x="117.52" y="349.80" width="3.0" height="4.4" fill="#000"/>
<rect x="117.81" y="364.95" width="3.0" height="4.4" fill="#000"/>
<rect x="118.11" y="380.10" width="3.0" height="4.4" fill="#000"/>
<rect x="380.91" y="109.60" width="3.0" height="4.4" fill="#000"/>
<rect x="380.84" y="124.67" width="3.0" height="4.4" fill="#000"/>
<rect x="380.77" y="139.74" width="3.0" height="4.4" fill="#000"/>
<rect x="380.70" y="154.81" width="3.0" height="4.4" fill="#000"/>
<rect x="380.64" y="169.88" width="3.0" height="4.4" fill="#000"/>
<rect x="380.57" y="184.95" width="3.0" height="4.4" fill="#000"/>
<rect x="380.50" y="200.02" width="3.0" height="4.4" fill="#000"/>
<rect x="380.44" y="215.09" width="3.0" height="4.4" fill="#000"/>
<rect x="380.37" y="230.16" width="3.0" height="4.4" fill="#000"/>
<rect x="380.30" y="245.23" width="3.0" height="4.4" fill="#000"/>
<rect x="380.24" y="260.30" width="3.0" height="4.4" fill="#000"/>
<rect x="380.17" y="275.37" width="3.0" height="4.4" fill="#000"/>
<rect x="380.10" y="290.44" width="3.0" height="4.4" fill="#000"/>
<rect x="380.03" y="305.51" width="3.0" height="4.4" fill="#000"/>
<rect x="379.97" y="320.58" width="3.0" height="4.4" fill="#000"/>
<rect x="379.90" y="335.65" width="3.0" height="4.4" fill="#000"/>
<rect x="379.83" y="350.72" width="3.0" height="4.4" fill="#000"/>
<rect x="379.77" y="365.79" width="3.0" height="4.4" fill="#000"/>
<rect x="379.70" y="380.86" width="3.0" height="4.4" fill="#000"/>
</g>
<g id="frame">
<rect x="27.75" y="5.75" width="505.6" height="386.65" fill="none" stroke="#000" stroke-width="2.9" stroke-linejoin="round"/>
<line x1="37.90" y1="385.6" x2="37.90" y2="392.4" stroke="#000" stroke-width="2.5"/>
<text x="38.50" y="416.1" text-anchor="middle" class="b" font-size="19.2">100</text>
<line x1="108.63" y1="385.6" x2="108.63" y2="392.4" stroke="#000" stroke-width="2.5"/>
<text x="109.23" y="416.1" text-anchor="middle" class="b" font-size="19.2">200</text>
<line x1="179.36" y1="385.6" x2="179.36" y2="392.4" stroke="#000" stroke-width="2.5"/>
<text x="179.96" y="416.1" text-anchor="middle" class="b" font-size="19.2">300</text>
<line x1="250.09" y1="385.6" x2="250.09" y2="392.4" stroke="#000" stroke-width="2.5"/>
<text x="250.69" y="416.1" text-anchor="middle" class="b" font-size="19.2">400</text>
<line x1="320.82" y1="385.6" x2="320.82" y2="392.4" stroke="#000" stroke-width="2.5"/>
<text x="321.42" y="416.1" text-anchor="middle" class="b" font-size="19.2">500</text>
<line x1="391.55" y1="385.6" x2="391.55" y2="392.4" stroke="#000" stroke-width="2.5"/>
<text x="392.15" y="416.1" text-anchor="middle" class="b" font-size="19.2">600</text>
<line x1="462.28" y1="385.6" x2="462.28" y2="392.4" stroke="#000" stroke-width="2.5"/>
<text x="462.88" y="416.1" text-anchor="middle" class="b" font-size="19.2">700</text>
<line x1="533.01" y1="385.6" x2="533.01" y2="392.4" stroke="#000" stroke-width="2.5"/>
<text x="533.61" y="416.1" text-anchor="middle" class="b" font-size="19.2">800</text>
</g>
<g id="labels">
<text x="34.10" y="26.8" class="b" font-size="19.0">126.9</text><text x="81.55" y="20.30" class="b" font-size="13.5">o</text><text x="88.25" y="26.8" class="b" font-size="19.0">C</text>
<text x="116.90" y="26.8" class="b" font-size="19.0">218.0</text><text x="164.35" y="20.30" class="b" font-size="13.5">o</text><text x="171.05" y="26.8" class="b" font-size="19.0">C</text>
<text x="301.80" y="110.8" class="b" font-size="19.5">588.0</text><text x="350.38" y="104.30" class="b" font-size="13.5">o</text><text x="357.08" y="110.8" class="b" font-size="19.0">C</text>
<text x="431.90" y="118.4" class="b" font-size="19.9">500</text><text x="466.45" y="111.90" class="b" font-size="13.5">o</text><text x="473.15" y="118.4" class="b" font-size="19.0">C</text>
<text x="431.90" y="238.9" class="b" font-size="19.9">600</text><text x="466.45" y="232.40" class="b" font-size="13.5">o</text><text x="473.15" y="238.9" class="b" font-size="19.0">C</text>
<text x="434.60" y="368.9" class="b" font-size="19.9">700</text><text x="469.15" y="362.40" class="b" font-size="13.5">o</text><text x="475.85" y="368.9" class="b" font-size="19.0">C</text>
<text transform="translate(55.1 44.4) scale(1.24 1)" class="g" font-size="19.5">α</text>
<text x="108.2" y="43.0" class="g" font-size="19">β</text>
<text x="379.4" y="99.4" class="g" font-size="19">γ</text>
<text transform="translate(17.2 267.3) rotate(-90)" class="b" font-size="19" textLength="70.2" lengthAdjust="spacingAndGlyphs">Intensity</text>
<text transform="translate(17.2 191.6) rotate(-90)" class="b" font-size="19" textLength="42.4" lengthAdjust="spacingAndGlyphs">(a.u.)</text>
<text x="206.8" y="449.9" class="b" font-size="18.8" textLength="107.6" lengthAdjust="spacing">Temperature</text>
<text x="319.8" y="449.9" class="b" font-size="19.2">(</text>
<text x="327.0" y="442.9" class="b" font-size="13.5">o</text>
<text x="333.2" y="449.9" class="b" font-size="19.2">C</text>
<text x="348.8" y="449.9" class="b" font-size="19.2">)</text>
</g>
</svg>
</body>
</html>
